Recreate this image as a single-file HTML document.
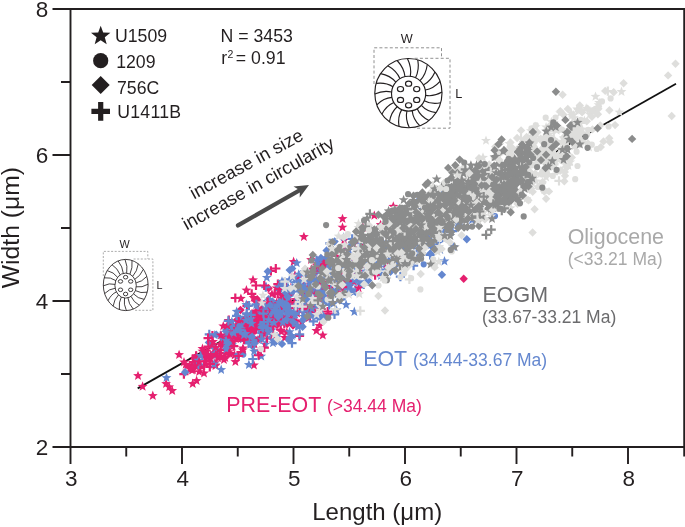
<!DOCTYPE html>
<html><head><meta charset="utf-8"><title>Width vs Length</title>
<style>
html,body{margin:0;padding:0;background:#fff;}
body{width:685px;height:527px;overflow:hidden;}
svg{display:block;}
text{font-family:"Liberation Sans",Arial,sans-serif;fill:#231f20;}
</style></head><body>
<svg width="685" height="527" viewBox="0 0 685 527">
<rect width="685" height="527" fill="#fff"/>
<!-- regression line -->
<line x1="137.7" y1="388.4" x2="676" y2="83.7" stroke="#111" stroke-width="1.8"/>
<!-- data -->
<path fill="#e5206f" d="M338.0 259.0L339.3 262.4L343.0 262.5L340.1 264.8L341.1 268.4L338.0 266.3L335.0 268.4L336.0 264.8L333.1 262.5L336.7 262.4ZM271.7 305.2L275.9 309.4L271.7 313.6L267.5 309.4ZM226.9 339.4L228.1 342.8L231.8 343.0L228.9 345.3L229.9 348.8L226.9 346.8L223.8 348.8L224.8 345.3L221.9 343.0L225.6 342.8ZM224.5 353.4L228.7 357.6L224.5 361.8L220.3 357.6ZM286.8 327.1L288.1 330.5L291.7 330.7L288.9 333.0L289.8 336.5L286.8 334.5L283.7 336.5L284.7 333.0L281.8 330.7L285.5 330.5ZM265.9 306.7a3.1 3.1 0 1 1 6.2 0a3.1 3.1 0 1 1 -6.2 0ZM227.7 315.4h2.2v3.5h3.5v2.2h-3.5v3.5h-2.2v-3.5h-3.5v-2.2h3.5ZM279.5 308.6L283.7 312.8L279.5 317.0L275.3 312.8ZM295.9 315.9L297.1 319.3L300.8 319.5L297.9 321.7L298.9 325.3L295.9 323.2L292.8 325.3L293.8 321.7L290.9 319.5L294.6 319.3ZM249.5 323.9L250.8 327.4L254.4 327.5L251.6 329.8L252.5 333.3L249.5 331.3L246.4 333.3L247.4 329.8L244.5 327.5L248.2 327.4ZM250.5 317.5L251.8 321.0L255.4 321.1L252.6 323.4L253.5 326.9L250.5 324.9L247.4 326.9L248.4 323.4L245.5 321.1L249.2 321.0ZM335.4 251.4h2.2v3.5h3.5v2.2h-3.5v3.5h-2.2v-3.5h-3.5v-2.2h3.5ZM204.0 368.1L205.3 371.5L209.0 371.6L206.1 373.9L207.1 377.5L204.0 375.4L201.0 377.5L202.0 373.9L199.1 371.6L202.7 371.5ZM239.9 347.4h2.2v3.5h3.5v2.2h-3.5v3.5h-2.2v-3.5h-3.5v-2.2h3.5ZM326.6 306.9h2.2v3.5h3.5v2.2h-3.5v3.5h-2.2v-3.5h-3.5v-2.2h3.5ZM242.9 327.0L244.2 330.4L247.9 330.6L245.0 332.9L246.0 336.4L242.9 334.4L239.8 336.4L240.8 332.9L238.0 330.6L241.6 330.4ZM232.6 336.4L233.9 339.9L237.5 340.0L234.6 342.3L235.6 345.9L232.6 343.8L229.5 345.9L230.5 342.3L227.6 340.0L231.3 339.9ZM232.6 341.3L233.9 344.8L237.6 344.9L234.7 347.2L235.7 350.8L232.6 348.7L229.6 350.8L230.5 347.2L227.7 344.9L231.3 344.8ZM218.4 351.5L219.6 354.9L223.3 355.1L220.4 357.3L221.4 360.9L218.4 358.8L215.3 360.9L216.3 357.3L213.4 355.1L217.1 354.9ZM251.2 331.6a3.1 3.1 0 1 1 6.2 0a3.1 3.1 0 1 1 -6.2 0ZM324.9 276.0L326.2 279.4L329.9 279.6L327.0 281.9L328.0 285.4L324.9 283.4L321.9 285.4L322.9 281.9L320.0 279.6L323.6 279.4ZM325.6 264.4L326.9 267.9L330.6 268.0L327.7 270.3L328.7 273.8L325.6 271.8L322.6 273.8L323.5 270.3L320.7 268.0L324.3 267.9ZM235.1 323.2L236.4 326.6L240.1 326.8L237.2 329.1L238.2 332.6L235.1 330.6L232.1 332.6L233.0 329.1L230.2 326.8L233.8 326.6ZM261.5 309.5L262.8 313.0L266.5 313.1L263.6 315.4L264.6 318.9L261.5 316.9L258.5 318.9L259.5 315.4L256.6 313.1L260.3 313.0ZM432.9 221.1L437.1 225.3L432.9 229.5L428.7 225.3ZM254.5 320.6L255.8 324.1L259.5 324.2L256.6 326.5L257.6 330.0L254.5 328.0L251.5 330.0L252.4 326.5L249.6 324.2L253.2 324.1ZM274.7 263.9h2.2v3.5h3.5v2.2h-3.5v3.5h-2.2v-3.5h-3.5v-2.2h3.5ZM279.1 296.6L280.4 300.0L284.1 300.2L281.2 302.4L282.2 306.0L279.1 303.9L276.1 306.0L277.1 302.4L274.2 300.2L277.9 300.0ZM278.7 285.5L279.9 288.9L283.6 289.1L280.7 291.4L281.7 294.9L278.7 292.9L275.6 294.9L276.6 291.4L273.7 289.1L277.4 288.9ZM282.6 299.7h2.2v3.5h3.5v2.2h-3.5v3.5h-2.2v-3.5h-3.5v-2.2h3.5ZM294.4 300.5h2.2v3.5h3.5v2.2h-3.5v3.5h-2.2v-3.5h-3.5v-2.2h3.5ZM219.7 345.2h2.2v3.5h3.5v2.2h-3.5v3.5h-2.2v-3.5h-3.5v-2.2h3.5ZM250.6 337.1h2.2v3.5h3.5v2.2h-3.5v3.5h-2.2v-3.5h-3.5v-2.2h3.5ZM293.6 256.6L294.9 260.0L298.5 260.2L295.7 262.5L296.6 266.0L293.6 264.0L290.5 266.0L291.5 262.5L288.6 260.2L292.3 260.0ZM233.0 334.3L234.3 337.7L238.0 337.9L235.1 340.1L236.1 343.7L233.0 341.6L230.0 343.7L230.9 340.1L228.1 337.9L231.7 337.7ZM194.5 354.1h2.2v3.5h3.5v2.2h-3.5v3.5h-2.2v-3.5h-3.5v-2.2h3.5ZM316.0 296.1L320.2 300.3L316.0 304.5L311.8 300.3ZM356.7 255.6a3.1 3.1 0 1 1 6.2 0a3.1 3.1 0 1 1 -6.2 0ZM300.8 280.2L302.1 283.6L305.8 283.8L302.9 286.0L303.9 289.6L300.8 287.6L297.8 289.6L298.7 286.0L295.9 283.8L299.5 283.6ZM305.4 297.4L306.7 300.9L310.3 301.0L307.5 303.3L308.4 306.8L305.4 304.8L302.3 306.8L303.3 303.3L300.4 301.0L304.1 300.9ZM303.3 295.4h2.2v3.5h3.5v2.2h-3.5v3.5h-2.2v-3.5h-3.5v-2.2h3.5ZM254.0 335.5L255.3 338.9L259.0 339.1L256.1 341.4L257.1 344.9L254.0 342.9L251.0 344.9L252.0 341.4L249.1 339.1L252.8 338.9ZM259.3 322.2L263.5 326.4L259.3 330.6L255.1 326.4ZM242.9 322.7h2.2v3.5h3.5v2.2h-3.5v3.5h-2.2v-3.5h-3.5v-2.2h3.5ZM278.2 304.2L279.5 307.6L283.2 307.8L280.3 310.0L281.3 313.6L278.2 311.6L275.2 313.6L276.1 310.0L273.3 307.8L276.9 307.6ZM358.6 269.1L359.9 272.6L363.6 272.7L360.7 275.0L361.7 278.5L358.6 276.5L355.6 278.5L356.6 275.0L353.7 272.7L357.4 272.6ZM290.7 282.7L292.0 286.2L295.6 286.3L292.7 288.6L293.7 292.1L290.7 290.1L287.6 292.1L288.6 288.6L285.7 286.3L289.4 286.2ZM353.9 276.3L355.2 279.7L358.8 279.9L356.0 282.2L357.0 285.7L353.9 283.7L350.8 285.7L351.8 282.2L349.0 279.9L352.6 279.7ZM268.6 284.0L272.8 288.2L268.6 292.4L264.4 288.2ZM194.3 353.6L195.6 357.0L199.2 357.2L196.4 359.5L197.3 363.0L194.3 361.0L191.2 363.0L192.2 359.5L189.3 357.2L193.0 357.0ZM270.1 307.7h2.2v3.5h3.5v2.2h-3.5v3.5h-2.2v-3.5h-3.5v-2.2h3.5ZM326.8 261.0h2.2v3.5h3.5v2.2h-3.5v3.5h-2.2v-3.5h-3.5v-2.2h3.5ZM237.2 316.0h2.2v3.5h3.5v2.2h-3.5v3.5h-2.2v-3.5h-3.5v-2.2h3.5ZM348.9 267.6L350.1 271.1L353.8 271.2L350.9 273.5L351.9 277.0L348.9 275.0L345.8 277.0L346.8 273.5L343.9 271.2L347.6 271.1ZM250.3 322.1h2.2v3.5h3.5v2.2h-3.5v3.5h-2.2v-3.5h-3.5v-2.2h3.5ZM350.4 270.0L351.6 273.4L355.3 273.6L352.4 275.9L353.4 279.4L350.4 277.4L347.3 279.4L348.3 275.9L345.4 273.6L349.1 273.4ZM317.0 260.6L318.2 264.1L321.9 264.2L319.0 266.5L320.0 270.0L317.0 268.0L313.9 270.0L314.9 266.5L312.0 264.2L315.7 264.1ZM262.6 308.3L263.9 311.7L267.5 311.9L264.7 314.2L265.6 317.7L262.6 315.7L259.5 317.7L260.5 314.2L257.6 311.9L261.3 311.7ZM229.9 333.5h2.2v3.5h3.5v2.2h-3.5v3.5h-2.2v-3.5h-3.5v-2.2h3.5ZM332.1 281.0L333.4 284.4L337.1 284.6L334.2 286.9L335.2 290.4L332.1 288.4L329.1 290.4L330.0 286.9L327.2 284.6L330.8 284.4ZM288.4 304.1L289.7 307.5L293.4 307.7L290.5 310.0L291.5 313.5L288.4 311.5L285.4 313.5L286.3 310.0L283.5 307.7L287.1 307.5ZM195.5 359.6L199.7 363.8L195.5 368.0L191.3 363.8ZM269.1 303.7L270.4 307.1L274.1 307.3L271.2 309.6L272.2 313.1L269.1 311.1L266.1 313.1L267.1 309.6L264.2 307.3L267.9 307.1ZM283.2 318.7h2.2v3.5h3.5v2.2h-3.5v3.5h-2.2v-3.5h-3.5v-2.2h3.5ZM281.4 326.7L282.7 330.1L286.4 330.3L283.5 332.5L284.5 336.1L281.4 334.0L278.4 336.1L279.4 332.5L276.5 330.3L280.2 330.1ZM282.1 293.0L283.4 296.4L287.1 296.6L284.2 298.9L285.2 302.4L282.1 300.4L279.1 302.4L280.1 298.9L277.2 296.6L280.9 296.4ZM208.7 362.2h2.2v3.5h3.5v2.2h-3.5v3.5h-2.2v-3.5h-3.5v-2.2h3.5ZM301.7 292.4h2.2v3.5h3.5v2.2h-3.5v3.5h-2.2v-3.5h-3.5v-2.2h3.5ZM249.3 311.3L250.6 314.8L254.2 314.9L251.3 317.2L252.3 320.7L249.3 318.7L246.2 320.7L247.2 317.2L244.3 314.9L248.0 314.8ZM265.9 333.9h2.2v3.5h3.5v2.2h-3.5v3.5h-2.2v-3.5h-3.5v-2.2h3.5ZM291.1 317.7L295.3 321.9L291.1 326.1L286.9 321.9ZM277.1 320.7L281.3 324.9L277.1 329.1L272.9 324.9ZM250.1 327.9L251.4 331.3L255.1 331.5L252.2 333.8L253.2 337.3L250.1 335.3L247.1 337.3L248.1 333.8L245.2 331.5L248.9 331.3ZM253.0 274.8L254.3 278.2L258.0 278.4L255.1 280.7L256.1 284.2L253.0 282.2L250.0 284.2L250.9 280.7L248.1 278.4L251.7 278.2ZM321.0 260.6h2.2v3.5h3.5v2.2h-3.5v3.5h-2.2v-3.5h-3.5v-2.2h3.5ZM303.2 303.6L304.4 307.1L308.1 307.2L305.2 309.5L306.2 313.1L303.2 311.0L300.1 313.1L301.1 309.5L298.2 307.2L301.9 307.1ZM320.7 255.7h2.2v3.5h3.5v2.2h-3.5v3.5h-2.2v-3.5h-3.5v-2.2h3.5ZM248.5 327.1L249.7 330.5L253.4 330.7L250.5 333.0L251.5 336.5L248.5 334.5L245.4 336.5L246.4 333.0L243.5 330.7L247.2 330.5ZM231.5 323.4h2.2v3.5h3.5v2.2h-3.5v3.5h-2.2v-3.5h-3.5v-2.2h3.5ZM236.9 331.2L238.1 334.6L241.8 334.7L238.9 337.0L239.9 340.6L236.9 338.5L233.8 340.6L234.8 337.0L231.9 334.7L235.6 334.6ZM340.2 256.3L341.5 259.7L345.1 259.9L342.3 262.2L343.2 265.7L340.2 263.7L337.1 265.7L338.1 262.2L335.2 259.9L338.9 259.7ZM211.3 331.0h2.2v3.5h3.5v2.2h-3.5v3.5h-2.2v-3.5h-3.5v-2.2h3.5ZM285.0 281.6h2.2v3.5h3.5v2.2h-3.5v3.5h-2.2v-3.5h-3.5v-2.2h3.5ZM362.3 243.6L363.6 247.1L367.3 247.2L364.4 249.5L365.4 253.0L362.3 251.0L359.3 253.0L360.3 249.5L357.4 247.2L361.1 247.1ZM325.4 279.1L326.6 282.6L330.3 282.7L327.4 285.0L328.4 288.5L325.4 286.5L322.3 288.5L323.3 285.0L320.4 282.7L324.1 282.6ZM272.0 302.4L273.3 305.8L277.0 306.0L274.1 308.3L275.1 311.8L272.0 309.8L269.0 311.8L269.9 308.3L267.1 306.0L270.7 305.8ZM253.4 322.1L254.6 325.5L258.3 325.7L255.4 328.0L256.4 331.5L253.4 329.5L250.3 331.5L251.3 328.0L248.4 325.7L252.1 325.5ZM253.6 292.5L254.9 295.9L258.5 296.1L255.7 298.4L256.6 301.9L253.6 299.9L250.5 301.9L251.5 298.4L248.6 296.1L252.3 295.9ZM242.0 326.8L243.3 330.3L246.9 330.4L244.1 332.7L245.0 336.2L242.0 334.2L238.9 336.2L239.9 332.7L237.0 330.4L240.7 330.3ZM319.5 320.6L320.8 324.0L324.4 324.2L321.6 326.5L322.5 330.0L319.5 328.0L316.4 330.0L317.4 326.5L314.5 324.2L318.2 324.0ZM240.9 316.0h2.2v3.5h3.5v2.2h-3.5v3.5h-2.2v-3.5h-3.5v-2.2h3.5ZM202.5 343.5L203.8 346.9L207.4 347.1L204.6 349.4L205.5 352.9L202.5 350.9L199.4 352.9L200.4 349.4L197.5 347.1L201.2 346.9ZM206.8 346.1L208.1 349.5L211.8 349.7L208.9 351.9L209.9 355.5L206.8 353.5L203.8 355.5L204.8 351.9L201.9 349.7L205.5 349.5ZM279.1 298.4L280.3 301.8L284.0 302.0L281.1 304.3L282.1 307.8L279.1 305.8L276.0 307.8L277.0 304.3L274.1 302.0L277.8 301.8ZM240.2 329.6L241.5 333.0L245.2 333.2L242.3 335.4L243.3 339.0L240.2 336.9L237.2 339.0L238.1 335.4L235.3 333.2L238.9 333.0ZM374.3 210.4L375.6 213.8L379.3 214.0L376.4 216.3L377.4 219.8L374.3 217.8L371.3 219.8L372.2 216.3L369.4 214.0L373.0 213.8ZM313.5 288.1L317.7 292.3L313.5 296.5L309.3 292.3ZM282.2 311.1L283.5 314.5L287.2 314.7L284.3 317.0L285.3 320.5L282.2 318.5L279.2 320.5L280.1 317.0L277.3 314.7L280.9 314.5ZM286.6 292.0L290.8 296.2L286.6 300.4L282.4 296.2ZM405.8 232.2L407.1 235.6L410.8 235.8L407.9 238.1L408.9 241.6L405.8 239.6L402.8 241.6L403.8 238.1L400.9 235.8L404.6 235.6ZM284.7 332.5L286.0 335.9L289.7 336.1L286.8 338.3L287.8 341.9L284.7 339.9L281.7 341.9L282.6 338.3L279.8 336.1L283.4 335.9ZM217.1 350.7h2.2v3.5h3.5v2.2h-3.5v3.5h-2.2v-3.5h-3.5v-2.2h3.5ZM404.1 234.7L405.4 238.2L409.1 238.3L406.2 240.6L407.2 244.1L404.1 242.1L401.1 244.1L402.1 240.6L399.2 238.3L402.8 238.2ZM182.8 369.5h2.2v3.5h3.5v2.2h-3.5v3.5h-2.2v-3.5h-3.5v-2.2h3.5ZM225.0 334.6h2.2v3.5h3.5v2.2h-3.5v3.5h-2.2v-3.5h-3.5v-2.2h3.5ZM367.1 234.5h2.2v3.5h3.5v2.2h-3.5v3.5h-2.2v-3.5h-3.5v-2.2h3.5ZM191.9 365.1L193.2 368.6L196.9 368.7L194.0 371.0L195.0 374.5L191.9 372.5L188.9 374.5L189.9 371.0L187.0 368.7L190.7 368.6ZM323.8 286.5L328.0 290.7L323.8 294.9L319.6 290.7ZM323.5 295.6L327.7 299.8L323.5 304.0L319.3 299.8ZM210.6 353.3L211.9 356.8L215.5 356.9L212.6 359.2L213.6 362.7L210.6 360.7L207.5 362.7L208.5 359.2L205.6 356.9L209.3 356.8ZM267.2 315.1L268.5 318.6L272.1 318.7L269.3 321.0L270.3 324.6L267.2 322.5L264.1 324.6L265.1 321.0L262.3 318.7L265.9 318.6ZM273.6 306.8L274.9 310.2L278.6 310.4L275.7 312.7L276.7 316.2L273.6 314.2L270.6 316.2L271.5 312.7L268.7 310.4L272.3 310.2ZM344.0 235.2L345.3 238.7L349.0 238.8L346.1 241.1L347.1 244.6L344.0 242.6L341.0 244.6L342.0 241.1L339.1 238.8L342.8 238.7ZM284.7 292.3L286.0 295.8L289.6 295.9L286.8 298.2L287.7 301.8L284.7 299.7L281.6 301.8L282.6 298.2L279.7 295.9L283.4 295.8ZM271.9 289.0L273.2 292.4L276.9 292.5L274.0 294.8L275.0 298.4L271.9 296.3L268.9 298.4L269.9 294.8L267.0 292.5L270.7 292.4ZM276.6 289.4h2.2v3.5h3.5v2.2h-3.5v3.5h-2.2v-3.5h-3.5v-2.2h3.5ZM208.0 345.7a3.1 3.1 0 1 1 6.2 0a3.1 3.1 0 1 1 -6.2 0ZM214.3 347.7L215.6 351.2L219.3 351.3L216.4 353.6L217.4 357.1L214.3 355.1L211.3 357.1L212.3 353.6L209.4 351.3L213.1 351.2ZM316.4 325.5L317.7 329.0L321.3 329.1L318.5 331.4L319.4 334.9L316.4 332.9L313.3 334.9L314.3 331.4L311.4 329.1L315.1 329.0ZM212.6 349.3L213.8 352.7L217.5 352.9L214.6 355.2L215.6 358.7L212.6 356.7L209.5 358.7L210.5 355.2L207.6 352.9L211.3 352.7ZM362.8 222.3L364.1 225.7L367.8 225.9L364.9 228.2L365.9 231.7L362.8 229.7L359.8 231.7L360.7 228.2L357.9 225.9L361.5 225.7ZM260.4 308.7L261.6 312.1L265.3 312.2L262.4 314.5L263.4 318.1L260.4 316.0L257.3 318.1L258.3 314.5L255.4 312.2L259.1 312.1ZM385.7 260.9L389.9 265.1L385.7 269.3L381.5 265.1ZM188.0 363.1h2.2v3.5h3.5v2.2h-3.5v3.5h-2.2v-3.5h-3.5v-2.2h3.5ZM196.4 350.7L197.6 354.1L201.3 354.3L198.4 356.6L199.4 360.1L196.4 358.1L193.3 360.1L194.3 356.6L191.4 354.3L195.1 354.1ZM235.3 322.9h2.2v3.5h3.5v2.2h-3.5v3.5h-2.2v-3.5h-3.5v-2.2h3.5Z"/>
<path fill="#6487cf" d="M286.9 303.0a3.1 3.1 0 1 1 6.2 0a3.1 3.1 0 1 1 -6.2 0ZM271.5 333.5L275.7 337.7L271.5 341.9L267.3 337.7ZM252.7 342.2L256.9 346.4L252.7 350.6L248.5 346.4ZM298.3 293.5L302.5 297.7L298.3 301.9L294.1 297.7ZM285.4 290.7h2.2v3.5h3.5v2.2h-3.5v3.5h-2.2v-3.5h-3.5v-2.2h3.5ZM289.4 299.2h2.2v3.5h3.5v2.2h-3.5v3.5h-2.2v-3.5h-3.5v-2.2h3.5ZM340.6 265.5L341.8 269.0L345.5 269.1L342.6 271.4L343.6 275.0L340.6 272.9L337.5 275.0L338.5 271.4L335.6 269.1L339.3 269.0ZM358.9 238.6h2.2v3.5h3.5v2.2h-3.5v3.5h-2.2v-3.5h-3.5v-2.2h3.5ZM382.3 258.2L383.6 261.6L387.3 261.8L384.4 264.1L385.4 267.6L382.3 265.6L379.3 267.6L380.2 264.1L377.4 261.8L381.0 261.6ZM281.4 295.6a3.1 3.1 0 1 1 6.2 0a3.1 3.1 0 1 1 -6.2 0ZM448.4 190.6L449.7 194.0L453.4 194.2L450.5 196.5L451.5 200.0L448.4 198.0L445.4 200.0L446.4 196.5L443.5 194.2L447.1 194.0ZM279.0 280.0L280.3 283.5L284.0 283.6L281.1 285.9L282.1 289.5L279.0 287.4L276.0 289.5L277.0 285.9L274.1 283.6L277.8 283.5ZM413.6 239.3L414.9 242.7L418.5 242.9L415.6 245.1L416.6 248.7L413.6 246.7L410.5 248.7L411.5 245.1L408.6 242.9L412.3 242.7ZM290.5 306.2L291.8 309.6L295.4 309.8L292.6 312.0L293.5 315.6L290.5 313.6L287.4 315.6L288.4 312.0L285.5 309.8L289.2 309.6ZM232.1 339.6L233.4 343.0L237.0 343.2L234.2 345.5L235.2 349.0L232.1 347.0L229.0 349.0L230.0 345.5L227.2 343.2L230.8 343.0ZM317.6 283.3h2.2v3.5h3.5v2.2h-3.5v3.5h-2.2v-3.5h-3.5v-2.2h3.5ZM240.3 329.9L244.5 334.1L240.3 338.3L236.1 334.1ZM374.3 263.5a3.1 3.1 0 1 1 6.2 0a3.1 3.1 0 1 1 -6.2 0ZM343.1 283.5h2.2v3.5h3.5v2.2h-3.5v3.5h-2.2v-3.5h-3.5v-2.2h3.5ZM269.3 303.8L270.6 307.3L274.3 307.4L271.4 309.7L272.4 313.2L269.3 311.2L266.3 313.2L267.3 309.7L264.4 307.4L268.0 307.3ZM219.6 331.2h2.2v3.5h3.5v2.2h-3.5v3.5h-2.2v-3.5h-3.5v-2.2h3.5ZM290.2 308.4L291.5 311.9L295.1 312.0L292.3 314.3L293.3 317.8L290.2 315.8L287.1 317.8L288.1 314.3L285.2 312.0L288.9 311.9ZM423.4 232.8h2.2v3.5h3.5v2.2h-3.5v3.5h-2.2v-3.5h-3.5v-2.2h3.5ZM404.6 227.7L405.9 231.2L409.5 231.3L406.6 233.6L407.6 237.1L404.6 235.1L401.5 237.1L402.5 233.6L399.6 231.3L403.3 231.2ZM371.7 265.1L373.0 268.6L376.7 268.7L373.8 271.0L374.8 274.5L371.7 272.5L368.7 274.5L369.6 271.0L366.8 268.7L370.4 268.6ZM370.9 266.5L372.2 269.9L375.9 270.0L373.0 272.3L374.0 275.9L370.9 273.8L367.8 275.9L368.8 272.3L366.0 270.0L369.6 269.9ZM379.2 245.6h2.2v3.5h3.5v2.2h-3.5v3.5h-2.2v-3.5h-3.5v-2.2h3.5ZM333.7 288.9a3.1 3.1 0 1 1 6.2 0a3.1 3.1 0 1 1 -6.2 0ZM307.8 283.8L309.0 287.2L312.7 287.4L309.8 289.7L310.8 293.2L307.8 291.2L304.7 293.2L305.7 289.7L302.8 287.4L306.5 287.2ZM300.0 301.8a3.1 3.1 0 1 1 6.2 0a3.1 3.1 0 1 1 -6.2 0ZM324.1 285.5h2.2v3.5h3.5v2.2h-3.5v3.5h-2.2v-3.5h-3.5v-2.2h3.5ZM340.9 278.6h2.2v3.5h3.5v2.2h-3.5v3.5h-2.2v-3.5h-3.5v-2.2h3.5ZM284.4 314.3L285.7 317.7L289.3 317.9L286.4 320.1L287.4 323.7L284.4 321.7L281.3 323.7L282.3 320.1L279.4 317.9L283.1 317.7ZM277.0 332.1L281.2 336.3L277.0 340.5L272.8 336.3ZM285.5 294.9L289.7 299.1L285.5 303.3L281.3 299.1ZM373.1 249.1h2.2v3.5h3.5v2.2h-3.5v3.5h-2.2v-3.5h-3.5v-2.2h3.5ZM344.5 252.0L345.8 255.4L349.5 255.6L346.6 257.9L347.6 261.4L344.5 259.4L341.5 261.4L342.5 257.9L339.6 255.6L343.3 255.4ZM333.2 258.5L337.4 262.7L333.2 266.9L329.0 262.7ZM216.0 348.1L217.3 351.5L220.9 351.7L218.1 354.0L219.0 357.5L216.0 355.5L212.9 357.5L213.9 354.0L211.0 351.7L214.7 351.5ZM273.3 305.8L274.6 309.2L278.2 309.4L275.4 311.7L276.3 315.2L273.3 313.2L270.2 315.2L271.2 311.7L268.3 309.4L272.0 309.2ZM333.4 309.7h2.2v3.5h3.5v2.2h-3.5v3.5h-2.2v-3.5h-3.5v-2.2h3.5ZM381.8 259.5L386.0 263.7L381.8 267.9L377.6 263.7ZM277.5 303.9L278.8 307.3L282.4 307.5L279.6 309.7L280.5 313.3L277.5 311.2L274.4 313.3L275.4 309.7L272.5 307.5L276.2 307.3ZM261.4 328.8L262.7 332.3L266.3 332.4L263.5 334.7L264.4 338.2L261.4 336.2L258.3 338.2L259.3 334.7L256.4 332.4L260.1 332.3ZM423.0 228.3L424.3 231.7L428.0 231.9L425.1 234.1L426.1 237.7L423.0 235.6L420.0 237.7L421.0 234.1L418.1 231.9L421.8 231.7ZM275.0 312.2h2.2v3.5h3.5v2.2h-3.5v3.5h-2.2v-3.5h-3.5v-2.2h3.5ZM306.4 284.3h2.2v3.5h3.5v2.2h-3.5v3.5h-2.2v-3.5h-3.5v-2.2h3.5ZM380.9 270.7L382.2 274.1L385.8 274.3L383.0 276.6L383.9 280.1L380.9 278.1L377.8 280.1L378.8 276.6L375.9 274.3L379.6 274.1ZM325.4 275.1a3.1 3.1 0 1 1 6.2 0a3.1 3.1 0 1 1 -6.2 0ZM326.3 282.8L327.6 286.2L331.2 286.4L328.4 288.6L329.4 292.2L326.3 290.2L323.2 292.2L324.2 288.6L321.4 286.4L325.0 286.2ZM283.9 306.1L285.2 309.5L288.8 309.6L286.0 311.9L287.0 315.5L283.9 313.4L280.8 315.5L281.8 311.9L279.0 309.6L282.6 309.5ZM318.0 283.5L319.3 286.9L323.0 287.1L320.1 289.3L321.1 292.9L318.0 290.8L315.0 292.9L315.9 289.3L313.1 287.1L316.7 286.9ZM304.2 289.3h2.2v3.5h3.5v2.2h-3.5v3.5h-2.2v-3.5h-3.5v-2.2h3.5ZM368.6 267.7L372.8 271.9L368.6 276.1L364.4 271.9ZM260.1 303.9L261.3 307.3L265.0 307.5L262.1 309.7L263.1 313.3L260.1 311.2L257.0 313.3L258.0 309.7L255.1 307.5L258.8 307.3ZM307.4 295.2L311.6 299.4L307.4 303.6L303.2 299.4ZM296.4 307.3L297.7 310.8L301.4 310.9L298.5 313.2L299.5 316.7L296.4 314.7L293.4 316.7L294.4 313.2L291.5 310.9L295.1 310.8ZM381.4 249.6h2.2v3.5h3.5v2.2h-3.5v3.5h-2.2v-3.5h-3.5v-2.2h3.5ZM492.7 177.4L493.9 180.9L497.6 181.0L494.7 183.3L495.7 186.8L492.7 184.8L489.6 186.8L490.6 183.3L487.7 181.0L491.4 180.9ZM312.7 294.3L316.9 298.5L312.7 302.7L308.5 298.5ZM350.2 280.7L351.5 284.1L355.2 284.3L352.3 286.6L353.3 290.1L350.2 288.1L347.2 290.1L348.1 286.6L345.3 284.3L348.9 284.1ZM353.4 287.1L354.7 290.5L358.3 290.7L355.5 292.9L356.5 296.5L353.4 294.5L350.3 296.5L351.3 292.9L348.5 290.7L352.1 290.5ZM312.0 290.8L313.3 294.2L317.0 294.4L314.1 296.7L315.1 300.2L312.0 298.2L309.0 300.2L310.0 296.7L307.1 294.4L310.8 294.2ZM314.2 285.0L315.5 288.4L319.2 288.6L316.3 290.9L317.3 294.4L314.2 292.4L311.2 294.4L312.2 290.9L309.3 288.6L313.0 288.4ZM259.8 325.1L261.1 328.6L264.8 328.7L261.9 331.0L262.9 334.5L259.8 332.5L256.8 334.5L257.7 331.0L254.9 328.7L258.5 328.6ZM262.3 309.6a3.1 3.1 0 1 1 6.2 0a3.1 3.1 0 1 1 -6.2 0ZM302.5 296.5L303.8 299.9L307.4 300.0L304.6 302.3L305.5 305.9L302.5 303.8L299.4 305.9L300.4 302.3L297.5 300.0L301.2 299.9ZM215.0 344.0L219.2 348.2L215.0 352.4L210.8 348.2ZM437.3 238.5L438.6 241.9L442.3 242.1L439.4 244.4L440.4 247.9L437.3 245.9L434.3 247.9L435.3 244.4L432.4 242.1L436.1 241.9ZM379.7 255.4a3.1 3.1 0 1 1 6.2 0a3.1 3.1 0 1 1 -6.2 0ZM333.3 298.6L334.6 302.0L338.3 302.2L335.4 304.4L336.4 308.0L333.3 306.0L330.3 308.0L331.3 304.4L328.4 302.2L332.1 302.0ZM416.0 241.1L417.3 244.5L420.9 244.7L418.0 247.0L419.0 250.5L416.0 248.5L412.9 250.5L413.9 247.0L411.0 244.7L414.7 244.5ZM439.6 187.9h2.2v3.5h3.5v2.2h-3.5v3.5h-2.2v-3.5h-3.5v-2.2h3.5ZM266.3 323.4a3.1 3.1 0 1 1 6.2 0a3.1 3.1 0 1 1 -6.2 0ZM261.2 351.2L262.5 354.6L266.1 354.8L263.3 357.1L264.3 360.6L261.2 358.6L258.1 360.6L259.1 357.1L256.3 354.8L259.9 354.6ZM226.2 325.8L230.4 330.0L226.2 334.2L222.0 330.0ZM421.7 242.0h2.2v3.5h3.5v2.2h-3.5v3.5h-2.2v-3.5h-3.5v-2.2h3.5ZM390.5 267.5L394.7 271.7L390.5 275.9L386.3 271.7ZM318.3 276.7L319.6 280.2L323.2 280.3L320.4 282.6L321.3 286.1L318.3 284.1L315.2 286.1L316.2 282.6L313.3 280.3L317.0 280.2ZM256.6 307.1a3.1 3.1 0 1 1 6.2 0a3.1 3.1 0 1 1 -6.2 0ZM392.4 265.3a3.1 3.1 0 1 1 6.2 0a3.1 3.1 0 1 1 -6.2 0ZM440.7 193.1L442.0 196.5L445.6 196.7L442.8 199.0L443.7 202.5L440.7 200.5L437.6 202.5L438.6 199.0L435.7 196.7L439.4 196.5ZM394.7 256.6L396.0 260.0L399.6 260.2L396.8 262.5L397.8 266.0L394.7 264.0L391.6 266.0L392.6 262.5L389.8 260.2L393.4 260.0ZM334.6 237.3L338.8 241.5L334.6 245.7L330.4 241.5ZM354.3 264.6h2.2v3.5h3.5v2.2h-3.5v3.5h-2.2v-3.5h-3.5v-2.2h3.5ZM305.7 307.7h2.2v3.5h3.5v2.2h-3.5v3.5h-2.2v-3.5h-3.5v-2.2h3.5ZM325.2 296.0L326.5 299.4L330.1 299.6L327.3 301.9L328.2 305.4L325.2 303.4L322.1 305.4L323.1 301.9L320.2 299.6L323.9 299.4ZM441.3 227.7L442.6 231.2L446.2 231.3L443.4 233.6L444.3 237.1L441.3 235.1L438.2 237.1L439.2 233.6L436.3 231.3L440.0 231.2ZM343.1 278.1L344.3 281.6L348.0 281.7L345.1 284.0L346.1 287.5L343.1 285.5L340.0 287.5L341.0 284.0L338.1 281.7L341.8 281.6ZM361.9 280.3L366.1 284.5L361.9 288.7L357.7 284.5ZM288.6 299.7h2.2v3.5h3.5v2.2h-3.5v3.5h-2.2v-3.5h-3.5v-2.2h3.5ZM399.3 230.8L400.5 234.3L404.2 234.4L401.3 236.7L402.3 240.2L399.3 238.2L396.2 240.2L397.2 236.7L394.3 234.4L398.0 234.3ZM288.0 290.9h2.2v3.5h3.5v2.2h-3.5v3.5h-2.2v-3.5h-3.5v-2.2h3.5ZM499.2 194.7L500.5 198.2L504.2 198.3L501.3 200.6L502.3 204.1L499.2 202.1L496.2 204.1L497.2 200.6L494.3 198.3L497.9 198.2ZM306.5 304.9L307.8 308.4L311.5 308.5L308.6 310.8L309.6 314.3L306.5 312.3L303.5 314.3L304.4 310.8L301.6 308.5L305.2 308.4ZM420.2 204.6h2.2v3.5h3.5v2.2h-3.5v3.5h-2.2v-3.5h-3.5v-2.2h3.5ZM394.1 252.2h2.2v3.5h3.5v2.2h-3.5v3.5h-2.2v-3.5h-3.5v-2.2h3.5ZM281.1 296.9L282.4 300.3L286.1 300.5L283.2 302.7L284.2 306.3L281.1 304.2L278.0 306.3L279.0 302.7L276.2 300.5L279.8 300.3ZM280.5 283.1h2.2v3.5h3.5v2.2h-3.5v3.5h-2.2v-3.5h-3.5v-2.2h3.5ZM383.0 251.8L384.3 255.2L388.0 255.4L385.1 257.7L386.1 261.2L383.0 259.2L380.0 261.2L381.0 257.7L378.1 255.4L381.8 255.2ZM451.5 226.5h2.2v3.5h3.5v2.2h-3.5v3.5h-2.2v-3.5h-3.5v-2.2h3.5ZM415.8 247.2h2.2v3.5h3.5v2.2h-3.5v3.5h-2.2v-3.5h-3.5v-2.2h3.5ZM289.6 326.7L290.9 330.2L294.6 330.3L291.7 332.6L292.7 336.2L289.6 334.1L286.6 336.2L287.6 332.6L284.7 330.3L288.4 330.2ZM325.5 272.8L326.8 276.2L330.4 276.4L327.5 278.7L328.5 282.2L325.5 280.2L322.4 282.2L323.4 278.7L320.5 276.4L324.2 276.2ZM429.5 230.8L430.8 234.3L434.4 234.4L431.6 236.7L432.5 240.2L429.5 238.2L426.4 240.2L427.4 236.7L424.5 234.4L428.2 234.3ZM208.2 329.7h2.2v3.5h3.5v2.2h-3.5v3.5h-2.2v-3.5h-3.5v-2.2h3.5ZM376.3 252.6L377.6 256.0L381.3 256.2L378.4 258.5L379.4 262.0L376.3 260.0L373.3 262.0L374.2 258.5L371.4 256.2L375.0 256.0ZM316.1 275.5L317.4 278.9L321.0 279.1L318.1 281.4L319.1 284.9L316.1 282.9L313.0 284.9L314.0 281.4L311.1 279.1L314.8 278.9ZM230.1 335.5h2.2v3.5h3.5v2.2h-3.5v3.5h-2.2v-3.5h-3.5v-2.2h3.5ZM273.0 337.8L274.3 341.3L277.9 341.4L275.1 343.7L276.1 347.2L273.0 345.2L269.9 347.2L270.9 343.7L268.1 341.4L271.7 341.3ZM354.3 285.3h2.2v3.5h3.5v2.2h-3.5v3.5h-2.2v-3.5h-3.5v-2.2h3.5ZM323.8 267.4L328.0 271.6L323.8 275.8L319.6 271.6ZM244.7 316.0L246.0 319.5L249.6 319.6L246.8 321.9L247.7 325.4L244.7 323.4L241.6 325.4L242.6 321.9L239.7 319.6L243.4 319.5ZM251.8 317.5L256.0 321.7L251.8 325.9L247.6 321.7ZM320.8 309.7h2.2v3.5h3.5v2.2h-3.5v3.5h-2.2v-3.5h-3.5v-2.2h3.5ZM231.9 316.6L233.1 320.1L236.8 320.2L233.9 322.5L234.9 326.0L231.9 324.0L228.8 326.0L229.8 322.5L226.9 320.2L230.6 320.1ZM260.6 317.0L261.9 320.4L265.5 320.6L262.7 322.8L263.6 326.4L260.6 324.3L257.5 326.4L258.5 322.8L255.6 320.6L259.3 320.4ZM293.1 313.4L294.4 316.9L298.0 317.0L295.2 319.3L296.1 322.8L293.1 320.8L290.0 322.8L291.0 319.3L288.1 317.0L291.8 316.9ZM440.3 244.5L441.6 248.0L445.2 248.1L442.4 250.4L443.3 253.9L440.3 251.9L437.2 253.9L438.2 250.4L435.3 248.1L439.0 248.0ZM364.1 242.0L368.3 246.2L364.1 250.4L359.9 246.2ZM284.1 296.0L285.4 299.5L289.0 299.6L286.2 301.9L287.2 305.5L284.1 303.4L281.0 305.5L282.0 301.9L279.2 299.6L282.8 299.5ZM302.2 308.5a3.1 3.1 0 1 1 6.2 0a3.1 3.1 0 1 1 -6.2 0ZM371.7 258.5L373.0 261.9L376.6 262.0L373.8 264.3L374.7 267.9L371.7 265.8L368.6 267.9L369.6 264.3L366.7 262.0L370.4 261.9ZM380.9 232.1L385.1 236.3L380.9 240.5L376.7 236.3ZM374.3 261.0L378.5 265.2L374.3 269.4L370.1 265.2ZM379.9 268.2L381.2 271.7L384.8 271.8L382.0 274.1L382.9 277.7L379.9 275.6L376.8 277.7L377.8 274.1L374.9 271.8L378.6 271.7ZM411.8 216.7h2.2v3.5h3.5v2.2h-3.5v3.5h-2.2v-3.5h-3.5v-2.2h3.5ZM310.6 293.1a3.1 3.1 0 1 1 6.2 0a3.1 3.1 0 1 1 -6.2 0ZM310.2 306.6h2.2v3.5h3.5v2.2h-3.5v3.5h-2.2v-3.5h-3.5v-2.2h3.5ZM364.6 246.1L365.9 249.5L369.5 249.7L366.7 252.0L367.6 255.5L364.6 253.5L361.5 255.5L362.5 252.0L359.6 249.7L363.3 249.5ZM283.8 296.6L285.1 300.0L288.8 300.2L285.9 302.5L286.9 306.0L283.8 304.0L280.8 306.0L281.7 302.5L278.9 300.2L282.5 300.0ZM349.3 264.1L350.6 267.6L354.2 267.7L351.4 270.0L352.4 273.6L349.3 271.5L346.2 273.6L347.2 270.0L344.4 267.7L348.0 267.6ZM338.1 256.6h2.2v3.5h3.5v2.2h-3.5v3.5h-2.2v-3.5h-3.5v-2.2h3.5ZM383.9 259.6L388.1 263.8L383.9 268.0L379.7 263.8ZM346.1 262.1L347.4 265.5L351.1 265.7L348.2 268.0L349.2 271.5L346.1 269.5L343.1 271.5L344.0 268.0L341.2 265.7L344.8 265.5ZM281.3 318.3L285.5 322.5L281.3 326.7L277.1 322.5ZM318.7 261.0L320.0 264.4L323.6 264.6L320.8 266.9L321.8 270.4L318.7 268.4L315.6 270.4L316.6 266.9L313.8 264.6L317.4 264.4ZM317.2 280.3L318.5 283.8L322.2 283.9L319.3 286.2L320.3 289.7L317.2 287.7L314.1 289.7L315.1 286.2L312.3 283.9L315.9 283.8ZM258.0 334.6L259.3 338.1L262.9 338.2L260.1 340.5L261.1 344.0L258.0 342.0L254.9 344.0L255.9 340.5L253.1 338.2L256.7 338.1ZM277.7 304.8h2.2v3.5h3.5v2.2h-3.5v3.5h-2.2v-3.5h-3.5v-2.2h3.5ZM240.2 354.6a3.1 3.1 0 1 1 6.2 0a3.1 3.1 0 1 1 -6.2 0ZM223.1 334.0L224.3 337.4L228.0 337.6L225.1 339.8L226.1 343.4L223.1 341.4L220.0 343.4L221.0 339.8L218.1 337.6L221.8 337.4ZM329.7 262.0L333.9 266.2L329.7 270.4L325.5 266.2ZM236.5 323.6h2.2v3.5h3.5v2.2h-3.5v3.5h-2.2v-3.5h-3.5v-2.2h3.5ZM303.0 299.1a3.1 3.1 0 1 1 6.2 0a3.1 3.1 0 1 1 -6.2 0ZM265.6 326.0h2.2v3.5h3.5v2.2h-3.5v3.5h-2.2v-3.5h-3.5v-2.2h3.5ZM349.4 284.7L350.7 288.1L354.3 288.3L351.5 290.6L352.4 294.1L349.4 292.1L346.3 294.1L347.3 290.6L344.4 288.3L348.1 288.1ZM316.5 284.3h2.2v3.5h3.5v2.2h-3.5v3.5h-2.2v-3.5h-3.5v-2.2h3.5ZM319.5 276.4L320.8 279.8L324.4 280.0L321.6 282.2L322.5 285.8L319.5 283.7L316.4 285.8L317.4 282.2L314.5 280.0L318.2 279.8ZM340.0 294.8h2.2v3.5h3.5v2.2h-3.5v3.5h-2.2v-3.5h-3.5v-2.2h3.5ZM304.9 275.9L306.2 279.4L309.9 279.5L307.0 281.8L308.0 285.3L304.9 283.3L301.9 285.3L302.8 281.8L300.0 279.5L303.6 279.4ZM337.1 265.1h2.2v3.5h3.5v2.2h-3.5v3.5h-2.2v-3.5h-3.5v-2.2h3.5ZM394.5 265.2h2.2v3.5h3.5v2.2h-3.5v3.5h-2.2v-3.5h-3.5v-2.2h3.5ZM318.9 296.0L320.2 299.4L323.9 299.6L321.0 301.9L322.0 305.4L318.9 303.4L315.9 305.4L316.9 301.9L314.0 299.6L317.7 299.4ZM296.4 272.4L297.7 275.8L301.3 276.0L298.5 278.3L299.4 281.8L296.4 279.8L293.3 281.8L294.3 278.3L291.4 276.0L295.1 275.8ZM407.0 236.5h2.2v3.5h3.5v2.2h-3.5v3.5h-2.2v-3.5h-3.5v-2.2h3.5ZM238.8 318.2L243.0 322.4L238.8 326.6L234.6 322.4ZM311.1 294.9L312.4 298.3L316.0 298.5L313.1 300.8L314.1 304.3L311.1 302.3L308.0 304.3L309.0 300.8L306.1 298.5L309.8 298.3ZM405.4 249.7L406.7 253.2L410.4 253.3L407.5 255.6L408.5 259.1L405.4 257.1L402.4 259.1L403.4 255.6L400.5 253.3L404.2 253.2ZM254.1 310.7h2.2v3.5h3.5v2.2h-3.5v3.5h-2.2v-3.5h-3.5v-2.2h3.5ZM253.5 321.3a3.1 3.1 0 1 1 6.2 0a3.1 3.1 0 1 1 -6.2 0ZM428.9 225.3h2.2v3.5h3.5v2.2h-3.5v3.5h-2.2v-3.5h-3.5v-2.2h3.5ZM334.9 267.4L339.1 271.6L334.9 275.8L330.7 271.6ZM390.0 239.3L391.3 242.7L394.9 242.9L392.1 245.2L393.1 248.7L390.0 246.7L386.9 248.7L387.9 245.2L385.1 242.9L388.7 242.7ZM359.1 270.2h2.2v3.5h3.5v2.2h-3.5v3.5h-2.2v-3.5h-3.5v-2.2h3.5ZM228.1 333.1h2.2v3.5h3.5v2.2h-3.5v3.5h-2.2v-3.5h-3.5v-2.2h3.5ZM372.0 251.2h2.2v3.5h3.5v2.2h-3.5v3.5h-2.2v-3.5h-3.5v-2.2h3.5ZM310.4 281.6L314.6 285.8L310.4 290.0L306.2 285.8ZM264.5 319.8L268.7 324.0L264.5 328.2L260.3 324.0ZM426.9 225.2L428.2 228.6L431.9 228.8L429.0 231.0L430.0 234.6L426.9 232.5L423.9 234.6L424.8 231.0L422.0 228.8L425.6 228.6ZM316.8 268.5h2.2v3.5h3.5v2.2h-3.5v3.5h-2.2v-3.5h-3.5v-2.2h3.5ZM416.1 222.7a3.1 3.1 0 1 1 6.2 0a3.1 3.1 0 1 1 -6.2 0ZM240.4 314.4L241.7 317.8L245.4 318.0L242.5 320.2L243.5 323.8L240.4 321.7L237.4 323.8L238.3 320.2L235.5 318.0L239.1 317.8ZM408.8 218.7L410.1 222.2L413.8 222.3L410.9 224.6L411.9 228.1L408.8 226.1L405.8 228.1L406.7 224.6L403.9 222.3L407.5 222.2ZM292.6 311.5L293.9 314.9L297.6 315.1L294.7 317.4L295.7 320.9L292.6 318.9L289.6 320.9L290.5 317.4L287.7 315.1L291.3 314.9ZM347.1 277.9L351.3 282.1L347.1 286.3L342.9 282.1ZM312.7 281.4L314.0 284.8L317.6 285.0L314.8 287.2L315.7 290.8L312.7 288.8L309.6 290.8L310.6 287.2L307.7 285.0L311.4 284.8ZM239.7 328.1L241.0 331.5L244.6 331.7L241.8 334.0L242.7 337.5L239.7 335.5L236.6 337.5L237.6 334.0L234.7 331.7L238.4 331.5ZM326.6 246.2L330.8 250.4L326.6 254.6L322.4 250.4ZM339.7 291.2L341.0 294.6L344.6 294.8L341.8 297.1L342.8 300.6L339.7 298.6L336.6 300.6L337.6 297.1L334.8 294.8L338.4 294.6Z"/>
<path fill="#e5206f" d="M298.4 302.8h2.2v3.5h3.5v2.2h-3.5v3.5h-2.2v-3.5h-3.5v-2.2h3.5ZM256.0 309.5L257.3 312.9L261.0 313.1L258.1 315.4L259.1 318.9L256.0 316.9L252.9 318.9L253.9 315.4L251.1 313.1L254.7 312.9ZM292.0 317.4h2.2v3.5h3.5v2.2h-3.5v3.5h-2.2v-3.5h-3.5v-2.2h3.5ZM323.0 258.5h2.2v3.5h3.5v2.2h-3.5v3.5h-2.2v-3.5h-3.5v-2.2h3.5ZM257.9 318.2h2.2v3.5h3.5v2.2h-3.5v3.5h-2.2v-3.5h-3.5v-2.2h3.5ZM275.1 315.7L276.4 319.2L280.0 319.3L277.1 321.6L278.1 325.1L275.1 323.1L272.0 325.1L273.0 321.6L270.1 319.3L273.8 319.2ZM224.2 339.4h2.2v3.5h3.5v2.2h-3.5v3.5h-2.2v-3.5h-3.5v-2.2h3.5ZM283.2 303.1L284.5 306.5L288.2 306.7L285.3 309.0L286.3 312.5L283.2 310.5L280.2 312.5L281.2 309.0L278.3 306.7L281.9 306.5ZM218.1 352.8L219.4 356.2L223.1 356.4L220.2 358.7L221.2 362.2L218.1 360.2L215.1 362.2L216.1 358.7L213.2 356.4L216.9 356.2ZM321.0 293.7L322.2 297.2L325.9 297.3L323.0 299.6L324.0 303.1L321.0 301.1L317.9 303.1L318.9 299.6L316.0 297.3L319.7 297.2ZM417.4 221.8L418.7 225.2L422.3 225.4L419.5 227.6L420.4 231.2L417.4 229.2L414.3 231.2L415.3 227.6L412.4 225.4L416.1 225.2ZM295.5 294.7L296.8 298.1L300.5 298.3L297.6 300.5L298.6 304.1L295.5 302.1L292.5 304.1L293.5 300.5L290.6 298.3L294.2 298.1ZM342.5 222.2L343.8 225.7L347.4 225.8L344.6 228.1L345.5 231.6L342.5 229.6L339.4 231.6L340.4 228.1L337.5 225.8L341.2 225.7ZM265.6 327.6L266.9 331.0L270.6 331.2L267.7 333.5L268.7 337.0L265.6 335.0L262.6 337.0L263.6 333.5L260.7 331.2L264.4 331.0ZM260.4 310.8L261.7 314.3L265.4 314.4L262.5 316.7L263.5 320.2L260.4 318.2L257.4 320.2L258.3 316.7L255.5 314.4L259.1 314.3ZM249.4 333.7L250.7 337.1L254.4 337.3L251.5 339.6L252.5 343.1L249.4 341.1L246.4 343.1L247.3 339.6L244.5 337.3L248.1 337.1ZM294.9 317.9L296.2 321.4L299.9 321.5L297.0 323.8L298.0 327.4L294.9 325.3L291.9 327.4L292.8 323.8L290.0 321.5L293.6 321.4ZM320.0 304.4h2.2v3.5h3.5v2.2h-3.5v3.5h-2.2v-3.5h-3.5v-2.2h3.5ZM240.5 305.8L244.7 310.0L240.5 314.2L236.3 310.0ZM219.0 348.2h2.2v3.5h3.5v2.2h-3.5v3.5h-2.2v-3.5h-3.5v-2.2h3.5ZM374.0 270.5h2.2v3.5h3.5v2.2h-3.5v3.5h-2.2v-3.5h-3.5v-2.2h3.5ZM358.7 283.0L359.9 286.4L363.6 286.5L360.7 288.8L361.7 292.4L358.7 290.3L355.6 292.4L356.6 288.8L353.7 286.5L357.4 286.4ZM264.5 322.7L265.8 326.2L269.5 326.3L266.6 328.6L267.6 332.1L264.5 330.1L261.5 332.1L262.5 328.6L259.6 326.3L263.3 326.2ZM251.5 327.1L255.7 331.3L251.5 335.5L247.3 331.3ZM404.6 238.3h2.2v3.5h3.5v2.2h-3.5v3.5h-2.2v-3.5h-3.5v-2.2h3.5ZM254.9 280.9h2.2v3.5h3.5v2.2h-3.5v3.5h-2.2v-3.5h-3.5v-2.2h3.5ZM238.0 319.9L239.3 323.3L242.9 323.4L240.1 325.7L241.1 329.3L238.0 327.2L234.9 329.3L235.9 325.7L233.0 323.4L236.7 323.3ZM349.6 276.8L350.9 280.2L354.6 280.4L351.7 282.7L352.7 286.2L349.6 284.2L346.6 286.2L347.5 282.7L344.7 280.4L348.3 280.2ZM245.9 301.3h2.2v3.5h3.5v2.2h-3.5v3.5h-2.2v-3.5h-3.5v-2.2h3.5ZM317.6 256.0L318.9 259.4L322.6 259.6L319.7 261.8L320.7 265.4L317.6 263.4L314.6 265.4L315.6 261.8L312.7 259.6L316.4 259.4ZM298.4 331.3h2.2v3.5h3.5v2.2h-3.5v3.5h-2.2v-3.5h-3.5v-2.2h3.5ZM250.9 324.4L252.2 327.9L255.9 328.0L253.0 330.3L254.0 333.8L250.9 331.8L247.9 333.8L248.8 330.3L246.0 328.0L249.6 327.9ZM232.6 336.5L233.8 340.0L237.5 340.1L234.6 342.4L235.6 345.9L232.6 343.9L229.5 345.9L230.5 342.4L227.6 340.1L231.3 340.0ZM231.1 326.7L232.4 330.1L236.1 330.3L233.2 332.6L234.2 336.1L231.1 334.1L228.1 336.1L229.1 332.6L226.2 330.3L229.9 330.1ZM277.3 303.4h2.2v3.5h3.5v2.2h-3.5v3.5h-2.2v-3.5h-3.5v-2.2h3.5ZM214.9 357.7L216.2 361.1L219.9 361.3L217.0 363.6L218.0 367.1L214.9 365.1L211.9 367.1L212.9 363.6L210.0 361.3L213.7 361.1ZM303.9 231.7L305.2 235.1L308.8 235.3L306.0 237.5L306.9 241.1L303.9 239.0L300.8 241.1L301.8 237.5L298.9 235.3L302.6 235.1ZM263.8 302.2L265.1 305.6L268.7 305.8L265.9 308.1L266.9 311.6L263.8 309.6L260.7 311.6L261.7 308.1L258.9 305.8L262.5 305.6ZM266.0 305.5L267.3 308.9L270.9 309.1L268.1 311.4L269.0 314.9L266.0 312.9L262.9 314.9L263.9 311.4L261.0 309.1L264.7 308.9ZM432.6 206.5h2.2v3.5h3.5v2.2h-3.5v3.5h-2.2v-3.5h-3.5v-2.2h3.5ZM310.1 279.2L311.3 282.6L315.0 282.8L312.1 285.0L313.1 288.6L310.1 286.5L307.0 288.6L308.0 285.0L305.1 282.8L308.8 282.6ZM266.7 299.5h2.2v3.5h3.5v2.2h-3.5v3.5h-2.2v-3.5h-3.5v-2.2h3.5ZM223.3 320.9L224.5 324.4L228.2 324.5L225.3 326.8L226.3 330.3L223.3 328.3L220.2 330.3L221.2 326.8L218.3 324.5L222.0 324.4ZM269.8 266.2h2.2v3.5h3.5v2.2h-3.5v3.5h-2.2v-3.5h-3.5v-2.2h3.5ZM226.9 342.6L228.2 346.0L231.9 346.2L229.0 348.5L230.0 352.0L226.9 350.0L223.9 352.0L224.8 348.5L222.0 346.2L225.6 346.0ZM352.2 255.0L353.5 258.5L357.2 258.6L354.3 260.9L355.3 264.4L352.2 262.4L349.2 264.4L350.1 260.9L347.3 258.6L350.9 258.5ZM250.6 289.3h2.2v3.5h3.5v2.2h-3.5v3.5h-2.2v-3.5h-3.5v-2.2h3.5ZM215.6 360.6L216.9 364.1L220.5 364.2L217.6 366.5L218.6 370.1L215.6 368.0L212.5 370.1L213.5 366.5L210.6 364.2L214.3 364.1ZM302.9 292.0h2.2v3.5h3.5v2.2h-3.5v3.5h-2.2v-3.5h-3.5v-2.2h3.5ZM228.4 346.9L229.7 350.4L233.4 350.5L230.5 352.8L231.5 356.4L228.4 354.3L225.4 356.4L226.3 352.8L223.5 350.5L227.1 350.4ZM241.0 325.8h2.2v3.5h3.5v2.2h-3.5v3.5h-2.2v-3.5h-3.5v-2.2h3.5ZM309.9 272.6L311.2 276.0L314.9 276.1L312.0 278.4L313.0 282.0L309.9 279.9L306.9 282.0L307.9 278.4L305.0 276.1L308.6 276.0ZM266.0 326.3h2.2v3.5h3.5v2.2h-3.5v3.5h-2.2v-3.5h-3.5v-2.2h3.5ZM255.5 307.6h2.2v3.5h3.5v2.2h-3.5v3.5h-2.2v-3.5h-3.5v-2.2h3.5ZM255.2 296.2L259.4 300.4L255.2 304.6L251.0 300.4ZM425.7 195.9L427.0 199.4L430.6 199.5L427.8 201.8L428.7 205.3L425.7 203.3L422.6 205.3L423.6 201.8L420.7 199.5L424.4 199.4ZM259.6 333.9L260.8 337.4L264.5 337.5L261.6 339.8L262.6 343.4L259.6 341.3L256.5 343.4L257.5 339.8L254.6 337.5L258.3 337.4ZM268.8 297.8h2.2v3.5h3.5v2.2h-3.5v3.5h-2.2v-3.5h-3.5v-2.2h3.5ZM242.8 344.8L244.1 348.3L247.8 348.4L244.9 350.7L245.9 354.2L242.8 352.2L239.8 354.2L240.7 350.7L237.9 348.4L241.5 348.3ZM359.6 250.9h2.2v3.5h3.5v2.2h-3.5v3.5h-2.2v-3.5h-3.5v-2.2h3.5ZM203.3 350.9h2.2v3.5h3.5v2.2h-3.5v3.5h-2.2v-3.5h-3.5v-2.2h3.5ZM282.4 295.3h2.2v3.5h3.5v2.2h-3.5v3.5h-2.2v-3.5h-3.5v-2.2h3.5ZM328.3 309.1L329.6 312.5L333.3 312.7L330.4 315.0L331.4 318.5L328.3 316.5L325.2 318.5L326.2 315.0L323.4 312.7L327.0 312.5ZM195.0 351.3h2.2v3.5h3.5v2.2h-3.5v3.5h-2.2v-3.5h-3.5v-2.2h3.5ZM256.1 321.2L257.4 324.6L261.0 324.8L258.1 327.1L259.1 330.6L256.1 328.6L253.0 330.6L254.0 327.1L251.1 324.8L254.8 324.6ZM257.2 295.1L261.4 299.3L257.2 303.5L253.0 299.3ZM257.2 307.3L258.5 310.7L262.2 310.9L259.3 313.2L260.3 316.7L257.2 314.7L254.2 316.7L255.1 313.2L252.3 310.9L255.9 310.7ZM380.6 219.7L381.9 223.1L385.6 223.3L382.7 225.6L383.7 229.1L380.6 227.1L377.6 229.1L378.5 225.6L375.7 223.3L379.3 223.1ZM294.9 270.1L296.2 273.5L299.9 273.7L297.0 276.0L298.0 279.5L294.9 277.5L291.9 279.5L292.9 276.0L290.0 273.7L293.7 273.5ZM253.7 333.0L255.0 336.4L258.6 336.6L255.8 338.8L256.8 342.4L253.7 340.3L250.6 342.4L251.6 338.8L248.8 336.6L252.4 336.4ZM247.2 324.9L248.5 328.3L252.2 328.5L249.3 330.8L250.3 334.3L247.2 332.3L244.2 334.3L245.2 330.8L242.3 328.5L245.9 328.3ZM240.9 293.4L242.2 296.8L245.8 297.0L243.0 299.3L243.9 302.8L240.9 300.8L237.8 302.8L238.8 299.3L235.9 297.0L239.6 296.8ZM310.7 273.8L312.0 277.2L315.7 277.3L312.8 279.6L313.8 283.2L310.7 281.1L307.7 283.2L308.6 279.6L305.8 277.3L309.4 277.2ZM289.1 298.4L290.4 301.8L294.0 302.0L291.2 304.3L292.1 307.8L289.1 305.8L286.0 307.8L287.0 304.3L284.1 302.0L287.8 301.8ZM277.7 313.7L278.9 317.2L282.6 317.3L279.7 319.6L280.7 323.1L277.7 321.1L274.6 323.1L275.6 319.6L272.7 317.3L276.4 317.2ZM342.1 268.4h2.2v3.5h3.5v2.2h-3.5v3.5h-2.2v-3.5h-3.5v-2.2h3.5ZM377.7 235.7h2.2v3.5h3.5v2.2h-3.5v3.5h-2.2v-3.5h-3.5v-2.2h3.5ZM253.7 322.4L255.0 325.9L258.7 326.0L255.8 328.3L256.8 331.8L253.7 329.8L250.7 331.8L251.7 328.3L248.8 326.0L252.4 325.9ZM283.0 291.1L284.3 294.5L287.9 294.7L285.0 296.9L286.0 300.5L283.0 298.4L279.9 300.5L280.9 296.9L278.0 294.7L281.7 294.5ZM215.5 359.9L216.8 363.3L220.4 363.5L217.6 365.8L218.6 369.3L215.5 367.3L212.4 369.3L213.4 365.8L210.6 363.5L214.2 363.3ZM276.5 283.0L277.8 286.4L281.4 286.6L278.6 288.8L279.5 292.4L276.5 290.4L273.4 292.4L274.4 288.8L271.5 286.6L275.2 286.4ZM244.7 331.8h2.2v3.5h3.5v2.2h-3.5v3.5h-2.2v-3.5h-3.5v-2.2h3.5ZM257.5 350.6h2.2v3.5h3.5v2.2h-3.5v3.5h-2.2v-3.5h-3.5v-2.2h3.5ZM311.6 264.2L312.9 267.7L316.5 267.8L313.7 270.1L314.6 273.6L311.6 271.6L308.5 273.6L309.5 270.1L306.6 267.8L310.3 267.7ZM285.3 293.9L286.6 297.3L290.2 297.5L287.4 299.8L288.3 303.3L285.3 301.3L282.2 303.3L283.2 299.8L280.3 297.5L284.0 297.3ZM205.6 352.8L206.9 356.3L210.6 356.4L207.7 358.7L208.7 362.2L205.6 360.2L202.6 362.2L203.6 358.7L200.7 356.4L204.4 356.3ZM288.5 316.2L292.7 320.4L288.5 324.6L284.3 320.4ZM291.3 301.2L292.6 304.7L296.2 304.8L293.4 307.1L294.4 310.6L291.3 308.6L288.2 310.6L289.2 307.1L286.3 304.8L290.0 304.7ZM225.2 352.7L226.5 356.1L230.2 356.3L227.3 358.6L228.3 362.1L225.2 360.1L222.2 362.1L223.2 358.6L220.3 356.3L223.9 356.1ZM199.3 362.2h2.2v3.5h3.5v2.2h-3.5v3.5h-2.2v-3.5h-3.5v-2.2h3.5ZM291.5 286.2L292.8 289.6L296.4 289.8L293.6 292.1L294.5 295.6L291.5 293.6L288.4 295.6L289.4 292.1L286.5 289.8L290.2 289.6ZM202.5 346.1L203.7 349.5L207.4 349.7L204.5 352.0L205.5 355.5L202.5 353.5L199.4 355.5L200.4 352.0L197.5 349.7L201.2 349.5ZM217.6 348.6L218.8 352.0L222.5 352.2L219.6 354.4L220.6 358.0L217.6 355.9L214.5 358.0L215.5 354.4L212.6 352.2L216.3 352.0ZM370.6 237.6L371.9 241.0L375.5 241.2L372.7 243.4L373.7 247.0L370.6 244.9L367.5 247.0L368.5 243.4L365.6 241.2L369.3 241.0ZM257.9 320.2L259.2 323.7L262.9 323.8L260.0 326.1L261.0 329.6L257.9 327.6L254.9 329.6L255.9 326.1L253.0 323.8L256.6 323.7ZM266.9 306.7L268.2 310.2L271.8 310.3L269.0 312.6L270.0 316.2L266.9 314.1L263.8 316.2L264.8 312.6L262.0 310.3L265.6 310.2ZM292.5 311.2L293.8 314.6L297.4 314.8L294.6 317.1L295.5 320.6L292.5 318.6L289.4 320.6L290.4 317.1L287.5 314.8L291.2 314.6ZM276.8 279.6h2.2v3.5h3.5v2.2h-3.5v3.5h-2.2v-3.5h-3.5v-2.2h3.5ZM308.7 312.9L310.0 316.3L313.6 316.4L310.8 318.7L311.8 322.3L308.7 320.2L305.6 322.3L306.6 318.7L303.8 316.4L307.4 316.3ZM276.2 311.7L277.5 315.1L281.1 315.3L278.2 317.6L279.2 321.1L276.2 319.1L273.1 321.1L274.1 317.6L271.2 315.3L274.9 315.1ZM276.7 297.4L277.9 300.8L281.6 301.0L278.7 303.2L279.7 306.8L276.7 304.7L273.6 306.8L274.6 303.2L271.7 301.0L275.4 300.8ZM223.9 354.6L225.2 358.1L228.9 358.2L226.0 360.5L227.0 364.1L223.9 362.0L220.9 364.1L221.8 360.5L219.0 358.2L222.6 358.1ZM323.2 269.4h2.2v3.5h3.5v2.2h-3.5v3.5h-2.2v-3.5h-3.5v-2.2h3.5ZM229.5 348.6L230.8 352.0L234.5 352.2L231.6 354.5L232.6 358.0L229.5 356.0L226.5 358.0L227.4 354.5L224.6 352.2L228.2 352.0ZM203.0 360.9h2.2v3.5h3.5v2.2h-3.5v3.5h-2.2v-3.5h-3.5v-2.2h3.5ZM261.1 309.5L262.4 312.9L266.0 313.1L263.2 315.3L264.1 318.9L261.1 316.8L258.0 318.9L259.0 315.3L256.1 313.1L259.8 312.9ZM318.1 261.0L319.4 264.5L323.0 264.6L320.2 266.9L321.1 270.4L318.1 268.4L315.0 270.4L316.0 266.9L313.1 264.6L316.8 264.5ZM236.4 333.1L240.6 337.3L236.4 341.5L232.2 337.3ZM234.6 350.0L235.9 353.4L239.6 353.6L236.7 355.9L237.7 359.4L234.6 357.4L231.6 359.4L232.5 355.9L229.7 353.6L233.3 353.4ZM342.5 213.7L343.8 217.1L347.5 217.3L344.6 219.5L345.6 223.1L342.5 221.1L339.5 223.1L340.5 219.5L337.6 217.3L341.2 217.1ZM234.2 293.4h2.2v3.5h3.5v2.2h-3.5v3.5h-2.2v-3.5h-3.5v-2.2h3.5ZM234.2 326.6L235.5 330.0L239.2 330.2L236.3 332.5L237.3 336.0L234.2 334.0L231.2 336.0L232.2 332.5L229.3 330.2L232.9 330.0ZM227.5 346.6L228.8 350.0L232.4 350.2L229.6 352.5L230.5 356.0L227.5 354.0L224.4 356.0L225.4 352.5L222.5 350.2L226.2 350.0ZM200.5 360.5L201.8 363.9L205.5 364.1L202.6 366.4L203.6 369.9L200.5 367.9L197.5 369.9L198.4 366.4L195.6 364.1L199.2 363.9ZM303.5 302.7L304.8 306.2L308.5 306.3L305.6 308.6L306.6 312.1L303.5 310.1L300.5 312.1L301.4 308.6L298.6 306.3L302.2 306.2ZM319.6 267.4L320.9 270.8L324.6 271.0L321.7 273.3L322.7 276.8L319.6 274.8L316.6 276.8L317.6 273.3L314.7 271.0L318.4 270.8ZM259.4 345.8L260.7 349.2L264.3 349.4L261.4 351.7L262.4 355.2L259.4 353.2L256.3 355.2L257.3 351.7L254.4 349.4L258.1 349.2ZM224.3 341.2h2.2v3.5h3.5v2.2h-3.5v3.5h-2.2v-3.5h-3.5v-2.2h3.5ZM193.0 357.6L194.3 361.0L197.9 361.1L195.1 363.4L196.0 367.0L193.0 364.9L189.9 367.0L190.9 363.4L188.0 361.1L191.7 361.0ZM281.1 316.6L282.4 320.0L286.1 320.2L283.2 322.5L284.2 326.0L281.1 324.0L278.1 326.0L279.1 322.5L276.2 320.2L279.9 320.0ZM267.8 318.0L272.0 322.2L267.8 326.4L263.6 322.2ZM246.7 309.9L248.0 313.4L251.7 313.5L248.8 315.8L249.8 319.3L246.7 317.3L243.7 319.3L244.7 315.8L241.8 313.5L245.5 313.4ZM224.2 332.9L225.5 336.3L229.2 336.4L226.3 338.7L227.3 342.3L224.2 340.2L221.2 342.3L222.2 338.7L219.3 336.4L223.0 336.3ZM223.1 352.9h2.2v3.5h3.5v2.2h-3.5v3.5h-2.2v-3.5h-3.5v-2.2h3.5ZM237.4 315.2L241.6 319.4L237.4 323.6L233.2 319.4ZM398.6 256.6L399.9 260.1L403.6 260.2L400.7 262.5L401.7 266.0L398.6 264.0L395.6 266.0L396.6 262.5L393.7 260.2L397.4 260.1ZM244.2 317.1h2.2v3.5h3.5v2.2h-3.5v3.5h-2.2v-3.5h-3.5v-2.2h3.5Z"/>
<path fill="#6487cf" d="M266.8 272.4L268.1 275.9L271.7 276.0L268.9 278.3L269.8 281.9L266.8 279.8L263.7 281.9L264.7 278.3L261.8 276.0L265.5 275.9ZM429.0 250.4h2.2v3.5h3.5v2.2h-3.5v3.5h-2.2v-3.5h-3.5v-2.2h3.5ZM361.6 250.9L365.8 255.1L361.6 259.3L357.4 255.1ZM272.4 297.3L276.6 301.5L272.4 305.7L268.2 301.5ZM266.0 328.9L270.2 333.1L266.0 337.3L261.8 333.1ZM247.8 301.0h2.2v3.5h3.5v2.2h-3.5v3.5h-2.2v-3.5h-3.5v-2.2h3.5ZM325.5 293.6L329.7 297.8L325.5 302.0L321.3 297.8ZM301.0 286.4h2.2v3.5h3.5v2.2h-3.5v3.5h-2.2v-3.5h-3.5v-2.2h3.5ZM443.2 194.8a3.1 3.1 0 1 1 6.2 0a3.1 3.1 0 1 1 -6.2 0ZM332.7 264.2L334.0 267.7L337.6 267.8L334.8 270.1L335.8 273.7L332.7 271.6L329.6 273.7L330.6 270.1L327.7 267.8L331.4 267.7ZM412.5 261.0h2.2v3.5h3.5v2.2h-3.5v3.5h-2.2v-3.5h-3.5v-2.2h3.5ZM288.3 299.8L289.6 303.3L293.2 303.4L290.4 305.7L291.3 309.3L288.3 307.2L285.2 309.3L286.2 305.7L283.3 303.4L287.0 303.3ZM411.8 236.2h2.2v3.5h3.5v2.2h-3.5v3.5h-2.2v-3.5h-3.5v-2.2h3.5ZM260.0 308.4L261.3 311.9L264.9 312.0L262.1 314.3L263.0 317.8L260.0 315.8L256.9 317.8L257.9 314.3L255.0 312.0L258.7 311.9ZM301.8 298.9h2.2v3.5h3.5v2.2h-3.5v3.5h-2.2v-3.5h-3.5v-2.2h3.5ZM345.7 255.0h2.2v3.5h3.5v2.2h-3.5v3.5h-2.2v-3.5h-3.5v-2.2h3.5ZM312.3 316.8h2.2v3.5h3.5v2.2h-3.5v3.5h-2.2v-3.5h-3.5v-2.2h3.5ZM256.6 317.8L257.8 321.3L261.5 321.4L258.6 323.7L259.6 327.2L256.6 325.2L253.5 327.2L254.5 323.7L251.6 321.4L255.3 321.3ZM248.2 337.5h2.2v3.5h3.5v2.2h-3.5v3.5h-2.2v-3.5h-3.5v-2.2h3.5ZM269.7 312.6L271.0 316.1L274.7 316.2L271.8 318.5L272.8 322.1L269.7 320.0L266.7 322.1L267.7 318.5L264.8 316.2L268.5 316.1ZM244.2 323.1L245.5 326.6L249.1 326.7L246.3 329.0L247.2 332.6L244.2 330.5L241.1 332.6L242.1 329.0L239.2 326.7L242.9 326.6ZM235.8 322.2a3.1 3.1 0 1 1 6.2 0a3.1 3.1 0 1 1 -6.2 0ZM400.8 247.9h2.2v3.5h3.5v2.2h-3.5v3.5h-2.2v-3.5h-3.5v-2.2h3.5ZM329.9 265.4L331.2 268.8L334.9 269.0L332.0 271.3L333.0 274.8L329.9 272.8L326.9 274.8L327.8 271.3L325.0 269.0L328.6 268.8ZM259.1 302.6L260.3 306.1L264.0 306.2L261.1 308.5L262.1 312.0L259.1 310.0L256.0 312.0L257.0 308.5L254.1 306.2L257.8 306.1ZM318.1 258.2L319.4 261.7L323.1 261.8L320.2 264.1L321.2 267.6L318.1 265.6L315.1 267.6L316.1 264.1L313.2 261.8L316.8 261.7ZM208.9 338.2L213.1 342.4L208.9 346.6L204.7 342.4ZM327.3 283.9L328.5 287.3L332.2 287.5L329.3 289.7L330.3 293.3L327.3 291.2L324.2 293.3L325.2 289.7L322.3 287.5L326.0 287.3ZM246.6 315.2h2.2v3.5h3.5v2.2h-3.5v3.5h-2.2v-3.5h-3.5v-2.2h3.5ZM230.8 329.3L235.0 333.5L230.8 337.7L226.6 333.5ZM282.0 339.7L286.2 343.9L282.0 348.1L277.8 343.9ZM272.6 309.9L276.8 314.1L272.6 318.3L268.4 314.1ZM282.5 296.8L283.8 300.2L287.4 300.4L284.6 302.6L285.5 306.2L282.5 304.2L279.4 306.2L280.4 302.6L277.5 300.4L281.2 300.2ZM460.5 188.2h2.2v3.5h3.5v2.2h-3.5v3.5h-2.2v-3.5h-3.5v-2.2h3.5ZM300.2 301.2h2.2v3.5h3.5v2.2h-3.5v3.5h-2.2v-3.5h-3.5v-2.2h3.5ZM221.2 364.6L222.5 368.0L226.1 368.2L223.3 370.5L224.2 374.0L221.2 372.0L218.1 374.0L219.1 370.5L216.2 368.2L219.9 368.0ZM369.7 244.2L371.0 247.7L374.7 247.8L371.8 250.1L372.8 253.7L369.7 251.6L366.7 253.7L367.7 250.1L364.8 247.8L368.5 247.7ZM316.9 276.2L318.2 279.7L321.9 279.8L319.0 282.1L320.0 285.6L316.9 283.6L313.9 285.6L314.9 282.1L312.0 279.8L315.7 279.7ZM310.3 307.3L311.5 310.8L315.2 310.9L312.3 313.2L313.3 316.7L310.3 314.7L307.2 316.7L308.2 313.2L305.3 310.9L309.0 310.8ZM247.4 338.7h2.2v3.5h3.5v2.2h-3.5v3.5h-2.2v-3.5h-3.5v-2.2h3.5ZM272.9 313.7L274.2 317.1L277.9 317.2L275.0 319.5L276.0 323.1L272.9 321.0L269.9 323.1L270.9 319.5L268.0 317.2L271.7 317.1ZM263.2 324.5a3.1 3.1 0 1 1 6.2 0a3.1 3.1 0 1 1 -6.2 0ZM236.7 306.4L238.0 309.8L241.6 310.0L238.8 312.3L239.7 315.8L236.7 313.8L233.6 315.8L234.6 312.3L231.7 310.0L235.4 309.8ZM294.0 307.5L295.3 311.0L299.0 311.1L296.1 313.4L297.1 316.9L294.0 314.9L291.0 316.9L292.0 313.4L289.1 311.1L292.8 311.0ZM266.2 304.2L267.4 307.6L271.1 307.8L268.2 310.1L269.2 313.6L266.2 311.6L263.1 313.6L264.1 310.1L261.2 307.8L264.9 307.6ZM382.8 237.0L384.1 240.4L387.8 240.6L384.9 242.9L385.9 246.4L382.8 244.4L379.8 246.4L380.8 242.9L377.9 240.6L381.6 240.4ZM301.1 281.3L302.4 284.7L306.1 284.9L303.2 287.1L304.2 290.7L301.1 288.6L298.1 290.7L299.0 287.1L296.2 284.9L299.8 284.7ZM265.2 339.3L266.5 342.7L270.2 342.9L267.3 345.1L268.3 348.7L265.2 346.7L262.2 348.7L263.1 345.1L260.3 342.9L263.9 342.7ZM368.2 276.4L372.4 280.6L368.2 284.8L364.0 280.6ZM257.8 306.7L259.1 310.2L262.7 310.3L259.9 312.6L260.9 316.1L257.8 314.1L254.7 316.1L255.7 312.6L252.9 310.3L256.5 310.2ZM399.7 242.7L403.9 246.9L399.7 251.1L395.5 246.9ZM287.5 292.5L291.7 296.7L287.5 300.9L283.3 296.7ZM301.6 291.0L305.8 295.2L301.6 299.4L297.4 295.2ZM363.5 265.9L364.8 269.3L368.4 269.5L365.6 271.8L366.5 275.3L363.5 273.3L360.4 275.3L361.4 271.8L358.5 269.5L362.2 269.3ZM245.6 309.0h2.2v3.5h3.5v2.2h-3.5v3.5h-2.2v-3.5h-3.5v-2.2h3.5ZM334.4 276.2L335.7 279.6L339.3 279.7L336.5 282.0L337.4 285.6L334.4 283.5L331.3 285.6L332.3 282.0L329.4 279.7L333.1 279.6ZM340.1 254.3L341.3 257.8L345.0 257.9L342.1 260.2L343.1 263.8L340.1 261.7L337.0 263.8L338.0 260.2L335.1 257.9L338.8 257.8ZM416.9 243.0h2.2v3.5h3.5v2.2h-3.5v3.5h-2.2v-3.5h-3.5v-2.2h3.5ZM236.4 320.6L237.7 324.0L241.4 324.2L238.5 326.4L239.5 330.0L236.4 328.0L233.4 330.0L234.4 326.4L231.5 324.2L235.2 324.0ZM285.1 301.6L286.4 305.0L290.1 305.2L287.2 307.5L288.2 311.0L285.1 309.0L282.1 311.0L283.1 307.5L280.2 305.2L283.9 305.0ZM263.2 317.7L267.4 321.9L263.2 326.1L259.0 321.9ZM274.4 335.2h2.2v3.5h3.5v2.2h-3.5v3.5h-2.2v-3.5h-3.5v-2.2h3.5ZM341.5 262.7h2.2v3.5h3.5v2.2h-3.5v3.5h-2.2v-3.5h-3.5v-2.2h3.5ZM348.6 280.8L349.9 284.2L353.5 284.4L350.7 286.7L351.6 290.2L348.6 288.2L345.5 290.2L346.5 286.7L343.6 284.4L347.3 284.2ZM295.1 273.6h2.2v3.5h3.5v2.2h-3.5v3.5h-2.2v-3.5h-3.5v-2.2h3.5ZM359.8 266.0h2.2v3.5h3.5v2.2h-3.5v3.5h-2.2v-3.5h-3.5v-2.2h3.5ZM340.6 262.5L344.8 266.7L340.6 270.9L336.4 266.7ZM241.3 321.2L242.6 324.6L246.2 324.8L243.3 327.1L244.3 330.6L241.3 328.6L238.2 330.6L239.2 327.1L236.3 324.8L240.0 324.6ZM226.3 344.2L227.6 347.7L231.3 347.8L228.4 350.1L229.4 353.6L226.3 351.6L223.2 353.6L224.2 350.1L221.4 347.8L225.0 347.7ZM292.2 264.4L296.4 268.6L292.2 272.8L288.0 268.6ZM291.7 330.7L293.0 334.1L296.7 334.3L293.8 336.5L294.8 340.1L291.7 338.0L288.7 340.1L289.6 336.5L286.8 334.3L290.4 334.1ZM306.8 292.6L308.1 296.0L311.7 296.2L308.8 298.4L309.8 302.0L306.8 300.0L303.7 302.0L304.7 298.4L301.8 296.2L305.5 296.0ZM295.6 277.3h2.2v3.5h3.5v2.2h-3.5v3.5h-2.2v-3.5h-3.5v-2.2h3.5ZM433.6 234.7L434.8 238.1L438.5 238.3L435.6 240.5L436.6 244.1L433.6 242.1L430.5 244.1L431.5 240.5L428.6 238.3L432.3 238.1ZM254.1 319.3a3.1 3.1 0 1 1 6.2 0a3.1 3.1 0 1 1 -6.2 0ZM368.8 263.9a3.1 3.1 0 1 1 6.2 0a3.1 3.1 0 1 1 -6.2 0ZM356.1 262.9h2.2v3.5h3.5v2.2h-3.5v3.5h-2.2v-3.5h-3.5v-2.2h3.5ZM342.3 284.9h2.2v3.5h3.5v2.2h-3.5v3.5h-2.2v-3.5h-3.5v-2.2h3.5ZM259.4 309.3L263.6 313.5L259.4 317.7L255.2 313.5ZM240.0 320.0L241.3 323.4L245.0 323.6L242.1 325.8L243.1 329.4L240.0 327.4L237.0 329.4L238.0 325.8L235.1 323.6L238.8 323.4ZM288.3 292.3L289.6 295.8L293.2 295.9L290.4 298.2L291.3 301.7L288.3 299.7L285.2 301.7L286.2 298.2L283.3 295.9L287.0 295.8ZM361.2 251.2h2.2v3.5h3.5v2.2h-3.5v3.5h-2.2v-3.5h-3.5v-2.2h3.5ZM312.0 310.7L313.3 314.1L316.9 314.3L314.1 316.6L315.0 320.1L312.0 318.1L308.9 320.1L309.9 316.6L307.0 314.3L310.7 314.1ZM198.3 355.2L199.6 358.7L203.3 358.8L200.4 361.1L201.4 364.6L198.3 362.6L195.3 364.6L196.2 361.1L193.4 358.8L197.0 358.7ZM336.3 262.4L340.5 266.6L336.3 270.8L332.1 266.6ZM309.4 283.5L313.6 287.7L309.4 291.9L305.2 287.7ZM278.6 282.0L279.9 285.4L283.6 285.6L280.7 287.9L281.7 291.4L278.6 289.4L275.6 291.4L276.5 287.9L273.7 285.6L277.3 285.4ZM264.7 282.5h2.2v3.5h3.5v2.2h-3.5v3.5h-2.2v-3.5h-3.5v-2.2h3.5ZM313.2 305.8a3.1 3.1 0 1 1 6.2 0a3.1 3.1 0 1 1 -6.2 0ZM282.6 299.9L286.8 304.1L282.6 308.3L278.4 304.1ZM315.3 268.2L319.5 272.4L315.3 276.6L311.1 272.4ZM384.1 264.9h2.2v3.5h3.5v2.2h-3.5v3.5h-2.2v-3.5h-3.5v-2.2h3.5ZM298.5 329.8h2.2v3.5h3.5v2.2h-3.5v3.5h-2.2v-3.5h-3.5v-2.2h3.5ZM442.1 231.5a3.1 3.1 0 1 1 6.2 0a3.1 3.1 0 1 1 -6.2 0ZM419.6 194.7h2.2v3.5h3.5v2.2h-3.5v3.5h-2.2v-3.5h-3.5v-2.2h3.5ZM263.8 317.8a3.1 3.1 0 1 1 6.2 0a3.1 3.1 0 1 1 -6.2 0ZM359.2 262.8h2.2v3.5h3.5v2.2h-3.5v3.5h-2.2v-3.5h-3.5v-2.2h3.5ZM333.3 267.5L337.5 271.7L333.3 275.9L329.1 271.7ZM250.0 331.2L254.2 335.4L250.0 339.6L245.8 335.4ZM312.4 284.0L313.7 287.5L317.4 287.6L314.5 289.9L315.5 293.5L312.4 291.4L309.4 293.5L310.4 289.9L307.5 287.6L311.2 287.5ZM388.0 243.4L389.3 246.8L392.9 247.0L390.0 249.3L391.0 252.8L388.0 250.8L384.9 252.8L385.9 249.3L383.0 247.0L386.7 246.8ZM342.2 278.1h2.2v3.5h3.5v2.2h-3.5v3.5h-2.2v-3.5h-3.5v-2.2h3.5ZM333.8 277.0h2.2v3.5h3.5v2.2h-3.5v3.5h-2.2v-3.5h-3.5v-2.2h3.5ZM275.8 307.0L280.0 311.2L275.8 315.4L271.6 311.2ZM296.0 281.9L300.2 286.1L296.0 290.3L291.8 286.1ZM316.1 317.4a3.1 3.1 0 1 1 6.2 0a3.1 3.1 0 1 1 -6.2 0ZM260.8 317.0h2.2v3.5h3.5v2.2h-3.5v3.5h-2.2v-3.5h-3.5v-2.2h3.5ZM214.0 359.0L215.2 362.4L218.9 362.6L216.0 364.9L217.0 368.4L214.0 366.4L210.9 368.4L211.9 364.9L209.0 362.6L212.7 362.4ZM377.0 249.3L378.3 252.7L381.9 252.9L379.1 255.2L380.0 258.7L377.0 256.7L373.9 258.7L374.9 255.2L372.0 252.9L375.7 252.7ZM264.3 320.0L268.5 324.2L264.3 328.4L260.1 324.2ZM216.3 330.4L220.5 334.6L216.3 338.8L212.1 334.6ZM262.9 300.1h2.2v3.5h3.5v2.2h-3.5v3.5h-2.2v-3.5h-3.5v-2.2h3.5ZM472.0 214.9L473.3 218.4L476.9 218.5L474.1 220.8L475.0 224.3L472.0 222.3L468.9 224.3L469.9 220.8L467.0 218.5L470.7 218.4ZM288.0 284.6L289.2 288.0L292.9 288.2L290.0 290.4L291.0 294.0L288.0 291.9L284.9 294.0L285.9 290.4L283.0 288.2L286.7 288.0ZM254.1 346.2L255.3 349.7L259.0 349.8L256.1 352.1L257.1 355.6L254.1 353.6L251.0 355.6L252.0 352.1L249.1 349.8L252.8 349.7ZM242.9 334.0L244.2 337.4L247.8 337.5L245.0 339.8L245.9 343.4L242.9 341.3L239.8 343.4L240.8 339.8L237.9 337.5L241.6 337.4ZM443.8 209.7L448.0 213.9L443.8 218.1L439.6 213.9ZM375.6 255.6L379.8 259.8L375.6 264.0L371.4 259.8ZM231.8 322.4L236.0 326.6L231.8 330.8L227.6 326.6ZM316.2 264.1L317.5 267.6L321.1 267.7L318.3 270.0L319.2 273.5L316.2 271.5L313.1 273.5L314.1 270.0L311.2 267.7L314.9 267.6ZM296.7 257.9L298.0 261.3L301.7 261.5L298.8 263.8L299.8 267.3L296.7 265.3L293.7 267.3L294.6 263.8L291.8 261.5L295.4 261.3ZM265.0 321.9h2.2v3.5h3.5v2.2h-3.5v3.5h-2.2v-3.5h-3.5v-2.2h3.5ZM262.4 325.6h2.2v3.5h3.5v2.2h-3.5v3.5h-2.2v-3.5h-3.5v-2.2h3.5ZM263.7 311.3L267.9 315.5L263.7 319.7L259.5 315.5ZM296.9 301.8L301.1 306.0L296.9 310.2L292.7 306.0ZM271.9 324.8L273.2 328.2L276.9 328.4L274.0 330.7L275.0 334.2L271.9 332.2L268.9 334.2L269.8 330.7L267.0 328.4L270.6 328.2ZM241.3 330.8L242.5 334.2L246.2 334.4L243.3 336.6L244.3 340.2L241.3 338.2L238.2 340.2L239.2 336.6L236.3 334.4L240.0 334.2ZM346.1 299.6L347.4 303.1L351.1 303.2L348.2 305.5L349.2 309.0L346.1 307.0L343.1 309.0L344.1 305.5L341.2 303.2L344.8 303.1ZM362.7 279.7h2.2v3.5h3.5v2.2h-3.5v3.5h-2.2v-3.5h-3.5v-2.2h3.5ZM285.4 339.4a3.1 3.1 0 1 1 6.2 0a3.1 3.1 0 1 1 -6.2 0ZM296.6 275.8h2.2v3.5h3.5v2.2h-3.5v3.5h-2.2v-3.5h-3.5v-2.2h3.5ZM345.3 263.0h2.2v3.5h3.5v2.2h-3.5v3.5h-2.2v-3.5h-3.5v-2.2h3.5ZM264.6 302.7L265.9 306.1L269.5 306.2L266.7 308.5L267.6 312.1L264.6 310.0L261.5 312.1L262.5 308.5L259.6 306.2L263.3 306.1ZM311.4 316.4a3.1 3.1 0 1 1 6.2 0a3.1 3.1 0 1 1 -6.2 0ZM453.4 241.7L454.7 245.1L458.3 245.3L455.5 247.6L456.4 251.1L453.4 249.1L450.3 251.1L451.3 247.6L448.4 245.3L452.1 245.1ZM376.7 245.7a3.1 3.1 0 1 1 6.2 0a3.1 3.1 0 1 1 -6.2 0ZM200.6 350.6L201.9 354.0L205.6 354.2L202.7 356.5L203.7 360.0L200.6 358.0L197.6 360.0L198.6 356.5L195.7 354.2L199.4 354.0ZM238.4 327.0L242.6 331.2L238.4 335.4L234.2 331.2ZM261.8 334.2L263.0 337.6L266.7 337.8L263.8 340.0L264.8 343.6L261.8 341.5L258.7 343.6L259.7 340.0L256.8 337.8L260.5 337.6ZM295.6 282.6L296.9 286.1L300.6 286.2L297.7 288.5L298.7 292.0L295.6 290.0L292.6 292.0L293.6 288.5L290.7 286.2L294.4 286.1ZM214.8 329.9L216.1 333.4L219.8 333.5L216.9 335.8L217.9 339.3L214.8 337.3L211.8 339.3L212.7 335.8L209.9 333.5L213.5 333.4ZM225.0 336.4L226.3 339.8L229.9 340.0L227.1 342.2L228.1 345.8L225.0 343.8L221.9 345.8L222.9 342.2L220.1 340.0L223.7 339.8ZM317.5 267.4L321.7 271.6L317.5 275.8L313.3 271.6ZM495.3 180.0h2.2v3.5h3.5v2.2h-3.5v3.5h-2.2v-3.5h-3.5v-2.2h3.5ZM420.6 264.3a3.1 3.1 0 1 1 6.2 0a3.1 3.1 0 1 1 -6.2 0ZM289.4 274.8L290.7 278.2L294.3 278.3L291.5 280.6L292.5 284.2L289.4 282.1L286.3 284.2L287.3 280.6L284.5 278.3L288.1 278.2ZM354.3 274.9L355.6 278.3L359.3 278.5L356.4 280.8L357.4 284.3L354.3 282.3L351.3 284.3L352.3 280.8L349.4 278.5L353.1 278.3ZM352.0 260.4L356.2 264.6L352.0 268.8L347.8 264.6ZM346.2 278.8h2.2v3.5h3.5v2.2h-3.5v3.5h-2.2v-3.5h-3.5v-2.2h3.5ZM235.5 311.3h2.2v3.5h3.5v2.2h-3.5v3.5h-2.2v-3.5h-3.5v-2.2h3.5ZM390.6 225.2L391.9 228.6L395.6 228.8L392.7 231.1L393.7 234.6L390.6 232.6L387.6 234.6L388.5 231.1L385.7 228.8L389.3 228.6ZM228.0 329.6L229.2 333.1L232.9 333.2L230.0 335.5L231.0 339.0L228.0 337.0L224.9 339.0L225.9 335.5L223.0 333.2L226.7 333.1ZM280.9 309.8L282.2 313.2L285.9 313.4L283.0 315.7L284.0 319.2L280.9 317.2L277.8 319.2L278.8 315.7L276.0 313.4L279.6 313.2ZM312.7 293.4L316.9 297.6L312.7 301.8L308.5 297.6ZM283.5 303.3a3.1 3.1 0 1 1 6.2 0a3.1 3.1 0 1 1 -6.2 0ZM328.1 300.2h2.2v3.5h3.5v2.2h-3.5v3.5h-2.2v-3.5h-3.5v-2.2h3.5ZM375.6 245.7a3.1 3.1 0 1 1 6.2 0a3.1 3.1 0 1 1 -6.2 0ZM234.1 355.8a3.1 3.1 0 1 1 6.2 0a3.1 3.1 0 1 1 -6.2 0ZM292.9 283.0L297.1 287.2L292.9 291.4L288.7 287.2ZM226.1 327.3L227.4 330.7L231.0 330.9L228.2 333.2L229.1 336.7L226.1 334.7L223.0 336.7L224.0 333.2L221.1 330.9L224.8 330.7ZM491.9 216.1a3.1 3.1 0 1 1 6.2 0a3.1 3.1 0 1 1 -6.2 0ZM213.3 349.1h2.2v3.5h3.5v2.2h-3.5v3.5h-2.2v-3.5h-3.5v-2.2h3.5ZM325.9 285.8a3.1 3.1 0 1 1 6.2 0a3.1 3.1 0 1 1 -6.2 0ZM239.8 318.6a3.1 3.1 0 1 1 6.2 0a3.1 3.1 0 1 1 -6.2 0ZM258.6 322.0h2.2v3.5h3.5v2.2h-3.5v3.5h-2.2v-3.5h-3.5v-2.2h3.5ZM268.5 295.0L272.7 299.2L268.5 303.4L264.3 299.2ZM333.8 276.6h2.2v3.5h3.5v2.2h-3.5v3.5h-2.2v-3.5h-3.5v-2.2h3.5ZM297.9 321.4L299.2 324.8L302.9 325.0L300.0 327.3L301.0 330.8L297.9 328.8L294.9 330.8L295.9 327.3L293.0 325.0L296.7 324.8ZM300.1 288.6a3.1 3.1 0 1 1 6.2 0a3.1 3.1 0 1 1 -6.2 0ZM228.6 334.1L229.9 337.5L233.6 337.7L230.7 340.0L231.7 343.5L228.6 341.5L225.6 343.5L226.6 340.0L223.7 337.7L227.4 337.5ZM429.7 247.4a3.1 3.1 0 1 1 6.2 0a3.1 3.1 0 1 1 -6.2 0ZM282.8 300.2h2.2v3.5h3.5v2.2h-3.5v3.5h-2.2v-3.5h-3.5v-2.2h3.5ZM369.4 251.0L370.7 254.4L374.3 254.6L371.4 256.8L372.4 260.4L369.4 258.3L366.3 260.4L367.3 256.8L364.4 254.6L368.1 254.4ZM367.9 258.1h2.2v3.5h3.5v2.2h-3.5v3.5h-2.2v-3.5h-3.5v-2.2h3.5ZM340.3 282.1a3.1 3.1 0 1 1 6.2 0a3.1 3.1 0 1 1 -6.2 0ZM300.3 285.5L304.5 289.7L300.3 293.9L296.1 289.7ZM335.5 263.5L336.8 266.9L340.5 267.1L337.6 269.3L338.6 272.9L335.5 270.8L332.5 272.9L333.4 269.3L330.6 267.1L334.2 266.9ZM239.5 328.4L240.7 331.8L244.4 332.0L241.5 334.2L242.5 337.8L239.5 335.8L236.4 337.8L237.4 334.2L234.5 332.0L238.2 331.8ZM289.7 265.9L293.9 270.1L289.7 274.3L285.5 270.1ZM307.1 270.4L308.3 273.8L312.0 274.0L309.1 276.3L310.1 279.8L307.1 277.8L304.0 279.8L305.0 276.3L302.1 274.0L305.8 273.8Z"/>
<path fill="#e5206f" d="M215.8 349.4L217.1 352.8L220.7 353.0L217.9 355.2L218.9 358.8L215.8 356.8L212.7 358.8L213.7 355.2L210.8 353.0L214.5 352.8ZM318.6 277.9h2.2v3.5h3.5v2.2h-3.5v3.5h-2.2v-3.5h-3.5v-2.2h3.5ZM316.1 266.2L317.4 269.6L321.1 269.8L318.2 272.1L319.2 275.6L316.1 273.6L313.1 275.6L314.1 272.1L311.2 269.8L314.9 269.6ZM254.7 324.3h2.2v3.5h3.5v2.2h-3.5v3.5h-2.2v-3.5h-3.5v-2.2h3.5ZM393.3 201.3L394.6 204.8L398.3 204.9L395.4 207.2L396.4 210.7L393.3 208.7L390.3 210.7L391.2 207.2L388.4 204.9L392.0 204.8ZM313.7 306.1L317.9 310.3L313.7 314.5L309.5 310.3ZM254.7 305.9h2.2v3.5h3.5v2.2h-3.5v3.5h-2.2v-3.5h-3.5v-2.2h3.5ZM196.6 375.6L197.9 379.0L201.5 379.2L198.7 381.4L199.7 385.0L196.6 382.9L193.5 385.0L194.5 381.4L191.7 379.2L195.3 379.0ZM263.2 306.6L264.5 310.0L268.2 310.2L265.3 312.5L266.3 316.0L263.2 314.0L260.2 316.0L261.1 312.5L258.3 310.2L261.9 310.0ZM254.6 339.0L255.9 342.4L259.5 342.6L256.7 344.9L257.6 348.4L254.6 346.4L251.5 348.4L252.5 344.9L249.6 342.6L253.3 342.4ZM252.1 320.3L253.4 323.8L257.1 323.9L254.2 326.2L255.2 329.7L252.1 327.7L249.1 329.7L250.0 326.2L247.2 323.9L250.8 323.8ZM228.2 334.5L229.5 338.0L233.2 338.1L230.3 340.4L231.3 344.0L228.2 341.9L225.2 344.0L226.1 340.4L223.3 338.1L226.9 338.0ZM290.8 297.7L292.1 301.1L295.7 301.3L292.9 303.5L293.8 307.1L290.8 305.0L287.7 307.1L288.7 303.5L285.8 301.3L289.5 301.1ZM321.1 272.0L322.4 275.5L326.1 275.6L323.2 277.9L324.2 281.4L321.1 279.4L318.1 281.4L319.1 277.9L316.2 275.6L319.8 275.5ZM259.9 301.5L264.1 305.7L259.9 309.9L255.7 305.7ZM237.5 351.4h2.2v3.5h3.5v2.2h-3.5v3.5h-2.2v-3.5h-3.5v-2.2h3.5ZM193.0 364.5L194.3 367.9L198.0 368.1L195.1 370.3L196.1 373.9L193.0 371.9L190.0 373.9L191.0 370.3L188.1 368.1L191.7 367.9ZM329.8 288.0L331.1 291.5L334.7 291.6L331.9 293.9L332.8 297.4L329.8 295.4L326.7 297.4L327.7 293.9L324.8 291.6L328.5 291.5ZM244.6 315.7L248.8 319.9L244.6 324.1L240.4 319.9ZM227.3 320.3L228.6 323.7L232.3 323.9L229.4 326.2L230.4 329.7L227.3 327.7L224.3 329.7L225.3 326.2L222.4 323.9L226.0 323.7ZM199.1 366.7L200.4 370.2L204.1 370.3L201.2 372.6L202.2 376.1L199.1 374.1L196.1 376.1L197.1 372.6L194.2 370.3L197.9 370.2ZM220.2 339.3L221.5 342.8L225.2 342.9L222.3 345.2L223.3 348.7L220.2 346.7L217.2 348.7L218.1 345.2L215.3 342.9L218.9 342.8ZM207.3 341.9h2.2v3.5h3.5v2.2h-3.5v3.5h-2.2v-3.5h-3.5v-2.2h3.5ZM243.0 334.7h2.2v3.5h3.5v2.2h-3.5v3.5h-2.2v-3.5h-3.5v-2.2h3.5ZM204.8 356.7h2.2v3.5h3.5v2.2h-3.5v3.5h-2.2v-3.5h-3.5v-2.2h3.5ZM264.3 315.2h2.2v3.5h3.5v2.2h-3.5v3.5h-2.2v-3.5h-3.5v-2.2h3.5ZM342.7 277.1L344.0 280.5L347.7 280.7L344.8 282.9L345.8 286.5L342.7 284.4L339.7 286.5L340.7 282.9L337.8 280.7L341.5 280.5ZM306.9 299.2L308.2 302.6L311.9 302.8L309.0 305.1L310.0 308.6L306.9 306.6L303.9 308.6L304.8 305.1L302.0 302.8L305.6 302.6ZM345.4 265.6L346.7 269.0L350.3 269.2L347.5 271.5L348.4 275.0L345.4 273.0L342.3 275.0L343.3 271.5L340.4 269.2L344.1 269.0ZM237.0 329.0L238.2 332.4L241.9 332.6L239.0 334.9L240.0 338.4L237.0 336.4L233.9 338.4L234.9 334.9L232.0 332.6L235.7 332.4ZM386.6 258.8L387.9 262.2L391.5 262.4L388.7 264.6L389.6 268.2L386.6 266.1L383.5 268.2L384.5 264.6L381.6 262.4L385.3 262.2ZM334.4 278.8L335.7 282.3L339.4 282.4L336.5 284.7L337.5 288.2L334.4 286.2L331.4 288.2L332.3 284.7L329.5 282.4L333.1 282.3ZM287.2 319.9L291.4 324.1L287.2 328.3L283.0 324.1ZM238.2 333.0L239.5 336.4L243.1 336.6L240.3 338.9L241.2 342.4L238.2 340.4L235.1 342.4L236.1 338.9L233.2 336.6L236.9 336.4ZM286.0 314.4L290.2 318.6L286.0 322.8L281.8 318.6ZM300.7 294.2L302.0 297.7L305.6 297.8L302.8 300.1L303.8 303.6L300.7 301.6L297.6 303.6L298.6 300.1L295.8 297.8L299.4 297.7ZM418.8 227.9L420.1 231.3L423.8 231.5L420.9 233.8L421.9 237.3L418.8 235.3L415.8 237.3L416.7 233.8L413.9 231.5L417.5 231.3ZM254.6 321.7L255.9 325.1L259.5 325.3L256.7 327.6L257.6 331.1L254.6 329.1L251.5 331.1L252.5 327.6L249.6 325.3L253.3 325.1ZM189.7 360.2L190.9 363.7L194.6 363.8L191.7 366.1L192.7 369.6L189.7 367.6L186.6 369.6L187.6 366.1L184.7 363.8L188.4 363.7ZM345.1 246.2L346.4 249.6L350.0 249.8L347.2 252.1L348.1 255.6L345.1 253.6L342.0 255.6L343.0 252.1L340.1 249.8L343.8 249.6ZM326.4 253.3h2.2v3.5h3.5v2.2h-3.5v3.5h-2.2v-3.5h-3.5v-2.2h3.5ZM232.6 341.6h2.2v3.5h3.5v2.2h-3.5v3.5h-2.2v-3.5h-3.5v-2.2h3.5ZM279.5 324.9h2.2v3.5h3.5v2.2h-3.5v3.5h-2.2v-3.5h-3.5v-2.2h3.5ZM291.3 287.8L295.5 292.0L291.3 296.2L287.1 292.0ZM304.1 304.5L305.4 307.9L309.1 308.0L306.2 310.3L307.2 313.9L304.1 311.8L301.1 313.9L302.0 310.3L299.2 308.0L302.8 307.9ZM265.5 312.1L266.8 315.5L270.4 315.7L267.6 318.0L268.5 321.5L265.5 319.5L262.4 321.5L263.4 318.0L260.5 315.7L264.2 315.5ZM353.7 238.7L355.0 242.1L358.7 242.3L355.8 244.5L356.8 248.1L353.7 246.0L350.7 248.1L351.7 244.5L348.8 242.3L352.5 242.1ZM210.7 350.4L211.9 353.8L215.6 353.9L212.7 356.2L213.7 359.8L210.7 357.7L207.6 359.8L208.6 356.2L205.7 353.9L209.4 353.8ZM246.4 285.1L247.7 288.5L251.4 288.7L248.5 291.0L249.5 294.5L246.4 292.5L243.4 294.5L244.3 291.0L241.5 288.7L245.1 288.5ZM273.2 313.9L274.5 317.3L278.1 317.5L275.3 319.8L276.3 323.3L273.2 321.3L270.1 323.3L271.1 319.8L268.2 317.5L271.9 317.3ZM247.4 314.2L248.6 317.7L252.3 317.8L249.4 320.1L250.4 323.6L247.4 321.6L244.3 323.6L245.3 320.1L242.4 317.8L246.1 317.7ZM341.5 282.6h2.2v3.5h3.5v2.2h-3.5v3.5h-2.2v-3.5h-3.5v-2.2h3.5ZM320.5 263.1L321.8 266.6L325.5 266.7L322.6 269.0L323.6 272.6L320.5 270.5L317.5 272.6L318.5 269.0L315.6 266.7L319.3 266.6ZM273.7 288.9h2.2v3.5h3.5v2.2h-3.5v3.5h-2.2v-3.5h-3.5v-2.2h3.5ZM309.8 270.3h2.2v3.5h3.5v2.2h-3.5v3.5h-2.2v-3.5h-3.5v-2.2h3.5ZM266.5 297.5h2.2v3.5h3.5v2.2h-3.5v3.5h-2.2v-3.5h-3.5v-2.2h3.5ZM364.1 240.2h2.2v3.5h3.5v2.2h-3.5v3.5h-2.2v-3.5h-3.5v-2.2h3.5ZM256.6 310.5L257.8 313.9L261.5 314.0L258.6 316.3L259.6 319.9L256.6 317.8L253.5 319.9L254.5 316.3L251.6 314.0L255.3 313.9ZM318.9 290.1L320.2 293.5L323.9 293.7L321.0 296.0L322.0 299.5L318.9 297.5L315.9 299.5L316.9 296.0L314.0 293.7L317.6 293.5ZM256.3 317.6L260.5 321.8L256.3 326.0L252.1 321.8ZM395.2 252.5h2.2v3.5h3.5v2.2h-3.5v3.5h-2.2v-3.5h-3.5v-2.2h3.5ZM302.6 282.1h2.2v3.5h3.5v2.2h-3.5v3.5h-2.2v-3.5h-3.5v-2.2h3.5ZM311.0 254.6L312.3 258.0L315.9 258.2L313.1 260.4L314.1 264.0L311.0 262.0L307.9 264.0L308.9 260.4L306.1 258.2L309.7 258.0ZM216.0 351.6h2.2v3.5h3.5v2.2h-3.5v3.5h-2.2v-3.5h-3.5v-2.2h3.5ZM236.1 333.0h2.2v3.5h3.5v2.2h-3.5v3.5h-2.2v-3.5h-3.5v-2.2h3.5ZM339.1 269.5h2.2v3.5h3.5v2.2h-3.5v3.5h-2.2v-3.5h-3.5v-2.2h3.5ZM209.2 359.2h2.2v3.5h3.5v2.2h-3.5v3.5h-2.2v-3.5h-3.5v-2.2h3.5ZM273.2 330.2L274.5 333.6L278.2 333.8L275.3 336.1L276.3 339.6L273.2 337.6L270.2 339.6L271.2 336.1L268.3 333.8L272.0 333.6ZM243.0 343.1L244.3 346.5L247.9 346.6L245.1 348.9L246.0 352.5L243.0 350.4L239.9 352.5L240.9 348.9L238.0 346.6L241.7 346.5ZM250.3 326.7L251.6 330.1L255.3 330.3L252.4 332.6L253.4 336.1L250.3 334.1L247.3 336.1L248.3 332.6L245.4 330.3L249.0 330.1ZM228.3 348.3h2.2v3.5h3.5v2.2h-3.5v3.5h-2.2v-3.5h-3.5v-2.2h3.5ZM263.1 280.9h2.2v3.5h3.5v2.2h-3.5v3.5h-2.2v-3.5h-3.5v-2.2h3.5ZM359.0 261.6L360.3 265.0L364.0 265.2L361.1 267.5L362.1 271.0L359.0 269.0L356.0 271.0L357.0 267.5L354.1 265.2L357.7 265.0ZM229.0 332.1L230.3 335.5L234.0 335.7L231.1 338.0L232.1 341.5L229.0 339.5L225.9 341.5L226.9 338.0L224.1 335.7L227.7 335.5ZM246.9 318.3L248.1 321.7L251.8 321.9L248.9 324.2L249.9 327.7L246.9 325.7L243.8 327.7L244.8 324.2L241.9 321.9L245.6 321.7ZM263.4 327.6h2.2v3.5h3.5v2.2h-3.5v3.5h-2.2v-3.5h-3.5v-2.2h3.5ZM235.0 325.3a3.1 3.1 0 1 1 6.2 0a3.1 3.1 0 1 1 -6.2 0ZM222.7 338.5L224.0 342.0L227.7 342.1L224.8 344.4L225.8 347.9L222.7 345.9L219.7 347.9L220.7 344.4L217.8 342.1L221.5 342.0ZM432.8 227.0L434.1 230.4L437.8 230.6L434.9 232.9L435.9 236.4L432.8 234.4L429.8 236.4L430.7 232.9L427.9 230.6L431.5 230.4ZM209.5 353.0L213.7 357.2L209.5 361.4L205.3 357.2ZM253.9 360.1L255.2 363.5L258.9 363.6L256.0 365.9L257.0 369.5L253.9 367.4L250.9 369.5L251.9 365.9L249.0 363.6L252.7 363.5ZM207.0 333.6h2.2v3.5h3.5v2.2h-3.5v3.5h-2.2v-3.5h-3.5v-2.2h3.5ZM275.1 301.8L279.3 306.0L275.1 310.2L270.9 306.0ZM213.0 336.5L214.2 339.9L217.9 340.1L215.0 342.4L216.0 345.9L213.0 343.9L209.9 345.9L210.9 342.4L208.0 340.1L211.7 339.9ZM233.0 327.0h2.2v3.5h3.5v2.2h-3.5v3.5h-2.2v-3.5h-3.5v-2.2h3.5ZM263.4 314.1h2.2v3.5h3.5v2.2h-3.5v3.5h-2.2v-3.5h-3.5v-2.2h3.5ZM247.4 316.6L248.6 320.1L252.3 320.2L249.4 322.5L250.4 326.0L247.4 324.0L244.3 326.0L245.3 322.5L242.4 320.2L246.1 320.1ZM271.8 300.6L273.0 304.0L276.7 304.2L273.8 306.4L274.8 310.0L271.8 307.9L268.7 310.0L269.7 306.4L266.8 304.2L270.5 304.0ZM263.2 343.1h2.2v3.5h3.5v2.2h-3.5v3.5h-2.2v-3.5h-3.5v-2.2h3.5ZM257.0 297.0L258.3 300.4L261.9 300.6L259.1 302.8L260.0 306.4L257.0 304.4L253.9 306.4L254.9 302.8L252.0 300.6L255.7 300.4ZM301.7 316.9L303.0 320.3L306.7 320.5L303.8 322.8L304.8 326.3L301.7 324.3L298.7 326.3L299.7 322.8L296.8 320.5L300.4 320.3ZM279.7 316.3L281.0 319.7L284.6 319.9L281.8 322.2L282.7 325.7L279.7 323.7L276.6 325.7L277.6 322.2L274.7 319.9L278.4 319.7ZM263.6 313.2L264.8 316.6L268.5 316.8L265.6 319.0L266.6 322.6L263.6 320.6L260.5 322.6L261.5 319.0L258.6 316.8L262.3 316.6ZM336.9 287.1L338.2 290.5L341.8 290.7L339.0 293.0L339.9 296.5L336.9 294.5L333.8 296.5L334.8 293.0L331.9 290.7L335.6 290.5ZM315.2 289.4L316.4 292.9L320.1 293.0L317.2 295.3L318.2 298.8L315.2 296.8L312.1 298.8L313.1 295.3L310.2 293.0L313.9 292.9ZM322.1 267.7L323.3 271.1L327.0 271.3L324.1 273.6L325.1 277.1L322.1 275.1L319.0 277.1L320.0 273.6L317.1 271.3L320.8 271.1ZM245.3 325.0h2.2v3.5h3.5v2.2h-3.5v3.5h-2.2v-3.5h-3.5v-2.2h3.5ZM272.1 321.8h2.2v3.5h3.5v2.2h-3.5v3.5h-2.2v-3.5h-3.5v-2.2h3.5ZM293.0 321.4L297.2 325.6L293.0 329.8L288.8 325.6ZM311.2 303.4L312.5 306.8L316.1 307.0L313.3 309.2L314.2 312.8L311.2 310.8L308.1 312.8L309.1 309.2L306.2 307.0L309.9 306.8ZM359.5 263.7L360.8 267.1L364.5 267.3L361.6 269.6L362.6 273.1L359.5 271.1L356.5 273.1L357.4 269.6L354.6 267.3L358.2 267.1ZM235.4 356.6L236.7 360.0L240.3 360.2L237.5 362.5L238.4 366.0L235.4 364.0L232.3 366.0L233.3 362.5L230.4 360.2L234.1 360.0ZM310.6 284.1L311.8 287.5L315.5 287.7L312.6 290.0L313.6 293.5L310.6 291.5L307.5 293.5L308.5 290.0L305.6 287.7L309.3 287.5ZM215.7 342.2L216.9 345.7L220.6 345.8L217.7 348.1L218.7 351.6L215.7 349.6L212.6 351.6L213.6 348.1L210.7 345.8L214.4 345.7ZM201.9 353.1a3.1 3.1 0 1 1 6.2 0a3.1 3.1 0 1 1 -6.2 0ZM278.9 284.3h2.2v3.5h3.5v2.2h-3.5v3.5h-2.2v-3.5h-3.5v-2.2h3.5ZM238.9 316.8L240.2 320.2L243.9 320.3L241.0 322.6L242.0 326.2L238.9 324.1L235.9 326.2L236.9 322.6L234.0 320.3L237.7 320.2ZM185.7 359.4L187.0 362.8L190.7 362.9L187.8 365.2L188.8 368.8L185.7 366.7L182.7 368.8L183.6 365.2L180.8 362.9L184.4 362.8ZM265.7 324.8L267.0 328.2L270.7 328.4L267.8 330.7L268.8 334.2L265.7 332.2L262.7 334.2L263.7 330.7L260.8 328.4L264.4 328.2ZM319.6 294.8L323.8 299.0L319.6 303.2L315.4 299.0ZM220.9 330.1L222.2 333.6L225.8 333.7L223.0 336.0L223.9 339.6L220.9 337.5L217.8 339.6L218.8 336.0L215.9 333.7L219.6 333.6ZM254.1 309.0L255.4 312.5L259.0 312.6L256.2 314.9L257.1 318.4L254.1 316.4L251.0 318.4L252.0 314.9L249.1 312.6L252.8 312.5ZM324.7 285.1h2.2v3.5h3.5v2.2h-3.5v3.5h-2.2v-3.5h-3.5v-2.2h3.5ZM340.5 245.2L341.8 248.6L345.4 248.8L342.5 251.0L343.5 254.6L340.5 252.5L337.4 254.6L338.4 251.0L335.5 248.8L339.2 248.6ZM267.1 301.9L271.3 306.1L267.1 310.3L262.9 306.1ZM246.9 321.1h2.2v3.5h3.5v2.2h-3.5v3.5h-2.2v-3.5h-3.5v-2.2h3.5ZM241.0 333.7L242.3 337.1L245.9 337.3L243.0 339.6L244.0 343.1L241.0 341.1L237.9 343.1L238.9 339.6L236.0 337.3L239.7 337.1ZM184.0 357.0L185.3 360.4L189.0 360.6L186.1 362.8L187.1 366.4L184.0 364.3L181.0 366.4L181.9 362.8L179.1 360.6L182.7 360.4ZM312.3 300.6a3.1 3.1 0 1 1 6.2 0a3.1 3.1 0 1 1 -6.2 0ZM299.1 271.1L300.4 274.5L304.0 274.7L301.2 277.0L302.1 280.5L299.1 278.5L296.0 280.5L297.0 277.0L294.1 274.7L297.8 274.5ZM236.7 330.8L238.0 334.2L241.6 334.4L238.8 336.7L239.8 340.2L236.7 338.2L233.6 340.2L234.6 336.7L231.8 334.4L235.4 334.2ZM255.0 315.1h2.2v3.5h3.5v2.2h-3.5v3.5h-2.2v-3.5h-3.5v-2.2h3.5ZM247.6 313.1h2.2v3.5h3.5v2.2h-3.5v3.5h-2.2v-3.5h-3.5v-2.2h3.5ZM297.1 308.0L298.4 311.5L302.1 311.6L299.2 313.9L300.2 317.4L297.1 315.4L294.1 317.4L295.0 313.9L292.2 311.6L295.8 311.5ZM260.9 312.1L262.2 315.5L265.9 315.7L263.0 318.0L264.0 321.5L260.9 319.5L257.9 321.5L258.8 318.0L256.0 315.7L259.6 315.5ZM327.9 285.1h2.2v3.5h3.5v2.2h-3.5v3.5h-2.2v-3.5h-3.5v-2.2h3.5ZM249.3 319.8h2.2v3.5h3.5v2.2h-3.5v3.5h-2.2v-3.5h-3.5v-2.2h3.5Z"/>
<path fill="#6487cf" d="M277.9 299.9L279.2 303.3L282.9 303.5L280.0 305.8L281.0 309.3L277.9 307.3L274.9 309.3L275.8 305.8L273.0 303.5L276.6 303.3ZM265.4 301.6L266.7 305.0L270.4 305.2L267.5 307.5L268.5 311.0L265.4 309.0L262.4 311.0L263.4 307.5L260.5 305.2L264.2 305.0ZM290.9 338.5h2.2v3.5h3.5v2.2h-3.5v3.5h-2.2v-3.5h-3.5v-2.2h3.5ZM239.1 325.4h2.2v3.5h3.5v2.2h-3.5v3.5h-2.2v-3.5h-3.5v-2.2h3.5ZM289.2 291.7a3.1 3.1 0 1 1 6.2 0a3.1 3.1 0 1 1 -6.2 0ZM354.3 306.5L355.6 309.9L359.3 310.1L356.4 312.4L357.4 315.9L354.3 313.9L351.3 315.9L352.3 312.4L349.4 310.1L353.1 309.9ZM324.6 268.5L328.8 272.7L324.6 276.9L320.4 272.7ZM311.6 290.8L312.9 294.2L316.6 294.4L313.7 296.7L314.7 300.2L311.6 298.2L308.6 300.2L309.6 296.7L306.7 294.4L310.4 294.2ZM270.2 300.9L274.4 305.1L270.2 309.3L266.0 305.1ZM495.9 180.6L500.1 184.8L495.9 189.0L491.7 184.8ZM301.3 306.8h2.2v3.5h3.5v2.2h-3.5v3.5h-2.2v-3.5h-3.5v-2.2h3.5ZM246.3 299.6L247.6 303.0L251.2 303.2L248.4 305.4L249.3 309.0L246.3 306.9L243.2 309.0L244.2 305.4L241.3 303.2L245.0 303.0ZM407.4 224.4L411.6 228.6L407.4 232.8L403.2 228.6ZM403.4 245.9L407.6 250.1L403.4 254.3L399.2 250.1ZM299.8 320.0a3.1 3.1 0 1 1 6.2 0a3.1 3.1 0 1 1 -6.2 0ZM425.7 211.6L427.0 215.0L430.7 215.2L427.8 217.5L428.8 221.0L425.7 219.0L422.7 221.0L423.6 217.5L420.8 215.2L424.4 215.0ZM320.9 253.8L325.1 258.0L320.9 262.2L316.7 258.0ZM306.8 292.2h2.2v3.5h3.5v2.2h-3.5v3.5h-2.2v-3.5h-3.5v-2.2h3.5ZM339.0 254.7h2.2v3.5h3.5v2.2h-3.5v3.5h-2.2v-3.5h-3.5v-2.2h3.5ZM267.2 323.3L268.5 326.8L272.1 326.9L269.3 329.2L270.2 332.7L267.2 330.7L264.1 332.7L265.1 329.2L262.2 326.9L265.9 326.8ZM267.8 267.2L272.0 271.4L267.8 275.6L263.6 271.4ZM250.0 310.3h2.2v3.5h3.5v2.2h-3.5v3.5h-2.2v-3.5h-3.5v-2.2h3.5ZM320.3 268.1L321.6 271.6L325.3 271.7L322.4 274.0L323.4 277.5L320.3 275.5L317.3 277.5L318.3 274.0L315.4 271.7L319.0 271.6ZM299.5 279.8L300.8 283.2L304.5 283.4L301.6 285.6L302.6 289.2L299.5 287.1L296.5 289.2L297.5 285.6L294.6 283.4L298.3 283.2ZM294.1 309.4h2.2v3.5h3.5v2.2h-3.5v3.5h-2.2v-3.5h-3.5v-2.2h3.5ZM349.3 258.1L353.5 262.3L349.3 266.5L345.1 262.3ZM274.0 317.5L275.3 321.0L279.0 321.1L276.1 323.4L277.1 326.9L274.0 324.9L271.0 326.9L272.0 323.4L269.1 321.1L272.8 321.0ZM290.2 332.5h2.2v3.5h3.5v2.2h-3.5v3.5h-2.2v-3.5h-3.5v-2.2h3.5ZM414.8 221.8a3.1 3.1 0 1 1 6.2 0a3.1 3.1 0 1 1 -6.2 0ZM394.4 238.2h2.2v3.5h3.5v2.2h-3.5v3.5h-2.2v-3.5h-3.5v-2.2h3.5ZM394.7 251.8L398.9 256.0L394.7 260.2L390.5 256.0ZM430.2 249.4L434.4 253.6L430.2 257.8L426.0 253.6ZM306.1 292.2L307.3 295.6L311.0 295.7L308.1 298.0L309.1 301.6L306.1 299.5L303.0 301.6L304.0 298.0L301.1 295.7L304.8 295.6ZM333.3 289.2L337.5 293.4L333.3 297.6L329.1 293.4ZM336.5 305.0L337.8 308.4L341.5 308.6L338.6 310.8L339.6 314.4L336.5 312.3L333.5 314.4L334.5 310.8L331.6 308.6L335.3 308.4ZM428.7 240.6L432.9 244.8L428.7 249.0L424.5 244.8ZM444.5 256.0L445.8 259.4L449.4 259.6L446.5 261.9L447.5 265.4L444.5 263.4L441.4 265.4L442.4 261.9L439.5 259.6L443.2 259.4ZM296.9 280.7h2.2v3.5h3.5v2.2h-3.5v3.5h-2.2v-3.5h-3.5v-2.2h3.5ZM324.4 314.3L328.6 318.5L324.4 322.7L320.2 318.5ZM334.7 286.0L338.9 290.2L334.7 294.4L330.5 290.2ZM276.2 308.0h2.2v3.5h3.5v2.2h-3.5v3.5h-2.2v-3.5h-3.5v-2.2h3.5ZM299.2 279.9h2.2v3.5h3.5v2.2h-3.5v3.5h-2.2v-3.5h-3.5v-2.2h3.5ZM262.9 317.4h2.2v3.5h3.5v2.2h-3.5v3.5h-2.2v-3.5h-3.5v-2.2h3.5ZM310.5 280.1L314.7 284.3L310.5 288.5L306.3 284.3ZM233.7 327.9L235.0 331.3L238.7 331.5L235.8 333.8L236.8 337.3L233.7 335.3L230.7 337.3L231.7 333.8L228.8 331.5L232.5 331.3ZM285.3 288.0L289.5 292.2L285.3 296.4L281.1 292.2ZM335.2 273.4L339.4 277.6L335.2 281.8L331.0 277.6ZM288.1 309.8L292.3 314.0L288.1 318.2L283.9 314.0ZM283.8 277.4L285.1 280.9L288.7 281.0L285.8 283.3L286.8 286.8L283.8 284.8L280.7 286.8L281.7 283.3L278.8 281.0L282.5 280.9ZM363.3 243.3h2.2v3.5h3.5v2.2h-3.5v3.5h-2.2v-3.5h-3.5v-2.2h3.5ZM385.8 242.5h2.2v3.5h3.5v2.2h-3.5v3.5h-2.2v-3.5h-3.5v-2.2h3.5ZM286.8 299.7L288.1 303.1L291.7 303.3L288.9 305.5L289.8 309.1L286.8 307.1L283.7 309.1L284.7 305.5L281.8 303.3L285.5 303.1ZM251.5 318.4L252.7 321.8L256.4 322.0L253.5 324.3L254.5 327.8L251.5 325.8L248.4 327.8L249.4 324.3L246.5 322.0L250.2 321.8ZM411.1 250.1L412.4 253.6L416.0 253.7L413.2 256.0L414.1 259.6L411.1 257.5L408.0 259.6L409.0 256.0L406.1 253.7L409.8 253.6ZM444.2 233.9L445.5 237.3L449.1 237.5L446.3 239.8L447.3 243.3L444.2 241.3L441.1 243.3L442.1 239.8L439.3 237.5L442.9 237.3ZM408.9 237.9h2.2v3.5h3.5v2.2h-3.5v3.5h-2.2v-3.5h-3.5v-2.2h3.5ZM278.1 312.8L282.3 317.0L278.1 321.2L273.9 317.0ZM326.7 253.6L330.9 257.8L326.7 262.0L322.5 257.8ZM396.9 259.8L398.2 263.3L401.8 263.4L399.0 265.7L399.9 269.3L396.9 267.2L393.8 269.3L394.8 265.7L391.9 263.4L395.6 263.3ZM282.8 317.0L284.1 320.4L287.7 320.6L284.9 322.9L285.9 326.4L282.8 324.4L279.7 326.4L280.7 322.9L277.9 320.6L281.5 320.4ZM343.6 232.2L344.9 235.6L348.6 235.8L345.7 238.1L346.7 241.6L343.6 239.6L340.6 241.6L341.6 238.1L338.7 235.8L342.3 235.6ZM321.5 265.9L322.8 269.4L326.4 269.5L323.6 271.8L324.6 275.3L321.5 273.3L318.4 275.3L319.4 271.8L316.6 269.5L320.2 269.4ZM298.8 273.0a3.1 3.1 0 1 1 6.2 0a3.1 3.1 0 1 1 -6.2 0ZM365.5 258.5L369.7 262.7L365.5 266.9L361.3 262.7ZM268.5 314.7L269.8 318.2L273.5 318.3L270.6 320.6L271.6 324.1L268.5 322.1L265.5 324.1L266.5 320.6L263.6 318.3L267.3 318.2ZM305.6 285.9L309.8 290.1L305.6 294.3L301.4 290.1ZM322.9 270.7L324.2 274.2L327.8 274.3L324.9 276.6L325.9 280.2L322.9 278.1L319.8 280.2L320.8 276.6L317.9 274.3L321.6 274.2ZM274.9 302.8L276.2 306.2L279.9 306.4L277.0 308.7L278.0 312.2L274.9 310.2L271.9 312.2L272.9 308.7L270.0 306.4L273.7 306.2ZM379.3 231.9L383.5 236.1L379.3 240.3L375.1 236.1ZM287.1 305.5L288.4 309.0L292.1 309.1L289.2 311.4L290.2 314.9L287.1 312.9L284.1 314.9L285.0 311.4L282.2 309.1L285.8 309.0ZM318.9 286.7h2.2v3.5h3.5v2.2h-3.5v3.5h-2.2v-3.5h-3.5v-2.2h3.5ZM382.4 257.4L383.7 260.8L387.4 261.0L384.5 263.3L385.5 266.8L382.4 264.8L379.4 266.8L380.4 263.3L377.5 261.0L381.2 260.8ZM326.1 285.9L327.3 289.4L331.0 289.5L328.1 291.8L329.1 295.3L326.1 293.3L323.0 295.3L324.0 291.8L321.1 289.5L324.8 289.4ZM228.1 339.1L232.3 343.3L228.1 347.5L223.9 343.3ZM255.3 299.8h2.2v3.5h3.5v2.2h-3.5v3.5h-2.2v-3.5h-3.5v-2.2h3.5ZM392.3 237.7L393.6 241.1L397.3 241.3L394.4 243.6L395.4 247.1L392.3 245.1L389.3 247.1L390.2 243.6L387.4 241.3L391.0 241.1ZM430.7 219.3L432.0 222.8L435.7 222.9L432.8 225.2L433.8 228.7L430.7 226.7L427.7 228.7L428.7 225.2L425.8 222.9L429.5 222.8ZM310.6 283.7L314.8 287.9L310.6 292.1L306.4 287.9ZM331.9 274.3L333.1 277.7L336.8 277.9L333.9 280.2L334.9 283.7L331.9 281.7L328.8 283.7L329.8 280.2L326.9 277.9L330.6 277.7ZM262.3 309.1h2.2v3.5h3.5v2.2h-3.5v3.5h-2.2v-3.5h-3.5v-2.2h3.5ZM427.5 210.0a3.1 3.1 0 1 1 6.2 0a3.1 3.1 0 1 1 -6.2 0ZM286.3 315.5L290.5 319.7L286.3 323.9L282.1 319.7ZM223.3 347.1a3.1 3.1 0 1 1 6.2 0a3.1 3.1 0 1 1 -6.2 0ZM396.9 260.5L398.2 263.9L401.9 264.1L399.0 266.3L400.0 269.9L396.9 267.9L393.9 269.9L394.8 266.3L392.0 264.1L395.6 263.9ZM391.6 236.2L395.8 240.4L391.6 244.6L387.4 240.4ZM254.5 339.1L258.7 343.3L254.5 347.5L250.3 343.3ZM425.2 228.5L426.4 231.9L430.1 232.1L427.2 234.4L428.2 237.9L425.2 235.9L422.1 237.9L423.1 234.4L420.2 232.1L423.9 231.9ZM417.9 234.5L422.1 238.7L417.9 242.9L413.7 238.7ZM378.9 239.7L383.1 243.9L378.9 248.1L374.7 243.9ZM315.4 255.8h2.2v3.5h3.5v2.2h-3.5v3.5h-2.2v-3.5h-3.5v-2.2h3.5ZM344.2 272.5L348.4 276.7L344.2 280.9L340.0 276.7ZM407.3 241.8a3.1 3.1 0 1 1 6.2 0a3.1 3.1 0 1 1 -6.2 0ZM323.7 288.7h2.2v3.5h3.5v2.2h-3.5v3.5h-2.2v-3.5h-3.5v-2.2h3.5ZM256.2 299.8L257.5 303.2L261.2 303.4L258.3 305.7L259.3 309.2L256.2 307.2L253.2 309.2L254.1 305.7L251.3 303.4L254.9 303.2ZM246.5 309.0L247.8 312.4L251.5 312.6L248.6 314.9L249.6 318.4L246.5 316.4L243.5 318.4L244.5 314.9L241.6 312.6L245.3 312.4ZM312.1 295.2L313.4 298.6L317.1 298.8L314.2 301.0L315.2 304.6L312.1 302.6L309.1 304.6L310.0 301.0L307.2 298.8L310.8 298.6ZM300.1 275.9L301.4 279.3L305.1 279.5L302.2 281.8L303.2 285.3L300.1 283.3L297.1 285.3L298.1 281.8L295.2 279.5L298.9 279.3ZM307.6 295.3L308.9 298.7L312.5 298.8L309.6 301.1L310.6 304.7L307.6 302.6L304.5 304.7L305.5 301.1L302.6 298.8L306.3 298.7ZM457.6 218.4L458.9 221.8L462.6 222.0L459.7 224.3L460.7 227.8L457.6 225.8L454.6 227.8L455.6 224.3L452.7 222.0L456.4 221.8ZM234.5 330.2a3.1 3.1 0 1 1 6.2 0a3.1 3.1 0 1 1 -6.2 0ZM297.4 286.7h2.2v3.5h3.5v2.2h-3.5v3.5h-2.2v-3.5h-3.5v-2.2h3.5ZM357.7 267.9L361.9 272.1L357.7 276.3L353.5 272.1ZM236.2 326.0a3.1 3.1 0 1 1 6.2 0a3.1 3.1 0 1 1 -6.2 0ZM348.9 244.6L350.2 248.1L353.9 248.2L351.0 250.5L352.0 254.0L348.9 252.0L345.8 254.0L346.8 250.5L344.0 248.2L347.6 248.1ZM303.8 276.7h2.2v3.5h3.5v2.2h-3.5v3.5h-2.2v-3.5h-3.5v-2.2h3.5ZM331.5 249.2L335.7 253.4L331.5 257.6L327.3 253.4ZM415.9 234.1h2.2v3.5h3.5v2.2h-3.5v3.5h-2.2v-3.5h-3.5v-2.2h3.5ZM226.1 335.2L227.4 338.7L231.1 338.8L228.2 341.1L229.2 344.7L226.1 342.6L223.1 344.7L224.1 341.1L221.2 338.8L224.9 338.7ZM356.1 254.7h2.2v3.5h3.5v2.2h-3.5v3.5h-2.2v-3.5h-3.5v-2.2h3.5ZM276.2 337.0L280.4 341.2L276.2 345.4L272.0 341.2ZM282.8 281.7L287.0 285.9L282.8 290.1L278.6 285.9ZM323.3 311.2L324.6 314.7L328.3 314.8L325.4 317.1L326.4 320.6L323.3 318.6L320.3 320.6L321.3 317.1L318.4 314.8L322.0 314.7ZM432.7 238.1h2.2v3.5h3.5v2.2h-3.5v3.5h-2.2v-3.5h-3.5v-2.2h3.5ZM252.1 332.5L256.3 336.7L252.1 340.9L247.9 336.7ZM312.0 303.7L313.3 307.2L317.0 307.3L314.1 309.6L315.1 313.1L312.0 311.1L309.0 313.1L310.0 309.6L307.1 307.3L310.8 307.2ZM295.2 309.5L296.5 312.9L300.2 313.1L297.3 315.3L298.3 318.9L295.2 316.9L292.1 318.9L293.1 315.3L290.3 313.1L293.9 312.9ZM466.0 213.0L467.3 216.4L470.9 216.6L468.1 218.9L469.1 222.4L466.0 220.4L462.9 222.4L463.9 218.9L461.1 216.6L464.7 216.4ZM261.7 323.2h2.2v3.5h3.5v2.2h-3.5v3.5h-2.2v-3.5h-3.5v-2.2h3.5ZM370.4 253.9L371.7 257.3L375.3 257.5L372.5 259.8L373.4 263.3L370.4 261.3L367.3 263.3L368.3 259.8L365.4 257.5L369.1 257.3ZM306.5 272.8L307.8 276.2L311.5 276.4L308.6 278.6L309.6 282.2L306.5 280.1L303.5 282.2L304.5 278.6L301.6 276.4L305.3 276.2ZM328.7 238.7h2.2v3.5h3.5v2.2h-3.5v3.5h-2.2v-3.5h-3.5v-2.2h3.5ZM377.1 251.3L378.3 254.7L382.0 254.9L379.1 257.2L380.1 260.7L377.1 258.7L374.0 260.7L375.0 257.2L372.1 254.9L375.8 254.7ZM427.9 207.9L429.2 211.4L432.8 211.5L430.0 213.8L430.9 217.3L427.9 215.3L424.8 217.3L425.8 213.8L422.9 211.5L426.6 211.4ZM460.2 217.3L461.5 220.8L465.2 220.9L462.3 223.2L463.3 226.7L460.2 224.7L457.2 226.7L458.2 223.2L455.3 220.9L458.9 220.8ZM347.7 243.8a3.1 3.1 0 1 1 6.2 0a3.1 3.1 0 1 1 -6.2 0ZM227.3 316.2h2.2v3.5h3.5v2.2h-3.5v3.5h-2.2v-3.5h-3.5v-2.2h3.5ZM268.6 327.0L269.9 330.4L273.6 330.6L270.7 332.9L271.7 336.4L268.6 334.4L265.6 336.4L266.6 332.9L263.7 330.6L267.4 330.4ZM359.3 276.8L360.6 280.2L364.3 280.4L361.4 282.6L362.4 286.2L359.3 284.2L356.3 286.2L357.2 282.6L354.4 280.4L358.0 280.2ZM312.8 266.0L314.1 269.5L317.7 269.6L314.9 271.9L315.8 275.4L312.8 273.4L309.7 275.4L310.7 271.9L307.8 269.6L311.5 269.5ZM293.1 317.7L297.3 321.9L293.1 326.1L288.9 321.9ZM466.8 235.1L471.0 239.3L466.8 243.5L462.6 239.3ZM323.6 295.2L324.9 298.6L328.6 298.7L325.7 301.0L326.7 304.6L323.6 302.5L320.6 304.6L321.6 301.0L318.7 298.7L322.3 298.6ZM197.1 359.8h2.2v3.5h3.5v2.2h-3.5v3.5h-2.2v-3.5h-3.5v-2.2h3.5ZM337.8 281.2L342.0 285.4L337.8 289.6L333.6 285.4ZM303.9 311.3L305.2 314.7L308.9 314.9L306.0 317.2L307.0 320.7L303.9 318.7L300.9 320.7L301.8 317.2L299.0 314.9L302.6 314.7ZM279.6 297.7L283.8 301.9L279.6 306.1L275.4 301.9ZM250.9 313.9L252.2 317.3L255.9 317.5L253.0 319.8L254.0 323.3L250.9 321.3L247.9 323.3L248.9 319.8L246.0 317.5L249.7 317.3ZM287.6 301.2L288.9 304.6L292.6 304.8L289.7 307.0L290.7 310.6L287.6 308.5L284.6 310.6L285.5 307.0L282.7 304.8L286.3 304.6ZM277.6 311.8L281.8 316.0L277.6 320.2L273.4 316.0ZM480.8 184.8L482.0 188.2L485.7 188.4L482.8 190.7L483.8 194.2L480.8 192.2L477.7 194.2L478.7 190.7L475.8 188.4L479.5 188.2ZM389.8 264.5a3.1 3.1 0 1 1 6.2 0a3.1 3.1 0 1 1 -6.2 0ZM293.8 308.6h2.2v3.5h3.5v2.2h-3.5v3.5h-2.2v-3.5h-3.5v-2.2h3.5ZM282.0 276.3L283.3 279.7L286.9 279.9L284.1 282.2L285.1 285.7L282.0 283.7L278.9 285.7L279.9 282.2L277.1 279.9L280.7 279.7ZM274.6 307.2h2.2v3.5h3.5v2.2h-3.5v3.5h-2.2v-3.5h-3.5v-2.2h3.5ZM392.7 251.8h2.2v3.5h3.5v2.2h-3.5v3.5h-2.2v-3.5h-3.5v-2.2h3.5ZM289.4 285.3h2.2v3.5h3.5v2.2h-3.5v3.5h-2.2v-3.5h-3.5v-2.2h3.5ZM298.6 269.3L299.9 272.7L303.6 272.8L300.7 275.1L301.7 278.7L298.6 276.6L295.6 278.7L296.6 275.1L293.7 272.8L297.4 272.7ZM295.4 321.1h2.2v3.5h3.5v2.2h-3.5v3.5h-2.2v-3.5h-3.5v-2.2h3.5ZM351.1 234.3h2.2v3.5h3.5v2.2h-3.5v3.5h-2.2v-3.5h-3.5v-2.2h3.5ZM403.5 224.7L404.8 228.1L408.5 228.3L405.6 230.6L406.6 234.1L403.5 232.1L400.5 234.1L401.4 230.6L398.6 228.3L402.2 228.1ZM245.8 315.3L247.1 318.7L250.8 318.9L247.9 321.1L248.9 324.7L245.8 322.7L242.8 324.7L243.7 321.1L240.9 318.9L244.5 318.7ZM324.3 286.0h2.2v3.5h3.5v2.2h-3.5v3.5h-2.2v-3.5h-3.5v-2.2h3.5ZM477.5 203.1h2.2v3.5h3.5v2.2h-3.5v3.5h-2.2v-3.5h-3.5v-2.2h3.5ZM290.7 312.8a3.1 3.1 0 1 1 6.2 0a3.1 3.1 0 1 1 -6.2 0ZM302.6 322.5L306.8 326.7L302.6 330.9L298.4 326.7ZM408.1 221.3h2.2v3.5h3.5v2.2h-3.5v3.5h-2.2v-3.5h-3.5v-2.2h3.5ZM387.9 255.1h2.2v3.5h3.5v2.2h-3.5v3.5h-2.2v-3.5h-3.5v-2.2h3.5ZM245.4 328.7L246.7 332.1L250.4 332.3L247.5 334.6L248.5 338.1L245.4 336.1L242.3 338.1L243.3 334.6L240.5 332.3L244.1 332.1ZM318.5 274.8L322.7 279.0L318.5 283.2L314.3 279.0ZM251.2 341.5a3.1 3.1 0 1 1 6.2 0a3.1 3.1 0 1 1 -6.2 0ZM332.1 270.5L333.4 274.0L337.1 274.1L334.2 276.4L335.2 279.9L332.1 277.9L329.1 279.9L330.0 276.4L327.2 274.1L330.8 274.0ZM333.5 260.3L334.8 263.8L338.4 263.9L335.6 266.2L336.6 269.7L333.5 267.7L330.4 269.7L331.4 266.2L328.6 263.9L332.2 263.8ZM304.5 297.0L305.8 300.5L309.4 300.6L306.5 302.9L307.5 306.4L304.5 304.4L301.4 306.4L302.4 302.9L299.5 300.6L303.2 300.5ZM313.0 274.6L314.3 278.0L318.0 278.2L315.1 280.5L316.1 284.0L313.0 282.0L310.0 284.0L310.9 280.5L308.1 278.2L311.7 278.0ZM354.7 274.4h2.2v3.5h3.5v2.2h-3.5v3.5h-2.2v-3.5h-3.5v-2.2h3.5ZM319.5 270.1L320.8 273.5L324.5 273.7L321.6 275.9L322.6 279.5L319.5 277.5L316.5 279.5L317.5 275.9L314.6 273.7L318.3 273.5ZM244.0 329.9L245.2 333.3L248.9 333.5L246.0 335.8L247.0 339.3L244.0 337.3L240.9 339.3L241.9 335.8L239.0 333.5L242.7 333.3ZM310.1 295.7L314.3 299.9L310.1 304.1L305.9 299.9ZM300.9 288.3a3.1 3.1 0 1 1 6.2 0a3.1 3.1 0 1 1 -6.2 0ZM470.8 203.2L472.1 206.6L475.8 206.8L472.9 209.0L473.9 212.6L470.8 210.5L467.8 212.6L468.8 209.0L465.9 206.8L469.6 206.6ZM279.5 306.5L280.8 310.0L284.5 310.1L281.6 312.4L282.6 315.9L279.5 313.9L276.5 315.9L277.5 312.4L274.6 310.1L278.2 310.0ZM286.2 314.7h2.2v3.5h3.5v2.2h-3.5v3.5h-2.2v-3.5h-3.5v-2.2h3.5ZM412.6 226.7a3.1 3.1 0 1 1 6.2 0a3.1 3.1 0 1 1 -6.2 0ZM286.8 283.4h2.2v3.5h3.5v2.2h-3.5v3.5h-2.2v-3.5h-3.5v-2.2h3.5ZM248.9 359.6L250.2 363.0L253.8 363.2L251.0 365.5L251.9 369.0L248.9 367.0L245.8 369.0L246.8 365.5L243.9 363.2L247.6 363.0ZM263.3 322.2L267.5 326.4L263.3 330.6L259.1 326.4ZM399.3 272.0h2.2v3.5h3.5v2.2h-3.5v3.5h-2.2v-3.5h-3.5v-2.2h3.5ZM298.2 295.0L299.5 298.5L303.2 298.6L300.3 300.9L301.3 304.4L298.2 302.4L295.2 304.4L296.1 300.9L293.3 298.6L296.9 298.5ZM251.7 354.4h2.2v3.5h3.5v2.2h-3.5v3.5h-2.2v-3.5h-3.5v-2.2h3.5ZM286.7 301.9h2.2v3.5h3.5v2.2h-3.5v3.5h-2.2v-3.5h-3.5v-2.2h3.5Z"/>
<path fill="#dededc" d="M539.9 171.1a3.1 3.1 0 1 1 6.2 0a3.1 3.1 0 1 1 -6.2 0ZM403.5 260.4a3.1 3.1 0 1 1 6.2 0a3.1 3.1 0 1 1 -6.2 0ZM564.3 177.1L568.5 181.3L564.3 185.5L560.1 181.3ZM483.9 189.6h2.2v3.5h3.5v2.2h-3.5v3.5h-2.2v-3.5h-3.5v-2.2h3.5ZM549.2 144.1a3.1 3.1 0 1 1 6.2 0a3.1 3.1 0 1 1 -6.2 0ZM576.2 120.6a3.1 3.1 0 1 1 6.2 0a3.1 3.1 0 1 1 -6.2 0ZM361.0 236.6L365.2 240.8L361.0 245.0L356.8 240.8ZM422.4 207.0h2.2v3.5h3.5v2.2h-3.5v3.5h-2.2v-3.5h-3.5v-2.2h3.5ZM506.2 174.7L507.5 178.1L511.1 178.2L508.3 180.5L509.2 184.1L506.2 182.0L503.1 184.1L504.1 180.5L501.2 178.2L504.9 178.1ZM463.3 202.5h2.2v3.5h3.5v2.2h-3.5v3.5h-2.2v-3.5h-3.5v-2.2h3.5ZM553.9 117.7L555.1 121.2L558.8 121.3L555.9 123.6L556.9 127.1L553.9 125.1L550.8 127.1L551.8 123.6L548.9 121.3L552.6 121.2ZM543.2 173.5a3.1 3.1 0 1 1 6.2 0a3.1 3.1 0 1 1 -6.2 0ZM312.2 301.0a3.1 3.1 0 1 1 6.2 0a3.1 3.1 0 1 1 -6.2 0ZM483.0 152.3L484.3 155.8L488.0 155.9L485.1 158.2L486.1 161.7L483.0 159.7L480.0 161.7L481.0 158.2L478.1 155.9L481.7 155.8ZM481.8 211.8L486.0 216.0L481.8 220.2L477.6 216.0ZM371.6 231.0a3.1 3.1 0 1 1 6.2 0a3.1 3.1 0 1 1 -6.2 0ZM545.2 153.6L546.4 157.0L550.1 157.2L547.2 159.5L548.2 163.0L545.2 161.0L542.1 163.0L543.1 159.5L540.2 157.2L543.9 157.0ZM526.0 152.3a3.1 3.1 0 1 1 6.2 0a3.1 3.1 0 1 1 -6.2 0ZM547.8 147.5L552.0 151.7L547.8 155.9L543.6 151.7ZM325.1 291.8a3.1 3.1 0 1 1 6.2 0a3.1 3.1 0 1 1 -6.2 0ZM457.0 215.6a3.1 3.1 0 1 1 6.2 0a3.1 3.1 0 1 1 -6.2 0ZM351.9 270.5L353.2 274.0L356.8 274.1L353.9 276.4L354.9 279.9L351.9 277.9L348.8 279.9L349.8 276.4L346.9 274.1L350.6 274.0ZM327.1 271.4L331.3 275.6L327.1 279.8L322.9 275.6ZM538.7 151.4L542.9 155.6L538.7 159.8L534.5 155.6ZM584.1 134.4a3.1 3.1 0 1 1 6.2 0a3.1 3.1 0 1 1 -6.2 0ZM383.8 225.1L388.0 229.3L383.8 233.5L379.6 229.3ZM360.1 272.1L364.3 276.3L360.1 280.5L355.9 276.3ZM577.6 119.9a3.1 3.1 0 1 1 6.2 0a3.1 3.1 0 1 1 -6.2 0ZM573.4 125.2L574.7 128.6L578.4 128.7L575.5 131.0L576.5 134.6L573.4 132.5L570.4 134.6L571.3 131.0L568.5 128.7L572.1 128.6ZM426.2 222.5L430.4 226.7L426.2 230.9L422.0 226.7ZM446.4 211.8a3.1 3.1 0 1 1 6.2 0a3.1 3.1 0 1 1 -6.2 0ZM362.5 249.1L366.7 253.3L362.5 257.5L358.3 253.3ZM345.2 289.9L349.4 294.1L345.2 298.3L341.0 294.1ZM338.4 267.3L342.6 271.5L338.4 275.7L334.2 271.5ZM406.1 239.3L410.3 243.5L406.1 247.7L401.9 243.5ZM565.0 149.6L566.3 153.0L570.0 153.2L567.1 155.5L568.1 159.0L565.0 157.0L562.0 159.0L563.0 155.5L560.1 153.2L563.7 153.0ZM521.1 162.4L522.4 165.8L526.0 166.0L523.1 168.3L524.1 171.8L521.1 169.8L518.0 171.8L519.0 168.3L516.1 166.0L519.8 165.8ZM534.6 205.1L538.8 209.3L534.6 213.5L530.4 209.3ZM474.0 205.5L478.2 209.7L474.0 213.9L469.8 209.7ZM450.6 185.2L454.8 189.4L450.6 193.6L446.4 189.4ZM487.9 195.1a3.1 3.1 0 1 1 6.2 0a3.1 3.1 0 1 1 -6.2 0ZM546.9 156.1L551.1 160.3L546.9 164.5L542.7 160.3ZM359.2 306.2h2.2v3.5h3.5v2.2h-3.5v3.5h-2.2v-3.5h-3.5v-2.2h3.5ZM412.4 226.2L413.7 229.7L417.4 229.8L414.5 232.1L415.5 235.6L412.4 233.6L409.4 235.6L410.3 232.1L407.5 229.8L411.1 229.7ZM326.7 281.8a3.1 3.1 0 1 1 6.2 0a3.1 3.1 0 1 1 -6.2 0ZM465.9 194.9L470.1 199.1L465.9 203.3L461.7 199.1ZM534.1 146.4L538.3 150.6L534.1 154.8L529.9 150.6ZM524.9 151.4L529.1 155.6L524.9 159.8L520.7 155.6ZM480.9 195.7a3.1 3.1 0 1 1 6.2 0a3.1 3.1 0 1 1 -6.2 0ZM451.8 205.4a3.1 3.1 0 1 1 6.2 0a3.1 3.1 0 1 1 -6.2 0ZM549.7 175.9a3.1 3.1 0 1 1 6.2 0a3.1 3.1 0 1 1 -6.2 0ZM469.0 176.7L473.2 180.9L469.0 185.1L464.8 180.9ZM472.7 201.4L476.9 205.6L472.7 209.8L468.5 205.6ZM405.3 211.8L406.6 215.2L410.3 215.4L407.4 217.7L408.4 221.2L405.3 219.2L402.3 221.2L403.3 217.7L400.4 215.4L404.1 215.2ZM512.0 171.1a3.1 3.1 0 1 1 6.2 0a3.1 3.1 0 1 1 -6.2 0ZM484.8 186.1L489.0 190.3L484.8 194.5L480.6 190.3ZM563.7 132.6L565.0 136.0L568.7 136.2L565.8 138.5L566.8 142.0L563.7 140.0L560.7 142.0L561.6 138.5L558.8 136.2L562.4 136.0ZM548.4 161.7a3.1 3.1 0 1 1 6.2 0a3.1 3.1 0 1 1 -6.2 0ZM568.5 160.5L569.8 164.0L573.4 164.1L570.6 166.4L571.5 170.0L568.5 167.9L565.4 170.0L566.4 166.4L563.5 164.1L567.2 164.0ZM535.8 121.6L537.0 125.0L540.7 125.2L537.8 127.5L538.8 131.0L535.8 129.0L532.7 131.0L533.7 127.5L530.8 125.2L534.5 125.0ZM585.1 129.9a3.1 3.1 0 1 1 6.2 0a3.1 3.1 0 1 1 -6.2 0ZM410.4 231.0h2.2v3.5h3.5v2.2h-3.5v3.5h-2.2v-3.5h-3.5v-2.2h3.5ZM530.8 158.7h2.2v3.5h3.5v2.2h-3.5v3.5h-2.2v-3.5h-3.5v-2.2h3.5ZM351.6 261.4L352.9 264.9L356.6 265.0L353.7 267.3L354.7 270.9L351.6 268.8L348.6 270.9L349.6 267.3L346.7 265.0L350.3 264.9ZM447.1 212.6L451.3 216.8L447.1 221.0L442.9 216.8ZM443.5 212.0h2.2v3.5h3.5v2.2h-3.5v3.5h-2.2v-3.5h-3.5v-2.2h3.5ZM576.4 145.1a3.1 3.1 0 1 1 6.2 0a3.1 3.1 0 1 1 -6.2 0ZM448.8 212.6a3.1 3.1 0 1 1 6.2 0a3.1 3.1 0 1 1 -6.2 0ZM348.7 257.3L350.0 260.7L353.7 260.9L350.8 263.2L351.8 266.7L348.7 264.7L345.7 266.7L346.6 263.2L343.8 260.9L347.4 260.7ZM531.7 141.7a3.1 3.1 0 1 1 6.2 0a3.1 3.1 0 1 1 -6.2 0ZM432.3 219.5L436.5 223.7L432.3 227.9L428.1 223.7ZM470.4 212.6L474.6 216.8L470.4 221.0L466.2 216.8ZM434.1 260.7L438.3 264.9L434.1 269.1L429.9 264.9ZM514.6 155.9L518.8 160.1L514.6 164.3L510.4 160.1ZM535.1 161.9a3.1 3.1 0 1 1 6.2 0a3.1 3.1 0 1 1 -6.2 0ZM435.1 207.8a3.1 3.1 0 1 1 6.2 0a3.1 3.1 0 1 1 -6.2 0ZM361.6 258.9L365.8 263.1L361.6 267.3L357.4 263.1ZM502.4 147.2L506.6 151.4L502.4 155.6L498.2 151.4ZM537.5 153.5L541.7 157.7L537.5 161.9L533.3 157.7ZM574.5 141.0L575.7 144.5L579.4 144.6L576.5 146.9L577.5 150.5L574.5 148.4L571.4 150.5L572.4 146.9L569.5 144.6L573.2 144.5ZM439.3 200.9L443.5 205.1L439.3 209.3L435.1 205.1ZM532.4 178.0L533.6 181.5L537.3 181.6L534.4 183.9L535.4 187.4L532.4 185.4L529.3 187.4L530.3 183.9L527.4 181.6L531.1 181.5ZM457.4 193.6h2.2v3.5h3.5v2.2h-3.5v3.5h-2.2v-3.5h-3.5v-2.2h3.5ZM431.7 212.3L433.0 215.8L436.6 215.9L433.7 218.2L434.7 221.7L431.7 219.7L428.6 221.7L429.6 218.2L426.7 215.9L430.4 215.8ZM324.5 299.5a3.1 3.1 0 1 1 6.2 0a3.1 3.1 0 1 1 -6.2 0ZM513.4 159.7L514.6 163.1L518.3 163.3L515.4 165.6L516.4 169.1L513.4 167.1L510.3 169.1L511.3 165.6L508.4 163.3L512.1 163.1ZM506.5 177.0L510.7 181.2L506.5 185.4L502.3 181.2ZM434.8 224.2h2.2v3.5h3.5v2.2h-3.5v3.5h-2.2v-3.5h-3.5v-2.2h3.5ZM357.3 267.3L361.5 271.5L357.3 275.7L353.1 271.5ZM442.8 204.4L447.0 208.6L442.8 212.8L438.6 208.6ZM437.6 246.7L438.9 250.2L442.6 250.3L439.7 252.6L440.7 256.1L437.6 254.1L434.5 256.1L435.5 252.6L432.7 250.3L436.3 250.2ZM418.6 220.8h2.2v3.5h3.5v2.2h-3.5v3.5h-2.2v-3.5h-3.5v-2.2h3.5ZM571.4 120.5L575.6 124.7L571.4 128.9L567.2 124.7ZM369.6 270.0L373.8 274.2L369.6 278.4L365.4 274.2ZM465.3 195.0a3.1 3.1 0 1 1 6.2 0a3.1 3.1 0 1 1 -6.2 0ZM581.1 135.3L585.3 139.5L581.1 143.7L576.9 139.5ZM557.9 176.2h2.2v3.5h3.5v2.2h-3.5v3.5h-2.2v-3.5h-3.5v-2.2h3.5ZM358.5 218.4L359.8 221.9L363.4 222.0L360.6 224.3L361.6 227.8L358.5 225.8L355.4 227.8L356.4 224.3L353.6 222.0L357.2 221.9ZM438.0 206.0L442.2 210.2L438.0 214.4L433.8 210.2ZM502.6 183.0L506.8 187.2L502.6 191.4L498.4 187.2ZM515.3 165.4a3.1 3.1 0 1 1 6.2 0a3.1 3.1 0 1 1 -6.2 0ZM471.1 197.4L475.3 201.6L471.1 205.8L466.9 201.6ZM471.9 179.8L476.1 184.0L471.9 188.2L467.7 184.0ZM490.1 206.2L491.4 209.7L495.0 209.8L492.2 212.1L493.1 215.6L490.1 213.6L487.0 215.6L488.0 212.1L485.1 209.8L488.8 209.7ZM598.1 102.7L602.3 106.9L598.1 111.1L593.9 106.9ZM479.3 195.6L480.6 199.1L484.2 199.2L481.4 201.5L482.3 205.0L479.3 203.0L476.2 205.0L477.2 201.5L474.3 199.2L478.0 199.1ZM521.6 174.9L522.8 178.4L526.5 178.5L523.6 180.8L524.6 184.3L521.6 182.3L518.5 184.3L519.5 180.8L516.6 178.5L520.3 178.4ZM543.3 135.7L547.5 139.9L543.3 144.1L539.1 139.9ZM453.1 190.4L454.3 193.8L458.0 194.0L455.1 196.2L456.1 199.8L453.1 197.8L450.0 199.8L451.0 196.2L448.1 194.0L451.8 193.8ZM467.0 213.1L471.2 217.3L467.0 221.5L462.8 217.3ZM368.4 267.0L369.7 270.4L373.3 270.5L370.5 272.8L371.4 276.4L368.4 274.3L365.3 276.4L366.3 272.8L363.4 270.5L367.1 270.4ZM546.3 162.3L550.5 166.5L546.3 170.7L542.1 166.5ZM434.5 198.6a3.1 3.1 0 1 1 6.2 0a3.1 3.1 0 1 1 -6.2 0ZM555.4 156.5L556.7 159.9L560.3 160.1L557.5 162.4L558.5 165.9L555.4 163.9L552.3 165.9L553.3 162.4L550.5 160.1L554.1 159.9ZM459.8 193.4L464.0 197.6L459.8 201.8L455.6 197.6ZM378.8 250.6L383.0 254.8L378.8 259.0L374.6 254.8ZM517.8 168.6L522.0 172.8L517.8 177.0L513.6 172.8ZM447.5 210.5a3.1 3.1 0 1 1 6.2 0a3.1 3.1 0 1 1 -6.2 0ZM609.2 134.1L613.4 138.3L609.2 142.5L605.0 138.3ZM571.2 144.0a3.1 3.1 0 1 1 6.2 0a3.1 3.1 0 1 1 -6.2 0ZM586.8 117.0L591.0 121.2L586.8 125.4L582.6 121.2ZM561.1 124.5L562.3 127.9L566.0 128.1L563.1 130.4L564.1 133.9L561.1 131.9L558.0 133.9L559.0 130.4L556.1 128.1L559.8 127.9ZM526.9 166.3h2.2v3.5h3.5v2.2h-3.5v3.5h-2.2v-3.5h-3.5v-2.2h3.5ZM393.5 233.4L397.7 237.6L393.5 241.8L389.3 237.6ZM341.6 270.5a3.1 3.1 0 1 1 6.2 0a3.1 3.1 0 1 1 -6.2 0ZM532.3 136.9L533.6 140.4L537.3 140.5L534.4 142.8L535.4 146.3L532.3 144.3L529.3 146.3L530.3 142.8L527.4 140.5L531.1 140.4ZM450.0 238.2L454.2 242.4L450.0 246.6L445.8 242.4ZM384.6 233.1a3.1 3.1 0 1 1 6.2 0a3.1 3.1 0 1 1 -6.2 0ZM319.7 301.1L323.9 305.3L319.7 309.5L315.5 305.3ZM297.5 292.6L301.7 296.8L297.5 301.0L293.3 296.8ZM305.1 264.5L309.3 268.7L305.1 272.9L300.9 268.7ZM592.5 125.2L596.7 129.4L592.5 133.6L588.3 129.4ZM536.3 150.8L540.5 155.0L536.3 159.2L532.1 155.0ZM490.5 199.2L491.8 202.6L495.5 202.8L492.6 205.1L493.6 208.6L490.5 206.6L487.5 208.6L488.5 205.1L485.6 202.8L489.3 202.6ZM465.9 192.5a3.1 3.1 0 1 1 6.2 0a3.1 3.1 0 1 1 -6.2 0ZM462.4 184.6L466.6 188.8L462.4 193.0L458.2 188.8ZM481.0 173.1L482.3 176.5L486.0 176.7L483.1 179.0L484.1 182.5L481.0 180.5L478.0 182.5L479.0 179.0L476.1 176.7L479.8 176.5ZM582.2 124.2L583.5 127.6L587.2 127.8L584.3 130.1L585.3 133.6L582.2 131.6L579.2 133.6L580.2 130.1L577.3 127.8L581.0 127.6ZM532.5 176.7L536.7 180.9L532.5 185.1L528.3 180.9ZM433.9 195.7a3.1 3.1 0 1 1 6.2 0a3.1 3.1 0 1 1 -6.2 0ZM517.1 133.8L521.3 138.0L517.1 142.2L512.9 138.0ZM476.9 192.7L478.2 196.2L481.9 196.3L479.0 198.6L480.0 202.1L476.9 200.1L473.9 202.1L474.8 198.6L472.0 196.3L475.6 196.2ZM545.4 145.7L546.7 149.1L550.4 149.3L547.5 151.6L548.5 155.1L545.4 153.1L542.4 155.1L543.4 151.6L540.5 149.3L544.2 149.1ZM498.6 177.6L502.8 181.8L498.6 186.0L494.4 181.8ZM460.7 187.0L464.9 191.2L460.7 195.4L456.5 191.2ZM477.6 188.5a3.1 3.1 0 1 1 6.2 0a3.1 3.1 0 1 1 -6.2 0ZM283.8 277.0h2.2v3.5h3.5v2.2h-3.5v3.5h-2.2v-3.5h-3.5v-2.2h3.5ZM537.4 128.0L541.6 132.2L537.4 136.4L533.2 132.2ZM579.3 128.5L580.5 131.9L584.2 132.1L581.3 134.4L582.3 137.9L579.3 135.9L576.2 137.9L577.2 134.4L574.3 132.1L578.0 131.9ZM478.8 216.3L480.0 219.8L483.7 219.9L480.8 222.2L481.8 225.7L478.8 223.7L475.7 225.7L476.7 222.2L473.8 219.9L477.5 219.8ZM518.1 153.8L519.4 157.3L523.1 157.4L520.2 159.7L521.2 163.3L518.1 161.2L515.1 163.3L516.0 159.7L513.2 157.4L516.8 157.3ZM560.9 143.8L562.2 147.2L565.8 147.4L563.0 149.6L563.9 153.2L560.9 151.1L557.8 153.2L558.8 149.6L555.9 147.4L559.6 147.2ZM404.8 209.0L409.0 213.2L404.8 217.4L400.6 213.2ZM520.1 153.5L524.3 157.7L520.1 161.9L515.9 157.7ZM534.8 187.0a3.1 3.1 0 1 1 6.2 0a3.1 3.1 0 1 1 -6.2 0ZM549.7 147.8L553.9 152.0L549.7 156.2L545.5 152.0ZM529.7 185.6L533.9 189.8L529.7 194.0L525.5 189.8ZM490.1 197.5L494.3 201.7L490.1 205.9L485.9 201.7ZM409.6 220.0h2.2v3.5h3.5v2.2h-3.5v3.5h-2.2v-3.5h-3.5v-2.2h3.5ZM390.1 262.3L394.3 266.5L390.1 270.7L385.9 266.5ZM310.9 298.8L315.1 303.0L310.9 307.2L306.7 303.0ZM446.3 197.8L450.5 202.0L446.3 206.2L442.1 202.0ZM569.7 124.7L573.9 128.9L569.7 133.1L565.5 128.9ZM463.2 194.5a3.1 3.1 0 1 1 6.2 0a3.1 3.1 0 1 1 -6.2 0ZM582.1 108.0L586.3 112.2L582.1 116.4L577.9 112.2ZM547.1 163.7L548.4 167.2L552.0 167.3L549.2 169.6L550.1 173.1L547.1 171.1L544.0 173.1L545.0 169.6L542.1 167.3L545.8 167.2ZM542.6 117.7a3.1 3.1 0 1 1 6.2 0a3.1 3.1 0 1 1 -6.2 0ZM290.5 284.2L294.7 288.4L290.5 292.6L286.3 288.4ZM392.1 233.0L396.3 237.2L392.1 241.4L387.9 237.2ZM408.3 274.8h2.2v3.5h3.5v2.2h-3.5v3.5h-2.2v-3.5h-3.5v-2.2h3.5ZM560.8 140.2a3.1 3.1 0 1 1 6.2 0a3.1 3.1 0 1 1 -6.2 0ZM414.3 230.9L418.5 235.1L414.3 239.3L410.1 235.1ZM314.7 286.5a3.1 3.1 0 1 1 6.2 0a3.1 3.1 0 1 1 -6.2 0ZM459.5 181.5h2.2v3.5h3.5v2.2h-3.5v3.5h-2.2v-3.5h-3.5v-2.2h3.5ZM408.4 245.3L412.6 249.5L408.4 253.7L404.2 249.5ZM430.1 259.3a3.1 3.1 0 1 1 6.2 0a3.1 3.1 0 1 1 -6.2 0ZM572.5 129.5L576.7 133.7L572.5 137.9L568.3 133.7ZM485.5 163.2L489.7 167.4L485.5 171.6L481.3 167.4ZM505.1 205.7a3.1 3.1 0 1 1 6.2 0a3.1 3.1 0 1 1 -6.2 0ZM388.1 240.5h2.2v3.5h3.5v2.2h-3.5v3.5h-2.2v-3.5h-3.5v-2.2h3.5ZM600.8 142.9L605.0 147.1L600.8 151.3L596.6 147.1ZM519.9 133.7h2.2v3.5h3.5v2.2h-3.5v3.5h-2.2v-3.5h-3.5v-2.2h3.5ZM525.9 150.9L530.1 155.1L525.9 159.3L521.7 155.1ZM552.7 126.9h2.2v3.5h3.5v2.2h-3.5v3.5h-2.2v-3.5h-3.5v-2.2h3.5ZM577.1 104.0L578.4 107.4L582.1 107.6L579.2 109.9L580.2 113.4L577.1 111.4L574.1 113.4L575.0 109.9L572.2 107.6L575.8 107.4ZM431.6 204.4L432.9 207.9L436.5 208.0L433.7 210.3L434.6 213.8L431.6 211.8L428.5 213.8L429.5 210.3L426.6 208.0L430.3 207.9ZM467.9 178.5h2.2v3.5h3.5v2.2h-3.5v3.5h-2.2v-3.5h-3.5v-2.2h3.5ZM306.7 272.5a3.1 3.1 0 1 1 6.2 0a3.1 3.1 0 1 1 -6.2 0ZM577.0 123.1L581.2 127.3L577.0 131.5L572.8 127.3ZM563.6 133.2L567.8 137.4L563.6 141.6L559.4 137.4ZM421.4 240.6a3.1 3.1 0 1 1 6.2 0a3.1 3.1 0 1 1 -6.2 0ZM587.6 104.6L591.8 108.8L587.6 113.0L583.4 108.8ZM489.2 160.3L493.4 164.5L489.2 168.7L485.0 164.5ZM422.2 227.3a3.1 3.1 0 1 1 6.2 0a3.1 3.1 0 1 1 -6.2 0ZM303.5 267.8L307.7 272.0L303.5 276.2L299.3 272.0ZM491.0 189.9L495.2 194.1L491.0 198.3L486.8 194.1ZM426.0 206.7a3.1 3.1 0 1 1 6.2 0a3.1 3.1 0 1 1 -6.2 0ZM597.9 110.1L602.1 114.3L597.9 118.5L593.7 114.3ZM431.8 181.3h2.2v3.5h3.5v2.2h-3.5v3.5h-2.2v-3.5h-3.5v-2.2h3.5ZM329.5 239.6L333.7 243.8L329.5 248.0L325.3 243.8ZM434.9 196.1L439.1 200.3L434.9 204.5L430.7 200.3ZM432.1 210.9a3.1 3.1 0 1 1 6.2 0a3.1 3.1 0 1 1 -6.2 0ZM456.3 214.7a3.1 3.1 0 1 1 6.2 0a3.1 3.1 0 1 1 -6.2 0ZM474.2 211.7L478.4 215.9L474.2 220.1L470.0 215.9ZM533.8 151.5L535.1 155.0L538.7 155.1L535.9 157.4L536.9 161.0L533.8 158.9L530.7 161.0L531.7 157.4L528.8 155.1L532.5 155.0ZM465.7 175.8L467.0 179.2L470.6 179.4L467.8 181.7L468.8 185.2L465.7 183.2L462.6 185.2L463.6 181.7L460.8 179.4L464.4 179.2ZM341.0 253.1a3.1 3.1 0 1 1 6.2 0a3.1 3.1 0 1 1 -6.2 0ZM431.3 187.8L435.5 192.0L431.3 196.2L427.1 192.0ZM432.8 193.4L437.0 197.6L432.8 201.8L428.6 197.6ZM502.3 172.9L506.5 177.1L502.3 181.3L498.1 177.1ZM539.9 169.1L541.2 172.5L544.9 172.7L542.0 174.9L543.0 178.5L539.9 176.5L536.9 178.5L537.9 174.9L535.0 172.7L538.7 172.5ZM497.6 171.2L498.9 174.6L502.6 174.8L499.7 177.0L500.7 180.6L497.6 178.5L494.5 180.6L495.5 177.0L492.7 174.8L496.3 174.6ZM446.1 233.0L447.3 236.4L451.0 236.6L448.1 238.9L449.1 242.4L446.1 240.4L443.0 242.4L444.0 238.9L441.1 236.6L444.8 236.4ZM403.7 219.4L405.0 222.8L408.6 223.0L405.8 225.3L406.7 228.8L403.7 226.8L400.6 228.8L401.6 225.3L398.7 223.0L402.4 222.8ZM550.8 153.9L555.0 158.1L550.8 162.3L546.6 158.1ZM424.6 212.1L425.9 215.6L429.6 215.7L426.7 218.0L427.7 221.5L424.6 219.5L421.6 221.5L422.6 218.0L419.7 215.7L423.4 215.6ZM423.4 219.5L427.6 223.7L423.4 227.9L419.2 223.7ZM541.7 144.9L545.9 149.1L541.7 153.3L537.5 149.1ZM573.8 112.6L575.1 116.1L578.8 116.2L575.9 118.5L576.9 122.0L573.8 120.0L570.8 122.0L571.7 118.5L568.9 116.2L572.5 116.1ZM524.1 146.5L528.3 150.7L524.1 154.9L519.9 150.7ZM540.9 144.9a3.1 3.1 0 1 1 6.2 0a3.1 3.1 0 1 1 -6.2 0ZM509.7 178.0L513.9 182.2L509.7 186.4L505.5 182.2ZM459.1 165.3L460.4 168.7L464.0 168.9L461.2 171.2L462.2 174.7L459.1 172.7L456.0 174.7L457.0 171.2L454.1 168.9L457.8 168.7ZM446.3 203.9L450.5 208.1L446.3 212.3L442.1 208.1ZM384.9 257.1L386.2 260.5L389.8 260.7L387.0 262.9L387.9 266.5L384.9 264.4L381.8 266.5L382.8 262.9L379.9 260.7L383.6 260.5ZM510.3 183.5a3.1 3.1 0 1 1 6.2 0a3.1 3.1 0 1 1 -6.2 0ZM526.6 132.7L530.8 136.9L526.6 141.1L522.4 136.9ZM397.4 277.0a3.1 3.1 0 1 1 6.2 0a3.1 3.1 0 1 1 -6.2 0ZM570.9 145.3a3.1 3.1 0 1 1 6.2 0a3.1 3.1 0 1 1 -6.2 0ZM563.5 110.5L567.7 114.7L563.5 118.9L559.3 114.7ZM495.3 142.5L499.5 146.7L495.3 150.9L491.1 146.7ZM445.0 220.7L449.2 224.9L445.0 229.1L440.8 224.9ZM526.4 193.5L527.7 196.9L531.3 197.1L528.5 199.4L529.4 202.9L526.4 200.9L523.3 202.9L524.3 199.4L521.4 197.1L525.1 196.9ZM389.7 249.2L391.0 252.7L394.6 252.8L391.8 255.1L392.8 258.6L389.7 256.6L386.6 258.6L387.6 255.1L384.8 252.8L388.4 252.7ZM408.1 231.4L409.4 234.8L413.0 235.0L410.2 237.3L411.2 240.8L408.1 238.8L405.0 240.8L406.0 237.3L403.2 235.0L406.8 234.8ZM462.1 209.6a3.1 3.1 0 1 1 6.2 0a3.1 3.1 0 1 1 -6.2 0ZM479.0 154.0L483.2 158.2L479.0 162.4L474.8 158.2ZM423.7 192.1L427.9 196.3L423.7 200.5L419.5 196.3ZM515.7 167.3L519.9 171.5L515.7 175.7L511.5 171.5ZM549.0 187.2L553.2 191.4L549.0 195.6L544.8 191.4ZM494.8 181.8a3.1 3.1 0 1 1 6.2 0a3.1 3.1 0 1 1 -6.2 0ZM510.5 138.2L514.7 142.4L510.5 146.6L506.3 142.4ZM487.9 186.9L492.1 191.1L487.9 195.3L483.7 191.1ZM561.6 143.1a3.1 3.1 0 1 1 6.2 0a3.1 3.1 0 1 1 -6.2 0ZM558.1 153.2L562.3 157.4L558.1 161.6L553.9 157.4ZM420.7 218.3a3.1 3.1 0 1 1 6.2 0a3.1 3.1 0 1 1 -6.2 0ZM520.0 173.7a3.1 3.1 0 1 1 6.2 0a3.1 3.1 0 1 1 -6.2 0ZM559.9 153.8L561.1 157.3L564.8 157.4L561.9 159.7L562.9 163.2L559.9 161.2L556.8 163.2L557.8 159.7L554.9 157.4L558.6 157.3ZM598.5 99.6L599.8 103.1L603.4 103.2L600.6 105.5L601.6 109.0L598.5 107.0L595.4 109.0L596.4 105.5L593.6 103.2L597.2 103.1ZM562.6 90.6L566.8 94.8L562.6 99.0L558.4 94.8ZM509.0 161.4a3.1 3.1 0 1 1 6.2 0a3.1 3.1 0 1 1 -6.2 0ZM578.4 105.6L579.7 109.1L583.4 109.2L580.5 111.5L581.5 115.0L578.4 113.0L575.3 115.0L576.3 111.5L573.5 109.2L577.1 109.1ZM575.1 122.0L579.3 126.2L575.1 130.4L570.9 126.2ZM572.7 132.7a3.1 3.1 0 1 1 6.2 0a3.1 3.1 0 1 1 -6.2 0ZM510.9 181.4h2.2v3.5h3.5v2.2h-3.5v3.5h-2.2v-3.5h-3.5v-2.2h3.5ZM543.2 151.1L547.4 155.3L543.2 159.5L539.0 155.3ZM553.0 151.4h2.2v3.5h3.5v2.2h-3.5v3.5h-2.2v-3.5h-3.5v-2.2h3.5ZM481.2 207.9L485.4 212.1L481.2 216.3L477.0 212.1ZM325.1 279.1a3.1 3.1 0 1 1 6.2 0a3.1 3.1 0 1 1 -6.2 0ZM522.1 178.7a3.1 3.1 0 1 1 6.2 0a3.1 3.1 0 1 1 -6.2 0ZM437.3 217.6L441.5 221.8L437.3 226.0L433.1 221.8ZM413.6 249.0L417.8 253.2L413.6 257.4L409.4 253.2ZM528.1 165.4a3.1 3.1 0 1 1 6.2 0a3.1 3.1 0 1 1 -6.2 0ZM507.0 164.9h2.2v3.5h3.5v2.2h-3.5v3.5h-2.2v-3.5h-3.5v-2.2h3.5ZM456.8 211.4L461.0 215.6L456.8 219.8L452.6 215.6ZM320.0 305.2L321.3 308.7L324.9 308.8L322.1 311.1L323.0 314.6L320.0 312.6L316.9 314.6L317.9 311.1L315.0 308.8L318.7 308.7ZM488.6 171.6L492.8 175.8L488.6 180.0L484.4 175.8ZM486.4 192.7L490.6 196.9L486.4 201.1L482.2 196.9ZM438.7 217.9L440.0 221.4L443.7 221.5L440.8 223.8L441.8 227.3L438.7 225.3L435.7 227.3L436.6 223.8L433.8 221.5L437.4 221.4ZM548.6 131.4L549.9 134.8L553.6 135.0L550.7 137.3L551.7 140.8L548.6 138.8L545.6 140.8L546.6 137.3L543.7 135.0L547.4 134.8ZM400.8 263.9L405.0 268.1L400.8 272.3L396.6 268.1ZM467.8 196.2L472.0 200.4L467.8 204.6L463.6 200.4ZM403.1 228.0L407.3 232.2L403.1 236.4L398.9 232.2ZM534.8 132.1L536.0 135.5L539.7 135.7L536.8 138.0L537.8 141.5L534.8 139.5L531.7 141.5L532.7 138.0L529.8 135.7L533.5 135.5ZM572.3 146.2a3.1 3.1 0 1 1 6.2 0a3.1 3.1 0 1 1 -6.2 0ZM443.4 207.1L444.7 210.6L448.4 210.7L445.5 213.0L446.5 216.5L443.4 214.5L440.4 216.5L441.4 213.0L438.5 210.7L442.2 210.6ZM540.7 134.5L544.9 138.7L540.7 142.9L536.5 138.7ZM598.4 104.6L602.6 108.8L598.4 113.0L594.2 108.8ZM420.7 269.8L424.9 274.0L420.7 278.2L416.5 274.0ZM508.0 173.3L509.3 176.7L513.0 176.8L510.1 179.1L511.1 182.7L508.0 180.6L505.0 182.7L506.0 179.1L503.1 176.8L506.8 176.7ZM452.6 168.6a3.1 3.1 0 1 1 6.2 0a3.1 3.1 0 1 1 -6.2 0ZM518.4 158.6L519.7 162.0L523.4 162.2L520.5 164.5L521.5 168.0L518.4 166.0L515.4 168.0L516.4 164.5L513.5 162.2L517.2 162.0ZM405.3 262.7a3.1 3.1 0 1 1 6.2 0a3.1 3.1 0 1 1 -6.2 0ZM476.0 192.0L480.2 196.2L476.0 200.4L471.8 196.2ZM606.7 86.6h2.2v3.5h3.5v2.2h-3.5v3.5h-2.2v-3.5h-3.5v-2.2h3.5ZM500.9 167.1a3.1 3.1 0 1 1 6.2 0a3.1 3.1 0 1 1 -6.2 0ZM359.4 288.9L360.7 292.4L364.3 292.5L361.5 294.8L362.5 298.4L359.4 296.3L356.3 298.4L357.3 294.8L354.4 292.5L358.1 292.4ZM529.1 144.2a3.1 3.1 0 1 1 6.2 0a3.1 3.1 0 1 1 -6.2 0ZM573.4 109.9L574.7 113.3L578.4 113.5L575.5 115.7L576.5 119.3L573.4 117.2L570.4 119.3L571.4 115.7L568.5 113.5L572.2 113.3ZM545.6 129.8a3.1 3.1 0 1 1 6.2 0a3.1 3.1 0 1 1 -6.2 0ZM479.9 202.8L484.1 207.0L479.9 211.2L475.7 207.0ZM511.0 143.7L515.2 147.9L511.0 152.1L506.8 147.9ZM336.5 243.9L337.8 247.3L341.4 247.5L338.6 249.8L339.6 253.3L336.5 251.3L333.4 253.3L334.4 249.8L331.6 247.5L335.2 247.3ZM497.3 168.9L501.5 173.1L497.3 177.3L493.1 173.1ZM529.6 170.8L533.8 175.0L529.6 179.2L525.4 175.0ZM440.3 214.1L441.6 217.5L445.3 217.7L442.4 219.9L443.4 223.5L440.3 221.5L437.3 223.5L438.2 219.9L435.4 217.7L439.0 217.5ZM522.3 164.7h2.2v3.5h3.5v2.2h-3.5v3.5h-2.2v-3.5h-3.5v-2.2h3.5ZM380.4 228.9L384.6 233.1L380.4 237.3L376.2 233.1ZM409.8 260.7L414.0 264.9L409.8 269.1L405.6 264.9ZM562.2 165.3L563.5 168.8L567.2 168.9L564.3 171.2L565.3 174.7L562.2 172.7L559.2 174.7L560.1 171.2L557.3 168.9L560.9 168.8ZM298.8 297.4h2.2v3.5h3.5v2.2h-3.5v3.5h-2.2v-3.5h-3.5v-2.2h3.5ZM482.1 183.1L483.3 186.5L487.0 186.7L484.1 189.0L485.1 192.5L482.1 190.5L479.0 192.5L480.0 189.0L477.1 186.7L480.8 186.5ZM567.8 104.7L572.0 108.9L567.8 113.1L563.6 108.9ZM456.0 196.0L460.2 200.2L456.0 204.4L451.8 200.2ZM489.0 166.3L493.2 170.5L489.0 174.7L484.8 170.5ZM499.8 139.2L504.0 143.4L499.8 147.6L495.6 143.4ZM535.9 148.0L540.1 152.2L535.9 156.4L531.7 152.2ZM443.1 205.8L447.3 210.0L443.1 214.2L438.9 210.0ZM545.9 156.3a3.1 3.1 0 1 1 6.2 0a3.1 3.1 0 1 1 -6.2 0ZM544.6 144.2a3.1 3.1 0 1 1 6.2 0a3.1 3.1 0 1 1 -6.2 0ZM567.4 128.1L571.6 132.3L567.4 136.5L563.2 132.3ZM464.9 187.8L469.1 192.0L464.9 196.2L460.7 192.0ZM547.2 135.9L551.4 140.1L547.2 144.3L543.0 140.1ZM516.7 162.9L520.9 167.1L516.7 171.3L512.5 167.1ZM510.0 180.5a3.1 3.1 0 1 1 6.2 0a3.1 3.1 0 1 1 -6.2 0ZM548.8 138.9L550.1 142.4L553.8 142.5L550.9 144.8L551.9 148.4L548.8 146.3L545.8 148.4L546.7 144.8L543.9 142.5L547.5 142.4ZM525.3 146.3L529.5 150.5L525.3 154.7L521.1 150.5ZM518.2 160.8L522.4 165.0L518.2 169.2L514.0 165.0ZM607.5 98.4a3.1 3.1 0 1 1 6.2 0a3.1 3.1 0 1 1 -6.2 0ZM413.7 237.6L414.9 241.0L418.6 241.2L415.7 243.5L416.7 247.0L413.7 245.0L410.6 247.0L411.6 243.5L408.7 241.2L412.4 241.0ZM436.4 220.7L440.6 224.9L436.4 229.1L432.2 224.9ZM535.2 169.5L539.4 173.7L535.2 177.9L531.0 173.7ZM445.3 179.6L449.5 183.8L445.3 188.0L441.1 183.8ZM534.4 152.2L538.6 156.4L534.4 160.6L530.2 156.4ZM495.7 204.1L499.9 208.3L495.7 212.5L491.5 208.3ZM544.0 151.7L548.2 155.9L544.0 160.1L539.8 155.9ZM439.4 241.5L440.7 244.9L444.3 245.0L441.4 247.3L442.4 250.9L439.4 248.8L436.3 250.9L437.3 247.3L434.4 245.0L438.1 244.9ZM378.4 291.8L382.6 296.0L378.4 300.2L374.2 296.0ZM460.2 173.9L464.4 178.1L460.2 182.3L456.0 178.1ZM485.4 166.9a3.1 3.1 0 1 1 6.2 0a3.1 3.1 0 1 1 -6.2 0ZM507.3 185.2L511.5 189.4L507.3 193.6L503.1 189.4ZM542.2 179.1L546.4 183.3L542.2 187.5L538.0 183.3ZM385.4 273.3h2.2v3.5h3.5v2.2h-3.5v3.5h-2.2v-3.5h-3.5v-2.2h3.5ZM338.6 231.1L339.9 234.5L343.6 234.7L340.7 237.0L341.7 240.5L338.6 238.5L335.6 240.5L336.5 237.0L333.7 234.7L337.3 234.5ZM532.7 187.5L536.9 191.7L532.7 195.9L528.5 191.7ZM366.6 254.0L367.9 257.4L371.6 257.6L368.7 259.9L369.7 263.4L366.6 261.4L363.6 263.4L364.5 259.9L361.7 257.6L365.3 257.4ZM471.9 207.0L473.2 210.4L476.8 210.6L474.0 212.8L474.9 216.4L471.9 214.3L468.8 216.4L469.8 212.8L466.9 210.6L470.6 210.4ZM545.7 152.8L549.9 157.0L545.7 161.2L541.5 157.0ZM484.9 215.2L489.1 219.4L484.9 223.6L480.7 219.4ZM553.0 134.5L554.3 138.0L557.9 138.1L555.1 140.4L556.0 143.9L553.0 141.9L549.9 143.9L550.9 140.4L548.0 138.1L551.7 138.0ZM565.4 158.9L566.7 162.4L570.4 162.5L567.5 164.8L568.5 168.3L565.4 166.3L562.4 168.3L563.3 164.8L560.5 162.5L564.1 162.4ZM447.2 193.9L448.5 197.4L452.2 197.5L449.3 199.8L450.3 203.3L447.2 201.3L444.2 203.3L445.1 199.8L442.3 197.5L445.9 197.4ZM417.5 240.5a3.1 3.1 0 1 1 6.2 0a3.1 3.1 0 1 1 -6.2 0ZM520.0 161.8L524.2 166.0L520.0 170.2L515.8 166.0ZM558.9 129.7a3.1 3.1 0 1 1 6.2 0a3.1 3.1 0 1 1 -6.2 0ZM544.1 154.0L548.3 158.2L544.1 162.4L539.9 158.2ZM438.4 210.7L442.6 214.9L438.4 219.1L434.2 214.9ZM523.0 159.7a3.1 3.1 0 1 1 6.2 0a3.1 3.1 0 1 1 -6.2 0ZM490.6 190.9L491.9 194.3L495.5 194.4L492.7 196.7L493.6 200.3L490.6 198.2L487.5 200.3L488.5 196.7L485.6 194.4L489.3 194.3ZM397.6 239.6a3.1 3.1 0 1 1 6.2 0a3.1 3.1 0 1 1 -6.2 0ZM470.4 206.7a3.1 3.1 0 1 1 6.2 0a3.1 3.1 0 1 1 -6.2 0ZM457.1 206.8L461.3 211.0L457.1 215.2L452.9 211.0ZM456.1 199.7L460.3 203.9L456.1 208.1L451.9 203.9ZM543.0 156.6L547.2 160.8L543.0 165.0L538.8 160.8ZM502.1 176.8L506.3 181.0L502.1 185.2L497.9 181.0ZM438.8 256.6L440.1 260.0L443.7 260.2L440.9 262.5L441.9 266.0L438.8 264.0L435.7 266.0L436.7 262.5L433.9 260.2L437.5 260.0ZM576.4 124.6L580.6 128.8L576.4 133.0L572.2 128.8ZM432.7 225.0L436.9 229.2L432.7 233.4L428.5 229.2ZM443.0 217.6h2.2v3.5h3.5v2.2h-3.5v3.5h-2.2v-3.5h-3.5v-2.2h3.5ZM505.2 189.7h2.2v3.5h3.5v2.2h-3.5v3.5h-2.2v-3.5h-3.5v-2.2h3.5ZM461.6 231.1L465.8 235.3L461.6 239.5L457.4 235.3ZM373.0 256.4L374.3 259.8L377.9 260.0L375.1 262.2L376.0 265.8L373.0 263.7L369.9 265.8L370.9 262.2L368.0 260.0L371.7 259.8ZM581.5 128.2L585.7 132.4L581.5 136.6L577.3 132.4ZM405.2 253.0L409.4 257.2L405.2 261.4L401.0 257.2ZM375.6 240.6L376.8 244.1L380.5 244.2L377.6 246.5L378.6 250.0L375.6 248.0L372.5 250.0L373.5 246.5L370.6 244.2L374.3 244.1ZM323.4 317.5L327.6 321.7L323.4 325.9L319.2 321.7ZM416.8 229.5L421.0 233.7L416.8 237.9L412.6 233.7ZM520.0 192.9L524.2 197.1L520.0 201.3L515.8 197.1ZM377.0 241.6L381.2 245.8L377.0 250.0L372.8 245.8ZM554.7 159.9L556.0 163.3L559.7 163.5L556.8 165.7L557.8 169.3L554.7 167.2L551.7 169.3L552.7 165.7L549.8 163.5L553.5 163.3ZM542.8 137.8a3.1 3.1 0 1 1 6.2 0a3.1 3.1 0 1 1 -6.2 0ZM390.7 208.8a3.1 3.1 0 1 1 6.2 0a3.1 3.1 0 1 1 -6.2 0ZM479.3 186.3a3.1 3.1 0 1 1 6.2 0a3.1 3.1 0 1 1 -6.2 0ZM519.1 194.3h2.2v3.5h3.5v2.2h-3.5v3.5h-2.2v-3.5h-3.5v-2.2h3.5ZM506.1 169.5L510.3 173.7L506.1 177.9L501.9 173.7ZM509.6 176.4L510.9 179.8L514.6 180.0L511.7 182.3L512.7 185.8L509.6 183.8L506.6 185.8L507.5 182.3L504.7 180.0L508.3 179.8ZM447.1 198.9a3.1 3.1 0 1 1 6.2 0a3.1 3.1 0 1 1 -6.2 0ZM562.4 136.1L563.7 139.6L567.3 139.7L564.5 142.0L565.4 145.5L562.4 143.5L559.3 145.5L560.3 142.0L557.4 139.7L561.1 139.6ZM575.8 126.7L580.0 130.9L575.8 135.1L571.6 130.9ZM385.4 248.9L386.7 252.4L390.3 252.5L387.5 254.8L388.5 258.3L385.4 256.3L382.3 258.3L383.3 254.8L380.5 252.5L384.1 252.4ZM433.4 194.7a3.1 3.1 0 1 1 6.2 0a3.1 3.1 0 1 1 -6.2 0ZM502.7 177.2L506.9 181.4L502.7 185.6L498.5 181.4ZM371.0 259.3L375.2 263.5L371.0 267.7L366.8 263.5ZM462.2 167.4L466.4 171.6L462.2 175.8L458.0 171.6ZM457.6 192.3L458.9 195.7L462.5 195.9L459.6 198.1L460.6 201.7L457.6 199.6L454.5 201.7L455.5 198.1L452.6 195.9L456.3 195.7ZM513.4 175.2L517.6 179.4L513.4 183.6L509.2 179.4ZM528.4 196.1L532.6 200.3L528.4 204.5L524.2 200.3ZM262.9 290.2L264.2 293.7L267.9 293.8L265.0 296.1L266.0 299.6L262.9 297.6L259.9 299.6L260.9 296.1L258.0 293.8L261.7 293.7ZM457.7 203.3L461.9 207.5L457.7 211.7L453.5 207.5ZM479.3 194.5L480.6 198.0L484.2 198.1L481.4 200.4L482.3 203.9L479.3 201.9L476.2 203.9L477.2 200.4L474.3 198.1L478.0 198.0ZM352.8 252.0L357.0 256.2L352.8 260.4L348.6 256.2ZM463.7 163.2L467.9 167.4L463.7 171.6L459.5 167.4ZM490.7 157.9a3.1 3.1 0 1 1 6.2 0a3.1 3.1 0 1 1 -6.2 0ZM496.4 194.1L500.6 198.3L496.4 202.5L492.2 198.3ZM574.4 131.9L578.6 136.1L574.4 140.3L570.2 136.1ZM277.6 334.9L281.8 339.1L277.6 343.3L273.4 339.1ZM427.6 210.3L428.9 213.8L432.6 213.9L429.7 216.2L430.7 219.7L427.6 217.7L424.6 219.7L425.6 216.2L422.7 213.9L426.4 213.8ZM516.6 188.0L520.8 192.2L516.6 196.4L512.4 192.2ZM548.6 152.1L549.9 155.6L553.5 155.7L550.7 158.0L551.7 161.5L548.6 159.5L545.5 161.5L546.5 158.0L543.7 155.7L547.3 155.6ZM525.5 200.6a3.1 3.1 0 1 1 6.2 0a3.1 3.1 0 1 1 -6.2 0ZM474.8 175.9a3.1 3.1 0 1 1 6.2 0a3.1 3.1 0 1 1 -6.2 0ZM544.3 187.4L548.5 191.6L544.3 195.8L540.1 191.6ZM494.4 184.5L495.7 187.9L499.3 188.1L496.5 190.4L497.4 193.9L494.4 191.9L491.3 193.9L492.3 190.4L489.4 188.1L493.1 187.9ZM550.7 157.1L552.0 160.6L555.7 160.7L552.8 163.0L553.8 166.5L550.7 164.5L547.7 166.5L548.7 163.0L545.8 160.7L549.5 160.6ZM405.6 213.6L406.9 217.1L410.5 217.2L407.7 219.5L408.6 223.0L405.6 221.0L402.5 223.0L403.5 219.5L400.6 217.2L404.3 217.1ZM358.9 264.1h2.2v3.5h3.5v2.2h-3.5v3.5h-2.2v-3.5h-3.5v-2.2h3.5ZM473.8 196.4a3.1 3.1 0 1 1 6.2 0a3.1 3.1 0 1 1 -6.2 0ZM334.5 280.4L338.7 284.6L334.5 288.8L330.3 284.6ZM317.1 276.7a3.1 3.1 0 1 1 6.2 0a3.1 3.1 0 1 1 -6.2 0ZM495.7 204.8a3.1 3.1 0 1 1 6.2 0a3.1 3.1 0 1 1 -6.2 0ZM536.0 176.1L537.3 179.5L540.9 179.7L538.0 182.0L539.0 185.5L536.0 183.5L532.9 185.5L533.9 182.0L531.0 179.7L534.7 179.5ZM519.5 145.3L523.7 149.5L519.5 153.7L515.3 149.5ZM408.0 278.2a3.1 3.1 0 1 1 6.2 0a3.1 3.1 0 1 1 -6.2 0ZM572.7 128.1L574.0 131.5L577.7 131.7L574.8 133.9L575.8 137.5L572.7 135.5L569.7 137.5L570.7 133.9L567.8 131.7L571.5 131.5ZM365.8 268.1L367.1 271.5L370.8 271.7L367.9 273.9L368.9 277.5L365.8 275.5L362.8 277.5L363.8 273.9L360.9 271.7L364.6 271.5ZM516.4 159.9L520.6 164.1L516.4 168.3L512.2 164.1ZM519.4 158.7L520.6 162.1L524.3 162.3L521.4 164.5L522.4 168.1L519.4 166.1L516.3 168.1L517.3 164.5L514.4 162.3L518.1 162.1ZM506.8 175.3L508.1 178.7L511.8 178.9L508.9 181.1L509.9 184.7L506.8 182.6L503.8 184.7L504.8 181.1L501.9 178.9L505.6 178.7ZM580.0 118.2h2.2v3.5h3.5v2.2h-3.5v3.5h-2.2v-3.5h-3.5v-2.2h3.5ZM475.8 195.6L480.0 199.8L475.8 204.0L471.6 199.8ZM321.4 272.9a3.1 3.1 0 1 1 6.2 0a3.1 3.1 0 1 1 -6.2 0ZM504.4 185.9h2.2v3.5h3.5v2.2h-3.5v3.5h-2.2v-3.5h-3.5v-2.2h3.5ZM445.5 194.0a3.1 3.1 0 1 1 6.2 0a3.1 3.1 0 1 1 -6.2 0ZM475.5 192.2L476.8 195.6L480.4 195.8L477.6 198.0L478.5 201.6L475.5 199.5L472.4 201.6L473.4 198.0L470.5 195.8L474.2 195.6ZM503.2 181.7L507.4 185.9L503.2 190.1L499.0 185.9ZM470.1 195.4a3.1 3.1 0 1 1 6.2 0a3.1 3.1 0 1 1 -6.2 0ZM312.8 293.4L314.1 296.8L317.8 297.0L314.9 299.3L315.9 302.8L312.8 300.8L309.8 302.8L310.7 299.3L307.9 297.0L311.5 296.8ZM417.3 289.4a3.1 3.1 0 1 1 6.2 0a3.1 3.1 0 1 1 -6.2 0ZM547.4 170.0L551.6 174.2L547.4 178.4L543.2 174.2ZM295.6 282.5L299.8 286.7L295.6 290.9L291.4 286.7ZM377.3 248.1a3.1 3.1 0 1 1 6.2 0a3.1 3.1 0 1 1 -6.2 0ZM477.7 175.1L481.9 179.3L477.7 183.5L473.5 179.3ZM370.0 270.3L371.3 273.7L374.9 273.9L372.0 276.1L373.0 279.7L370.0 277.6L366.9 279.7L367.9 276.1L365.0 273.9L368.7 273.7ZM517.2 160.9a3.1 3.1 0 1 1 6.2 0a3.1 3.1 0 1 1 -6.2 0ZM394.7 227.6a3.1 3.1 0 1 1 6.2 0a3.1 3.1 0 1 1 -6.2 0ZM292.5 271.0L293.7 274.4L297.4 274.6L294.5 276.9L295.5 280.4L292.5 278.4L289.4 280.4L290.4 276.9L287.5 274.6L291.2 274.4ZM471.5 168.9L472.8 172.3L476.4 172.5L473.6 174.8L474.6 178.3L471.5 176.3L468.4 178.3L469.4 174.8L466.6 172.5L470.2 172.3ZM340.2 292.9L344.4 297.1L340.2 301.3L336.0 297.1ZM446.1 232.0L450.3 236.2L446.1 240.4L441.9 236.2ZM375.4 270.4a3.1 3.1 0 1 1 6.2 0a3.1 3.1 0 1 1 -6.2 0ZM316.6 309.4L317.9 312.9L321.5 313.0L318.7 315.3L319.6 318.8L316.6 316.8L313.5 318.8L314.5 315.3L311.6 313.0L315.3 312.9ZM567.0 163.1L571.2 167.3L567.0 171.5L562.8 167.3ZM409.3 255.0a3.1 3.1 0 1 1 6.2 0a3.1 3.1 0 1 1 -6.2 0ZM453.7 202.2L457.9 206.4L453.7 210.6L449.5 206.4ZM456.1 199.2L460.3 203.4L456.1 207.6L451.9 203.4ZM545.3 139.8L546.5 143.2L550.2 143.4L547.3 145.7L548.3 149.2L545.3 147.2L542.2 149.2L543.2 145.7L540.3 143.4L544.0 143.2ZM373.1 257.4a3.1 3.1 0 1 1 6.2 0a3.1 3.1 0 1 1 -6.2 0ZM454.4 211.6a3.1 3.1 0 1 1 6.2 0a3.1 3.1 0 1 1 -6.2 0ZM488.0 199.0L492.2 203.2L488.0 207.4L483.8 203.2ZM380.8 232.2L385.0 236.4L380.8 240.6L376.6 236.4ZM490.0 182.1L491.3 185.6L494.9 185.7L492.1 188.0L493.1 191.5L490.0 189.5L486.9 191.5L487.9 188.0L485.1 185.7L488.7 185.6ZM505.6 182.1a3.1 3.1 0 1 1 6.2 0a3.1 3.1 0 1 1 -6.2 0ZM494.8 158.8a3.1 3.1 0 1 1 6.2 0a3.1 3.1 0 1 1 -6.2 0ZM529.2 169.3L533.4 173.5L529.2 177.7L525.0 173.5ZM522.9 137.5L527.1 141.7L522.9 145.9L518.7 141.7ZM396.0 259.1a3.1 3.1 0 1 1 6.2 0a3.1 3.1 0 1 1 -6.2 0ZM533.9 142.3L538.1 146.5L533.9 150.7L529.7 146.5ZM526.1 146.6L527.4 150.0L531.1 150.2L528.2 152.5L529.2 156.0L526.1 154.0L523.1 156.0L524.0 152.5L521.2 150.2L524.8 150.0ZM600.3 121.2L604.5 125.4L600.3 129.6L596.1 125.4ZM562.2 156.4L566.4 160.6L562.2 164.8L558.0 160.6ZM484.9 191.3a3.1 3.1 0 1 1 6.2 0a3.1 3.1 0 1 1 -6.2 0ZM425.9 202.1a3.1 3.1 0 1 1 6.2 0a3.1 3.1 0 1 1 -6.2 0ZM420.6 230.9a3.1 3.1 0 1 1 6.2 0a3.1 3.1 0 1 1 -6.2 0ZM491.2 211.0L492.5 214.4L496.2 214.6L493.3 216.9L494.3 220.4L491.2 218.4L488.2 220.4L489.2 216.9L486.3 214.6L490.0 214.4ZM583.0 137.4L587.2 141.6L583.0 145.8L578.8 141.6ZM548.5 143.9h2.2v3.5h3.5v2.2h-3.5v3.5h-2.2v-3.5h-3.5v-2.2h3.5ZM368.9 221.0L373.1 225.2L368.9 229.4L364.7 225.2ZM350.0 266.8L354.2 271.0L350.0 275.2L345.8 271.0ZM441.9 201.3L443.1 204.7L446.8 204.9L443.9 207.2L444.9 210.7L441.9 208.7L438.8 210.7L439.8 207.2L436.9 204.9L440.6 204.7ZM311.3 285.1a3.1 3.1 0 1 1 6.2 0a3.1 3.1 0 1 1 -6.2 0ZM571.3 108.0L572.6 111.4L576.3 111.6L573.4 113.9L574.4 117.4L571.3 115.4L568.3 117.4L569.3 113.9L566.4 111.6L570.0 111.4ZM396.3 243.0L400.5 247.2L396.3 251.4L392.1 247.2ZM342.6 250.9L343.9 254.4L347.6 254.5L344.7 256.8L345.7 260.3L342.6 258.3L339.6 260.3L340.6 256.8L337.7 254.5L341.3 254.4ZM552.4 117.5a3.1 3.1 0 1 1 6.2 0a3.1 3.1 0 1 1 -6.2 0ZM369.5 248.9L373.7 253.1L369.5 257.3L365.3 253.1ZM418.1 237.2L419.3 240.6L423.0 240.8L420.1 243.0L421.1 246.6L418.1 244.5L415.0 246.6L416.0 243.0L413.1 240.8L416.8 240.6ZM438.5 211.7L439.7 215.1L443.4 215.3L440.5 217.5L441.5 221.1L438.5 219.0L435.4 221.1L436.4 217.5L433.5 215.3L437.2 215.1ZM363.2 225.1L367.4 229.3L363.2 233.5L359.0 229.3ZM549.6 134.1L553.8 138.3L549.6 142.5L545.4 138.3ZM514.7 164.2L518.9 168.4L514.7 172.6L510.5 168.4ZM496.4 196.9h2.2v3.5h3.5v2.2h-3.5v3.5h-2.2v-3.5h-3.5v-2.2h3.5ZM530.6 133.7L534.8 137.9L530.6 142.1L526.4 137.9ZM564.8 139.8L569.0 144.0L564.8 148.2L560.6 144.0ZM354.9 243.8L356.2 247.2L359.8 247.4L357.0 249.7L358.0 253.2L354.9 251.2L351.8 253.2L352.8 249.7L350.0 247.4L353.6 247.2ZM415.7 235.7L419.9 239.9L415.7 244.1L411.5 239.9ZM574.4 166.0a3.1 3.1 0 1 1 6.2 0a3.1 3.1 0 1 1 -6.2 0ZM357.7 262.5L361.9 266.7L357.7 270.9L353.5 266.7ZM440.2 230.2L444.4 234.4L440.2 238.6L436.0 234.4ZM482.4 179.1L483.7 182.5L487.3 182.7L484.5 185.0L485.5 188.5L482.4 186.5L479.3 188.5L480.3 185.0L477.4 182.7L481.1 182.5ZM435.9 228.0L440.1 232.2L435.9 236.4L431.7 232.2ZM544.9 148.9L549.1 153.1L544.9 157.3L540.7 153.1ZM401.5 232.2L405.7 236.4L401.5 240.6L397.3 236.4ZM392.0 243.3L396.2 247.5L392.0 251.7L387.8 247.5ZM476.8 170.1L481.0 174.3L476.8 178.5L472.6 174.3ZM542.8 147.2L547.0 151.4L542.8 155.6L538.6 151.4ZM436.3 233.1L440.5 237.3L436.3 241.5L432.1 237.3ZM373.3 245.6L374.6 249.0L378.2 249.2L375.4 251.4L376.3 255.0L373.3 252.9L370.2 255.0L371.2 251.4L368.3 249.2L372.0 249.0ZM549.2 156.1L553.4 160.3L549.2 164.5L545.0 160.3ZM593.8 149.0a3.1 3.1 0 1 1 6.2 0a3.1 3.1 0 1 1 -6.2 0ZM512.7 153.0L516.9 157.2L512.7 161.4L508.5 157.2ZM513.5 163.9a3.1 3.1 0 1 1 6.2 0a3.1 3.1 0 1 1 -6.2 0ZM473.4 197.0a3.1 3.1 0 1 1 6.2 0a3.1 3.1 0 1 1 -6.2 0ZM416.1 235.9L417.4 239.3L421.1 239.5L418.2 241.7L419.2 245.3L416.1 243.2L413.1 245.3L414.1 241.7L411.2 239.5L414.8 239.3ZM284.7 283.4L285.9 286.9L289.6 287.0L286.7 289.3L287.7 292.8L284.7 290.8L281.6 292.8L282.6 289.3L279.7 287.0L283.4 286.9ZM466.3 202.3L470.5 206.5L466.3 210.7L462.1 206.5ZM415.5 227.1a3.1 3.1 0 1 1 6.2 0a3.1 3.1 0 1 1 -6.2 0ZM501.6 182.4L505.8 186.6L501.6 190.8L497.4 186.6ZM445.9 228.7a3.1 3.1 0 1 1 6.2 0a3.1 3.1 0 1 1 -6.2 0ZM510.7 181.4h2.2v3.5h3.5v2.2h-3.5v3.5h-2.2v-3.5h-3.5v-2.2h3.5ZM521.7 157.5a3.1 3.1 0 1 1 6.2 0a3.1 3.1 0 1 1 -6.2 0ZM375.4 285.5a3.1 3.1 0 1 1 6.2 0a3.1 3.1 0 1 1 -6.2 0ZM389.3 245.7L393.5 249.9L389.3 254.1L385.1 249.9ZM549.6 145.9L550.9 149.4L554.6 149.5L551.7 151.8L552.7 155.3L549.6 153.3L546.6 155.3L547.6 151.8L544.7 149.5L548.4 149.4ZM461.4 213.1L465.6 217.3L461.4 221.5L457.2 217.3ZM505.0 161.7L509.2 165.9L505.0 170.1L500.8 165.9ZM467.2 170.1L468.5 173.6L472.2 173.7L469.3 176.0L470.3 179.5L467.2 177.5L464.1 179.5L465.1 176.0L462.3 173.7L465.9 173.6ZM455.1 217.5a3.1 3.1 0 1 1 6.2 0a3.1 3.1 0 1 1 -6.2 0ZM443.7 239.4a3.1 3.1 0 1 1 6.2 0a3.1 3.1 0 1 1 -6.2 0ZM517.5 199.7L521.7 203.9L517.5 208.1L513.3 203.9ZM386.5 267.8L390.7 272.0L386.5 276.2L382.3 272.0ZM412.2 234.0L413.5 237.5L417.2 237.6L414.3 239.9L415.3 243.4L412.2 241.4L409.2 243.4L410.1 239.9L407.3 237.6L410.9 237.5ZM526.5 146.4L530.7 150.6L526.5 154.8L522.3 150.6ZM370.4 250.5L371.6 253.9L375.3 254.1L372.4 256.4L373.4 259.9L370.4 257.9L367.3 259.9L368.3 256.4L365.4 254.1L369.1 253.9ZM393.4 250.9L397.6 255.1L393.4 259.3L389.2 255.1ZM498.0 199.6L502.2 203.8L498.0 208.0L493.8 203.8ZM467.8 195.9a3.1 3.1 0 1 1 6.2 0a3.1 3.1 0 1 1 -6.2 0ZM486.1 170.2L490.3 174.4L486.1 178.6L481.9 174.4ZM372.4 244.6L373.7 248.1L377.4 248.2L374.5 250.5L375.5 254.0L372.4 252.0L369.4 254.0L370.4 250.5L367.5 248.2L371.2 248.1ZM456.0 198.6a3.1 3.1 0 1 1 6.2 0a3.1 3.1 0 1 1 -6.2 0ZM335.4 256.6L339.6 260.8L335.4 265.0L331.2 260.8ZM499.6 149.6L503.8 153.8L499.6 158.0L495.4 153.8ZM406.1 248.5a3.1 3.1 0 1 1 6.2 0a3.1 3.1 0 1 1 -6.2 0ZM449.2 196.2L453.4 200.4L449.2 204.6L445.0 200.4ZM479.2 168.5L483.4 172.7L479.2 176.9L475.0 172.7ZM594.1 105.8L598.3 110.0L594.1 114.2L589.9 110.0ZM479.5 172.2L483.7 176.4L479.5 180.6L475.3 176.4ZM489.4 196.1L493.6 200.3L489.4 204.5L485.2 200.3ZM556.7 125.3L558.0 128.7L561.7 128.9L558.8 131.1L559.8 134.7L556.7 132.7L553.7 134.7L554.6 131.1L551.8 128.9L555.4 128.7ZM509.2 148.8L513.4 153.0L509.2 157.2L505.0 153.0ZM540.2 150.9a3.1 3.1 0 1 1 6.2 0a3.1 3.1 0 1 1 -6.2 0ZM575.1 117.3L576.4 120.8L580.1 120.9L577.2 123.2L578.2 126.7L575.1 124.7L572.1 126.7L573.1 123.2L570.2 120.9L573.8 120.8ZM349.2 254.2L350.5 257.7L354.2 257.8L351.3 260.1L352.3 263.7L349.2 261.6L346.2 263.7L347.1 260.1L344.3 257.8L347.9 257.7ZM528.3 128.4a3.1 3.1 0 1 1 6.2 0a3.1 3.1 0 1 1 -6.2 0ZM416.9 256.6L421.1 260.8L416.9 265.0L412.7 260.8ZM421.7 194.0L425.9 198.2L421.7 202.4L417.5 198.2ZM569.8 126.5L571.1 129.9L574.8 130.1L571.9 132.4L572.9 135.9L569.8 133.9L566.8 135.9L567.7 132.4L564.9 130.1L568.5 129.9ZM532.7 138.9L534.0 142.4L537.6 142.5L534.8 144.8L535.7 148.3L532.7 146.3L529.6 148.3L530.6 144.8L527.7 142.5L531.4 142.4ZM431.5 192.3a3.1 3.1 0 1 1 6.2 0a3.1 3.1 0 1 1 -6.2 0ZM426.6 215.0L430.8 219.2L426.6 223.4L422.4 219.2ZM480.6 185.7L484.8 189.9L480.6 194.1L476.4 189.9ZM598.9 101.4a3.1 3.1 0 1 1 6.2 0a3.1 3.1 0 1 1 -6.2 0ZM331.7 266.8h2.2v3.5h3.5v2.2h-3.5v3.5h-2.2v-3.5h-3.5v-2.2h3.5ZM519.6 158.5L523.8 162.7L519.6 166.9L515.4 162.7ZM411.9 255.5L413.2 259.0L416.8 259.1L414.0 261.4L415.0 264.9L411.9 262.9L408.8 264.9L409.8 261.4L407.0 259.1L410.6 259.0ZM448.7 251.4a3.1 3.1 0 1 1 6.2 0a3.1 3.1 0 1 1 -6.2 0ZM464.4 187.9a3.1 3.1 0 1 1 6.2 0a3.1 3.1 0 1 1 -6.2 0ZM294.6 301.2h2.2v3.5h3.5v2.2h-3.5v3.5h-2.2v-3.5h-3.5v-2.2h3.5ZM435.2 213.4a3.1 3.1 0 1 1 6.2 0a3.1 3.1 0 1 1 -6.2 0ZM358.4 222.3L359.7 225.7L363.4 225.9L360.5 228.2L361.5 231.7L358.4 229.7L355.4 231.7L356.4 228.2L353.5 225.9L357.2 225.7ZM551.4 116.7L552.6 120.1L556.3 120.3L553.4 122.5L554.4 126.1L551.4 124.0L548.3 126.1L549.3 122.5L546.4 120.3L550.1 120.1ZM455.4 206.6L459.6 210.8L455.4 215.0L451.2 210.8ZM443.1 216.2L444.4 219.7L448.1 219.8L445.2 222.1L446.2 225.6L443.1 223.6L440.1 225.6L441.1 222.1L438.2 219.8L441.8 219.7ZM274.6 329.6L275.9 333.1L279.6 333.2L276.7 335.5L277.7 339.0L274.6 337.0L271.6 339.0L272.5 335.5L269.7 333.2L273.3 333.1ZM337.4 245.4h2.2v3.5h3.5v2.2h-3.5v3.5h-2.2v-3.5h-3.5v-2.2h3.5ZM416.7 234.9a3.1 3.1 0 1 1 6.2 0a3.1 3.1 0 1 1 -6.2 0ZM468.9 191.6L470.2 195.0L473.9 195.2L471.0 197.4L472.0 201.0L468.9 199.0L465.9 201.0L466.8 197.4L464.0 195.2L467.6 195.0ZM565.6 131.9L569.8 136.1L565.6 140.3L561.4 136.1ZM452.7 215.7L454.0 219.2L457.7 219.3L454.8 221.6L455.8 225.1L452.7 223.1L449.7 225.1L450.7 221.6L447.8 219.3L451.5 219.2ZM385.0 306.3L389.2 310.5L385.0 314.7L380.8 310.5ZM444.3 178.5L448.5 182.7L444.3 186.9L440.1 182.7ZM421.3 219.7L425.5 223.9L421.3 228.1L417.1 223.9ZM510.8 202.8L512.1 206.2L515.7 206.4L512.9 208.6L513.9 212.2L510.8 210.2L507.7 212.2L508.7 208.6L505.9 206.4L509.5 206.2ZM496.8 190.2L501.0 194.4L496.8 198.6L492.6 194.4ZM431.7 240.3a3.1 3.1 0 1 1 6.2 0a3.1 3.1 0 1 1 -6.2 0ZM433.6 231.4L437.8 235.6L433.6 239.8L429.4 235.6ZM565.0 171.6L569.2 175.8L565.0 180.0L560.8 175.8ZM553.1 138.2L557.3 142.4L553.1 146.6L548.9 142.4ZM509.3 138.5L510.5 141.9L514.2 142.1L511.3 144.3L512.3 147.9L509.3 145.9L506.2 147.9L507.2 144.3L504.3 142.1L508.0 141.9ZM536.1 157.8L537.4 161.2L541.1 161.4L538.2 163.7L539.2 167.2L536.1 165.2L533.1 167.2L534.1 163.7L531.2 161.4L534.8 161.2ZM571.8 153.2L576.0 157.4L571.8 161.6L567.6 157.4ZM545.5 157.8L546.8 161.2L550.4 161.4L547.6 163.7L548.6 167.2L545.5 165.2L542.4 167.2L543.4 163.7L540.6 161.4L544.2 161.2ZM599.1 97.5L600.4 101.0L604.1 101.1L601.2 103.4L602.2 106.9L599.1 104.9L596.1 106.9L597.0 103.4L594.2 101.1L597.8 101.0ZM541.1 136.3L545.3 140.5L541.1 144.7L536.9 140.5ZM546.1 194.6L550.3 198.8L546.1 203.0L541.9 198.8ZM527.9 162.9L532.1 167.1L527.9 171.3L523.7 167.1ZM560.3 106.9L564.5 111.1L560.3 115.3L556.1 111.1ZM543.5 132.8L544.8 136.3L548.5 136.4L545.6 138.7L546.6 142.3L543.5 140.2L540.5 142.3L541.5 138.7L538.6 136.4L542.3 136.3ZM505.7 160.9L509.9 165.1L505.7 169.3L501.5 165.1ZM505.7 184.8L507.0 188.2L510.7 188.4L507.8 190.6L508.8 194.2L505.7 192.1L502.7 194.2L503.7 190.6L500.8 188.4L504.4 188.2ZM605.5 126.4a3.1 3.1 0 1 1 6.2 0a3.1 3.1 0 1 1 -6.2 0ZM570.4 125.4L571.7 128.9L575.4 129.0L572.5 131.3L573.5 134.8L570.4 132.8L567.4 134.8L568.4 131.3L565.5 129.0L569.2 128.9ZM512.6 144.1L516.8 148.3L512.6 152.5L508.4 148.3ZM562.8 144.7a3.1 3.1 0 1 1 6.2 0a3.1 3.1 0 1 1 -6.2 0ZM536.8 152.4L541.0 156.6L536.8 160.8L532.6 156.6ZM557.0 167.3L561.2 171.5L557.0 175.7L552.8 171.5ZM527.0 160.8L528.3 164.2L531.9 164.4L529.0 166.7L530.0 170.2L527.0 168.2L523.9 170.2L524.9 166.7L522.0 164.4L525.7 164.2ZM532.7 125.1a3.1 3.1 0 1 1 6.2 0a3.1 3.1 0 1 1 -6.2 0ZM540.0 156.6L544.2 160.8L540.0 165.0L535.8 160.8ZM562.4 153.6L566.6 157.8L562.4 162.0L558.2 157.8ZM503.6 179.7a3.1 3.1 0 1 1 6.2 0a3.1 3.1 0 1 1 -6.2 0ZM561.8 153.9L563.1 157.3L566.7 157.5L563.9 159.8L564.8 163.3L561.8 161.3L558.7 163.3L559.7 159.8L556.8 157.5L560.5 157.3ZM572.3 139.2a3.1 3.1 0 1 1 6.2 0a3.1 3.1 0 1 1 -6.2 0ZM514.1 159.1L518.3 163.3L514.1 167.5L509.9 163.3ZM521.8 163.3a3.1 3.1 0 1 1 6.2 0a3.1 3.1 0 1 1 -6.2 0ZM584.4 115.4L585.7 118.9L589.4 119.0L586.5 121.3L587.5 124.8L584.4 122.8L581.4 124.8L582.3 121.3L579.5 119.0L583.1 118.9ZM557.5 138.6L561.7 142.8L557.5 147.0L553.3 142.8ZM542.7 177.7L546.9 181.9L542.7 186.1L538.5 181.9ZM508.7 165.2L512.9 169.4L508.7 173.6L504.5 169.4ZM521.1 126.2L525.3 130.4L521.1 134.6L516.9 130.4ZM553.8 145.4L555.1 148.9L558.7 149.0L555.9 151.3L556.8 154.8L553.8 152.8L550.7 154.8L551.7 151.3L548.8 149.0L552.5 148.9ZM505.1 153.7a3.1 3.1 0 1 1 6.2 0a3.1 3.1 0 1 1 -6.2 0ZM517.3 145.1L521.5 149.3L517.3 153.5L513.1 149.3ZM549.0 129.5L550.3 132.9L553.9 133.0L551.0 135.3L552.0 138.9L549.0 136.8L545.9 138.9L546.9 135.3L544.0 133.0L547.7 132.9ZM512.4 152.5h2.2v3.5h3.5v2.2h-3.5v3.5h-2.2v-3.5h-3.5v-2.2h3.5ZM550.1 152.4L554.3 156.6L550.1 160.8L545.9 156.6ZM564.8 157.9a3.1 3.1 0 1 1 6.2 0a3.1 3.1 0 1 1 -6.2 0ZM573.9 124.6L575.2 128.0L578.8 128.1L576.0 130.4L577.0 134.0L573.9 131.9L570.8 134.0L571.8 130.4L569.0 128.1L572.6 128.0ZM530.2 180.3L534.4 184.5L530.2 188.7L526.0 184.5ZM558.4 149.5L559.6 152.9L563.3 153.1L560.4 155.4L561.4 158.9L558.4 156.9L555.3 158.9L556.3 155.4L553.4 153.1L557.1 152.9ZM533.3 166.5a3.1 3.1 0 1 1 6.2 0a3.1 3.1 0 1 1 -6.2 0ZM513.8 164.6L518.0 168.8L513.8 173.0L509.6 168.8ZM547.9 129.6L549.1 133.0L552.8 133.2L549.9 135.5L550.9 139.0L547.9 137.0L544.8 139.0L545.8 135.5L542.9 133.2L546.6 133.0ZM520.3 149.3L521.6 152.7L525.3 152.9L522.4 155.2L523.4 158.7L520.3 156.7L517.3 158.7L518.2 155.2L515.4 152.9L519.0 152.7ZM578.3 132.3L582.5 136.5L578.3 140.7L574.1 136.5ZM546.1 172.1L547.4 175.6L551.1 175.7L548.2 178.0L549.2 181.5L546.1 179.5L543.1 181.5L544.1 178.0L541.2 175.7L544.8 175.6ZM573.5 151.7a3.1 3.1 0 1 1 6.2 0a3.1 3.1 0 1 1 -6.2 0ZM531.0 125.6L532.3 129.0L535.9 129.2L533.1 131.5L534.0 135.0L531.0 133.0L527.9 135.0L528.9 131.5L526.0 129.2L529.7 129.0ZM524.1 168.0L525.3 171.4L529.0 171.6L526.1 173.9L527.1 177.4L524.1 175.4L521.0 177.4L522.0 173.9L519.1 171.6L522.8 171.4ZM522.9 151.4L524.1 154.9L527.8 155.0L524.9 157.3L525.9 160.8L522.9 158.8L519.8 160.8L520.8 157.3L517.9 155.0L521.6 154.9ZM572.1 179.2a3.1 3.1 0 1 1 6.2 0a3.1 3.1 0 1 1 -6.2 0ZM566.0 143.1L567.2 146.5L570.9 146.7L568.0 149.0L569.0 152.5L566.0 150.5L562.9 152.5L563.9 149.0L561.0 146.7L564.7 146.5ZM586.2 103.2L587.4 106.7L591.1 106.8L588.2 109.1L589.2 112.7L586.2 110.6L583.1 112.7L584.1 109.1L581.2 106.8L584.9 106.7ZM521.7 148.8L523.0 152.2L526.7 152.4L523.8 154.6L524.8 158.2L521.7 156.1L518.7 158.2L519.7 154.6L516.8 152.4L520.5 152.2ZM588.0 139.3L592.2 143.5L588.0 147.7L583.8 143.5ZM519.2 176.9L523.4 181.1L519.2 185.3L515.0 181.1ZM508.9 167.8L513.1 172.0L508.9 176.2L504.7 172.0ZM527.6 174.5L528.8 177.9L532.5 178.1L529.6 180.4L530.6 183.9L527.6 181.9L524.5 183.9L525.5 180.4L522.6 178.1L526.3 177.9ZM588.7 144.7a3.1 3.1 0 1 1 6.2 0a3.1 3.1 0 1 1 -6.2 0ZM553.9 135.2L558.1 139.4L553.9 143.6L549.7 139.4ZM504.0 173.0L505.2 176.4L508.9 176.6L506.0 178.9L507.0 182.4L504.0 180.4L500.9 182.4L501.9 178.9L499.0 176.6L502.7 176.4ZM505.6 173.5a3.1 3.1 0 1 1 6.2 0a3.1 3.1 0 1 1 -6.2 0ZM540.3 154.8h2.2v3.5h3.5v2.2h-3.5v3.5h-2.2v-3.5h-3.5v-2.2h3.5ZM564.8 167.9L569.0 172.1L564.8 176.3L560.6 172.1ZM546.1 121.9L547.3 125.4L551.0 125.5L548.1 127.8L549.1 131.4L546.1 129.3L543.0 131.4L544.0 127.8L541.1 125.5L544.8 125.4ZM526.8 143.4L531.0 147.6L526.8 151.8L522.6 147.6ZM547.6 167.2a3.1 3.1 0 1 1 6.2 0a3.1 3.1 0 1 1 -6.2 0ZM532.0 172.8L533.3 176.2L536.9 176.4L534.0 178.7L535.0 182.2L532.0 180.2L528.9 182.2L529.9 178.7L527.0 176.4L530.7 176.2ZM544.4 155.4L545.7 158.8L549.4 159.0L546.5 161.3L547.5 164.8L544.4 162.8L541.4 164.8L542.4 161.3L539.5 159.0L543.1 158.8ZM531.3 136.9L535.5 141.1L531.3 145.3L527.1 141.1ZM500.4 165.5L504.6 169.7L500.4 173.9L496.2 169.7ZM501.0 172.7L505.2 176.9L501.0 181.1L496.8 176.9ZM591.9 112.6L596.1 116.8L591.9 121.0L587.7 116.8ZM548.4 154.3L552.6 158.5L548.4 162.7L544.2 158.5ZM542.8 168.3L544.1 171.8L547.7 171.9L544.9 174.2L545.9 177.7L542.8 175.7L539.7 177.7L540.7 174.2L537.8 171.9L541.5 171.8ZM549.4 151.8L553.6 156.0L549.4 160.2L545.2 156.0ZM589.8 109.0L591.0 112.4L594.7 112.6L591.8 114.9L592.8 118.4L589.8 116.4L586.7 118.4L587.7 114.9L584.8 112.6L588.5 112.4ZM589.0 142.1L590.3 145.5L594.0 145.7L591.1 148.0L592.1 151.5L589.0 149.5L586.0 151.5L587.0 148.0L584.1 145.7L587.8 145.5ZM573.3 122.2L577.5 126.4L573.3 130.6L569.1 126.4ZM579.2 117.1L583.4 121.3L579.2 125.5L575.0 121.3ZM513.1 165.4L517.3 169.6L513.1 173.8L508.9 169.6ZM553.6 152.5L557.8 156.7L553.6 160.9L549.4 156.7ZM514.9 172.3a3.1 3.1 0 1 1 6.2 0a3.1 3.1 0 1 1 -6.2 0ZM568.3 133.1h2.2v3.5h3.5v2.2h-3.5v3.5h-2.2v-3.5h-3.5v-2.2h3.5ZM531.1 184.2L535.3 188.4L531.1 192.6L526.9 188.4ZM551.2 162.3a3.1 3.1 0 1 1 6.2 0a3.1 3.1 0 1 1 -6.2 0ZM549.0 122.3L553.2 126.5L549.0 130.7L544.8 126.5ZM544.3 184.8L545.5 188.2L549.2 188.3L546.3 190.6L547.3 194.2L544.3 192.1L541.2 194.2L542.2 190.6L539.3 188.3L543.0 188.2ZM523.0 160.2L527.2 164.4L523.0 168.6L518.8 164.4ZM520.0 187.3L524.2 191.5L520.0 195.7L515.8 191.5ZM512.5 171.6L513.8 175.0L517.4 175.2L514.6 177.5L515.5 181.0L512.5 179.0L509.4 181.0L510.4 177.5L507.5 175.2L511.2 175.0ZM510.0 169.3L511.3 172.7L515.0 172.9L512.1 175.2L513.1 178.7L510.0 176.7L507.0 178.7L507.9 175.2L505.1 172.9L508.7 172.7ZM570.3 156.8L571.6 160.3L575.2 160.4L572.4 162.7L573.3 166.2L570.3 164.2L567.2 166.2L568.2 162.7L565.3 160.4L569.0 160.3ZM560.6 166.3L564.8 170.5L560.6 174.7L556.4 170.5ZM518.3 191.2L519.6 194.6L523.3 194.8L520.4 197.1L521.4 200.6L518.3 198.6L515.3 200.6L516.2 197.1L513.4 194.8L517.0 194.6ZM529.4 166.9L533.6 171.1L529.4 175.3L525.2 171.1ZM505.0 162.2h2.2v3.5h3.5v2.2h-3.5v3.5h-2.2v-3.5h-3.5v-2.2h3.5Z"/>
<path fill="#8b8c8c" d="M468.5 209.8a3.1 3.1 0 1 1 6.2 0a3.1 3.1 0 1 1 -6.2 0ZM490.9 199.0h2.2v3.5h3.5v2.2h-3.5v3.5h-2.2v-3.5h-3.5v-2.2h3.5ZM478.7 209.4L482.9 213.6L478.7 217.8L474.5 213.6ZM430.5 215.9L434.7 220.1L430.5 224.3L426.3 220.1ZM307.4 267.0L308.7 270.4L312.3 270.6L309.5 272.9L310.5 276.4L307.4 274.4L304.3 276.4L305.3 272.9L302.5 270.6L306.1 270.4ZM435.9 216.5h2.2v3.5h3.5v2.2h-3.5v3.5h-2.2v-3.5h-3.5v-2.2h3.5ZM445.2 209.3L449.4 213.5L445.2 217.7L441.0 213.5ZM470.1 166.4L474.3 170.6L470.1 174.8L465.9 170.6ZM388.1 227.1h2.2v3.5h3.5v2.2h-3.5v3.5h-2.2v-3.5h-3.5v-2.2h3.5ZM320.2 291.2L324.4 295.4L320.2 299.6L316.0 295.4ZM449.0 210.7L453.2 214.9L449.0 219.1L444.8 214.9ZM420.3 230.8h2.2v3.5h3.5v2.2h-3.5v3.5h-2.2v-3.5h-3.5v-2.2h3.5ZM500.0 196.3L501.3 199.7L505.0 199.8L502.1 202.1L503.1 205.7L500.0 203.6L497.0 205.7L498.0 202.1L495.1 199.8L498.8 199.7ZM404.8 239.6a3.1 3.1 0 1 1 6.2 0a3.1 3.1 0 1 1 -6.2 0ZM423.7 201.8L425.0 205.2L428.7 205.3L425.8 207.6L426.8 211.2L423.7 209.1L420.7 211.2L421.6 207.6L418.8 205.3L422.4 205.2ZM398.9 223.2h2.2v3.5h3.5v2.2h-3.5v3.5h-2.2v-3.5h-3.5v-2.2h3.5ZM417.7 220.5L421.9 224.7L417.7 228.9L413.5 224.7ZM396.0 227.7h2.2v3.5h3.5v2.2h-3.5v3.5h-2.2v-3.5h-3.5v-2.2h3.5ZM465.6 188.2a3.1 3.1 0 1 1 6.2 0a3.1 3.1 0 1 1 -6.2 0ZM400.0 214.6a3.1 3.1 0 1 1 6.2 0a3.1 3.1 0 1 1 -6.2 0ZM369.2 272.4a3.1 3.1 0 1 1 6.2 0a3.1 3.1 0 1 1 -6.2 0ZM514.6 185.3L518.8 189.5L514.6 193.7L510.4 189.5ZM390.6 258.1L391.9 261.6L395.6 261.7L392.7 264.0L393.7 267.6L390.6 265.5L387.6 267.6L388.5 264.0L385.7 261.7L389.3 261.6ZM426.6 222.0a3.1 3.1 0 1 1 6.2 0a3.1 3.1 0 1 1 -6.2 0ZM437.0 201.0L438.3 204.5L442.0 204.6L439.1 206.9L440.1 210.4L437.0 208.4L434.0 210.4L435.0 206.9L432.1 204.6L435.8 204.5ZM473.3 203.4a3.1 3.1 0 1 1 6.2 0a3.1 3.1 0 1 1 -6.2 0ZM422.9 216.0L424.2 219.4L427.8 219.6L425.0 221.9L425.9 225.4L422.9 223.4L419.8 225.4L420.8 221.9L417.9 219.6L421.6 219.4ZM503.3 172.4L507.5 176.6L503.3 180.8L499.1 176.6ZM434.3 204.5L435.6 207.9L439.3 208.1L436.4 210.3L437.4 213.9L434.3 211.9L431.3 213.9L432.2 210.3L429.4 208.1L433.0 207.9ZM432.0 224.3a3.1 3.1 0 1 1 6.2 0a3.1 3.1 0 1 1 -6.2 0ZM417.1 213.6L421.3 217.8L417.1 222.0L412.9 217.8ZM452.2 199.7L456.4 203.9L452.2 208.1L448.0 203.9ZM353.9 237.2L358.1 241.4L353.9 245.6L349.7 241.4ZM405.7 247.0L409.9 251.2L405.7 255.4L401.5 251.2ZM448.1 224.8L449.4 228.2L453.1 228.3L450.2 230.6L451.2 234.2L448.1 232.1L445.1 234.2L446.1 230.6L443.2 228.3L446.9 228.2ZM509.5 161.4L513.7 165.6L509.5 169.8L505.3 165.6ZM358.9 268.7h2.2v3.5h3.5v2.2h-3.5v3.5h-2.2v-3.5h-3.5v-2.2h3.5ZM310.3 283.0L311.5 286.4L315.2 286.6L312.3 288.8L313.3 292.4L310.3 290.4L307.2 292.4L308.2 288.8L305.3 286.6L309.0 286.4ZM521.0 142.8h2.2v3.5h3.5v2.2h-3.5v3.5h-2.2v-3.5h-3.5v-2.2h3.5ZM473.5 178.0L474.8 181.5L478.4 181.6L475.6 183.9L476.5 187.4L473.5 185.4L470.4 187.4L471.4 183.9L468.5 181.6L472.2 181.5ZM482.4 181.1L486.6 185.3L482.4 189.5L478.2 185.3ZM430.4 222.5L431.7 226.0L435.3 226.1L432.4 228.4L433.4 231.9L430.4 229.9L427.3 231.9L428.3 228.4L425.4 226.1L429.1 226.0ZM328.7 257.0L332.9 261.2L328.7 265.4L324.5 261.2ZM460.1 204.7a3.1 3.1 0 1 1 6.2 0a3.1 3.1 0 1 1 -6.2 0ZM451.2 190.3L455.4 194.5L451.2 198.7L447.0 194.5ZM447.7 207.2L451.9 211.4L447.7 215.6L443.5 211.4ZM402.4 207.6a3.1 3.1 0 1 1 6.2 0a3.1 3.1 0 1 1 -6.2 0ZM484.3 195.2L488.5 199.4L484.3 203.6L480.1 199.4ZM427.7 199.5L429.0 202.9L432.6 203.1L429.8 205.4L430.8 208.9L427.7 206.9L424.6 208.9L425.6 205.4L422.7 203.1L426.4 202.9ZM506.3 194.2a3.1 3.1 0 1 1 6.2 0a3.1 3.1 0 1 1 -6.2 0ZM408.2 217.1a3.1 3.1 0 1 1 6.2 0a3.1 3.1 0 1 1 -6.2 0ZM309.0 273.2L313.2 277.4L309.0 281.6L304.8 277.4ZM386.3 249.0a3.1 3.1 0 1 1 6.2 0a3.1 3.1 0 1 1 -6.2 0ZM367.9 239.4L369.2 242.8L372.8 243.0L369.9 245.3L370.9 248.8L367.9 246.8L364.8 248.8L365.8 245.3L362.9 243.0L366.6 242.8ZM391.8 245.6a3.1 3.1 0 1 1 6.2 0a3.1 3.1 0 1 1 -6.2 0ZM413.0 211.5L417.2 215.7L413.0 219.9L408.8 215.7ZM451.8 185.6L456.0 189.8L451.8 194.0L447.6 189.8ZM390.1 225.5a3.1 3.1 0 1 1 6.2 0a3.1 3.1 0 1 1 -6.2 0ZM412.6 226.6a3.1 3.1 0 1 1 6.2 0a3.1 3.1 0 1 1 -6.2 0ZM473.9 182.3a3.1 3.1 0 1 1 6.2 0a3.1 3.1 0 1 1 -6.2 0ZM439.6 214.5L440.9 217.9L444.6 218.0L441.7 220.3L442.7 223.9L439.6 221.8L436.6 223.9L437.5 220.3L434.7 218.0L438.3 217.9ZM481.3 196.7a3.1 3.1 0 1 1 6.2 0a3.1 3.1 0 1 1 -6.2 0ZM445.1 221.7L449.3 225.9L445.1 230.1L440.9 225.9ZM483.6 175.0L487.8 179.2L483.6 183.4L479.4 179.2ZM416.0 205.1h2.2v3.5h3.5v2.2h-3.5v3.5h-2.2v-3.5h-3.5v-2.2h3.5ZM521.9 176.0L526.1 180.2L521.9 184.4L517.7 180.2ZM434.5 245.1L438.7 249.3L434.5 253.5L430.3 249.3ZM391.0 256.1h2.2v3.5h3.5v2.2h-3.5v3.5h-2.2v-3.5h-3.5v-2.2h3.5ZM447.6 249.9a3.1 3.1 0 1 1 6.2 0a3.1 3.1 0 1 1 -6.2 0ZM407.2 233.9L411.4 238.1L407.2 242.3L403.0 238.1ZM449.8 199.0L451.0 202.4L454.7 202.6L451.8 204.9L452.8 208.4L449.8 206.4L446.7 208.4L447.7 204.9L444.8 202.6L448.5 202.4ZM336.2 271.4a3.1 3.1 0 1 1 6.2 0a3.1 3.1 0 1 1 -6.2 0ZM461.5 180.0L462.8 183.5L466.4 183.6L463.6 185.9L464.6 189.4L461.5 187.4L458.4 189.4L459.4 185.9L456.6 183.6L460.2 183.5ZM410.3 220.2L414.5 224.4L410.3 228.6L406.1 224.4ZM452.4 209.5L456.6 213.7L452.4 217.9L448.2 213.7ZM496.7 175.4L500.9 179.6L496.7 183.8L492.5 179.6ZM488.5 207.1a3.1 3.1 0 1 1 6.2 0a3.1 3.1 0 1 1 -6.2 0ZM470.7 204.9h2.2v3.5h3.5v2.2h-3.5v3.5h-2.2v-3.5h-3.5v-2.2h3.5ZM380.5 238.8L384.7 243.0L380.5 247.2L376.3 243.0ZM445.0 199.7L446.3 203.1L450.0 203.3L447.1 205.6L448.1 209.1L445.0 207.1L442.0 209.1L442.9 205.6L440.1 203.3L443.7 203.1ZM400.1 226.4L404.3 230.6L400.1 234.8L395.9 230.6ZM431.0 220.9a3.1 3.1 0 1 1 6.2 0a3.1 3.1 0 1 1 -6.2 0ZM407.1 218.9L411.3 223.1L407.1 227.3L402.9 223.1ZM422.6 217.0L423.8 220.4L427.5 220.6L424.6 222.9L425.6 226.4L422.6 224.4L419.5 226.4L420.5 222.9L417.6 220.6L421.3 220.4ZM416.0 216.1L417.3 219.6L421.0 219.7L418.1 222.0L419.1 225.5L416.0 223.5L413.0 225.5L414.0 222.0L411.1 219.7L414.8 219.6ZM370.0 245.2L374.2 249.4L370.0 253.6L365.8 249.4ZM434.7 183.9L436.0 187.3L439.6 187.5L436.8 189.7L437.7 193.3L434.7 191.2L431.6 193.3L432.6 189.7L429.7 187.5L433.4 187.3ZM330.9 256.0L335.1 260.2L330.9 264.4L326.7 260.2ZM426.3 194.9L427.6 198.4L431.2 198.5L428.4 200.8L429.4 204.3L426.3 202.3L423.2 204.3L424.2 200.8L421.4 198.5L425.0 198.4ZM455.5 195.8L459.7 200.0L455.5 204.2L451.3 200.0ZM395.5 266.0L399.7 270.2L395.5 274.4L391.3 270.2ZM413.2 195.3L414.5 198.7L418.2 198.9L415.3 201.1L416.3 204.7L413.2 202.6L410.1 204.7L411.1 201.1L408.3 198.9L411.9 198.7ZM462.3 192.7a3.1 3.1 0 1 1 6.2 0a3.1 3.1 0 1 1 -6.2 0ZM508.4 156.2L512.6 160.4L508.4 164.6L504.2 160.4ZM470.9 160.2L472.2 163.6L475.9 163.8L473.0 166.1L474.0 169.6L470.9 167.6L467.9 169.6L468.9 166.1L466.0 163.8L469.6 163.6ZM302.8 293.8L304.1 297.2L307.8 297.4L304.9 299.6L305.9 303.2L302.8 301.2L299.8 303.2L300.7 299.6L297.9 297.4L301.5 297.2ZM451.0 220.8L455.2 225.0L451.0 229.2L446.8 225.0ZM301.6 286.8L302.9 290.3L306.5 290.4L303.7 292.7L304.6 296.2L301.6 294.2L298.5 296.2L299.5 292.7L296.6 290.4L300.3 290.3ZM416.1 214.1L417.4 217.5L421.0 217.7L418.2 220.0L419.2 223.5L416.1 221.5L413.0 223.5L414.0 220.0L411.2 217.7L414.8 217.5ZM530.3 175.6L531.6 179.1L535.2 179.2L532.4 181.5L533.3 185.0L530.3 183.0L527.2 185.0L528.2 181.5L525.3 179.2L529.0 179.1ZM392.1 232.9L393.4 236.4L397.0 236.5L394.2 238.8L395.2 242.3L392.1 240.3L389.0 242.3L390.0 238.8L387.2 236.5L390.8 236.4ZM494.6 152.1L495.9 155.5L499.5 155.6L496.7 157.9L497.6 161.5L494.6 159.4L491.5 161.5L492.5 157.9L489.6 155.6L493.3 155.5ZM452.0 189.6L456.2 193.8L452.0 198.0L447.8 193.8ZM463.5 168.5L464.8 171.9L468.4 172.0L465.5 174.3L466.5 177.9L463.5 175.8L460.4 177.9L461.4 174.3L458.5 172.0L462.2 171.9ZM504.3 202.0a3.1 3.1 0 1 1 6.2 0a3.1 3.1 0 1 1 -6.2 0ZM439.8 212.3L444.0 216.5L439.8 220.7L435.6 216.5ZM498.5 140.0L502.7 144.2L498.5 148.4L494.3 144.2ZM499.0 189.7L500.3 193.1L503.9 193.3L501.1 195.6L502.0 199.1L499.0 197.1L495.9 199.1L496.9 195.6L494.0 193.3L497.7 193.1ZM419.0 208.9h2.2v3.5h3.5v2.2h-3.5v3.5h-2.2v-3.5h-3.5v-2.2h3.5ZM413.4 218.2L417.6 222.4L413.4 226.6L409.2 222.4ZM428.8 216.3L433.0 220.5L428.8 224.7L424.6 220.5ZM452.3 206.2L456.5 210.4L452.3 214.6L448.1 210.4ZM382.0 247.0L383.3 250.4L386.9 250.6L384.1 252.9L385.1 256.4L382.0 254.4L378.9 256.4L379.9 252.9L377.1 250.6L380.7 250.4ZM511.1 196.4L515.3 200.6L511.1 204.8L506.9 200.6ZM500.7 206.1h2.2v3.5h3.5v2.2h-3.5v3.5h-2.2v-3.5h-3.5v-2.2h3.5ZM409.7 217.3h2.2v3.5h3.5v2.2h-3.5v3.5h-2.2v-3.5h-3.5v-2.2h3.5ZM427.0 226.8L428.3 230.2L432.0 230.3L429.1 232.6L430.1 236.2L427.0 234.1L424.0 236.2L425.0 232.6L422.1 230.3L425.8 230.2ZM400.2 228.7L404.4 232.9L400.2 237.1L396.0 232.9ZM461.0 182.0L465.2 186.2L461.0 190.4L456.8 186.2ZM389.0 243.7L390.3 247.2L393.9 247.3L391.1 249.6L392.0 253.1L389.0 251.1L385.9 253.1L386.9 249.6L384.0 247.3L387.7 247.2ZM467.3 222.9L471.5 227.1L467.3 231.3L463.1 227.1ZM438.6 189.7L442.8 193.9L438.6 198.1L434.4 193.9ZM461.7 209.8L465.9 214.0L461.7 218.2L457.5 214.0ZM514.9 191.2L519.1 195.4L514.9 199.6L510.7 195.4ZM392.5 233.5a3.1 3.1 0 1 1 6.2 0a3.1 3.1 0 1 1 -6.2 0ZM389.7 245.2L390.9 248.7L394.6 248.8L391.7 251.1L392.7 254.6L389.7 252.6L386.6 254.6L387.6 251.1L384.7 248.8L388.4 248.7ZM496.2 151.3L497.4 154.7L501.1 154.9L498.2 157.1L499.2 160.7L496.2 158.6L493.1 160.7L494.1 157.1L491.2 154.9L494.9 154.7ZM426.7 202.1L428.0 205.6L431.7 205.7L428.8 208.0L429.8 211.6L426.7 209.5L423.7 211.6L424.7 208.0L421.8 205.7L425.5 205.6ZM477.4 181.5L481.6 185.7L477.4 189.9L473.2 185.7ZM384.3 224.7L388.5 228.9L384.3 233.1L380.1 228.9ZM455.3 161.0L459.5 165.2L455.3 169.4L451.1 165.2ZM461.1 190.0L462.4 193.4L466.1 193.6L463.2 195.9L464.2 199.4L461.1 197.4L458.1 199.4L459.1 195.9L456.2 193.6L459.9 193.4ZM446.1 210.7h2.2v3.5h3.5v2.2h-3.5v3.5h-2.2v-3.5h-3.5v-2.2h3.5ZM441.0 209.5a3.1 3.1 0 1 1 6.2 0a3.1 3.1 0 1 1 -6.2 0ZM439.9 210.8L441.2 214.3L444.9 214.4L442.0 216.7L443.0 220.2L439.9 218.2L436.9 220.2L437.9 216.7L435.0 214.4L438.7 214.3ZM395.9 207.5L397.2 210.9L400.8 211.1L398.0 213.3L399.0 216.9L395.9 214.9L392.8 216.9L393.8 213.3L391.0 211.1L394.6 210.9ZM410.6 239.4h2.2v3.5h3.5v2.2h-3.5v3.5h-2.2v-3.5h-3.5v-2.2h3.5ZM356.5 257.3h2.2v3.5h3.5v2.2h-3.5v3.5h-2.2v-3.5h-3.5v-2.2h3.5ZM457.2 188.1h2.2v3.5h3.5v2.2h-3.5v3.5h-2.2v-3.5h-3.5v-2.2h3.5ZM384.4 236.1a3.1 3.1 0 1 1 6.2 0a3.1 3.1 0 1 1 -6.2 0ZM384.4 226.9L388.6 231.1L384.4 235.3L380.2 231.1ZM347.2 258.9h2.2v3.5h3.5v2.2h-3.5v3.5h-2.2v-3.5h-3.5v-2.2h3.5ZM341.0 278.6L345.2 282.8L341.0 287.0L336.8 282.8ZM487.0 181.5L491.2 185.7L487.0 189.9L482.8 185.7ZM454.2 181.0L455.5 184.5L459.2 184.6L456.3 186.9L457.3 190.4L454.2 188.4L451.2 190.4L452.2 186.9L449.3 184.6L452.9 184.5ZM512.2 188.2L513.5 191.6L517.2 191.8L514.3 194.1L515.3 197.6L512.2 195.6L509.2 197.6L510.2 194.1L507.3 191.8L510.9 191.6ZM423.2 240.8L427.4 245.0L423.2 249.2L419.0 245.0ZM403.9 239.6a3.1 3.1 0 1 1 6.2 0a3.1 3.1 0 1 1 -6.2 0ZM466.1 204.7L470.3 208.9L466.1 213.1L461.9 208.9ZM413.3 241.1L417.5 245.3L413.3 249.5L409.1 245.3ZM386.4 218.2L387.7 221.6L391.3 221.8L388.4 224.1L389.4 227.6L386.4 225.6L383.3 227.6L384.3 224.1L381.4 221.8L385.1 221.6ZM417.2 223.0L418.5 226.5L422.1 226.6L419.3 228.9L420.2 232.4L417.2 230.4L414.1 232.4L415.1 228.9L412.2 226.6L415.9 226.5ZM400.8 239.6L405.0 243.8L400.8 248.0L396.6 243.8ZM445.2 198.2L449.4 202.4L445.2 206.6L441.0 202.4ZM482.0 173.3L483.2 176.8L486.9 176.9L484.0 179.2L485.0 182.7L482.0 180.7L478.9 182.7L479.9 179.2L477.0 176.9L480.7 176.8ZM445.3 206.2h2.2v3.5h3.5v2.2h-3.5v3.5h-2.2v-3.5h-3.5v-2.2h3.5ZM479.7 202.6L480.9 206.1L484.6 206.2L481.7 208.5L482.7 212.0L479.7 210.0L476.6 212.0L477.6 208.5L474.7 206.2L478.4 206.1ZM474.4 207.2L475.7 210.6L479.4 210.8L476.5 213.0L477.5 216.6L474.4 214.5L471.4 216.6L472.4 213.0L469.5 210.8L473.1 210.6ZM394.3 218.3a3.1 3.1 0 1 1 6.2 0a3.1 3.1 0 1 1 -6.2 0ZM511.3 168.5L515.5 172.7L511.3 176.9L507.1 172.7ZM443.5 215.8a3.1 3.1 0 1 1 6.2 0a3.1 3.1 0 1 1 -6.2 0ZM405.0 223.3L409.2 227.5L405.0 231.7L400.8 227.5ZM388.1 230.5L392.3 234.7L388.1 238.9L383.9 234.7ZM394.2 231.4L398.4 235.6L394.2 239.8L390.0 235.6ZM400.2 226.7L404.4 230.9L400.2 235.1L396.0 230.9ZM298.4 281.7L302.6 285.9L298.4 290.1L294.2 285.9ZM492.4 188.5a3.1 3.1 0 1 1 6.2 0a3.1 3.1 0 1 1 -6.2 0ZM452.2 209.7a3.1 3.1 0 1 1 6.2 0a3.1 3.1 0 1 1 -6.2 0ZM526.1 162.3a3.1 3.1 0 1 1 6.2 0a3.1 3.1 0 1 1 -6.2 0ZM465.5 205.4L469.7 209.6L465.5 213.8L461.3 209.6ZM394.4 236.8h2.2v3.5h3.5v2.2h-3.5v3.5h-2.2v-3.5h-3.5v-2.2h3.5ZM395.7 249.1L397.0 252.5L400.7 252.7L397.8 255.0L398.8 258.5L395.7 256.5L392.7 258.5L393.7 255.0L390.8 252.7L394.5 252.5ZM395.7 238.0a3.1 3.1 0 1 1 6.2 0a3.1 3.1 0 1 1 -6.2 0ZM495.6 180.2L496.9 183.7L500.5 183.8L497.7 186.1L498.7 189.6L495.6 187.6L492.5 189.6L493.5 186.1L490.7 183.8L494.3 183.7ZM463.2 198.7L467.4 202.9L463.2 207.1L459.0 202.9ZM404.6 263.3a3.1 3.1 0 1 1 6.2 0a3.1 3.1 0 1 1 -6.2 0ZM372.6 246.8L373.9 250.2L377.6 250.4L374.7 252.7L375.7 256.2L372.6 254.2L369.6 256.2L370.6 252.7L367.7 250.4L371.3 250.2ZM444.4 206.7L448.6 210.9L444.4 215.1L440.2 210.9ZM369.5 236.3L373.7 240.5L369.5 244.7L365.3 240.5ZM405.5 246.9a3.1 3.1 0 1 1 6.2 0a3.1 3.1 0 1 1 -6.2 0ZM480.7 159.7L484.9 163.9L480.7 168.1L476.5 163.9ZM410.5 224.2a3.1 3.1 0 1 1 6.2 0a3.1 3.1 0 1 1 -6.2 0ZM395.8 220.5L397.1 223.9L400.7 224.0L397.9 226.3L398.8 229.9L395.8 227.8L392.7 229.9L393.7 226.3L390.8 224.0L394.5 223.9ZM513.0 176.8a3.1 3.1 0 1 1 6.2 0a3.1 3.1 0 1 1 -6.2 0ZM436.2 202.2L437.5 205.6L441.1 205.8L438.3 208.0L439.3 211.6L436.2 209.6L433.1 211.6L434.1 208.0L431.3 205.8L434.9 205.6ZM401.0 204.7h2.2v3.5h3.5v2.2h-3.5v3.5h-2.2v-3.5h-3.5v-2.2h3.5ZM403.4 228.3a3.1 3.1 0 1 1 6.2 0a3.1 3.1 0 1 1 -6.2 0ZM489.6 184.2L493.8 188.4L489.6 192.6L485.4 188.4ZM462.0 175.0L463.3 178.4L466.9 178.6L464.1 180.9L465.0 184.4L462.0 182.4L458.9 184.4L459.9 180.9L457.0 178.6L460.7 178.4ZM458.3 183.6L462.5 187.8L458.3 192.0L454.1 187.8ZM490.7 208.9a3.1 3.1 0 1 1 6.2 0a3.1 3.1 0 1 1 -6.2 0ZM447.0 201.8a3.1 3.1 0 1 1 6.2 0a3.1 3.1 0 1 1 -6.2 0ZM334.1 261.1L335.3 264.5L339.0 264.7L336.1 267.0L337.1 270.5L334.1 268.5L331.0 270.5L332.0 267.0L329.1 264.7L332.8 264.5ZM410.9 225.0a3.1 3.1 0 1 1 6.2 0a3.1 3.1 0 1 1 -6.2 0ZM489.0 200.0L490.3 203.4L493.9 203.6L491.1 205.9L492.0 209.4L489.0 207.4L485.9 209.4L486.9 205.9L484.0 203.6L487.7 203.4ZM369.7 257.9a3.1 3.1 0 1 1 6.2 0a3.1 3.1 0 1 1 -6.2 0ZM399.3 244.4L403.5 248.6L399.3 252.8L395.1 248.6ZM509.5 196.1L513.7 200.3L509.5 204.5L505.3 200.3ZM373.6 242.9L377.8 247.1L373.6 251.3L369.4 247.1ZM399.7 247.3h2.2v3.5h3.5v2.2h-3.5v3.5h-2.2v-3.5h-3.5v-2.2h3.5ZM463.8 190.1L468.0 194.3L463.8 198.5L459.6 194.3ZM426.9 196.1L428.1 199.5L431.8 199.7L428.9 202.0L429.9 205.5L426.9 203.5L423.8 205.5L424.8 202.0L421.9 199.7L425.6 199.5ZM405.7 235.3L409.9 239.5L405.7 243.7L401.5 239.5ZM493.8 164.7L495.1 168.2L498.7 168.3L495.9 170.6L496.9 174.1L493.8 172.1L490.7 174.1L491.7 170.6L488.9 168.3L492.5 168.2ZM353.2 238.8L354.5 242.3L358.1 242.4L355.3 244.7L356.2 248.2L353.2 246.2L350.1 248.2L351.1 244.7L348.2 242.4L351.9 242.3ZM318.7 271.9a3.1 3.1 0 1 1 6.2 0a3.1 3.1 0 1 1 -6.2 0ZM417.2 254.0L418.5 257.5L422.2 257.6L419.3 259.9L420.3 263.4L417.2 261.4L414.2 263.4L415.2 259.9L412.3 257.6L416.0 257.5ZM493.7 191.1L495.0 194.5L498.7 194.7L495.8 197.0L496.8 200.5L493.7 198.5L490.7 200.5L491.7 197.0L488.8 194.7L492.5 194.5ZM415.7 217.9L417.0 221.3L420.6 221.5L417.7 223.8L418.7 227.3L415.7 225.3L412.6 227.3L413.6 223.8L410.7 221.5L414.4 221.3ZM430.1 200.3h2.2v3.5h3.5v2.2h-3.5v3.5h-2.2v-3.5h-3.5v-2.2h3.5ZM434.6 216.5L435.8 219.9L439.5 220.1L436.6 222.3L437.6 225.9L434.6 223.8L431.5 225.9L432.5 222.3L429.6 220.1L433.3 219.9ZM458.7 204.4L462.9 208.6L458.7 212.8L454.5 208.6ZM422.0 204.7h2.2v3.5h3.5v2.2h-3.5v3.5h-2.2v-3.5h-3.5v-2.2h3.5ZM504.6 180.0L505.9 183.5L509.6 183.6L506.7 185.9L507.7 189.4L504.6 187.4L501.6 189.4L502.6 185.9L499.7 183.6L503.4 183.5ZM476.1 196.9L477.4 200.3L481.0 200.5L478.1 202.8L479.1 206.3L476.1 204.3L473.0 206.3L474.0 202.8L471.1 200.5L474.8 200.3ZM393.8 241.9L395.0 245.4L398.7 245.5L395.8 247.8L396.8 251.3L393.8 249.3L390.7 251.3L391.7 247.8L388.8 245.5L392.5 245.4ZM448.4 199.9L449.7 203.3L453.3 203.5L450.4 205.8L451.4 209.3L448.4 207.3L445.3 209.3L446.3 205.8L443.4 203.5L447.1 203.3ZM389.7 237.2L391.0 240.6L394.7 240.8L391.8 243.0L392.8 246.6L389.7 244.6L386.7 246.6L387.7 243.0L384.8 240.8L388.4 240.6ZM443.4 201.2L444.7 204.6L448.4 204.8L445.5 207.1L446.5 210.6L443.4 208.6L440.4 210.6L441.4 207.1L438.5 204.8L442.2 204.6ZM478.7 196.9a3.1 3.1 0 1 1 6.2 0a3.1 3.1 0 1 1 -6.2 0ZM491.6 184.2L495.8 188.4L491.6 192.6L487.4 188.4ZM468.8 188.4L470.1 191.8L473.7 192.0L470.9 194.2L471.9 197.8L468.8 195.7L465.7 197.8L466.7 194.2L463.9 192.0L467.5 191.8ZM384.5 229.2L388.7 233.4L384.5 237.6L380.3 233.4ZM488.3 204.1L492.5 208.3L488.3 212.5L484.1 208.3ZM454.6 203.8a3.1 3.1 0 1 1 6.2 0a3.1 3.1 0 1 1 -6.2 0ZM388.8 264.5h2.2v3.5h3.5v2.2h-3.5v3.5h-2.2v-3.5h-3.5v-2.2h3.5ZM395.2 237.7L399.4 241.9L395.2 246.1L391.0 241.9ZM352.6 261.4L356.8 265.6L352.6 269.8L348.4 265.6ZM439.4 225.2a3.1 3.1 0 1 1 6.2 0a3.1 3.1 0 1 1 -6.2 0ZM362.6 253.9a3.1 3.1 0 1 1 6.2 0a3.1 3.1 0 1 1 -6.2 0ZM495.0 193.4a3.1 3.1 0 1 1 6.2 0a3.1 3.1 0 1 1 -6.2 0ZM339.0 262.5L343.2 266.7L339.0 270.9L334.8 266.7ZM410.9 227.4L415.1 231.6L410.9 235.8L406.7 231.6ZM372.4 241.3L376.6 245.5L372.4 249.7L368.2 245.5ZM402.3 239.8L403.6 243.3L407.2 243.4L404.4 245.7L405.3 249.2L402.3 247.2L399.2 249.2L400.2 245.7L397.3 243.4L401.0 243.3ZM466.5 209.9L470.7 214.1L466.5 218.3L462.3 214.1ZM476.2 192.0L480.4 196.2L476.2 200.4L472.0 196.2ZM397.0 243.5L401.2 247.7L397.0 251.9L392.8 247.7ZM504.2 160.7L505.4 164.2L509.1 164.3L506.2 166.6L507.2 170.1L504.2 168.1L501.1 170.1L502.1 166.6L499.2 164.3L502.9 164.2ZM408.1 238.4L412.3 242.6L408.1 246.8L403.9 242.6ZM460.1 210.8L464.3 215.0L460.1 219.2L455.9 215.0ZM411.7 227.6L415.9 231.8L411.7 236.0L407.5 231.8ZM503.9 184.1L508.1 188.3L503.9 192.5L499.7 188.3ZM454.5 194.8L458.7 199.0L454.5 203.2L450.3 199.0ZM407.7 241.9L411.9 246.1L407.7 250.3L403.5 246.1ZM485.7 167.7L489.9 171.9L485.7 176.1L481.5 171.9ZM375.2 234.0h2.2v3.5h3.5v2.2h-3.5v3.5h-2.2v-3.5h-3.5v-2.2h3.5ZM430.7 259.1L431.9 262.6L435.6 262.7L432.7 265.0L433.7 268.5L430.7 266.5L427.6 268.5L428.6 265.0L425.7 262.7L429.4 262.6ZM325.6 283.3L329.8 287.5L325.6 291.7L321.4 287.5ZM451.1 227.9L455.3 232.1L451.1 236.3L446.9 232.1ZM457.4 168.8L461.6 173.0L457.4 177.2L453.2 173.0ZM419.8 239.9a3.1 3.1 0 1 1 6.2 0a3.1 3.1 0 1 1 -6.2 0ZM438.6 212.2a3.1 3.1 0 1 1 6.2 0a3.1 3.1 0 1 1 -6.2 0ZM489.9 168.3L491.2 171.8L494.8 171.9L491.9 174.2L492.9 177.7L489.9 175.7L486.8 177.7L487.8 174.2L484.9 171.9L488.6 171.8ZM364.4 221.9h2.2v3.5h3.5v2.2h-3.5v3.5h-2.2v-3.5h-3.5v-2.2h3.5ZM341.4 293.0a3.1 3.1 0 1 1 6.2 0a3.1 3.1 0 1 1 -6.2 0ZM374.4 247.6a3.1 3.1 0 1 1 6.2 0a3.1 3.1 0 1 1 -6.2 0ZM489.1 173.8a3.1 3.1 0 1 1 6.2 0a3.1 3.1 0 1 1 -6.2 0ZM461.9 181.4L463.2 184.9L466.9 185.0L464.0 187.3L465.0 190.8L461.9 188.8L458.9 190.8L459.8 187.3L457.0 185.0L460.6 184.9ZM398.1 227.9L399.4 231.3L403.1 231.5L400.2 233.8L401.2 237.3L398.1 235.3L395.1 237.3L396.0 233.8L393.2 231.5L396.8 231.3ZM332.3 237.9L336.5 242.1L332.3 246.3L328.1 242.1ZM455.0 202.6h2.2v3.5h3.5v2.2h-3.5v3.5h-2.2v-3.5h-3.5v-2.2h3.5ZM453.9 213.2L455.2 216.7L458.8 216.8L456.0 219.1L456.9 222.6L453.9 220.6L450.8 222.6L451.8 219.1L448.9 216.8L452.6 216.7ZM391.6 217.4L392.9 220.9L396.5 221.0L393.7 223.3L394.6 226.8L391.6 224.8L388.5 226.8L389.5 223.3L386.6 221.0L390.3 220.9ZM461.1 162.5a3.1 3.1 0 1 1 6.2 0a3.1 3.1 0 1 1 -6.2 0ZM364.6 250.4L368.8 254.6L364.6 258.8L360.4 254.6ZM338.4 281.5L339.7 285.0L343.4 285.1L340.5 287.4L341.5 290.9L338.4 288.9L335.4 290.9L336.3 287.4L333.5 285.1L337.1 285.0ZM467.4 203.2L468.7 206.7L472.3 206.8L469.5 209.1L470.4 212.6L467.4 210.6L464.3 212.6L465.3 209.1L462.4 206.8L466.1 206.7ZM405.6 232.1a3.1 3.1 0 1 1 6.2 0a3.1 3.1 0 1 1 -6.2 0ZM449.0 213.0a3.1 3.1 0 1 1 6.2 0a3.1 3.1 0 1 1 -6.2 0ZM436.0 199.5L440.2 203.7L436.0 207.9L431.8 203.7ZM349.2 259.4L353.4 263.6L349.2 267.8L345.0 263.6ZM455.9 197.4L457.2 200.8L460.8 201.0L458.0 203.3L458.9 206.8L455.9 204.8L452.8 206.8L453.8 203.3L450.9 201.0L454.6 200.8ZM503.9 177.6a3.1 3.1 0 1 1 6.2 0a3.1 3.1 0 1 1 -6.2 0ZM413.7 223.1L417.9 227.3L413.7 231.5L409.5 227.3ZM476.1 181.1a3.1 3.1 0 1 1 6.2 0a3.1 3.1 0 1 1 -6.2 0ZM366.2 239.3a3.1 3.1 0 1 1 6.2 0a3.1 3.1 0 1 1 -6.2 0ZM423.1 218.0a3.1 3.1 0 1 1 6.2 0a3.1 3.1 0 1 1 -6.2 0ZM408.7 241.8h2.2v3.5h3.5v2.2h-3.5v3.5h-2.2v-3.5h-3.5v-2.2h3.5ZM471.8 182.7h2.2v3.5h3.5v2.2h-3.5v3.5h-2.2v-3.5h-3.5v-2.2h3.5ZM445.7 209.3h2.2v3.5h3.5v2.2h-3.5v3.5h-2.2v-3.5h-3.5v-2.2h3.5ZM446.6 223.6L447.8 227.0L451.5 227.2L448.6 229.4L449.6 233.0L446.6 231.0L443.5 233.0L444.5 229.4L441.6 227.2L445.3 227.0ZM322.9 301.2L324.2 304.7L327.8 304.8L325.0 307.1L325.9 310.6L322.9 308.6L319.8 310.6L320.8 307.1L317.9 304.8L321.6 304.7ZM451.0 211.7a3.1 3.1 0 1 1 6.2 0a3.1 3.1 0 1 1 -6.2 0ZM386.9 230.4L391.1 234.6L386.9 238.8L382.7 234.6ZM396.9 211.2h2.2v3.5h3.5v2.2h-3.5v3.5h-2.2v-3.5h-3.5v-2.2h3.5ZM406.9 223.3L411.1 227.5L406.9 231.7L402.7 227.5ZM456.1 202.0L460.3 206.2L456.1 210.4L451.9 206.2ZM469.9 206.0L471.2 209.5L474.9 209.6L472.0 211.9L473.0 215.4L469.9 213.4L466.9 215.4L467.9 211.9L465.0 209.6L468.7 209.5ZM488.3 185.5L492.5 189.7L488.3 193.9L484.1 189.7ZM449.8 184.6L451.1 188.1L454.7 188.2L451.9 190.5L452.9 194.0L449.8 192.0L446.7 194.0L447.7 190.5L444.9 188.2L448.5 188.1ZM469.3 194.8h2.2v3.5h3.5v2.2h-3.5v3.5h-2.2v-3.5h-3.5v-2.2h3.5ZM454.7 241.8L456.0 245.2L459.6 245.4L456.8 247.7L457.7 251.2L454.7 249.2L451.6 251.2L452.6 247.7L449.7 245.4L453.4 245.2ZM520.4 144.4L524.6 148.6L520.4 152.8L516.2 148.6ZM388.3 226.7h2.2v3.5h3.5v2.2h-3.5v3.5h-2.2v-3.5h-3.5v-2.2h3.5ZM398.6 208.4L402.8 212.6L398.6 216.8L394.4 212.6ZM464.2 164.8h2.2v3.5h3.5v2.2h-3.5v3.5h-2.2v-3.5h-3.5v-2.2h3.5ZM474.8 187.7a3.1 3.1 0 1 1 6.2 0a3.1 3.1 0 1 1 -6.2 0ZM523.3 140.7L524.6 144.1L528.2 144.3L525.4 146.6L526.3 150.1L523.3 148.1L520.2 150.1L521.2 146.6L518.3 144.3L522.0 144.1ZM428.9 216.4L433.1 220.6L428.9 224.8L424.7 220.6ZM458.8 208.0a3.1 3.1 0 1 1 6.2 0a3.1 3.1 0 1 1 -6.2 0ZM461.5 205.7L465.7 209.9L461.5 214.1L457.3 209.9ZM443.9 215.1L448.1 219.3L443.9 223.5L439.7 219.3ZM405.3 224.5a3.1 3.1 0 1 1 6.2 0a3.1 3.1 0 1 1 -6.2 0ZM414.5 206.3L415.8 209.7L419.5 209.9L416.6 212.1L417.6 215.7L414.5 213.6L411.5 215.7L412.4 212.1L409.6 209.9L413.2 209.7ZM357.3 259.0a3.1 3.1 0 1 1 6.2 0a3.1 3.1 0 1 1 -6.2 0ZM410.9 229.8L415.1 234.0L410.9 238.2L406.7 234.0ZM414.6 233.3L415.8 236.7L419.5 236.9L416.6 239.2L417.6 242.7L414.6 240.7L411.5 242.7L412.5 239.2L409.6 236.9L413.3 236.7ZM435.8 212.7h2.2v3.5h3.5v2.2h-3.5v3.5h-2.2v-3.5h-3.5v-2.2h3.5ZM425.3 221.2L426.5 224.7L430.2 224.8L427.3 227.1L428.3 230.6L425.3 228.6L422.2 230.6L423.2 227.1L420.3 224.8L424.0 224.7ZM529.4 138.6L533.6 142.8L529.4 147.0L525.2 142.8ZM434.9 216.3L439.1 220.5L434.9 224.7L430.7 220.5ZM504.0 195.2L508.2 199.4L504.0 203.6L499.8 199.4ZM432.9 210.9L434.2 214.4L437.9 214.5L435.0 216.8L436.0 220.3L432.9 218.3L429.9 220.3L430.9 216.8L428.0 214.5L431.7 214.4ZM441.2 213.6a3.1 3.1 0 1 1 6.2 0a3.1 3.1 0 1 1 -6.2 0ZM484.0 185.9L485.3 189.4L488.9 189.5L486.1 191.8L487.0 195.3L484.0 193.3L480.9 195.3L481.9 191.8L479.0 189.5L482.7 189.4ZM382.2 250.4L383.4 253.8L387.1 254.0L384.2 256.3L385.2 259.8L382.2 257.8L379.1 259.8L380.1 256.3L377.2 254.0L380.9 253.8ZM400.3 235.4L404.5 239.6L400.3 243.8L396.1 239.6ZM440.7 216.2a3.1 3.1 0 1 1 6.2 0a3.1 3.1 0 1 1 -6.2 0ZM395.6 229.0a3.1 3.1 0 1 1 6.2 0a3.1 3.1 0 1 1 -6.2 0ZM370.2 256.7L371.5 260.1L375.1 260.3L372.3 262.5L373.2 266.1L370.2 264.0L367.1 266.1L368.1 262.5L365.2 260.3L368.9 260.1ZM441.1 198.0L445.3 202.2L441.1 206.4L436.9 202.2ZM396.5 225.3a3.1 3.1 0 1 1 6.2 0a3.1 3.1 0 1 1 -6.2 0ZM343.7 265.2a3.1 3.1 0 1 1 6.2 0a3.1 3.1 0 1 1 -6.2 0ZM483.2 166.7L487.4 170.9L483.2 175.1L479.0 170.9ZM407.4 223.9a3.1 3.1 0 1 1 6.2 0a3.1 3.1 0 1 1 -6.2 0ZM442.0 195.6L443.3 199.1L447.0 199.2L444.1 201.5L445.1 205.0L442.0 203.0L439.0 205.0L440.0 201.5L437.1 199.2L440.7 199.1ZM410.3 228.9L414.5 233.1L410.3 237.3L406.1 233.1ZM402.9 213.1a3.1 3.1 0 1 1 6.2 0a3.1 3.1 0 1 1 -6.2 0ZM400.9 214.2h2.2v3.5h3.5v2.2h-3.5v3.5h-2.2v-3.5h-3.5v-2.2h3.5ZM397.6 243.3L401.8 247.5L397.6 251.7L393.4 247.5ZM414.6 214.9L418.8 219.1L414.6 223.3L410.4 219.1ZM486.5 195.4a3.1 3.1 0 1 1 6.2 0a3.1 3.1 0 1 1 -6.2 0ZM477.9 190.9L482.1 195.1L477.9 199.3L473.7 195.1ZM366.9 267.7a3.1 3.1 0 1 1 6.2 0a3.1 3.1 0 1 1 -6.2 0ZM417.7 218.2h2.2v3.5h3.5v2.2h-3.5v3.5h-2.2v-3.5h-3.5v-2.2h3.5ZM456.5 212.6L460.7 216.8L456.5 221.0L452.3 216.8ZM428.4 203.7a3.1 3.1 0 1 1 6.2 0a3.1 3.1 0 1 1 -6.2 0ZM333.5 250.1a3.1 3.1 0 1 1 6.2 0a3.1 3.1 0 1 1 -6.2 0ZM329.5 253.6a3.1 3.1 0 1 1 6.2 0a3.1 3.1 0 1 1 -6.2 0ZM402.7 225.7L404.0 229.2L407.7 229.3L404.8 231.6L405.8 235.1L402.7 233.1L399.7 235.1L400.6 231.6L397.8 229.3L401.4 229.2ZM522.5 152.9L523.8 156.4L527.4 156.5L524.6 158.8L525.6 162.3L522.5 160.3L519.4 162.3L520.4 158.8L517.6 156.5L521.2 156.4ZM429.8 196.3a3.1 3.1 0 1 1 6.2 0a3.1 3.1 0 1 1 -6.2 0ZM362.7 241.1a3.1 3.1 0 1 1 6.2 0a3.1 3.1 0 1 1 -6.2 0ZM485.8 190.9L490.0 195.1L485.8 199.3L481.6 195.1ZM414.1 234.2L418.3 238.4L414.1 242.6L409.9 238.4ZM386.1 223.1L390.3 227.3L386.1 231.5L381.9 227.3ZM493.6 182.2L497.8 186.4L493.6 190.6L489.4 186.4ZM444.6 203.2L445.9 206.6L449.6 206.8L446.7 209.0L447.7 212.6L444.6 210.5L441.6 212.6L442.5 209.0L439.7 206.8L443.3 206.6ZM336.4 284.1a3.1 3.1 0 1 1 6.2 0a3.1 3.1 0 1 1 -6.2 0ZM452.8 209.5a3.1 3.1 0 1 1 6.2 0a3.1 3.1 0 1 1 -6.2 0ZM431.8 220.3L433.1 223.7L436.8 223.9L433.9 226.2L434.9 229.7L431.8 227.7L428.8 229.7L429.8 226.2L426.9 223.9L430.5 223.7ZM511.5 187.9a3.1 3.1 0 1 1 6.2 0a3.1 3.1 0 1 1 -6.2 0ZM448.1 225.8a3.1 3.1 0 1 1 6.2 0a3.1 3.1 0 1 1 -6.2 0ZM455.8 200.8a3.1 3.1 0 1 1 6.2 0a3.1 3.1 0 1 1 -6.2 0ZM446.1 182.8L447.4 186.3L451.1 186.4L448.2 188.7L449.2 192.2L446.1 190.2L443.1 192.2L444.0 188.7L441.2 186.4L444.8 186.3ZM394.5 232.5L395.8 235.9L399.5 236.1L396.6 238.4L397.6 241.9L394.5 239.9L391.5 241.9L392.5 238.4L389.6 236.1L393.2 235.9ZM427.6 227.0L428.9 230.5L432.5 230.6L429.7 232.9L430.7 236.4L427.6 234.4L424.5 236.4L425.5 232.9L422.7 230.6L426.3 230.5ZM485.8 181.0a3.1 3.1 0 1 1 6.2 0a3.1 3.1 0 1 1 -6.2 0ZM491.0 205.0L495.2 209.2L491.0 213.4L486.8 209.2ZM439.0 223.3a3.1 3.1 0 1 1 6.2 0a3.1 3.1 0 1 1 -6.2 0ZM421.5 201.5a3.1 3.1 0 1 1 6.2 0a3.1 3.1 0 1 1 -6.2 0ZM323.8 278.1L325.1 281.6L328.7 281.7L325.9 284.0L326.9 287.5L323.8 285.5L320.7 287.5L321.7 284.0L318.9 281.7L322.5 281.6ZM387.1 225.6a3.1 3.1 0 1 1 6.2 0a3.1 3.1 0 1 1 -6.2 0ZM415.9 234.0a3.1 3.1 0 1 1 6.2 0a3.1 3.1 0 1 1 -6.2 0ZM397.2 213.2L401.4 217.4L397.2 221.6L393.0 217.4ZM340.4 253.8L341.7 257.3L345.4 257.4L342.5 259.7L343.5 263.2L340.4 261.2L337.4 263.2L338.3 259.7L335.5 257.4L339.1 257.3ZM375.4 244.9L376.7 248.4L380.4 248.5L377.5 250.8L378.5 254.3L375.4 252.3L372.3 254.3L373.3 250.8L370.5 248.5L374.1 248.4ZM377.2 228.2L378.5 231.6L382.2 231.7L379.3 234.0L380.3 237.6L377.2 235.5L374.2 237.6L375.2 234.0L372.3 231.7L375.9 231.6ZM376.0 240.4L377.3 243.9L380.9 244.0L378.0 246.3L379.0 249.9L376.0 247.8L372.9 249.9L373.9 246.3L371.0 244.0L374.7 243.9ZM367.0 230.3h2.2v3.5h3.5v2.2h-3.5v3.5h-2.2v-3.5h-3.5v-2.2h3.5ZM362.3 223.2L366.5 227.4L362.3 231.6L358.1 227.4ZM500.2 190.5L504.4 194.7L500.2 198.9L496.0 194.7ZM432.9 214.2L434.2 217.6L437.8 217.8L435.0 220.1L436.0 223.6L432.9 221.6L429.8 223.6L430.8 220.1L428.0 217.8L431.6 217.6ZM444.5 198.6L448.7 202.8L444.5 207.0L440.3 202.8ZM432.8 225.0a3.1 3.1 0 1 1 6.2 0a3.1 3.1 0 1 1 -6.2 0ZM374.3 225.3L378.5 229.5L374.3 233.7L370.1 229.5ZM393.2 238.5L394.5 242.0L398.1 242.1L395.3 244.4L396.2 248.0L393.2 245.9L390.1 248.0L391.1 244.4L388.2 242.1L391.9 242.0ZM506.5 168.0h2.2v3.5h3.5v2.2h-3.5v3.5h-2.2v-3.5h-3.5v-2.2h3.5ZM435.7 199.3L439.9 203.5L435.7 207.7L431.5 203.5ZM409.0 233.1L413.2 237.3L409.0 241.5L404.8 237.3ZM468.8 201.7a3.1 3.1 0 1 1 6.2 0a3.1 3.1 0 1 1 -6.2 0ZM408.9 235.7L413.1 239.9L408.9 244.1L404.7 239.9ZM470.3 193.6L474.5 197.8L470.3 202.0L466.1 197.8ZM482.5 170.4L483.8 173.8L487.4 173.9L484.6 176.2L485.5 179.8L482.5 177.7L479.4 179.8L480.4 176.2L477.5 173.9L481.2 173.8ZM446.8 207.8a3.1 3.1 0 1 1 6.2 0a3.1 3.1 0 1 1 -6.2 0ZM367.1 213.2L368.4 216.7L372.0 216.8L369.2 219.1L370.1 222.6L367.1 220.6L364.0 222.6L365.0 219.1L362.1 216.8L365.8 216.7ZM527.1 178.8L528.4 182.3L532.1 182.4L529.2 184.7L530.2 188.2L527.1 186.2L524.1 188.2L525.0 184.7L522.2 182.4L525.8 182.3ZM483.1 193.1L487.3 197.3L483.1 201.5L478.9 197.3ZM412.9 219.8h2.2v3.5h3.5v2.2h-3.5v3.5h-2.2v-3.5h-3.5v-2.2h3.5ZM406.1 256.2a3.1 3.1 0 1 1 6.2 0a3.1 3.1 0 1 1 -6.2 0ZM445.6 187.6L449.8 191.8L445.6 196.0L441.4 191.8ZM480.9 179.7L485.1 183.9L480.9 188.1L476.7 183.9ZM455.1 190.7a3.1 3.1 0 1 1 6.2 0a3.1 3.1 0 1 1 -6.2 0ZM438.5 212.2L442.7 216.4L438.5 220.6L434.3 216.4ZM409.2 217.2h2.2v3.5h3.5v2.2h-3.5v3.5h-2.2v-3.5h-3.5v-2.2h3.5ZM464.3 205.5L468.5 209.7L464.3 213.9L460.1 209.7ZM425.4 196.2L426.7 199.7L430.3 199.8L427.5 202.1L428.4 205.6L425.4 203.6L422.3 205.6L423.3 202.1L420.4 199.8L424.1 199.7ZM493.2 192.4L494.5 195.9L498.1 196.0L495.3 198.3L496.2 201.8L493.2 199.8L490.1 201.8L491.1 198.3L488.2 196.0L491.9 195.9ZM441.1 198.8L445.3 203.0L441.1 207.2L436.9 203.0ZM398.6 210.2L399.9 213.6L403.5 213.8L400.7 216.1L401.6 219.6L398.6 217.6L395.5 219.6L396.5 216.1L393.6 213.8L397.3 213.6ZM454.9 215.1L456.2 218.5L459.8 218.7L457.0 221.0L457.9 224.5L454.9 222.5L451.8 224.5L452.8 221.0L449.9 218.7L453.6 218.5ZM435.1 200.1h2.2v3.5h3.5v2.2h-3.5v3.5h-2.2v-3.5h-3.5v-2.2h3.5ZM469.6 197.8a3.1 3.1 0 1 1 6.2 0a3.1 3.1 0 1 1 -6.2 0ZM447.5 222.8L448.8 226.2L452.5 226.4L449.6 228.7L450.6 232.2L447.5 230.2L444.5 232.2L445.4 228.7L442.6 226.4L446.2 226.2ZM316.9 295.7h2.2v3.5h3.5v2.2h-3.5v3.5h-2.2v-3.5h-3.5v-2.2h3.5ZM395.7 215.2L397.0 218.7L400.7 218.8L397.8 221.1L398.8 224.7L395.7 222.6L392.7 224.7L393.6 221.1L390.8 218.8L394.4 218.7ZM528.5 182.2L532.7 186.4L528.5 190.6L524.3 186.4ZM335.8 255.9L337.0 259.3L340.7 259.5L337.8 261.8L338.8 265.3L335.8 263.3L332.7 265.3L333.7 261.8L330.8 259.5L334.5 259.3ZM438.7 211.7L442.9 215.9L438.7 220.1L434.5 215.9ZM447.7 198.5a3.1 3.1 0 1 1 6.2 0a3.1 3.1 0 1 1 -6.2 0ZM403.2 224.4a3.1 3.1 0 1 1 6.2 0a3.1 3.1 0 1 1 -6.2 0ZM338.3 258.0a3.1 3.1 0 1 1 6.2 0a3.1 3.1 0 1 1 -6.2 0ZM504.1 146.0L508.3 150.2L504.1 154.4L499.9 150.2ZM494.6 146.0L498.8 150.2L494.6 154.4L490.4 150.2ZM454.6 205.6h2.2v3.5h3.5v2.2h-3.5v3.5h-2.2v-3.5h-3.5v-2.2h3.5ZM443.6 204.6h2.2v3.5h3.5v2.2h-3.5v3.5h-2.2v-3.5h-3.5v-2.2h3.5ZM434.7 198.7L436.0 202.2L439.7 202.3L436.8 204.6L437.8 208.1L434.7 206.1L431.7 208.1L432.6 204.6L429.8 202.3L433.4 202.2ZM522.0 163.8L526.2 168.0L522.0 172.2L517.8 168.0ZM512.6 160.9a3.1 3.1 0 1 1 6.2 0a3.1 3.1 0 1 1 -6.2 0ZM436.5 214.6a3.1 3.1 0 1 1 6.2 0a3.1 3.1 0 1 1 -6.2 0ZM464.1 197.6L468.3 201.8L464.1 206.0L459.9 201.8ZM430.7 209.5h2.2v3.5h3.5v2.2h-3.5v3.5h-2.2v-3.5h-3.5v-2.2h3.5ZM476.1 192.7L477.4 196.2L481.1 196.3L478.2 198.6L479.2 202.2L476.1 200.1L473.1 202.2L474.1 198.6L471.2 196.3L474.8 196.2ZM467.5 175.1a3.1 3.1 0 1 1 6.2 0a3.1 3.1 0 1 1 -6.2 0ZM478.4 193.7L479.7 197.1L483.4 197.3L480.5 199.5L481.5 203.1L478.4 201.1L475.4 203.1L476.3 199.5L473.5 197.3L477.1 197.1ZM517.2 172.0a3.1 3.1 0 1 1 6.2 0a3.1 3.1 0 1 1 -6.2 0ZM409.0 216.0h2.2v3.5h3.5v2.2h-3.5v3.5h-2.2v-3.5h-3.5v-2.2h3.5ZM503.9 165.3h2.2v3.5h3.5v2.2h-3.5v3.5h-2.2v-3.5h-3.5v-2.2h3.5ZM492.6 175.5L496.8 179.7L492.6 183.9L488.4 179.7ZM475.3 189.7L479.5 193.9L475.3 198.1L471.1 193.9ZM379.5 242.2h2.2v3.5h3.5v2.2h-3.5v3.5h-2.2v-3.5h-3.5v-2.2h3.5ZM410.2 208.1L414.4 212.3L410.2 216.5L406.0 212.3ZM379.5 254.2L380.8 257.7L384.4 257.8L381.6 260.1L382.5 263.6L379.5 261.6L376.4 263.6L377.4 260.1L374.5 257.8L378.2 257.7ZM459.0 211.7a3.1 3.1 0 1 1 6.2 0a3.1 3.1 0 1 1 -6.2 0ZM352.2 237.9L356.4 242.1L352.2 246.3L348.0 242.1ZM402.0 225.0L406.2 229.2L402.0 233.4L397.8 229.2ZM327.9 248.1a3.1 3.1 0 1 1 6.2 0a3.1 3.1 0 1 1 -6.2 0ZM402.6 237.7L403.9 241.1L407.6 241.3L404.7 243.5L405.7 247.1L402.6 245.1L399.6 247.1L400.6 243.5L397.7 241.3L401.3 241.1ZM426.4 214.6L430.6 218.8L426.4 223.0L422.2 218.8ZM460.6 217.1L464.8 221.3L460.6 225.5L456.4 221.3ZM466.7 193.1L470.9 197.3L466.7 201.5L462.5 197.3ZM424.3 234.4L428.5 238.6L424.3 242.8L420.1 238.6ZM446.6 211.0L450.8 215.2L446.6 219.4L442.4 215.2ZM364.8 233.0L366.1 236.4L369.8 236.6L366.9 238.9L367.9 242.4L364.8 240.4L361.8 242.4L362.7 238.9L359.9 236.6L363.5 236.4ZM388.2 237.2a3.1 3.1 0 1 1 6.2 0a3.1 3.1 0 1 1 -6.2 0ZM426.5 243.9a3.1 3.1 0 1 1 6.2 0a3.1 3.1 0 1 1 -6.2 0ZM430.1 209.4h2.2v3.5h3.5v2.2h-3.5v3.5h-2.2v-3.5h-3.5v-2.2h3.5ZM345.2 248.2a3.1 3.1 0 1 1 6.2 0a3.1 3.1 0 1 1 -6.2 0ZM438.4 210.5L439.7 214.0L443.3 214.1L440.5 216.4L441.4 219.9L438.4 217.9L435.3 219.9L436.3 216.4L433.4 214.1L437.1 214.0ZM495.9 189.9a3.1 3.1 0 1 1 6.2 0a3.1 3.1 0 1 1 -6.2 0ZM362.2 260.2L366.4 264.4L362.2 268.6L358.0 264.4ZM469.6 205.4a3.1 3.1 0 1 1 6.2 0a3.1 3.1 0 1 1 -6.2 0ZM420.3 211.5L424.5 215.7L420.3 219.9L416.1 215.7ZM389.2 247.5L390.4 251.0L394.1 251.1L391.2 253.4L392.2 256.9L389.2 254.9L386.1 256.9L387.1 253.4L384.2 251.1L387.9 251.0ZM429.6 202.0h2.2v3.5h3.5v2.2h-3.5v3.5h-2.2v-3.5h-3.5v-2.2h3.5ZM470.0 167.1L474.2 171.3L470.0 175.5L465.8 171.3ZM357.9 233.0a3.1 3.1 0 1 1 6.2 0a3.1 3.1 0 1 1 -6.2 0ZM456.2 187.5a3.1 3.1 0 1 1 6.2 0a3.1 3.1 0 1 1 -6.2 0ZM501.8 185.3L506.0 189.5L501.8 193.7L497.6 189.5ZM419.0 221.3L420.3 224.7L423.9 224.9L421.1 227.2L422.0 230.7L419.0 228.7L415.9 230.7L416.9 227.2L414.0 224.9L417.7 224.7ZM504.8 198.4L509.0 202.6L504.8 206.8L500.6 202.6ZM363.2 225.0L367.4 229.2L363.2 233.4L359.0 229.2ZM422.2 215.5L426.4 219.7L422.2 223.9L418.0 219.7ZM515.9 153.3a3.1 3.1 0 1 1 6.2 0a3.1 3.1 0 1 1 -6.2 0ZM474.8 188.5h2.2v3.5h3.5v2.2h-3.5v3.5h-2.2v-3.5h-3.5v-2.2h3.5ZM414.9 219.5h2.2v3.5h3.5v2.2h-3.5v3.5h-2.2v-3.5h-3.5v-2.2h3.5ZM320.2 274.1L324.4 278.3L320.2 282.5L316.0 278.3ZM479.8 193.1L481.1 196.5L484.7 196.7L481.9 199.0L482.8 202.5L479.8 200.5L476.7 202.5L477.7 199.0L474.8 196.7L478.5 196.5ZM497.3 198.0L501.5 202.2L497.3 206.4L493.1 202.2ZM376.2 236.7L377.5 240.2L381.2 240.3L378.3 242.6L379.3 246.1L376.2 244.1L373.2 246.1L374.2 242.6L371.3 240.3L375.0 240.2ZM330.1 288.6L331.4 292.0L335.1 292.2L332.2 294.5L333.2 298.0L330.1 296.0L327.1 298.0L328.1 294.5L325.2 292.2L328.9 292.0ZM475.4 192.8h2.2v3.5h3.5v2.2h-3.5v3.5h-2.2v-3.5h-3.5v-2.2h3.5ZM453.8 192.0L458.0 196.2L453.8 200.4L449.6 196.2ZM442.6 206.6a3.1 3.1 0 1 1 6.2 0a3.1 3.1 0 1 1 -6.2 0ZM473.3 171.4L474.6 174.8L478.2 175.0L475.4 177.3L476.3 180.8L473.3 178.8L470.2 180.8L471.2 177.3L468.3 175.0L472.0 174.8ZM432.4 230.2L433.7 233.7L437.4 233.8L434.5 236.1L435.5 239.6L432.4 237.6L429.4 239.6L430.3 236.1L427.5 233.8L431.1 233.7ZM478.3 203.6L482.5 207.8L478.3 212.0L474.1 207.8ZM415.9 231.5a3.1 3.1 0 1 1 6.2 0a3.1 3.1 0 1 1 -6.2 0ZM428.7 213.9L430.0 217.3L433.6 217.5L430.8 219.8L431.8 223.3L428.7 221.3L425.6 223.3L426.6 219.8L423.8 217.5L427.4 217.3ZM511.5 177.4a3.1 3.1 0 1 1 6.2 0a3.1 3.1 0 1 1 -6.2 0ZM467.6 195.8a3.1 3.1 0 1 1 6.2 0a3.1 3.1 0 1 1 -6.2 0ZM447.1 214.4L451.3 218.6L447.1 222.8L442.9 218.6ZM509.6 188.2h2.2v3.5h3.5v2.2h-3.5v3.5h-2.2v-3.5h-3.5v-2.2h3.5ZM431.5 207.4L432.8 210.8L436.4 211.0L433.6 213.3L434.5 216.8L431.5 214.8L428.4 216.8L429.4 213.3L426.5 211.0L430.2 210.8ZM399.3 226.5L400.6 230.0L404.2 230.1L401.4 232.4L402.3 235.9L399.3 233.9L396.2 235.9L397.2 232.4L394.3 230.1L398.0 230.0ZM452.6 181.8a3.1 3.1 0 1 1 6.2 0a3.1 3.1 0 1 1 -6.2 0ZM459.7 191.5a3.1 3.1 0 1 1 6.2 0a3.1 3.1 0 1 1 -6.2 0ZM398.7 224.2L402.9 228.4L398.7 232.6L394.5 228.4ZM479.4 184.6L483.6 188.8L479.4 193.0L475.2 188.8ZM444.2 203.7L445.5 207.1L449.1 207.3L446.3 209.6L447.2 213.1L444.2 211.1L441.1 213.1L442.1 209.6L439.2 207.3L442.9 207.1ZM417.9 228.9L419.2 232.4L422.9 232.5L420.0 234.8L421.0 238.3L417.9 236.3L414.9 238.3L415.9 234.8L413.0 232.5L416.6 232.4ZM391.9 214.2L396.1 218.4L391.9 222.6L387.7 218.4ZM436.1 225.8a3.1 3.1 0 1 1 6.2 0a3.1 3.1 0 1 1 -6.2 0ZM450.5 210.5L451.7 214.0L455.4 214.1L452.5 216.4L453.5 219.9L450.5 217.9L447.4 219.9L448.4 216.4L445.5 214.1L449.2 214.0ZM456.6 199.4L460.8 203.6L456.6 207.8L452.4 203.6ZM412.5 216.7h2.2v3.5h3.5v2.2h-3.5v3.5h-2.2v-3.5h-3.5v-2.2h3.5ZM422.3 249.3L426.5 253.5L422.3 257.7L418.1 253.5ZM458.9 195.4a3.1 3.1 0 1 1 6.2 0a3.1 3.1 0 1 1 -6.2 0ZM446.2 186.8a3.1 3.1 0 1 1 6.2 0a3.1 3.1 0 1 1 -6.2 0ZM373.9 244.0a3.1 3.1 0 1 1 6.2 0a3.1 3.1 0 1 1 -6.2 0ZM463.1 202.2L467.3 206.4L463.1 210.6L458.9 206.4ZM401.3 246.0L402.6 249.4L406.3 249.6L403.4 251.8L404.4 255.4L401.3 253.3L398.3 255.4L399.3 251.8L396.4 249.6L400.0 249.4ZM456.7 192.1L458.0 195.5L461.7 195.7L458.8 198.0L459.8 201.5L456.7 199.5L453.7 201.5L454.7 198.0L451.8 195.7L455.5 195.5ZM400.4 229.9L404.6 234.1L400.4 238.3L396.2 234.1ZM393.4 207.2L394.7 210.6L398.3 210.8L395.5 213.0L396.4 216.6L393.4 214.6L390.3 216.6L391.3 213.0L388.4 210.8L392.1 210.6ZM483.8 179.9L485.0 183.4L488.7 183.5L485.8 185.8L486.8 189.3L483.8 187.3L480.7 189.3L481.7 185.8L478.8 183.5L482.5 183.4ZM481.7 205.4L483.0 208.8L486.7 209.0L483.8 211.3L484.8 214.8L481.7 212.8L478.7 214.8L479.6 211.3L476.8 209.0L480.4 208.8ZM398.8 229.1L403.0 233.3L398.8 237.5L394.6 233.3ZM423.6 214.8L424.9 218.2L428.6 218.4L425.7 220.7L426.7 224.2L423.6 222.2L420.6 224.2L421.5 220.7L418.7 218.4L422.3 218.2ZM428.0 235.3L432.2 239.5L428.0 243.7L423.8 239.5ZM520.6 216.4a3.1 3.1 0 1 1 6.2 0a3.1 3.1 0 1 1 -6.2 0ZM458.0 187.4a3.1 3.1 0 1 1 6.2 0a3.1 3.1 0 1 1 -6.2 0ZM473.0 169.5L477.2 173.7L473.0 177.9L468.8 173.7ZM510.4 195.2a3.1 3.1 0 1 1 6.2 0a3.1 3.1 0 1 1 -6.2 0ZM458.1 223.9L462.3 228.1L458.1 232.3L453.9 228.1ZM392.4 210.5a3.1 3.1 0 1 1 6.2 0a3.1 3.1 0 1 1 -6.2 0ZM408.9 241.7L413.1 245.9L408.9 250.1L404.7 245.9ZM378.7 228.4a3.1 3.1 0 1 1 6.2 0a3.1 3.1 0 1 1 -6.2 0ZM344.0 279.2a3.1 3.1 0 1 1 6.2 0a3.1 3.1 0 1 1 -6.2 0ZM461.3 189.3a3.1 3.1 0 1 1 6.2 0a3.1 3.1 0 1 1 -6.2 0ZM386.9 249.1L388.2 252.5L391.9 252.7L389.0 255.0L390.0 258.5L386.9 256.5L383.9 258.5L384.8 255.0L382.0 252.7L385.6 252.5ZM367.1 255.5h2.2v3.5h3.5v2.2h-3.5v3.5h-2.2v-3.5h-3.5v-2.2h3.5ZM394.9 224.6h2.2v3.5h3.5v2.2h-3.5v3.5h-2.2v-3.5h-3.5v-2.2h3.5ZM447.1 204.5a3.1 3.1 0 1 1 6.2 0a3.1 3.1 0 1 1 -6.2 0ZM391.1 217.2L395.3 221.4L391.1 225.6L386.9 221.4ZM413.3 205.6L417.5 209.8L413.3 214.0L409.1 209.8ZM305.5 293.9a3.1 3.1 0 1 1 6.2 0a3.1 3.1 0 1 1 -6.2 0ZM377.7 241.9L379.0 245.3L382.7 245.5L379.8 247.7L380.8 251.3L377.7 249.2L374.7 251.3L375.7 247.7L372.8 245.5L376.5 245.3ZM418.0 258.7a3.1 3.1 0 1 1 6.2 0a3.1 3.1 0 1 1 -6.2 0ZM334.9 273.8a3.1 3.1 0 1 1 6.2 0a3.1 3.1 0 1 1 -6.2 0ZM421.7 232.9L423.0 236.3L426.6 236.5L423.7 238.8L424.7 242.3L421.7 240.3L418.6 242.3L419.6 238.8L416.7 236.5L420.4 236.3ZM422.0 224.3h2.2v3.5h3.5v2.2h-3.5v3.5h-2.2v-3.5h-3.5v-2.2h3.5ZM412.5 211.6L416.7 215.8L412.5 220.0L408.3 215.8ZM441.7 215.5L443.0 218.9L446.7 219.1L443.8 221.3L444.8 224.9L441.7 222.8L438.7 224.9L439.7 221.3L436.8 219.1L440.4 218.9ZM397.6 234.9L401.8 239.1L397.6 243.3L393.4 239.1ZM436.7 204.6L438.0 208.1L441.7 208.2L438.8 210.5L439.8 214.1L436.7 212.0L433.7 214.1L434.6 210.5L431.8 208.2L435.4 208.1ZM318.9 280.2a3.1 3.1 0 1 1 6.2 0a3.1 3.1 0 1 1 -6.2 0ZM444.0 205.9L448.2 210.1L444.0 214.3L439.8 210.1ZM439.8 194.2L444.0 198.4L439.8 202.6L435.6 198.4ZM434.5 222.7a3.1 3.1 0 1 1 6.2 0a3.1 3.1 0 1 1 -6.2 0ZM379.8 222.5L384.0 226.7L379.8 230.9L375.6 226.7ZM411.4 211.6a3.1 3.1 0 1 1 6.2 0a3.1 3.1 0 1 1 -6.2 0ZM517.8 195.5L522.0 199.7L517.8 203.9L513.6 199.7ZM450.1 203.5a3.1 3.1 0 1 1 6.2 0a3.1 3.1 0 1 1 -6.2 0ZM383.8 280.2a3.1 3.1 0 1 1 6.2 0a3.1 3.1 0 1 1 -6.2 0ZM466.0 215.4L467.3 218.8L471.0 219.0L468.1 221.3L469.1 224.8L466.0 222.8L463.0 224.8L463.9 221.3L461.1 219.0L464.7 218.8ZM387.4 224.8L388.6 228.2L392.3 228.4L389.4 230.6L390.4 234.2L387.4 232.2L384.3 234.2L385.3 230.6L382.4 228.4L386.1 228.2ZM474.6 186.3a3.1 3.1 0 1 1 6.2 0a3.1 3.1 0 1 1 -6.2 0ZM464.6 191.2a3.1 3.1 0 1 1 6.2 0a3.1 3.1 0 1 1 -6.2 0ZM481.9 210.8L483.2 214.3L486.8 214.4L484.0 216.7L485.0 220.2L481.9 218.2L478.8 220.2L479.8 216.7L477.0 214.4L480.6 214.3ZM378.3 245.4L382.5 249.6L378.3 253.8L374.1 249.6ZM532.3 173.2L533.6 176.7L537.3 176.8L534.4 179.1L535.4 182.7L532.3 180.6L529.2 182.7L530.2 179.1L527.4 176.8L531.0 176.7ZM507.6 162.6a3.1 3.1 0 1 1 6.2 0a3.1 3.1 0 1 1 -6.2 0ZM414.2 194.8a3.1 3.1 0 1 1 6.2 0a3.1 3.1 0 1 1 -6.2 0ZM342.2 254.2L343.5 257.7L347.1 257.8L344.3 260.1L345.2 263.6L342.2 261.6L339.1 263.6L340.1 260.1L337.2 257.8L340.9 257.7ZM464.6 207.8L468.8 212.0L464.6 216.2L460.4 212.0ZM414.4 235.7L415.7 239.1L419.4 239.3L416.5 241.6L417.5 245.1L414.4 243.1L411.4 245.1L412.4 241.6L409.5 239.3L413.2 239.1ZM363.0 235.4h2.2v3.5h3.5v2.2h-3.5v3.5h-2.2v-3.5h-3.5v-2.2h3.5ZM517.0 168.0L521.2 172.2L517.0 176.4L512.8 172.2ZM417.3 198.6L421.5 202.8L417.3 207.0L413.1 202.8ZM383.2 241.4h2.2v3.5h3.5v2.2h-3.5v3.5h-2.2v-3.5h-3.5v-2.2h3.5ZM524.6 183.5L525.9 186.9L529.5 187.1L526.7 189.3L527.7 192.9L524.6 190.9L521.5 192.9L522.5 189.3L519.7 187.1L523.3 186.9ZM447.5 196.2a3.1 3.1 0 1 1 6.2 0a3.1 3.1 0 1 1 -6.2 0ZM516.6 166.6L517.9 170.1L521.6 170.2L518.7 172.5L519.7 176.0L516.6 174.0L513.6 176.0L514.5 172.5L511.7 170.2L515.3 170.1ZM478.2 180.7h2.2v3.5h3.5v2.2h-3.5v3.5h-2.2v-3.5h-3.5v-2.2h3.5ZM428.3 191.6L432.5 195.8L428.3 200.0L424.1 195.8ZM372.7 250.3L376.9 254.5L372.7 258.7L368.5 254.5ZM389.1 211.6h2.2v3.5h3.5v2.2h-3.5v3.5h-2.2v-3.5h-3.5v-2.2h3.5ZM372.4 244.1h2.2v3.5h3.5v2.2h-3.5v3.5h-2.2v-3.5h-3.5v-2.2h3.5ZM500.1 160.5h2.2v3.5h3.5v2.2h-3.5v3.5h-2.2v-3.5h-3.5v-2.2h3.5ZM389.1 232.7h2.2v3.5h3.5v2.2h-3.5v3.5h-2.2v-3.5h-3.5v-2.2h3.5ZM479.2 177.1h2.2v3.5h3.5v2.2h-3.5v3.5h-2.2v-3.5h-3.5v-2.2h3.5ZM459.1 195.1a3.1 3.1 0 1 1 6.2 0a3.1 3.1 0 1 1 -6.2 0ZM413.5 191.5L417.7 195.7L413.5 199.9L409.3 195.7ZM451.4 173.5L455.6 177.7L451.4 181.9L447.2 177.7ZM449.9 219.9L454.1 224.1L449.9 228.3L445.7 224.1ZM368.8 209.2h2.2v3.5h3.5v2.2h-3.5v3.5h-2.2v-3.5h-3.5v-2.2h3.5ZM472.8 209.3a3.1 3.1 0 1 1 6.2 0a3.1 3.1 0 1 1 -6.2 0ZM492.1 213.7L493.3 217.2L497.0 217.3L494.1 219.6L495.1 223.1L492.1 221.1L489.0 223.1L490.0 219.6L487.1 217.3L490.8 217.2ZM357.8 247.4L359.1 250.8L362.7 251.0L359.9 253.3L360.8 256.8L357.8 254.8L354.7 256.8L355.7 253.3L352.8 251.0L356.5 250.8ZM509.0 171.1L513.2 175.3L509.0 179.5L504.8 175.3ZM526.8 152.8L528.1 156.2L531.8 156.4L528.9 158.7L529.9 162.2L526.8 160.2L523.8 162.2L524.7 158.7L521.9 156.4L525.5 156.2ZM444.4 214.0L448.6 218.2L444.4 222.4L440.2 218.2ZM462.5 189.4L466.7 193.6L462.5 197.8L458.3 193.6ZM309.8 270.5a3.1 3.1 0 1 1 6.2 0a3.1 3.1 0 1 1 -6.2 0ZM512.7 162.4L514.0 165.8L517.6 166.0L514.8 168.2L515.7 171.8L512.7 169.8L509.6 171.8L510.6 168.2L507.7 166.0L511.4 165.8ZM467.1 198.6L471.3 202.8L467.1 207.0L462.9 202.8ZM414.1 231.2L415.4 234.6L419.0 234.7L416.2 237.0L417.1 240.6L414.1 238.5L411.0 240.6L412.0 237.0L409.1 234.7L412.8 234.6ZM336.0 278.7a3.1 3.1 0 1 1 6.2 0a3.1 3.1 0 1 1 -6.2 0ZM454.6 198.0L455.9 201.4L459.6 201.6L456.7 203.9L457.7 207.4L454.6 205.4L451.6 207.4L452.6 203.9L449.7 201.6L453.4 201.4ZM346.9 262.0L348.2 265.5L351.8 265.6L348.9 267.9L349.9 271.4L346.9 269.4L343.8 271.4L344.8 267.9L341.9 265.6L345.6 265.5ZM420.0 230.6L424.2 234.8L420.0 239.0L415.8 234.8ZM415.7 236.6L417.0 240.0L420.7 240.2L417.8 242.5L418.8 246.0L415.7 244.0L412.7 246.0L413.7 242.5L410.8 240.2L414.5 240.0ZM399.9 204.0L404.1 208.2L399.9 212.4L395.7 208.2ZM459.5 193.8L460.8 197.2L464.5 197.4L461.6 199.6L462.6 203.2L459.5 201.1L456.5 203.2L457.5 199.6L454.6 197.4L458.3 197.2ZM378.4 210.6L382.6 214.8L378.4 219.0L374.2 214.8ZM456.5 180.4L457.8 183.8L461.5 184.0L458.6 186.3L459.6 189.8L456.5 187.8L453.5 189.8L454.4 186.3L451.6 184.0L455.2 183.8ZM506.2 190.3L510.4 194.5L506.2 198.7L502.0 194.5ZM419.1 222.3L420.3 225.8L424.0 225.9L421.1 228.2L422.1 231.7L419.1 229.7L416.0 231.7L417.0 228.2L414.1 225.9L417.8 225.8ZM392.9 256.8L397.1 261.0L392.9 265.2L388.7 261.0ZM440.7 192.1L442.0 195.6L445.6 195.7L442.8 198.0L443.7 201.5L440.7 199.5L437.6 201.5L438.6 198.0L435.7 195.7L439.4 195.6ZM436.7 173.9L438.0 177.4L441.6 177.5L438.8 179.8L439.8 183.4L436.7 181.3L433.6 183.4L434.6 179.8L431.8 177.5L435.4 177.4ZM389.8 230.4L394.0 234.6L389.8 238.8L385.6 234.6ZM495.0 186.0L499.2 190.2L495.0 194.4L490.8 190.2ZM419.3 201.2a3.1 3.1 0 1 1 6.2 0a3.1 3.1 0 1 1 -6.2 0ZM412.6 219.2L413.9 222.7L417.6 222.8L414.7 225.1L415.7 228.7L412.6 226.6L409.6 228.7L410.6 225.1L407.7 222.8L411.4 222.7ZM456.1 202.9L460.3 207.1L456.1 211.3L451.9 207.1ZM450.3 230.5L451.6 233.9L455.3 234.1L452.4 236.4L453.4 239.9L450.3 237.9L447.2 239.9L448.2 236.4L445.4 234.1L449.0 233.9ZM324.2 254.5a3.1 3.1 0 1 1 6.2 0a3.1 3.1 0 1 1 -6.2 0ZM337.0 246.8a3.1 3.1 0 1 1 6.2 0a3.1 3.1 0 1 1 -6.2 0ZM421.9 212.5L423.2 215.9L426.8 216.1L424.0 218.4L424.9 221.9L421.9 219.9L418.8 221.9L419.8 218.4L416.9 216.1L420.6 215.9ZM431.1 214.2L432.4 217.7L436.0 217.8L433.2 220.1L434.1 223.7L431.1 221.6L428.0 223.7L429.0 220.1L426.1 217.8L429.8 217.7ZM476.0 212.6L480.2 216.8L476.0 221.0L471.8 216.8ZM357.9 255.8a3.1 3.1 0 1 1 6.2 0a3.1 3.1 0 1 1 -6.2 0ZM503.2 203.7h2.2v3.5h3.5v2.2h-3.5v3.5h-2.2v-3.5h-3.5v-2.2h3.5ZM508.9 184.0L510.2 187.5L513.8 187.6L511.0 189.9L511.9 193.5L508.9 191.4L505.8 193.5L506.8 189.9L503.9 187.6L507.6 187.5ZM455.0 211.6h2.2v3.5h3.5v2.2h-3.5v3.5h-2.2v-3.5h-3.5v-2.2h3.5ZM491.0 189.4a3.1 3.1 0 1 1 6.2 0a3.1 3.1 0 1 1 -6.2 0ZM430.9 216.9a3.1 3.1 0 1 1 6.2 0a3.1 3.1 0 1 1 -6.2 0ZM428.7 199.7L432.9 203.9L428.7 208.1L424.5 203.9ZM330.9 289.7L332.2 293.1L335.9 293.3L333.0 295.5L334.0 299.1L330.9 297.0L327.9 299.1L328.9 295.5L326.0 293.3L329.7 293.1ZM524.0 181.9L528.2 186.1L524.0 190.3L519.8 186.1ZM507.2 188.5L511.4 192.7L507.2 196.9L503.0 192.7ZM496.5 180.6L497.8 184.1L501.5 184.2L498.6 186.5L499.6 190.0L496.5 188.0L493.5 190.0L494.4 186.5L491.6 184.2L495.2 184.1ZM487.2 184.7L491.4 188.9L487.2 193.1L483.0 188.9ZM479.0 221.8L483.2 226.0L479.0 230.2L474.8 226.0ZM367.9 232.1a3.1 3.1 0 1 1 6.2 0a3.1 3.1 0 1 1 -6.2 0ZM477.0 167.7L481.2 171.9L477.0 176.1L472.8 171.9ZM397.5 234.1L398.8 237.5L402.4 237.7L399.5 240.0L400.5 243.5L397.5 241.5L394.4 243.5L395.4 240.0L392.5 237.7L396.2 237.5ZM422.4 188.3L426.6 192.5L422.4 196.7L418.2 192.5ZM360.8 243.9L362.1 247.4L365.8 247.5L362.9 249.8L363.9 253.3L360.8 251.3L357.8 253.3L358.8 249.8L355.9 247.5L359.6 247.4ZM391.6 250.5a3.1 3.1 0 1 1 6.2 0a3.1 3.1 0 1 1 -6.2 0ZM346.3 255.2L347.6 258.6L351.3 258.8L348.4 261.0L349.4 264.6L346.3 262.6L343.3 264.6L344.2 261.0L341.4 258.8L345.0 258.6ZM440.0 210.5L444.2 214.7L440.0 218.9L435.8 214.7ZM342.4 259.4L343.7 262.8L347.4 263.0L344.5 265.3L345.5 268.8L342.4 266.8L339.4 268.8L340.3 265.3L337.5 263.0L341.1 262.8ZM514.4 164.3L515.7 167.7L519.3 167.9L516.5 170.2L517.4 173.7L514.4 171.7L511.3 173.7L512.3 170.2L509.4 167.9L513.1 167.7ZM388.4 208.7h2.2v3.5h3.5v2.2h-3.5v3.5h-2.2v-3.5h-3.5v-2.2h3.5ZM411.9 228.3h2.2v3.5h3.5v2.2h-3.5v3.5h-2.2v-3.5h-3.5v-2.2h3.5ZM329.1 262.6a3.1 3.1 0 1 1 6.2 0a3.1 3.1 0 1 1 -6.2 0ZM489.5 201.4L490.8 204.8L494.5 205.0L491.6 207.3L492.6 210.8L489.5 208.8L486.5 210.8L487.5 207.3L484.6 205.0L488.3 204.8ZM526.1 181.7a3.1 3.1 0 1 1 6.2 0a3.1 3.1 0 1 1 -6.2 0ZM340.2 260.1L344.4 264.3L340.2 268.5L336.0 264.3ZM417.6 224.2L421.8 228.4L417.6 232.6L413.4 228.4ZM399.5 225.6L403.7 229.8L399.5 234.0L395.3 229.8ZM442.3 190.9L443.6 194.4L447.2 194.5L444.4 196.8L445.3 200.3L442.3 198.3L439.2 200.3L440.2 196.8L437.3 194.5L441.0 194.4ZM465.6 200.8L469.8 205.0L465.6 209.2L461.4 205.0ZM470.8 178.2L472.1 181.6L475.7 181.8L472.9 184.1L473.9 187.6L470.8 185.6L467.7 187.6L468.7 184.1L465.8 181.8L469.5 181.6ZM490.1 225.1h2.2v3.5h3.5v2.2h-3.5v3.5h-2.2v-3.5h-3.5v-2.2h3.5ZM485.0 230.3h2.2v3.5h3.5v2.2h-3.5v3.5h-2.2v-3.5h-3.5v-2.2h3.5ZM499.2 183.1L503.4 187.3L499.2 191.5L495.0 187.3ZM404.3 233.2L408.5 237.4L404.3 241.6L400.1 237.4ZM406.5 220.1a3.1 3.1 0 1 1 6.2 0a3.1 3.1 0 1 1 -6.2 0ZM474.1 181.2h2.2v3.5h3.5v2.2h-3.5v3.5h-2.2v-3.5h-3.5v-2.2h3.5ZM453.6 190.5L457.8 194.7L453.6 198.9L449.4 194.7ZM383.9 222.2a3.1 3.1 0 1 1 6.2 0a3.1 3.1 0 1 1 -6.2 0ZM420.8 228.6L425.0 232.8L420.8 237.0L416.6 232.8ZM425.3 210.4a3.1 3.1 0 1 1 6.2 0a3.1 3.1 0 1 1 -6.2 0ZM422.4 232.3L423.6 235.8L427.3 235.9L424.4 238.2L425.4 241.7L422.4 239.7L419.3 241.7L420.3 238.2L417.4 235.9L421.1 235.8ZM475.4 203.1a3.1 3.1 0 1 1 6.2 0a3.1 3.1 0 1 1 -6.2 0ZM406.0 224.5a3.1 3.1 0 1 1 6.2 0a3.1 3.1 0 1 1 -6.2 0ZM476.0 201.0L480.2 205.2L476.0 209.4L471.8 205.2ZM352.5 262.4a3.1 3.1 0 1 1 6.2 0a3.1 3.1 0 1 1 -6.2 0ZM371.3 249.7L372.5 253.1L376.2 253.3L373.3 255.6L374.3 259.1L371.3 257.1L368.2 259.1L369.2 255.6L366.3 253.3L370.0 253.1ZM399.9 232.1a3.1 3.1 0 1 1 6.2 0a3.1 3.1 0 1 1 -6.2 0ZM397.6 239.9a3.1 3.1 0 1 1 6.2 0a3.1 3.1 0 1 1 -6.2 0ZM425.6 209.5L429.8 213.7L425.6 217.9L421.4 213.7ZM412.5 253.1L413.8 256.5L417.5 256.7L414.6 259.0L415.6 262.5L412.5 260.5L409.5 262.5L410.5 259.0L407.6 256.7L411.3 256.5ZM383.6 222.1L384.9 225.6L388.6 225.7L385.7 228.0L386.7 231.6L383.6 229.5L380.6 231.6L381.6 228.0L378.7 225.7L382.3 225.6ZM462.4 201.7L463.7 205.1L467.3 205.3L464.5 207.5L465.4 211.1L462.4 209.1L459.3 211.1L460.3 207.5L457.4 205.3L461.1 205.1ZM495.4 166.0L499.6 170.2L495.4 174.4L491.2 170.2ZM467.8 208.1a3.1 3.1 0 1 1 6.2 0a3.1 3.1 0 1 1 -6.2 0ZM435.3 213.9L436.6 217.3L440.3 217.5L437.4 219.8L438.4 223.3L435.3 221.3L432.3 223.3L433.2 219.8L430.4 217.5L434.0 217.3ZM375.9 235.9L380.1 240.1L375.9 244.3L371.7 240.1ZM442.4 198.0L443.7 201.5L447.4 201.6L444.5 203.9L445.5 207.4L442.4 205.4L439.4 207.4L440.4 203.9L437.5 201.6L441.2 201.5ZM424.6 201.9L428.8 206.1L424.6 210.3L420.4 206.1ZM433.5 219.1L437.7 223.3L433.5 227.5L429.3 223.3ZM454.3 187.4h2.2v3.5h3.5v2.2h-3.5v3.5h-2.2v-3.5h-3.5v-2.2h3.5ZM387.7 209.5L391.9 213.7L387.7 217.9L383.5 213.7ZM383.1 256.1L384.3 259.5L388.0 259.6L385.1 261.9L386.1 265.5L383.1 263.4L380.0 265.5L381.0 261.9L378.1 259.6L381.8 259.5ZM427.9 209.7L429.2 213.2L432.8 213.3L430.0 215.6L430.9 219.2L427.9 217.1L424.8 219.2L425.8 215.6L422.9 213.3L426.6 213.2ZM439.1 212.6L443.3 216.8L439.1 221.0L434.9 216.8ZM459.6 192.1L460.8 195.6L464.5 195.7L461.6 198.0L462.6 201.5L459.6 199.5L456.5 201.5L457.5 198.0L454.6 195.7L458.3 195.6ZM411.1 223.1L412.4 226.6L416.0 226.7L413.2 229.0L414.1 232.5L411.1 230.5L408.0 232.5L409.0 229.0L406.1 226.7L409.8 226.6ZM406.4 203.9L407.7 207.3L411.3 207.5L408.5 209.7L409.5 213.3L406.4 211.3L403.3 213.3L404.3 209.7L401.5 207.5L405.1 207.3ZM415.7 220.5L419.9 224.7L415.7 228.9L411.5 224.7ZM405.0 221.5L409.2 225.7L405.0 229.9L400.8 225.7ZM452.3 168.4L456.5 172.6L452.3 176.8L448.1 172.6ZM441.3 191.9h2.2v3.5h3.5v2.2h-3.5v3.5h-2.2v-3.5h-3.5v-2.2h3.5ZM502.3 193.3a3.1 3.1 0 1 1 6.2 0a3.1 3.1 0 1 1 -6.2 0ZM463.3 209.7L467.5 213.9L463.3 218.1L459.1 213.9ZM375.8 237.9L380.0 242.1L375.8 246.3L371.6 242.1ZM467.4 200.4a3.1 3.1 0 1 1 6.2 0a3.1 3.1 0 1 1 -6.2 0ZM371.9 226.0L373.2 229.5L376.8 229.6L373.9 231.9L374.9 235.4L371.9 233.4L368.8 235.4L369.8 231.9L366.9 229.6L370.6 229.5ZM413.6 215.9L414.9 219.3L418.5 219.5L415.6 221.7L416.6 225.3L413.6 223.2L410.5 225.3L411.5 221.7L408.6 219.5L412.3 219.3ZM464.1 223.3L468.3 227.5L464.1 231.7L459.9 227.5ZM388.6 205.8L389.9 209.2L393.6 209.4L390.7 211.7L391.7 215.2L388.6 213.2L385.6 215.2L386.5 211.7L383.7 209.4L387.3 209.2ZM409.7 237.5a3.1 3.1 0 1 1 6.2 0a3.1 3.1 0 1 1 -6.2 0ZM460.6 178.2L461.9 181.7L465.6 181.8L462.7 184.1L463.7 187.6L460.6 185.6L457.6 187.6L458.5 184.1L455.7 181.8L459.3 181.7ZM434.8 235.3L436.1 238.7L439.7 238.8L436.9 241.1L437.9 244.7L434.8 242.6L431.7 244.7L432.7 241.1L429.8 238.8L433.5 238.7ZM376.1 246.5L380.3 250.7L376.1 254.9L371.9 250.7ZM398.9 260.8h2.2v3.5h3.5v2.2h-3.5v3.5h-2.2v-3.5h-3.5v-2.2h3.5ZM458.8 177.8L463.0 182.0L458.8 186.2L454.6 182.0ZM496.9 200.2L498.2 203.6L501.9 203.8L499.0 206.0L500.0 209.6L496.9 207.6L493.9 209.6L494.8 206.0L492.0 203.8L495.6 203.6ZM477.7 204.3L481.9 208.5L477.7 212.7L473.5 208.5ZM414.0 220.0L418.2 224.2L414.0 228.4L409.8 224.2ZM356.0 265.2a3.1 3.1 0 1 1 6.2 0a3.1 3.1 0 1 1 -6.2 0ZM461.8 197.6L466.0 201.8L461.8 206.0L457.6 201.8ZM355.2 259.8a3.1 3.1 0 1 1 6.2 0a3.1 3.1 0 1 1 -6.2 0ZM384.1 212.7L388.3 216.9L384.1 221.1L379.9 216.9ZM420.7 196.7L424.9 200.9L420.7 205.1L416.5 200.9ZM381.8 256.3L383.0 259.7L386.7 259.9L383.8 262.2L384.8 265.7L381.8 263.7L378.7 265.7L379.7 262.2L376.8 259.9L380.5 259.7ZM390.1 227.8L394.3 232.0L390.1 236.2L385.9 232.0ZM473.5 194.8a3.1 3.1 0 1 1 6.2 0a3.1 3.1 0 1 1 -6.2 0ZM387.8 230.8h2.2v3.5h3.5v2.2h-3.5v3.5h-2.2v-3.5h-3.5v-2.2h3.5ZM436.5 200.5a3.1 3.1 0 1 1 6.2 0a3.1 3.1 0 1 1 -6.2 0ZM385.6 221.5L386.9 224.9L390.6 225.1L387.7 227.4L388.7 230.9L385.6 228.9L382.5 230.9L383.5 227.4L380.7 225.1L384.3 224.9ZM395.4 232.2L399.6 236.4L395.4 240.6L391.2 236.4ZM517.6 193.0L518.9 196.4L522.5 196.6L519.7 198.9L520.6 202.4L517.6 200.4L514.5 202.4L515.5 198.9L512.6 196.6L516.3 196.4ZM472.5 175.3a3.1 3.1 0 1 1 6.2 0a3.1 3.1 0 1 1 -6.2 0ZM464.4 193.8L465.7 197.2L469.4 197.3L466.5 199.6L467.5 203.2L464.4 201.1L461.4 203.2L462.3 199.6L459.5 197.3L463.1 197.2ZM480.1 208.2L484.3 212.4L480.1 216.6L475.9 212.4ZM517.7 147.7L521.9 151.9L517.7 156.1L513.5 151.9ZM423.9 241.0L428.1 245.2L423.9 249.4L419.7 245.2ZM425.8 180.6L430.0 184.8L425.8 189.0L421.6 184.8ZM484.6 187.8a3.1 3.1 0 1 1 6.2 0a3.1 3.1 0 1 1 -6.2 0ZM516.9 203.3a3.1 3.1 0 1 1 6.2 0a3.1 3.1 0 1 1 -6.2 0ZM489.4 195.9L493.6 200.1L489.4 204.3L485.2 200.1ZM322.5 264.2L326.7 268.4L322.5 272.6L318.3 268.4ZM397.6 209.5a3.1 3.1 0 1 1 6.2 0a3.1 3.1 0 1 1 -6.2 0ZM403.6 194.7L404.9 198.2L408.6 198.3L405.7 200.6L406.7 204.1L403.6 202.1L400.6 204.1L401.5 200.6L398.7 198.3L402.3 198.2ZM511.3 183.2a3.1 3.1 0 1 1 6.2 0a3.1 3.1 0 1 1 -6.2 0ZM436.4 209.0h2.2v3.5h3.5v2.2h-3.5v3.5h-2.2v-3.5h-3.5v-2.2h3.5ZM479.2 182.6h2.2v3.5h3.5v2.2h-3.5v3.5h-2.2v-3.5h-3.5v-2.2h3.5ZM406.5 222.6L410.7 226.8L406.5 231.0L402.3 226.8ZM479.8 207.4L484.0 211.6L479.8 215.8L475.6 211.6ZM442.3 199.5L446.5 203.7L442.3 207.9L438.1 203.7ZM481.3 197.6h2.2v3.5h3.5v2.2h-3.5v3.5h-2.2v-3.5h-3.5v-2.2h3.5ZM312.8 250.7L317.0 254.9L312.8 259.1L308.6 254.9ZM427.6 217.6L431.8 221.8L427.6 226.0L423.4 221.8ZM437.2 226.7L438.5 230.2L442.1 230.3L439.2 232.6L440.2 236.2L437.2 234.1L434.1 236.2L435.1 232.6L432.2 230.3L435.9 230.2ZM468.1 189.7L472.3 193.9L468.1 198.1L463.9 193.9ZM363.2 257.4L364.5 260.8L368.1 260.9L365.3 263.2L366.2 266.8L363.2 264.7L360.1 266.8L361.1 263.2L358.2 260.9L361.9 260.8ZM391.4 242.8L395.6 247.0L391.4 251.2L387.2 247.0ZM408.7 220.2L412.9 224.4L408.7 228.6L404.5 224.4ZM377.2 246.5L381.4 250.7L377.2 254.9L373.0 250.7ZM476.6 160.0L477.8 163.4L481.5 163.6L478.6 165.9L479.6 169.4L476.6 167.4L473.5 169.4L474.5 165.9L471.6 163.6L475.3 163.4ZM366.2 244.1a3.1 3.1 0 1 1 6.2 0a3.1 3.1 0 1 1 -6.2 0ZM489.0 166.2L493.2 170.4L489.0 174.6L484.8 170.4ZM333.6 274.1h2.2v3.5h3.5v2.2h-3.5v3.5h-2.2v-3.5h-3.5v-2.2h3.5ZM509.9 183.3L514.1 187.5L509.9 191.7L505.7 187.5ZM339.8 296.1L344.0 300.3L339.8 304.5L335.6 300.3ZM468.7 196.6a3.1 3.1 0 1 1 6.2 0a3.1 3.1 0 1 1 -6.2 0ZM440.5 193.6L441.7 197.1L445.4 197.2L442.5 199.5L443.5 203.0L440.5 201.0L437.4 203.0L438.4 199.5L435.5 197.2L439.2 197.1ZM378.8 247.7a3.1 3.1 0 1 1 6.2 0a3.1 3.1 0 1 1 -6.2 0ZM515.9 156.5L517.2 159.9L520.9 160.1L518.0 162.3L519.0 165.9L515.9 163.9L512.9 165.9L513.8 162.3L511.0 160.1L514.6 159.9ZM484.4 183.9L488.6 188.1L484.4 192.3L480.2 188.1ZM372.2 281.1L376.4 285.3L372.2 289.5L368.0 285.3ZM456.2 193.8L460.4 198.0L456.2 202.2L452.0 198.0ZM360.1 262.4L364.3 266.6L360.1 270.8L355.9 266.6ZM499.1 159.0L503.3 163.2L499.1 167.4L494.9 163.2ZM325.1 269.4L329.3 273.6L325.1 277.8L320.9 273.6ZM521.0 162.3h2.2v3.5h3.5v2.2h-3.5v3.5h-2.2v-3.5h-3.5v-2.2h3.5ZM464.8 197.3L466.1 200.8L469.7 200.9L466.9 203.2L467.8 206.7L464.8 204.7L461.7 206.7L462.7 203.2L459.8 200.9L463.5 200.8ZM462.2 204.1L466.4 208.3L462.2 212.5L458.0 208.3ZM436.4 226.1L440.6 230.3L436.4 234.5L432.2 230.3ZM465.5 200.0L469.7 204.2L465.5 208.4L461.3 204.2ZM462.3 197.7L463.6 201.1L467.2 201.3L464.4 203.5L465.4 207.1L462.3 205.1L459.2 207.1L460.2 203.5L457.3 201.3L461.0 201.1ZM518.7 170.0L520.0 173.4L523.7 173.6L520.8 175.8L521.8 179.4L518.7 177.3L515.7 179.4L516.7 175.8L513.8 173.6L517.5 173.4ZM452.4 203.9h2.2v3.5h3.5v2.2h-3.5v3.5h-2.2v-3.5h-3.5v-2.2h3.5ZM487.3 176.3L488.5 179.7L492.2 179.9L489.3 182.1L490.3 185.7L487.3 183.6L484.2 185.7L485.2 182.1L482.3 179.9L486.0 179.7ZM478.0 195.2L479.2 198.7L482.9 198.8L480.0 201.1L481.0 204.6L478.0 202.6L474.9 204.6L475.9 201.1L473.0 198.8L476.7 198.7ZM460.6 221.2L461.9 224.6L465.6 224.8L462.7 227.1L463.7 230.6L460.6 228.6L457.6 230.6L458.5 227.1L455.7 224.8L459.3 224.6ZM470.4 177.5a3.1 3.1 0 1 1 6.2 0a3.1 3.1 0 1 1 -6.2 0ZM424.6 220.2L425.9 223.6L429.5 223.7L426.6 226.0L427.6 229.6L424.6 227.5L421.5 229.6L422.5 226.0L419.6 223.7L423.3 223.6ZM501.6 135.2L505.8 139.4L501.6 143.6L497.4 139.4ZM518.0 156.9h2.2v3.5h3.5v2.2h-3.5v3.5h-2.2v-3.5h-3.5v-2.2h3.5ZM504.0 180.2L508.2 184.4L504.0 188.6L499.8 184.4ZM472.6 170.6a3.1 3.1 0 1 1 6.2 0a3.1 3.1 0 1 1 -6.2 0ZM376.2 230.5L380.4 234.7L376.2 238.9L372.0 234.7ZM446.6 210.2L447.9 213.6L451.5 213.8L448.7 216.1L449.6 219.6L446.6 217.6L443.5 219.6L444.5 216.1L441.6 213.8L445.3 213.6ZM460.2 193.0a3.1 3.1 0 1 1 6.2 0a3.1 3.1 0 1 1 -6.2 0ZM339.4 263.1a3.1 3.1 0 1 1 6.2 0a3.1 3.1 0 1 1 -6.2 0ZM508.9 197.9L513.1 202.1L508.9 206.3L504.7 202.1ZM382.0 218.3a3.1 3.1 0 1 1 6.2 0a3.1 3.1 0 1 1 -6.2 0ZM392.0 238.9L396.2 243.1L392.0 247.3L387.8 243.1ZM340.8 254.2L345.0 258.4L340.8 262.6L336.6 258.4ZM340.0 244.5L344.2 248.7L340.0 252.9L335.8 248.7ZM338.8 262.7L340.1 266.2L343.7 266.3L340.9 268.6L341.8 272.2L338.8 270.1L335.7 272.2L336.7 268.6L333.8 266.3L337.5 266.2ZM313.9 261.9h2.2v3.5h3.5v2.2h-3.5v3.5h-2.2v-3.5h-3.5v-2.2h3.5ZM441.3 206.0L442.6 209.4L446.2 209.6L443.4 211.9L444.4 215.4L441.3 213.4L438.2 215.4L439.2 211.9L436.4 209.6L440.0 209.4ZM433.7 214.3L437.9 218.5L433.7 222.7L429.5 218.5ZM405.8 225.3L410.0 229.5L405.8 233.7L401.6 229.5ZM411.3 242.9a3.1 3.1 0 1 1 6.2 0a3.1 3.1 0 1 1 -6.2 0ZM399.6 256.9L403.8 261.1L399.6 265.3L395.4 261.1ZM516.0 180.4L520.2 184.6L516.0 188.8L511.8 184.6ZM308.3 260.5a3.1 3.1 0 1 1 6.2 0a3.1 3.1 0 1 1 -6.2 0ZM403.4 221.3L404.7 224.7L408.3 224.9L405.5 227.2L406.4 230.7L403.4 228.7L400.3 230.7L401.3 227.2L398.4 224.9L402.1 224.7ZM512.0 169.2L513.3 172.6L516.9 172.8L514.0 175.0L515.0 178.6L512.0 176.5L508.9 178.6L509.9 175.0L507.0 172.8L510.7 172.6ZM328.4 275.1L329.7 278.6L333.3 278.7L330.4 281.0L331.4 284.6L328.4 282.5L325.3 284.6L326.3 281.0L323.4 278.7L327.1 278.6ZM359.8 243.1h2.2v3.5h3.5v2.2h-3.5v3.5h-2.2v-3.5h-3.5v-2.2h3.5ZM486.4 190.5L490.6 194.7L486.4 198.9L482.2 194.7ZM471.8 186.1h2.2v3.5h3.5v2.2h-3.5v3.5h-2.2v-3.5h-3.5v-2.2h3.5ZM408.5 227.4L409.8 230.8L413.5 231.0L410.6 233.2L411.6 236.8L408.5 234.7L405.5 236.8L406.4 233.2L403.6 231.0L407.2 230.8ZM434.7 212.5a3.1 3.1 0 1 1 6.2 0a3.1 3.1 0 1 1 -6.2 0ZM472.3 182.8L476.5 187.0L472.3 191.2L468.1 187.0ZM407.5 231.4a3.1 3.1 0 1 1 6.2 0a3.1 3.1 0 1 1 -6.2 0ZM503.2 146.0L504.5 149.4L508.1 149.6L505.3 151.9L506.2 155.4L503.2 153.4L500.1 155.4L501.1 151.9L498.2 149.6L501.9 149.4ZM477.4 212.4L478.7 215.8L482.4 216.0L479.5 218.3L480.5 221.8L477.4 219.8L474.4 221.8L475.3 218.3L472.5 216.0L476.1 215.8ZM330.3 289.3L334.5 293.5L330.3 297.7L326.1 293.5ZM440.0 207.7h2.2v3.5h3.5v2.2h-3.5v3.5h-2.2v-3.5h-3.5v-2.2h3.5ZM503.6 196.0L504.9 199.4L508.6 199.6L505.7 201.8L506.7 205.4L503.6 203.4L500.6 205.4L501.5 201.8L498.7 199.6L502.3 199.4ZM394.4 256.3a3.1 3.1 0 1 1 6.2 0a3.1 3.1 0 1 1 -6.2 0ZM425.4 226.1a3.1 3.1 0 1 1 6.2 0a3.1 3.1 0 1 1 -6.2 0ZM445.3 208.3L449.5 212.5L445.3 216.7L441.1 212.5ZM420.9 194.0L425.1 198.2L420.9 202.4L416.7 198.2ZM315.7 280.0L319.9 284.2L315.7 288.4L311.5 284.2ZM337.5 289.2L338.7 292.6L342.4 292.8L339.5 295.1L340.5 298.6L337.5 296.6L334.4 298.6L335.4 295.1L332.5 292.8L336.2 292.6ZM510.0 184.4a3.1 3.1 0 1 1 6.2 0a3.1 3.1 0 1 1 -6.2 0ZM492.9 190.4L497.1 194.6L492.9 198.8L488.7 194.6ZM470.9 201.1L472.2 204.5L475.9 204.7L473.0 207.0L474.0 210.5L470.9 208.5L467.9 210.5L468.8 207.0L466.0 204.7L469.6 204.5ZM400.4 246.7L404.6 250.9L400.4 255.1L396.2 250.9ZM416.3 215.7L417.6 219.1L421.3 219.3L418.4 221.5L419.4 225.1L416.3 223.0L413.3 225.1L414.3 221.5L411.4 219.3L415.0 219.1ZM384.8 226.1L389.0 230.3L384.8 234.5L380.6 230.3ZM445.4 212.9a3.1 3.1 0 1 1 6.2 0a3.1 3.1 0 1 1 -6.2 0ZM334.3 249.1L335.5 252.5L339.2 252.7L336.3 255.0L337.3 258.5L334.3 256.5L331.2 258.5L332.2 255.0L329.3 252.7L333.0 252.5ZM490.8 164.9h2.2v3.5h3.5v2.2h-3.5v3.5h-2.2v-3.5h-3.5v-2.2h3.5ZM330.7 273.8a3.1 3.1 0 1 1 6.2 0a3.1 3.1 0 1 1 -6.2 0ZM472.9 193.7L474.2 197.1L477.9 197.3L475.0 199.6L476.0 203.1L472.9 201.1L469.8 203.1L470.8 199.6L468.0 197.3L471.6 197.1ZM458.1 200.2L459.4 203.6L463.0 203.8L460.2 206.0L461.1 209.6L458.1 207.5L455.0 209.6L456.0 206.0L453.1 203.8L456.8 203.6ZM403.2 237.2a3.1 3.1 0 1 1 6.2 0a3.1 3.1 0 1 1 -6.2 0ZM454.5 182.2a3.1 3.1 0 1 1 6.2 0a3.1 3.1 0 1 1 -6.2 0ZM471.1 199.9a3.1 3.1 0 1 1 6.2 0a3.1 3.1 0 1 1 -6.2 0ZM490.6 198.1L491.9 201.6L495.5 201.7L492.7 204.0L493.6 207.5L490.6 205.5L487.5 207.5L488.5 204.0L485.6 201.7L489.3 201.6ZM516.7 174.6a3.1 3.1 0 1 1 6.2 0a3.1 3.1 0 1 1 -6.2 0ZM438.8 224.3L440.1 227.7L443.8 227.9L440.9 230.2L441.9 233.7L438.8 231.7L435.8 233.7L436.8 230.2L433.9 227.9L437.5 227.7ZM328.2 296.1a3.1 3.1 0 1 1 6.2 0a3.1 3.1 0 1 1 -6.2 0ZM415.7 202.7L416.9 206.1L420.6 206.3L417.7 208.5L418.7 212.1L415.7 210.0L412.6 212.1L413.6 208.5L410.7 206.3L414.4 206.1ZM399.4 240.8L403.6 245.0L399.4 249.2L395.2 245.0ZM385.0 271.3L389.2 275.5L385.0 279.7L380.8 275.5ZM465.0 201.3L469.2 205.5L465.0 209.7L460.8 205.5ZM458.0 199.4h2.2v3.5h3.5v2.2h-3.5v3.5h-2.2v-3.5h-3.5v-2.2h3.5ZM515.2 162.5L516.5 165.9L520.2 166.1L517.3 168.4L518.3 171.9L515.2 169.9L512.2 171.9L513.2 168.4L510.3 166.1L514.0 165.9ZM459.0 207.0a3.1 3.1 0 1 1 6.2 0a3.1 3.1 0 1 1 -6.2 0ZM414.3 230.2L415.6 233.7L419.2 233.8L416.4 236.1L417.3 239.7L414.3 237.6L411.2 239.7L412.2 236.1L409.3 233.8L413.0 233.7ZM461.2 193.8L465.4 198.0L461.2 202.2L457.0 198.0ZM441.4 182.3L442.7 185.7L446.4 185.9L443.5 188.2L444.5 191.7L441.4 189.7L438.4 191.7L439.4 188.2L436.5 185.9L440.2 185.7ZM358.5 275.1a3.1 3.1 0 1 1 6.2 0a3.1 3.1 0 1 1 -6.2 0ZM494.8 196.4a3.1 3.1 0 1 1 6.2 0a3.1 3.1 0 1 1 -6.2 0ZM465.7 190.3L469.9 194.5L465.7 198.7L461.5 194.5ZM520.5 160.1a3.1 3.1 0 1 1 6.2 0a3.1 3.1 0 1 1 -6.2 0ZM476.2 209.1a3.1 3.1 0 1 1 6.2 0a3.1 3.1 0 1 1 -6.2 0ZM463.7 212.6L465.0 216.0L468.6 216.2L465.8 218.4L466.7 222.0L463.7 219.9L460.6 222.0L461.6 218.4L458.7 216.2L462.4 216.0ZM446.4 190.0L450.6 194.2L446.4 198.4L442.2 194.2ZM449.4 190.0L453.6 194.2L449.4 198.4L445.2 194.2ZM449.3 195.0L453.5 199.2L449.3 203.4L445.1 199.2ZM401.6 252.0a3.1 3.1 0 1 1 6.2 0a3.1 3.1 0 1 1 -6.2 0ZM451.7 182.4L455.9 186.6L451.7 190.8L447.5 186.6ZM415.1 226.5a3.1 3.1 0 1 1 6.2 0a3.1 3.1 0 1 1 -6.2 0ZM357.6 236.2a3.1 3.1 0 1 1 6.2 0a3.1 3.1 0 1 1 -6.2 0ZM477.0 176.7a3.1 3.1 0 1 1 6.2 0a3.1 3.1 0 1 1 -6.2 0ZM335.2 265.7L336.5 269.1L340.2 269.3L337.3 271.6L338.3 275.1L335.2 273.1L332.2 275.1L333.1 271.6L330.3 269.3L333.9 269.1ZM323.0 225.1a3.1 3.1 0 1 1 6.2 0a3.1 3.1 0 1 1 -6.2 0ZM314.8 293.5a3.1 3.1 0 1 1 6.2 0a3.1 3.1 0 1 1 -6.2 0ZM458.1 195.6a3.1 3.1 0 1 1 6.2 0a3.1 3.1 0 1 1 -6.2 0ZM422.5 226.6h2.2v3.5h3.5v2.2h-3.5v3.5h-2.2v-3.5h-3.5v-2.2h3.5ZM514.4 154.6L515.7 158.0L519.4 158.2L516.5 160.5L517.5 164.0L514.4 162.0L511.4 164.0L512.3 160.5L509.5 158.2L513.1 158.0ZM472.1 213.4L476.3 217.6L472.1 221.8L467.9 217.6ZM503.0 195.5a3.1 3.1 0 1 1 6.2 0a3.1 3.1 0 1 1 -6.2 0ZM454.9 208.2L459.1 212.4L454.9 216.6L450.7 212.4ZM418.3 209.6L419.6 213.0L423.3 213.2L420.4 215.5L421.4 219.0L418.3 217.0L415.3 219.0L416.2 215.5L413.4 213.2L417.0 213.0ZM412.2 232.4L416.4 236.6L412.2 240.8L408.0 236.6ZM409.0 253.4a3.1 3.1 0 1 1 6.2 0a3.1 3.1 0 1 1 -6.2 0ZM473.5 203.0L477.7 207.2L473.5 211.4L469.3 207.2ZM436.1 222.6L437.4 226.0L441.1 226.2L438.2 228.5L439.2 232.0L436.1 230.0L433.1 232.0L434.0 228.5L431.2 226.2L434.8 226.0ZM492.1 188.6L496.3 192.8L492.1 197.0L487.9 192.8ZM468.5 176.5L469.7 179.9L473.4 180.1L470.5 182.4L471.5 185.9L468.5 183.9L465.4 185.9L466.4 182.4L463.5 180.1L467.2 179.9ZM452.7 213.0L456.9 217.2L452.7 221.4L448.5 217.2ZM475.9 215.4L477.1 218.9L480.8 219.0L477.9 221.3L478.9 224.8L475.9 222.8L472.8 224.8L473.8 221.3L470.9 219.0L474.6 218.9ZM342.7 245.3L344.0 248.7L347.7 248.9L344.8 251.2L345.8 254.7L342.7 252.7L339.7 254.7L340.6 251.2L337.8 248.9L341.4 248.7ZM476.3 174.1L477.5 177.6L481.2 177.7L478.3 180.0L479.3 183.6L476.3 181.5L473.2 183.6L474.2 180.0L471.3 177.7L475.0 177.6ZM400.2 209.4L401.5 212.8L405.1 213.0L402.3 215.3L403.3 218.8L400.2 216.8L397.1 218.8L398.1 215.3L395.3 213.0L398.9 212.8ZM505.8 188.2a3.1 3.1 0 1 1 6.2 0a3.1 3.1 0 1 1 -6.2 0ZM421.9 193.4L426.1 197.6L421.9 201.8L417.7 197.6ZM496.2 185.7L500.4 189.9L496.2 194.1L492.0 189.9ZM390.2 229.0L394.4 233.2L390.2 237.4L386.0 233.2ZM471.7 192.9L473.0 196.4L476.7 196.5L473.8 198.8L474.8 202.4L471.7 200.3L468.7 202.4L469.6 198.8L466.8 196.5L470.4 196.4ZM471.4 193.3a3.1 3.1 0 1 1 6.2 0a3.1 3.1 0 1 1 -6.2 0ZM325.1 317.7a3.1 3.1 0 1 1 6.2 0a3.1 3.1 0 1 1 -6.2 0ZM429.3 214.2a3.1 3.1 0 1 1 6.2 0a3.1 3.1 0 1 1 -6.2 0ZM490.3 175.4h2.2v3.5h3.5v2.2h-3.5v3.5h-2.2v-3.5h-3.5v-2.2h3.5ZM409.6 202.8a3.1 3.1 0 1 1 6.2 0a3.1 3.1 0 1 1 -6.2 0ZM454.8 215.2L459.0 219.4L454.8 223.6L450.6 219.4ZM473.8 205.4L478.0 209.6L473.8 213.8L469.6 209.6ZM412.5 211.6L413.8 215.0L417.5 215.1L414.6 217.4L415.6 221.0L412.5 218.9L409.5 221.0L410.4 217.4L407.6 215.1L411.2 215.0ZM455.8 186.7L460.0 190.9L455.8 195.1L451.6 190.9ZM443.5 207.8L444.8 211.2L448.4 211.4L445.6 213.6L446.5 217.2L443.5 215.2L440.4 217.2L441.4 213.6L438.5 211.4L442.2 211.2ZM430.0 204.6L431.3 208.0L434.9 208.2L432.0 210.5L433.0 214.0L430.0 212.0L426.9 214.0L427.9 210.5L425.0 208.2L428.7 208.0ZM429.8 231.7a3.1 3.1 0 1 1 6.2 0a3.1 3.1 0 1 1 -6.2 0ZM520.7 149.6L524.9 153.8L520.7 158.0L516.5 153.8Z"/>
<path fill="#dededc" d="M391.7 238.1L395.9 242.3L391.7 246.5L387.5 242.3ZM420.3 243.5L421.6 246.9L425.3 247.1L422.4 249.4L423.4 252.9L420.3 250.9L417.3 252.9L418.2 249.4L415.4 247.1L419.0 246.9ZM344.8 239.7L346.1 243.2L349.8 243.3L346.9 245.6L347.9 249.1L344.8 247.1L341.7 249.1L342.7 245.6L339.9 243.3L343.5 243.2ZM362.7 274.3a3.1 3.1 0 1 1 6.2 0a3.1 3.1 0 1 1 -6.2 0ZM331.9 243.4L333.2 246.8L336.8 247.0L334.0 249.2L334.9 252.8L331.9 250.7L328.8 252.8L329.8 249.2L326.9 247.0L330.6 246.8ZM348.9 289.5L350.2 292.9L353.9 293.0L351.0 295.3L352.0 298.9L348.9 296.8L345.9 298.9L346.8 295.3L344.0 293.0L347.6 292.9ZM357.6 250.4L361.8 254.6L357.6 258.8L353.4 254.6ZM416.2 223.9L420.4 228.1L416.2 232.3L412.0 228.1ZM381.4 221.5L382.7 225.0L386.4 225.1L383.5 227.4L384.5 230.9L381.4 228.9L378.4 230.9L379.3 227.4L376.5 225.1L380.1 225.0ZM405.8 264.8L410.0 269.0L405.8 273.2L401.6 269.0ZM394.2 231.6a3.1 3.1 0 1 1 6.2 0a3.1 3.1 0 1 1 -6.2 0ZM326.8 267.3L331.0 271.5L326.8 275.7L322.6 271.5ZM362.5 246.9a3.1 3.1 0 1 1 6.2 0a3.1 3.1 0 1 1 -6.2 0ZM437.5 208.6L441.7 212.8L437.5 217.0L433.3 212.8ZM356.6 271.0L357.9 274.5L361.5 274.6L358.7 276.9L359.6 280.4L356.6 278.4L353.5 280.4L354.5 276.9L351.6 274.6L355.3 274.5ZM469.3 169.0L473.5 173.2L469.3 177.4L465.1 173.2ZM382.5 272.7L383.8 276.1L387.5 276.3L384.6 278.5L385.6 282.1L382.5 280.1L379.5 282.1L380.5 278.5L377.6 276.3L381.3 276.1ZM424.9 219.1L426.2 222.6L429.8 222.7L427.0 225.0L427.9 228.5L424.9 226.5L421.8 228.5L422.8 225.0L419.9 222.7L423.6 222.6ZM262.0 298.0L263.3 301.4L267.0 301.6L264.1 303.8L265.1 307.4L262.0 305.3L259.0 307.4L260.0 303.8L257.1 301.6L260.7 301.4ZM489.0 177.4L493.2 181.6L489.0 185.8L484.8 181.6ZM334.0 304.5h2.2v3.5h3.5v2.2h-3.5v3.5h-2.2v-3.5h-3.5v-2.2h3.5ZM459.1 191.6L463.3 195.8L459.1 200.0L454.9 195.8ZM343.6 233.0L347.8 237.2L343.6 241.4L339.4 237.2ZM483.0 188.5L487.2 192.7L483.0 196.9L478.8 192.7ZM368.8 260.0a3.1 3.1 0 1 1 6.2 0a3.1 3.1 0 1 1 -6.2 0ZM466.7 212.3L470.9 216.5L466.7 220.7L462.5 216.5ZM381.4 280.5a3.1 3.1 0 1 1 6.2 0a3.1 3.1 0 1 1 -6.2 0ZM422.3 249.3L426.5 253.5L422.3 257.7L418.1 253.5ZM430.1 196.2L434.3 200.4L430.1 204.6L425.9 200.4ZM490.6 195.4L494.8 199.6L490.6 203.8L486.4 199.6ZM476.4 209.5h2.2v3.5h3.5v2.2h-3.5v3.5h-2.2v-3.5h-3.5v-2.2h3.5ZM439.6 222.2L440.9 225.7L444.6 225.8L441.7 228.1L442.7 231.6L439.6 229.6L436.6 231.6L437.5 228.1L434.7 225.8L438.3 225.7ZM397.6 249.3L401.8 253.5L397.6 257.7L393.4 253.5ZM397.4 226.8L401.6 231.0L397.4 235.2L393.2 231.0ZM424.9 224.2L429.1 228.4L424.9 232.6L420.7 228.4ZM371.9 271.5a3.1 3.1 0 1 1 6.2 0a3.1 3.1 0 1 1 -6.2 0ZM461.6 198.2L465.8 202.4L461.6 206.6L457.4 202.4ZM441.6 244.8L445.8 249.0L441.6 253.2L437.4 249.0ZM353.2 236.4a3.1 3.1 0 1 1 6.2 0a3.1 3.1 0 1 1 -6.2 0ZM443.0 189.0a3.1 3.1 0 1 1 6.2 0a3.1 3.1 0 1 1 -6.2 0ZM391.7 227.0L393.0 230.4L396.7 230.6L393.8 232.9L394.8 236.4L391.7 234.4L388.7 236.4L389.7 232.9L386.8 230.6L390.5 230.4ZM351.4 271.0L355.6 275.2L351.4 279.4L347.2 275.2ZM367.8 243.0L372.0 247.2L367.8 251.4L363.6 247.2ZM335.7 271.3L337.0 274.7L340.6 274.9L337.8 277.2L338.7 280.7L335.7 278.7L332.6 280.7L333.6 277.2L330.7 274.9L334.4 274.7ZM447.1 213.6L451.3 217.8L447.1 222.0L442.9 217.8ZM483.9 207.2L485.2 210.7L488.8 210.8L486.0 213.1L486.9 216.6L483.9 214.6L480.8 216.6L481.8 213.1L478.9 210.8L482.6 210.7ZM499.3 155.8L503.5 160.0L499.3 164.2L495.1 160.0ZM352.3 259.4a3.1 3.1 0 1 1 6.2 0a3.1 3.1 0 1 1 -6.2 0ZM465.4 193.6a3.1 3.1 0 1 1 6.2 0a3.1 3.1 0 1 1 -6.2 0ZM387.5 249.1L388.7 252.5L392.4 252.7L389.5 255.0L390.5 258.5L387.5 256.5L384.4 258.5L385.4 255.0L382.5 252.7L386.2 252.5ZM441.1 199.9L445.3 204.1L441.1 208.3L436.9 204.1ZM451.0 203.5L455.2 207.7L451.0 211.9L446.8 207.7ZM362.0 252.1a3.1 3.1 0 1 1 6.2 0a3.1 3.1 0 1 1 -6.2 0ZM443.3 232.7L447.5 236.9L443.3 241.1L439.1 236.9ZM402.8 261.3a3.1 3.1 0 1 1 6.2 0a3.1 3.1 0 1 1 -6.2 0ZM439.9 200.4L444.1 204.6L439.9 208.8L435.7 204.6ZM424.2 207.3L428.4 211.5L424.2 215.7L420.0 211.5ZM388.5 263.4L392.7 267.6L388.5 271.8L384.3 267.6ZM401.5 248.5L405.7 252.7L401.5 256.9L397.3 252.7ZM442.0 206.1L446.2 210.3L442.0 214.5L437.8 210.3ZM401.1 256.0L405.3 260.2L401.1 264.4L396.9 260.2ZM344.8 234.2a3.1 3.1 0 1 1 6.2 0a3.1 3.1 0 1 1 -6.2 0ZM400.1 224.8L404.3 229.0L400.1 233.2L395.9 229.0ZM483.2 159.9h2.2v3.5h3.5v2.2h-3.5v3.5h-2.2v-3.5h-3.5v-2.2h3.5ZM376.7 243.9L380.9 248.1L376.7 252.3L372.5 248.1ZM483.0 191.6L487.2 195.8L483.0 200.0L478.8 195.8ZM434.7 263.2L438.9 267.4L434.7 271.6L430.5 267.4ZM480.4 177.3L481.7 180.8L485.3 180.9L482.5 183.2L483.4 186.7L480.4 184.7L477.3 186.7L478.3 183.2L475.4 180.9L479.1 180.8ZM416.0 206.6L420.2 210.8L416.0 215.0L411.8 210.8ZM439.0 230.5L440.3 233.9L443.9 234.1L441.1 236.3L442.1 239.9L439.0 237.9L435.9 239.9L436.9 236.3L434.1 234.1L437.7 233.9ZM365.8 230.2a3.1 3.1 0 1 1 6.2 0a3.1 3.1 0 1 1 -6.2 0ZM459.0 197.7L463.2 201.9L459.0 206.1L454.8 201.9ZM445.8 215.8a3.1 3.1 0 1 1 6.2 0a3.1 3.1 0 1 1 -6.2 0ZM343.1 254.0L347.3 258.2L343.1 262.4L338.9 258.2ZM342.4 280.6L346.6 284.8L342.4 289.0L338.2 284.8ZM440.3 184.0L444.5 188.2L440.3 192.4L436.1 188.2ZM482.1 181.9L483.3 185.4L487.0 185.5L484.1 187.8L485.1 191.3L482.1 189.3L479.0 191.3L480.0 187.8L477.1 185.5L480.8 185.4ZM401.5 232.6a3.1 3.1 0 1 1 6.2 0a3.1 3.1 0 1 1 -6.2 0ZM473.2 192.4L477.4 196.6L473.2 200.8L469.0 196.6ZM357.2 243.8h2.2v3.5h3.5v2.2h-3.5v3.5h-2.2v-3.5h-3.5v-2.2h3.5ZM487.6 183.1L488.9 186.5L492.5 186.7L489.6 189.0L490.6 192.5L487.6 190.5L484.5 192.5L485.5 189.0L482.6 186.7L486.3 186.5ZM413.6 227.0L414.9 230.4L418.6 230.6L415.7 232.9L416.7 236.4L413.6 234.4L410.6 236.4L411.6 232.9L408.7 230.6L412.3 230.4ZM346.0 269.9L350.2 274.1L346.0 278.3L341.8 274.1ZM380.9 222.5L385.1 226.7L380.9 230.9L376.7 226.7ZM364.8 248.9a3.1 3.1 0 1 1 6.2 0a3.1 3.1 0 1 1 -6.2 0ZM421.7 200.6L425.9 204.8L421.7 209.0L417.5 204.8ZM468.6 208.3L472.8 212.5L468.6 216.7L464.4 212.5ZM462.9 206.1L464.2 209.5L467.9 209.7L465.0 212.0L466.0 215.5L462.9 213.5L459.9 215.5L460.8 212.0L458.0 209.7L461.6 209.5ZM466.3 195.6a3.1 3.1 0 1 1 6.2 0a3.1 3.1 0 1 1 -6.2 0ZM435.4 210.7L439.6 214.9L435.4 219.1L431.2 214.9ZM412.3 207.1h2.2v3.5h3.5v2.2h-3.5v3.5h-2.2v-3.5h-3.5v-2.2h3.5ZM492.1 172.0a3.1 3.1 0 1 1 6.2 0a3.1 3.1 0 1 1 -6.2 0ZM335.1 268.0a3.1 3.1 0 1 1 6.2 0a3.1 3.1 0 1 1 -6.2 0ZM388.8 219.6L393.0 223.8L388.8 228.0L384.6 223.8ZM304.1 274.4L305.4 277.9L309.0 278.0L306.2 280.3L307.1 283.8L304.1 281.8L301.0 283.8L302.0 280.3L299.1 278.0L302.8 277.9ZM401.2 273.3a3.1 3.1 0 1 1 6.2 0a3.1 3.1 0 1 1 -6.2 0ZM471.3 200.8L475.5 205.0L471.3 209.2L467.1 205.0ZM364.2 280.1L368.4 284.3L364.2 288.5L360.0 284.3ZM465.7 196.1a3.1 3.1 0 1 1 6.2 0a3.1 3.1 0 1 1 -6.2 0ZM367.2 262.1L371.4 266.3L367.2 270.5L363.0 266.3ZM301.2 302.1h2.2v3.5h3.5v2.2h-3.5v3.5h-2.2v-3.5h-3.5v-2.2h3.5ZM376.3 267.5L380.5 271.7L376.3 275.9L372.1 271.7ZM420.0 222.4a3.1 3.1 0 1 1 6.2 0a3.1 3.1 0 1 1 -6.2 0ZM479.8 198.3a3.1 3.1 0 1 1 6.2 0a3.1 3.1 0 1 1 -6.2 0ZM486.9 186.8L488.1 190.3L491.8 190.4L488.9 192.7L489.9 196.3L486.9 194.2L483.8 196.3L484.8 192.7L481.9 190.4L485.6 190.3ZM480.5 189.8L481.8 193.2L485.5 193.4L482.6 195.7L483.6 199.2L480.5 197.2L477.5 199.2L478.4 195.7L475.6 193.4L479.2 193.2ZM489.7 167.4h2.2v3.5h3.5v2.2h-3.5v3.5h-2.2v-3.5h-3.5v-2.2h3.5ZM477.9 215.3L479.2 218.7L482.9 218.9L480.0 221.2L481.0 224.7L477.9 222.7L474.9 224.7L475.8 221.2L473.0 218.9L476.6 218.7ZM456.3 215.3L460.5 219.5L456.3 223.7L452.1 219.5ZM439.5 234.1L443.7 238.3L439.5 242.5L435.3 238.3ZM492.8 205.9L497.0 210.1L492.8 214.3L488.6 210.1ZM490.9 189.9L495.1 194.1L490.9 198.3L486.7 194.1ZM486.0 135.4L487.3 138.9L490.9 139.0L488.1 141.3L489.0 144.8L486.0 142.8L482.9 144.8L483.9 141.3L481.0 139.0L484.7 138.9ZM438.8 208.4L443.0 212.6L438.8 216.8L434.6 212.6ZM487.9 187.0L492.1 191.2L487.9 195.4L483.7 191.2ZM424.9 243.7L429.1 247.9L424.9 252.1L420.7 247.9ZM257.8 349.1a3.1 3.1 0 1 1 6.2 0a3.1 3.1 0 1 1 -6.2 0ZM390.2 264.1a3.1 3.1 0 1 1 6.2 0a3.1 3.1 0 1 1 -6.2 0ZM409.1 219.4L413.3 223.6L409.1 227.8L404.9 223.6ZM469.9 192.2L474.1 196.4L469.9 200.6L465.7 196.4ZM339.5 291.4L343.7 295.6L339.5 299.8L335.3 295.6ZM477.0 198.4L481.2 202.6L477.0 206.8L472.8 202.6ZM473.6 192.1L477.8 196.3L473.6 200.5L469.4 196.3ZM457.2 169.9L458.5 173.4L462.2 173.5L459.3 175.8L460.3 179.4L457.2 177.3L454.2 179.4L455.2 175.8L452.3 173.5L456.0 173.4Z"/>
<path fill="#8b8c8c" d="M330.0 275.3L331.3 278.8L335.0 278.9L332.1 281.2L333.1 284.7L330.0 282.7L327.0 284.7L327.9 281.2L325.1 278.9L328.7 278.8ZM464.3 191.2h2.2v3.5h3.5v2.2h-3.5v3.5h-2.2v-3.5h-3.5v-2.2h3.5ZM337.0 272.4L341.2 276.6L337.0 280.8L332.8 276.6ZM313.0 268.2L314.3 271.7L317.9 271.8L315.1 274.1L316.0 277.6L313.0 275.6L309.9 277.6L310.9 274.1L308.0 271.8L311.7 271.7ZM417.3 214.7L421.5 218.9L417.3 223.1L413.1 218.9ZM472.3 209.3a3.1 3.1 0 1 1 6.2 0a3.1 3.1 0 1 1 -6.2 0ZM405.0 258.6L406.3 262.0L409.9 262.2L407.1 264.5L408.0 268.0L405.0 266.0L401.9 268.0L402.9 264.5L400.0 262.2L403.7 262.0ZM424.8 191.5L426.1 194.9L429.8 195.1L426.9 197.4L427.9 200.9L424.8 198.9L421.8 200.9L422.8 197.4L419.9 195.1L423.6 194.9ZM359.4 238.9a3.1 3.1 0 1 1 6.2 0a3.1 3.1 0 1 1 -6.2 0ZM345.6 275.5a3.1 3.1 0 1 1 6.2 0a3.1 3.1 0 1 1 -6.2 0ZM426.7 228.7L430.9 232.9L426.7 237.1L422.5 232.9ZM420.8 251.1L425.0 255.3L420.8 259.5L416.6 255.3ZM440.1 201.3L444.3 205.5L440.1 209.7L435.9 205.5ZM405.7 226.7h2.2v3.5h3.5v2.2h-3.5v3.5h-2.2v-3.5h-3.5v-2.2h3.5ZM407.5 246.3a3.1 3.1 0 1 1 6.2 0a3.1 3.1 0 1 1 -6.2 0ZM462.1 201.8L466.3 206.0L462.1 210.2L457.9 206.0ZM457.4 177.3L461.6 181.5L457.4 185.7L453.2 181.5ZM452.1 203.2h2.2v3.5h3.5v2.2h-3.5v3.5h-2.2v-3.5h-3.5v-2.2h3.5ZM332.6 297.5L333.9 301.0L337.6 301.1L334.7 303.4L335.7 306.9L332.6 304.9L329.6 306.9L330.6 303.4L327.7 301.1L331.4 301.0ZM426.2 204.6L427.5 208.1L431.2 208.2L428.3 210.5L429.3 214.0L426.2 212.0L423.2 214.0L424.1 210.5L421.3 208.2L424.9 208.1ZM365.0 271.6L369.2 275.8L365.0 280.0L360.8 275.8ZM421.2 227.1L425.4 231.3L421.2 235.5L417.0 231.3ZM482.6 192.1h2.2v3.5h3.5v2.2h-3.5v3.5h-2.2v-3.5h-3.5v-2.2h3.5ZM492.0 172.9L496.2 177.1L492.0 181.3L487.8 177.1ZM524.4 169.3h2.2v3.5h3.5v2.2h-3.5v3.5h-2.2v-3.5h-3.5v-2.2h3.5ZM481.6 164.1a3.1 3.1 0 1 1 6.2 0a3.1 3.1 0 1 1 -6.2 0ZM429.8 208.2a3.1 3.1 0 1 1 6.2 0a3.1 3.1 0 1 1 -6.2 0ZM455.6 195.3a3.1 3.1 0 1 1 6.2 0a3.1 3.1 0 1 1 -6.2 0ZM399.6 216.5L403.8 220.7L399.6 224.9L395.4 220.7ZM429.4 209.3L430.7 212.8L434.4 212.9L431.5 215.2L432.5 218.7L429.4 216.7L426.4 218.7L427.3 215.2L424.5 212.9L428.1 212.8ZM339.5 272.4L340.7 275.8L344.4 276.0L341.5 278.3L342.5 281.8L339.5 279.8L336.4 281.8L337.4 278.3L334.5 276.0L338.2 275.8ZM505.5 158.9a3.1 3.1 0 1 1 6.2 0a3.1 3.1 0 1 1 -6.2 0ZM409.9 231.8a3.1 3.1 0 1 1 6.2 0a3.1 3.1 0 1 1 -6.2 0ZM382.7 253.2L386.9 257.4L382.7 261.6L378.5 257.4ZM430.3 216.6L434.5 220.8L430.3 225.0L426.1 220.8ZM405.0 194.2a3.1 3.1 0 1 1 6.2 0a3.1 3.1 0 1 1 -6.2 0ZM349.4 267.1L353.6 271.3L349.4 275.5L345.2 271.3ZM332.8 257.2L337.0 261.4L332.8 265.6L328.6 261.4ZM311.1 273.1L315.3 277.3L311.1 281.5L306.9 277.3ZM371.8 231.7L376.0 235.9L371.8 240.1L367.6 235.9ZM440.8 215.1L442.1 218.5L445.8 218.7L442.9 221.0L443.9 224.5L440.8 222.5L437.8 224.5L438.8 221.0L435.9 218.7L439.6 218.5ZM458.8 184.7L460.0 188.1L463.7 188.3L460.8 190.6L461.8 194.1L458.8 192.1L455.7 194.1L456.7 190.6L453.8 188.3L457.5 188.1ZM428.6 242.9a3.1 3.1 0 1 1 6.2 0a3.1 3.1 0 1 1 -6.2 0ZM428.0 213.4h2.2v3.5h3.5v2.2h-3.5v3.5h-2.2v-3.5h-3.5v-2.2h3.5ZM427.4 224.5a3.1 3.1 0 1 1 6.2 0a3.1 3.1 0 1 1 -6.2 0ZM453.0 183.2h2.2v3.5h3.5v2.2h-3.5v3.5h-2.2v-3.5h-3.5v-2.2h3.5ZM468.7 207.7L472.9 211.9L468.7 216.1L464.5 211.9ZM468.0 214.2L472.2 218.4L468.0 222.6L463.8 218.4ZM510.7 208.0L514.9 212.2L510.7 216.4L506.5 212.2ZM501.2 191.2a3.1 3.1 0 1 1 6.2 0a3.1 3.1 0 1 1 -6.2 0ZM453.7 190.2L455.0 193.6L458.7 193.8L455.8 196.1L456.8 199.6L453.7 197.6L450.7 199.6L451.7 196.1L448.8 193.8L452.5 193.6ZM419.0 244.4L423.2 248.6L419.0 252.8L414.8 248.6ZM494.2 161.4L498.4 165.6L494.2 169.8L490.0 165.6ZM463.4 200.0a3.1 3.1 0 1 1 6.2 0a3.1 3.1 0 1 1 -6.2 0ZM464.6 193.4L468.8 197.6L464.6 201.8L460.4 197.6ZM341.2 273.9L345.4 278.1L341.2 282.3L337.0 278.1ZM496.8 208.5a3.1 3.1 0 1 1 6.2 0a3.1 3.1 0 1 1 -6.2 0ZM514.3 179.3L518.5 183.5L514.3 187.7L510.1 183.5ZM445.9 210.1a3.1 3.1 0 1 1 6.2 0a3.1 3.1 0 1 1 -6.2 0ZM434.6 213.1a3.1 3.1 0 1 1 6.2 0a3.1 3.1 0 1 1 -6.2 0ZM382.0 245.7L386.2 249.9L382.0 254.1L377.8 249.9ZM498.4 184.2L499.7 187.6L503.3 187.8L500.5 190.1L501.4 193.6L498.4 191.6L495.3 193.6L496.3 190.1L493.4 187.8L497.1 187.6ZM379.3 259.5L380.6 262.9L384.2 263.1L381.4 265.4L382.3 268.9L379.3 266.9L376.2 268.9L377.2 265.4L374.3 263.1L378.0 262.9ZM427.6 212.6h2.2v3.5h3.5v2.2h-3.5v3.5h-2.2v-3.5h-3.5v-2.2h3.5ZM361.0 220.4a3.1 3.1 0 1 1 6.2 0a3.1 3.1 0 1 1 -6.2 0ZM526.9 150.3L531.1 154.5L526.9 158.7L522.7 154.5ZM438.1 208.1L442.3 212.3L438.1 216.5L433.9 212.3ZM409.1 199.4L413.3 203.6L409.1 207.8L404.9 203.6ZM456.4 207.5L460.6 211.7L456.4 215.9L452.2 211.7ZM478.4 189.2L479.7 192.6L483.4 192.8L480.5 195.1L481.5 198.6L478.4 196.6L475.4 198.6L476.3 195.1L473.5 192.8L477.1 192.6ZM356.1 227.3L360.3 231.5L356.1 235.7L351.9 231.5ZM443.4 196.7a3.1 3.1 0 1 1 6.2 0a3.1 3.1 0 1 1 -6.2 0ZM510.9 176.9L512.2 180.3L515.8 180.4L513.0 182.7L514.0 186.3L510.9 184.2L507.8 186.3L508.8 182.7L506.0 180.4L509.6 180.3ZM464.4 186.9L468.6 191.1L464.4 195.3L460.2 191.1ZM515.2 174.7L516.5 178.1L520.2 178.3L517.3 180.6L518.3 184.1L515.2 182.1L512.2 184.1L513.1 180.6L510.3 178.3L513.9 178.1ZM416.3 208.0L420.5 212.2L416.3 216.4L412.1 212.2ZM365.1 250.9L369.3 255.1L365.1 259.3L360.9 255.1ZM399.4 232.6L403.6 236.8L399.4 241.0L395.2 236.8ZM331.0 287.6L335.2 291.8L331.0 296.0L326.8 291.8ZM444.7 218.0a3.1 3.1 0 1 1 6.2 0a3.1 3.1 0 1 1 -6.2 0ZM389.2 210.8a3.1 3.1 0 1 1 6.2 0a3.1 3.1 0 1 1 -6.2 0ZM410.0 229.2L414.2 233.4L410.0 237.6L405.8 233.4ZM448.2 163.7L452.4 167.9L448.2 172.1L444.0 167.9ZM396.8 254.4L398.1 257.8L401.8 258.0L398.9 260.3L399.9 263.8L396.8 261.8L393.8 263.8L394.8 260.3L391.9 258.0L395.5 257.8ZM481.9 202.3a3.1 3.1 0 1 1 6.2 0a3.1 3.1 0 1 1 -6.2 0ZM312.9 268.4L314.2 271.8L317.8 272.0L315.0 274.3L315.9 277.8L312.9 275.8L309.8 277.8L310.8 274.3L307.9 272.0L311.6 271.8ZM427.9 178.6L432.1 182.8L427.9 187.0L423.7 182.8ZM481.6 181.2L485.8 185.4L481.6 189.6L477.4 185.4ZM518.6 194.5a3.1 3.1 0 1 1 6.2 0a3.1 3.1 0 1 1 -6.2 0ZM416.9 211.4L418.2 214.8L421.9 215.0L419.0 217.3L420.0 220.8L416.9 218.8L413.9 220.8L414.9 217.3L412.0 215.0L415.6 214.8ZM525.3 148.5L529.5 152.7L525.3 156.9L521.1 152.7ZM451.3 199.9L452.6 203.3L456.3 203.5L453.4 205.7L454.4 209.3L451.3 207.2L448.2 209.3L449.2 205.7L446.4 203.5L450.0 203.3ZM444.6 230.7L445.9 234.2L449.6 234.3L446.7 236.6L447.7 240.1L444.6 238.1L441.6 240.1L442.5 236.6L439.7 234.3L443.3 234.2ZM382.5 221.6a3.1 3.1 0 1 1 6.2 0a3.1 3.1 0 1 1 -6.2 0ZM367.0 247.4L368.2 250.8L371.9 251.0L369.0 253.3L370.0 256.8L367.0 254.8L363.9 256.8L364.9 253.3L362.0 251.0L365.7 250.8ZM309.4 275.4a3.1 3.1 0 1 1 6.2 0a3.1 3.1 0 1 1 -6.2 0ZM475.8 166.1a3.1 3.1 0 1 1 6.2 0a3.1 3.1 0 1 1 -6.2 0ZM478.9 201.7L483.1 205.9L478.9 210.1L474.7 205.9ZM467.6 178.8L468.8 182.3L472.5 182.4L469.6 184.7L470.6 188.2L467.6 186.2L464.5 188.2L465.5 184.7L462.6 182.4L466.3 182.3ZM394.8 204.4L396.1 207.8L399.7 208.0L396.9 210.3L397.9 213.8L394.8 211.8L391.7 213.8L392.7 210.3L389.9 208.0L393.5 207.8ZM507.0 167.7a3.1 3.1 0 1 1 6.2 0a3.1 3.1 0 1 1 -6.2 0ZM438.5 195.7L442.7 199.9L438.5 204.1L434.3 199.9ZM496.1 167.7L497.4 171.2L501.1 171.3L498.2 173.6L499.2 177.1L496.1 175.1L493.1 177.1L494.0 173.6L491.2 171.3L494.8 171.2ZM450.6 189.2L454.8 193.4L450.6 197.6L446.4 193.4ZM419.8 201.5a3.1 3.1 0 1 1 6.2 0a3.1 3.1 0 1 1 -6.2 0ZM406.9 217.6L411.1 221.8L406.9 226.0L402.7 221.8ZM490.1 184.5a3.1 3.1 0 1 1 6.2 0a3.1 3.1 0 1 1 -6.2 0ZM439.3 209.0L443.5 213.2L439.3 217.4L435.1 213.2ZM401.7 212.4L405.9 216.6L401.7 220.8L397.5 216.6ZM328.7 258.5h2.2v3.5h3.5v2.2h-3.5v3.5h-2.2v-3.5h-3.5v-2.2h3.5ZM430.4 200.7L431.7 204.1L435.4 204.2L432.5 206.5L433.5 210.1L430.4 208.0L427.4 210.1L428.4 206.5L425.5 204.2L429.1 204.1ZM385.0 256.8L389.2 261.0L385.0 265.2L380.8 261.0ZM307.5 312.0L311.7 316.2L307.5 320.4L303.3 316.2ZM461.2 208.5L465.4 212.7L461.2 216.9L457.0 212.7ZM461.6 208.9a3.1 3.1 0 1 1 6.2 0a3.1 3.1 0 1 1 -6.2 0ZM508.4 178.9L512.6 183.1L508.4 187.3L504.2 183.1ZM471.0 200.2L472.2 203.6L475.9 203.8L473.0 206.1L474.0 209.6L471.0 207.6L467.9 209.6L468.9 206.1L466.0 203.8L469.7 203.6ZM387.6 230.4a3.1 3.1 0 1 1 6.2 0a3.1 3.1 0 1 1 -6.2 0ZM377.8 239.4a3.1 3.1 0 1 1 6.2 0a3.1 3.1 0 1 1 -6.2 0ZM431.0 219.5L435.2 223.7L431.0 227.9L426.8 223.7ZM525.8 162.7L530.0 166.9L525.8 171.1L521.6 166.9ZM436.4 202.3h2.2v3.5h3.5v2.2h-3.5v3.5h-2.2v-3.5h-3.5v-2.2h3.5ZM432.5 189.1L433.8 192.5L437.4 192.7L434.6 195.0L435.5 198.5L432.5 196.5L429.4 198.5L430.4 195.0L427.5 192.7L431.2 192.5ZM469.1 226.6a3.1 3.1 0 1 1 6.2 0a3.1 3.1 0 1 1 -6.2 0ZM374.6 262.3L378.8 266.5L374.6 270.7L370.4 266.5ZM415.3 232.2L416.6 235.6L420.2 235.8L417.4 238.1L418.3 241.6L415.3 239.6L412.2 241.6L413.2 238.1L410.3 235.8L414.0 235.6ZM497.5 190.9L501.7 195.1L497.5 199.3L493.3 195.1ZM463.2 194.6L464.5 198.0L468.2 198.2L465.3 200.5L466.3 204.0L463.2 202.0L460.2 204.0L461.1 200.5L458.3 198.2L461.9 198.0ZM347.2 249.9L351.4 254.1L347.2 258.3L343.0 254.1ZM437.3 208.7L438.6 212.1L442.2 212.3L439.4 214.6L440.4 218.1L437.3 216.1L434.2 218.1L435.2 214.6L432.3 212.3L436.0 212.1ZM438.4 222.7a3.1 3.1 0 1 1 6.2 0a3.1 3.1 0 1 1 -6.2 0ZM354.8 236.7L359.0 240.9L354.8 245.1L350.6 240.9ZM492.2 199.2h2.2v3.5h3.5v2.2h-3.5v3.5h-2.2v-3.5h-3.5v-2.2h3.5ZM444.8 200.6L449.0 204.8L444.8 209.0L440.6 204.8ZM449.2 222.8L453.4 227.0L449.2 231.2L445.0 227.0ZM445.6 197.1L446.9 200.6L450.6 200.7L447.7 203.0L448.7 206.5L445.6 204.5L442.6 206.5L443.5 203.0L440.7 200.7L444.3 200.6ZM497.5 173.0a3.1 3.1 0 1 1 6.2 0a3.1 3.1 0 1 1 -6.2 0ZM346.0 254.5L347.3 257.9L351.0 258.0L348.1 260.3L349.1 263.9L346.0 261.8L343.0 263.9L344.0 260.3L341.1 258.0L344.8 257.9ZM505.1 158.4L506.4 161.8L510.1 162.0L507.2 164.3L508.2 167.8L505.1 165.8L502.1 167.8L503.0 164.3L500.2 162.0L503.8 161.8ZM360.5 231.5L361.8 234.9L365.5 235.1L362.6 237.3L363.6 240.9L360.5 238.9L357.5 240.9L358.4 237.3L355.6 235.1L359.2 234.9ZM511.3 195.1L515.5 199.3L511.3 203.5L507.1 199.3ZM421.9 207.6a3.1 3.1 0 1 1 6.2 0a3.1 3.1 0 1 1 -6.2 0ZM407.8 208.6L409.1 212.0L412.7 212.2L409.9 214.5L410.8 218.0L407.8 216.0L404.7 218.0L405.7 214.5L402.8 212.2L406.5 212.0ZM408.2 238.3L412.4 242.5L408.2 246.7L404.0 242.5ZM390.6 232.8a3.1 3.1 0 1 1 6.2 0a3.1 3.1 0 1 1 -6.2 0ZM459.0 211.7h2.2v3.5h3.5v2.2h-3.5v3.5h-2.2v-3.5h-3.5v-2.2h3.5ZM405.6 208.0L409.8 212.2L405.6 216.4L401.4 212.2ZM478.6 206.9h2.2v3.5h3.5v2.2h-3.5v3.5h-2.2v-3.5h-3.5v-2.2h3.5ZM455.1 210.6a3.1 3.1 0 1 1 6.2 0a3.1 3.1 0 1 1 -6.2 0ZM520.5 170.1h2.2v3.5h3.5v2.2h-3.5v3.5h-2.2v-3.5h-3.5v-2.2h3.5ZM377.4 261.2L378.7 264.6L382.3 264.7L379.5 267.0L380.4 270.6L377.4 268.5L374.3 270.6L375.3 267.0L372.4 264.7L376.1 264.6ZM446.7 211.8L450.9 216.0L446.7 220.2L442.5 216.0ZM411.1 207.0a3.1 3.1 0 1 1 6.2 0a3.1 3.1 0 1 1 -6.2 0ZM486.2 182.0L490.4 186.2L486.2 190.4L482.0 186.2ZM391.8 236.6h2.2v3.5h3.5v2.2h-3.5v3.5h-2.2v-3.5h-3.5v-2.2h3.5ZM410.9 215.4L412.2 218.8L415.8 219.0L413.0 221.3L413.9 224.8L410.9 222.8L407.8 224.8L408.8 221.3L405.9 219.0L409.6 218.8ZM499.3 176.5a3.1 3.1 0 1 1 6.2 0a3.1 3.1 0 1 1 -6.2 0ZM444.5 180.5a3.1 3.1 0 1 1 6.2 0a3.1 3.1 0 1 1 -6.2 0ZM373.8 266.5a3.1 3.1 0 1 1 6.2 0a3.1 3.1 0 1 1 -6.2 0ZM386.0 237.3L387.3 240.7L391.0 240.9L388.1 243.2L389.1 246.7L386.0 244.7L383.0 246.7L384.0 243.2L381.1 240.9L384.8 240.7ZM334.1 268.7L335.4 272.2L339.0 272.3L336.2 274.6L337.1 278.1L334.1 276.1L331.0 278.1L332.0 274.6L329.1 272.3L332.8 272.2ZM421.7 215.7L425.9 219.9L421.7 224.1L417.5 219.9ZM508.7 185.9a3.1 3.1 0 1 1 6.2 0a3.1 3.1 0 1 1 -6.2 0ZM495.1 182.7L496.3 186.1L500.0 186.3L497.1 188.6L498.1 192.1L495.1 190.1L492.0 192.1L493.0 188.6L490.1 186.3L493.8 186.1ZM514.9 153.9L516.2 157.3L519.8 157.5L517.0 159.7L517.9 163.3L514.9 161.3L511.8 163.3L512.8 159.7L509.9 157.5L513.6 157.3ZM415.9 224.8L420.1 229.0L415.9 233.2L411.7 229.0ZM404.9 216.3L409.1 220.5L404.9 224.7L400.7 220.5ZM364.2 243.3L368.4 247.5L364.2 251.7L360.0 247.5ZM401.4 232.9h2.2v3.5h3.5v2.2h-3.5v3.5h-2.2v-3.5h-3.5v-2.2h3.5ZM465.9 198.9a3.1 3.1 0 1 1 6.2 0a3.1 3.1 0 1 1 -6.2 0ZM310.4 300.7L311.7 304.1L315.3 304.3L312.5 306.5L313.4 310.1L310.4 308.1L307.3 310.1L308.3 306.5L305.4 304.3L309.1 304.1ZM513.4 173.7h2.2v3.5h3.5v2.2h-3.5v3.5h-2.2v-3.5h-3.5v-2.2h3.5ZM520.9 159.1a3.1 3.1 0 1 1 6.2 0a3.1 3.1 0 1 1 -6.2 0ZM421.4 219.9L422.6 223.3L426.3 223.5L423.4 225.8L424.4 229.3L421.4 227.3L418.3 229.3L419.3 225.8L416.4 223.5L420.1 223.3ZM499.8 173.8h2.2v3.5h3.5v2.2h-3.5v3.5h-2.2v-3.5h-3.5v-2.2h3.5ZM426.9 209.3L428.2 212.7L431.9 212.9L429.0 215.2L430.0 218.7L426.9 216.7L423.9 218.7L424.8 215.2L422.0 212.9L425.6 212.7ZM511.9 175.5L513.2 179.0L516.9 179.1L514.0 181.4L515.0 184.9L511.9 182.9L508.9 184.9L509.9 181.4L507.0 179.1L510.6 179.0ZM403.2 223.9L407.4 228.1L403.2 232.3L399.0 228.1ZM472.8 176.8L474.0 180.3L477.7 180.4L474.8 182.7L475.8 186.2L472.8 184.2L469.7 186.2L470.7 182.7L467.8 180.4L471.5 180.3ZM454.5 196.4L458.7 200.6L454.5 204.8L450.3 200.6ZM527.9 145.3L529.1 148.8L532.8 148.9L529.9 151.2L530.9 154.7L527.9 152.7L524.8 154.7L525.8 151.2L522.9 148.9L526.6 148.8ZM553.5 169.8a3.1 3.1 0 1 1 6.2 0a3.1 3.1 0 1 1 -6.2 0ZM545.6 163.9L549.8 168.1L545.6 172.3L541.4 168.1ZM570.2 121.6L574.4 125.8L570.2 130.0L566.0 125.8ZM546.1 150.5L550.3 154.7L546.1 158.9L541.9 154.7ZM566.3 128.1L567.6 131.6L571.3 131.7L568.4 134.0L569.4 137.5L566.3 135.5L563.3 137.5L564.3 134.0L561.4 131.7L565.1 131.6ZM562.4 144.7L563.7 148.1L567.4 148.3L564.5 150.5L565.5 154.1L562.4 152.1L559.4 154.1L560.4 150.5L557.5 148.3L561.1 148.1ZM522.7 191.2L526.9 195.4L522.7 199.6L518.5 195.4ZM567.6 144.6L568.9 148.0L572.6 148.2L569.7 150.5L570.7 154.0L567.6 152.0L564.6 154.0L565.5 150.5L562.7 148.2L566.3 148.0ZM577.5 117.3L578.8 120.7L582.5 120.9L579.6 123.2L580.6 126.7L577.5 124.7L574.5 126.7L575.5 123.2L572.6 120.9L576.3 120.7ZM539.2 187.7a3.1 3.1 0 1 1 6.2 0a3.1 3.1 0 1 1 -6.2 0ZM530.5 150.4L534.7 154.6L530.5 158.8L526.3 154.6ZM565.4 115.7L569.6 119.9L565.4 124.1L561.2 119.9ZM527.6 143.7L531.8 147.9L527.6 152.1L523.4 147.9ZM555.7 121.9L557.0 125.3L560.7 125.5L557.8 127.7L558.8 131.3L555.7 129.3L552.7 131.3L553.6 127.7L550.8 125.5L554.4 125.3ZM532.9 127.8L537.1 132.0L532.9 136.2L528.7 132.0ZM568.8 134.3L570.1 137.7L573.7 137.9L570.9 140.1L571.8 143.7L568.8 141.7L565.7 143.7L566.7 140.1L563.8 137.9L567.5 137.7ZM566.8 152.0L571.0 156.2L566.8 160.4L562.6 156.2ZM520.0 176.3L521.2 179.8L524.9 179.9L522.0 182.2L523.0 185.7L520.0 183.7L516.9 185.7L517.9 182.2L515.0 179.9L518.7 179.8ZM550.2 122.3a3.1 3.1 0 1 1 6.2 0a3.1 3.1 0 1 1 -6.2 0ZM572.3 137.7L576.5 141.9L572.3 146.1L568.1 141.9ZM546.3 126.1L547.6 129.6L551.2 129.7L548.4 132.0L549.3 135.5L546.3 133.5L543.2 135.5L544.2 132.0L541.3 129.7L545.0 129.6ZM523.9 163.1L525.2 166.5L528.8 166.6L525.9 168.9L526.9 172.5L523.9 170.4L520.8 172.5L521.8 168.9L518.9 166.6L522.6 166.5ZM552.3 155.9L553.6 159.3L557.3 159.5L554.4 161.8L555.4 165.3L552.3 163.3L549.3 165.3L550.3 161.8L547.4 159.5L551.1 159.3ZM522.0 140.4L526.2 144.6L522.0 148.8L517.8 144.6ZM567.3 127.9L571.5 132.1L567.3 136.3L563.1 132.1ZM525.2 149.1L529.4 153.3L525.2 157.5L521.0 153.3ZM541.0 155.9L545.2 160.1L541.0 164.3L536.8 160.1ZM552.2 143.4L556.4 147.6L552.2 151.8L548.0 147.6ZM521.9 153.0L523.2 156.5L526.9 156.6L524.0 158.9L525.0 162.4L521.9 160.4L518.9 162.4L519.8 158.9L517.0 156.6L520.6 156.5ZM530.0 158.0a3.1 3.1 0 1 1 6.2 0a3.1 3.1 0 1 1 -6.2 0ZM570.4 121.5h2.2v3.5h3.5v2.2h-3.5v3.5h-2.2v-3.5h-3.5v-2.2h3.5ZM564.1 148.2a3.1 3.1 0 1 1 6.2 0a3.1 3.1 0 1 1 -6.2 0ZM520.5 177.0L524.7 181.2L520.5 185.4L516.3 181.2ZM523.6 168.0L527.8 172.2L523.6 176.4L519.4 172.2ZM525.2 174.8a3.1 3.1 0 1 1 6.2 0a3.1 3.1 0 1 1 -6.2 0ZM548.2 161.2L549.5 164.6L553.2 164.8L550.3 167.1L551.3 170.6L548.2 168.6L545.2 170.6L546.2 167.1L543.3 164.8L547.0 164.6ZM537.2 147.2L541.4 151.4L537.2 155.6L533.0 151.4ZM529.5 138.0L530.8 141.5L534.5 141.6L531.6 143.9L532.6 147.5L529.5 145.4L526.5 147.5L527.5 143.9L524.6 141.6L528.2 141.5ZM524.8 163.6L526.1 167.0L529.8 167.2L526.9 169.5L527.9 173.0L524.8 171.0L521.7 173.0L522.7 169.5L519.9 167.2L523.5 167.0ZM556.0 139.9L560.2 144.1L556.0 148.3L551.8 144.1ZM563.5 154.6L564.8 158.0L568.5 158.2L565.6 160.4L566.6 164.0L563.5 162.0L560.5 164.0L561.5 160.4L558.6 158.2L562.2 158.0ZM534.0 167.1a3.1 3.1 0 1 1 6.2 0a3.1 3.1 0 1 1 -6.2 0ZM524.8 182.3a3.1 3.1 0 1 1 6.2 0a3.1 3.1 0 1 1 -6.2 0ZM541.1 144.2a3.1 3.1 0 1 1 6.2 0a3.1 3.1 0 1 1 -6.2 0Z"/>
<path fill="#e5206f" d="M138.0 370.7L139.3 374.1L142.9 374.3L140.1 376.6L141.1 380.1L138.0 378.1L134.9 380.1L135.9 376.6L133.1 374.3L136.7 374.1Z"/><path fill="#e5206f" d="M142.6 381.3L143.9 384.7L147.5 384.9L144.7 387.2L145.7 390.7L142.6 388.7L139.5 390.7L140.5 387.2L137.7 384.9L141.3 384.7Z"/><path fill="#e5206f" d="M152.8 390.6L154.1 394.0L157.7 394.2L154.9 396.5L155.9 400.0L152.8 398.0L149.7 400.0L150.7 396.5L147.9 394.2L151.5 394.0Z"/><path fill="#e5206f" d="M179.1 349.7L180.4 353.1L184.0 353.3L181.2 355.6L182.2 359.1L179.1 357.1L176.0 359.1L177.0 355.6L174.2 353.3L177.8 353.1Z"/><path fill="#e5206f" d="M166.1 378.6L167.4 382.0L171.0 382.2L168.2 384.5L169.2 388.0L166.1 386.0L163.0 388.0L164.0 384.5L161.2 382.2L164.8 382.0Z"/><path fill="#e5206f" d="M169.2 381.9L170.5 385.3L174.1 385.5L171.3 387.8L172.3 391.3L169.2 389.3L166.1 391.3L167.1 387.8L164.3 385.5L167.9 385.3Z"/><path fill="#e5206f" d="M172.2 385.5L173.5 388.9L177.1 389.1L174.3 391.4L175.3 394.9L172.2 392.9L169.1 394.9L170.1 391.4L167.3 389.1L170.9 388.9Z"/><path fill="#e5206f" d="M192.7 378.6L194.0 382.0L197.6 382.2L194.8 384.5L195.8 388.0L192.7 386.0L189.6 388.0L190.6 384.5L187.8 382.2L191.4 382.0Z"/><path fill="#e5206f" d="M190.0 362.8L191.3 366.2L194.9 366.4L192.1 368.7L193.1 372.2L190.0 370.2L186.9 372.2L187.9 368.7L185.1 366.4L188.7 366.2Z"/><path fill="#e5206f" d="M195.0 360.8L196.3 364.2L199.9 364.4L197.1 366.7L198.1 370.2L195.0 368.2L191.9 370.2L192.9 366.7L190.1 364.4L193.7 364.2Z"/><path fill="#e5206f" d="M199.0 356.8L200.3 360.2L203.9 360.4L201.1 362.7L202.1 366.2L199.0 364.2L195.9 366.2L196.9 362.7L194.1 360.4L197.7 360.2Z"/><path fill="#6487cf" d="M166.5 372.6L167.8 376.0L171.4 376.2L168.6 378.5L169.6 382.0L166.5 380.0L163.4 382.0L164.4 378.5L161.6 376.2L165.2 376.0Z"/><path fill="#6487cf" d="M185.1 368.1L189.3 372.3L185.1 376.5L180.9 372.3Z"/><path fill="#6487cf" d="M441.9 270.5L446.1 274.7L441.9 278.9L437.7 274.7Z"/><path fill="#e5206f" d="M463.7 274.5L467.9 278.7L463.7 282.9L459.5 278.7Z"/><path fill="#e5206f" d="M322.8 330.2L324.1 333.6L327.7 333.8L324.9 336.1L325.9 339.6L322.8 337.6L319.7 339.6L320.7 336.1L317.9 333.8L321.5 333.6Z"/><path fill="#dededc" d="M532.6 228.3L536.8 232.5L532.6 236.7L528.4 232.5Z"/><path fill="#8b8c8c" d="M459.7 155.4L463.9 159.6L459.7 163.8L455.5 159.6Z"/><path fill="#dededc" d="M675.5 59.6L679.7 63.8L675.5 68.0L671.3 63.8Z"/><path fill="#dededc" d="M668.1 71.2L672.3 75.4L668.1 79.6L663.9 75.4Z"/><path fill="#dededc" d="M671.7 111.8L675.9 116.0L671.7 120.2L667.5 116.0Z"/><path fill="#dededc" d="M623.6 79.0L627.8 83.2L623.6 87.4L619.4 83.2Z"/><path fill="#dededc" d="M605.2 86.7L609.4 90.9L605.2 95.1L601.0 90.9Z"/><path fill="#dededc" d="M613.7 88.1L617.9 92.3L613.7 96.5L609.5 92.3Z"/><path fill="#dededc" d="M609.4 106.1L613.6 110.3L609.4 114.5L605.2 110.3Z"/><path fill="#dededc" d="M579.8 101.3L584.0 105.5L579.8 109.7L575.6 105.5Z"/><path fill="#dededc" d="M615.1 120.9L619.3 125.1L615.1 129.3L610.9 125.1Z"/><path fill="#dededc" d="M609.9 137.8L614.1 142.0L609.9 146.2L605.7 142.0Z"/><path fill="#dededc" d="M603.5 137.2L607.7 141.4L603.5 145.6L599.3 141.4Z"/><path fill="#dededc" d="M621.5 86.5L622.8 89.9L626.4 90.1L623.6 92.4L624.6 95.9L621.5 93.9L618.4 95.9L619.4 92.4L616.6 90.1L620.2 89.9Z"/><path fill="#dededc" d="M595.5 91.4L596.8 94.8L600.4 95.0L597.6 97.3L598.6 100.8L595.5 98.8L592.4 100.8L593.4 97.3L590.6 95.0L594.2 94.8Z"/><path fill="#dededc" d="M619.4 107.2L620.7 110.6L624.3 110.8L621.5 113.1L622.5 116.6L619.4 114.6L616.3 116.6L617.3 113.1L614.5 110.8L618.1 110.6Z"/><path fill="#dededc" d="M560.1 107.9L561.4 111.3L565.0 111.5L562.2 113.8L563.2 117.3L560.1 115.3L557.0 117.3L558.0 113.8L555.2 111.5L558.8 111.3Z"/><path fill="#dededc" d="M571.8 110.4L573.1 113.8L576.7 114.0L573.9 116.3L574.9 119.8L571.8 117.8L568.7 119.8L569.7 116.3L566.9 114.0L570.5 113.8Z"/><path fill="#dededc" d="M581.3 105.1L582.6 108.5L586.2 108.7L583.4 111.0L584.4 114.5L581.3 112.5L578.2 114.5L579.2 111.0L576.4 108.7L580.0 108.5Z"/><path fill="#dededc" d="M589.2 110.3a3.1 3.1 0 1 1 6.2 0a3.1 3.1 0 1 1 -6.2 0Z"/><path fill="#8b8c8c" d="M555.9 87.5L560.1 91.7L555.9 95.9L551.7 91.7Z"/><path fill="#8b8c8c" d="M632.1 134.7L636.3 138.9L632.1 143.1L627.9 138.9Z"/><path fill="#8b8c8c" d="M597.6 124.1L601.8 128.3L597.6 132.5L593.4 128.3Z"/><path fill="#8b8c8c" d="M556.9 121.4L561.1 125.6L556.9 129.8L552.7 125.6Z"/><path fill="#8b8c8c" d="M551.0 122.1L552.3 125.5L555.9 125.7L553.1 128.0L554.1 131.5L551.0 129.5L547.9 131.5L548.9 128.0L546.1 125.7L549.7 125.5Z"/><path fill="#8b8c8c" d="M579.8 139.0L581.1 142.4L584.7 142.6L581.9 144.9L582.9 148.4L579.8 146.4L576.7 148.4L577.7 144.9L574.9 142.6L578.5 142.4Z"/><path fill="#8b8c8c" d="M582.4 136.8a3.1 3.1 0 1 1 6.2 0a3.1 3.1 0 1 1 -6.2 0Z"/><path fill="#8b8c8c" d="M584.5 147.8a3.1 3.1 0 1 1 6.2 0a3.1 3.1 0 1 1 -6.2 0Z"/><path fill="#8b8c8c" d="M547.9 140.0a3.1 3.1 0 1 1 6.2 0a3.1 3.1 0 1 1 -6.2 0Z"/>
<!-- axes -->
<g stroke="#231f20" stroke-width="1.9" fill="none">
<path d="M52.5 9H684.2V456.5"/>
<path d="M70.5 9V464"/>
<path d="M52.5 447H684.2"/>
<path d="M61 82H70.5M52.5 155H70.5M61 228H70.5M52.5 301H70.5M61 374H70.5"/>
<path d="M126.25 447V456.5M182 447V464M237.75 447V456.5M293.5 447V464M349.25 447V456.5M405 447V464M460.75 447V456.5M516.5 447V464M572.25 447V456.5M628 447V464"/>
</g>
<g font-size="22.5" text-anchor="end">
<text x="48.3" y="16.8">8</text><text x="48.3" y="162.8">6</text><text x="48.3" y="308.8">4</text><text x="48.3" y="454.8">2</text>
</g>
<g font-size="22.5" text-anchor="middle">
<text x="71.3" y="486">3</text><text x="182.8" y="486">4</text><text x="294.3" y="486">5</text><text x="405.8" y="486">6</text><text x="517.3" y="486">7</text><text x="628.8" y="486">8</text>
</g>
<text x="377.2" y="520" font-size="24" text-anchor="middle">Length (μm)</text>
<text transform="translate(18.8,227.6) rotate(-90)" font-size="24.7" text-anchor="middle">Width (μm)</text>
<!-- legend -->
<g fill="#231f20">
<path d="M100.7 25.8L103.2 32.5L110.4 32.8L104.8 37.3L106.7 44.3L100.7 40.3L94.7 44.3L96.6 37.3L91.0 32.8L98.2 32.5Z"/>
<circle cx="100.7" cy="60.7" r="7.6"/>
<path d="M100.7 76.0L109.7 85.0L100.7 94.0L91.7 85.0Z"/>
<path d="M98.1 102.1h5.2v6.7h6.7v5.2h-6.7v6.7h-5.2v-6.7h-6.7v-5.2h6.7Z"/>
</g>
<g font-size="17.7">
<text x="115" y="42.1">U1509</text>
<text x="116.2" y="67.9">1209</text>
<text x="117" y="93.5">756C</text>
<text x="117.2" y="118.4" letter-spacing="0.25">U1411B</text>
<text x="220.6" y="41.9">N = 3453</text>
<text x="221.2" y="63.6">r<tspan font-size="10.5" dy="-6" dx="0.3">2</tspan><tspan dy="6" dx="2.6">= 0.91</tspan></text>
</g>
<!-- arrow annotation -->
<text transform="translate(194.1,199.6) rotate(-28.7)" font-size="18.3">increase in size</text>
<text transform="translate(186.8,230.6) rotate(-29.2)" font-size="18.3">increase in circularity</text>
<g stroke="#4a4a4a" fill="#4a4a4a">
<line x1="238" y1="225.4" x2="301" y2="189.5" stroke-width="4.3" stroke-linecap="round"/>
<path transform="translate(309,185) rotate(-29.4)" d="M0 0L-14.2 -6.3L-10.5 0L-14.2 6.3Z" stroke="none"/>
</g>
<!-- coccoliths -->
<g fill="none" stroke="#231f20" stroke-width="1.15"><ellipse cx="408.4" cy="93.1" rx="33.6" ry="34.6"/><ellipse cx="408.6" cy="93.7" rx="17.1" ry="17.4"/><ellipse cx="408.6" cy="83.7" rx="3.1" ry="2.6"/><ellipse cx="416.7" cy="89.1" rx="3.1" ry="2.6"/><ellipse cx="416.7" cy="99.9" rx="3.1" ry="2.6"/><ellipse cx="408.6" cy="105.3" rx="3.1" ry="2.6"/><ellipse cx="400.5" cy="99.9" rx="3.1" ry="2.6"/><ellipse cx="400.5" cy="89.1" rx="3.1" ry="2.6"/><path d="M425.6 95.4Q433.6 96.9 442.0 92.1"/><path d="M424.3 100.7Q431.3 104.7 440.7 102.8"/><path d="M421.4 105.3Q426.8 111.4 436.2 112.6"/><path d="M417.2 108.7Q420.5 116.3 429.0 120.5"/><path d="M412.2 110.7Q413.0 119.0 419.7 125.7"/><path d="M406.9 111.0Q405.1 119.2 409.4 127.7"/><path d="M401.7 109.6Q397.5 116.8 399.0 126.3"/><path d="M397.2 106.7Q391.0 112.2 389.5 121.7"/><path d="M393.8 102.5Q386.2 105.7 381.8 114.3"/><path d="M391.9 97.4Q383.6 98.0 376.8 104.8"/><path d="M391.6 92.0Q383.4 89.9 374.8 94.1"/><path d="M392.9 86.7Q385.7 82.1 376.1 83.4"/><path d="M395.8 82.1Q390.2 75.4 380.6 73.6"/><path d="M400.0 78.7Q396.5 70.5 387.8 65.7"/><path d="M405.0 76.7Q404.0 67.8 397.1 60.5"/><path d="M410.3 76.4Q411.9 67.6 407.4 58.5"/><path d="M415.5 77.8Q419.5 70.0 417.8 59.9"/><path d="M420.0 80.7Q426.0 74.6 427.3 64.5"/><path d="M423.4 84.9Q430.8 81.1 435.0 71.9"/><path d="M425.3 90.0Q433.4 88.8 440.0 81.4"/></g>
<g fill="none" stroke="#858585" stroke-width="0.9" stroke-dasharray="3 2.2">
<path d="M374 84V47.8H441.5V57.6"/>
<path d="M414.7 58.3H450V128.2H414.7"/>
</g>
<text x="406.700" y="43.2" font-size="12.7" text-anchor="middle">W</text>
<text x="455.2" y="97.9" font-size="12.7">L</text>
<g fill="none" stroke="#231f20" stroke-width="0.85"><ellipse cx="125.7" cy="285.0" rx="22.4" ry="25.6"/><ellipse cx="125.6" cy="285.6" rx="10.7" ry="12.5"/><ellipse cx="125.6" cy="277.2" rx="2.2" ry="1.8"/><ellipse cx="130.7" cy="281.4" rx="2.2" ry="1.8"/><ellipse cx="130.7" cy="289.8" rx="2.2" ry="1.8"/><ellipse cx="125.6" cy="294.0" rx="2.2" ry="1.8"/><ellipse cx="120.5" cy="289.8" rx="2.2" ry="1.8"/><ellipse cx="120.5" cy="281.4" rx="2.2" ry="1.8"/><path d="M136.2 286.8Q142.0 287.9 148.1 284.2"/><path d="M135.4 290.6Q140.6 293.6 147.2 292.2"/><path d="M133.6 293.9Q137.6 298.5 144.2 299.4"/><path d="M131.0 296.4Q133.5 302.1 139.4 305.3"/><path d="M127.9 297.8Q128.6 304.0 133.3 309.1"/><path d="M124.5 298.0Q123.4 304.2 126.4 310.6"/><path d="M121.3 297.0Q118.5 302.5 119.4 309.6"/><path d="M118.5 294.9Q114.2 299.1 113.1 306.2"/><path d="M116.4 291.9Q111.1 294.3 108.0 300.7"/><path d="M115.1 288.3Q109.4 288.7 104.6 293.6"/><path d="M115.0 284.4Q109.3 282.7 103.3 285.8"/><path d="M115.8 280.6Q110.7 277.0 104.2 277.8"/><path d="M117.6 277.3Q113.7 272.1 107.2 270.6"/><path d="M120.2 274.8Q117.8 268.5 112.0 264.7"/><path d="M123.3 273.4Q122.7 266.6 118.1 260.9"/><path d="M126.7 273.2Q127.9 266.4 125.0 259.4"/><path d="M129.9 274.2Q132.8 268.1 132.0 260.4"/><path d="M132.7 276.3Q137.1 271.5 138.3 263.8"/><path d="M134.8 279.3Q140.2 276.3 143.4 269.3"/><path d="M136.1 282.9Q141.9 281.9 146.8 276.4"/></g>
<g fill="none" stroke="#909090" stroke-width="0.75" stroke-dasharray="2 1.6">
<path d="M103.3 276V251.4H147.8V258.7"/>
<path d="M133.600 259H152.9V310.3H133.600"/>
</g>
<text x="124.7" y="247.8" font-size="10.8" text-anchor="middle">W</text>
<text x="156.4" y="288.6" font-size="10.8">L</text>
<!-- period labels -->
<text x="567.7" y="244.3" font-size="21.4" style="fill:#a9a9a9">Oligocene</text>
<text x="567.7" y="265" font-size="17.5" style="fill:#a9a9a9">(&lt;33.21 Ma)</text>
<text x="482.6" y="301.5" font-size="21.4" style="fill:#6b6b6d">EOGM</text>
<text x="482" y="322.8" font-size="17.5" style="fill:#6b6b6d">(33.67-33.21 Ma)</text>
<text x="363.2" y="366" font-size="21.4" style="fill:#6487cf">EOT</text>
<text x="412.9" y="366" font-size="17.5" style="fill:#6487cf">(34.44-33.67 Ma)</text>
<text x="226.2" y="411.7" font-size="21.4" style="fill:#e5206f">PRE-EOT</text>
<text x="327" y="411.7" font-size="17.5" style="fill:#e5206f">(&gt;34.44 Ma)</text>
</svg>
</body></html>
